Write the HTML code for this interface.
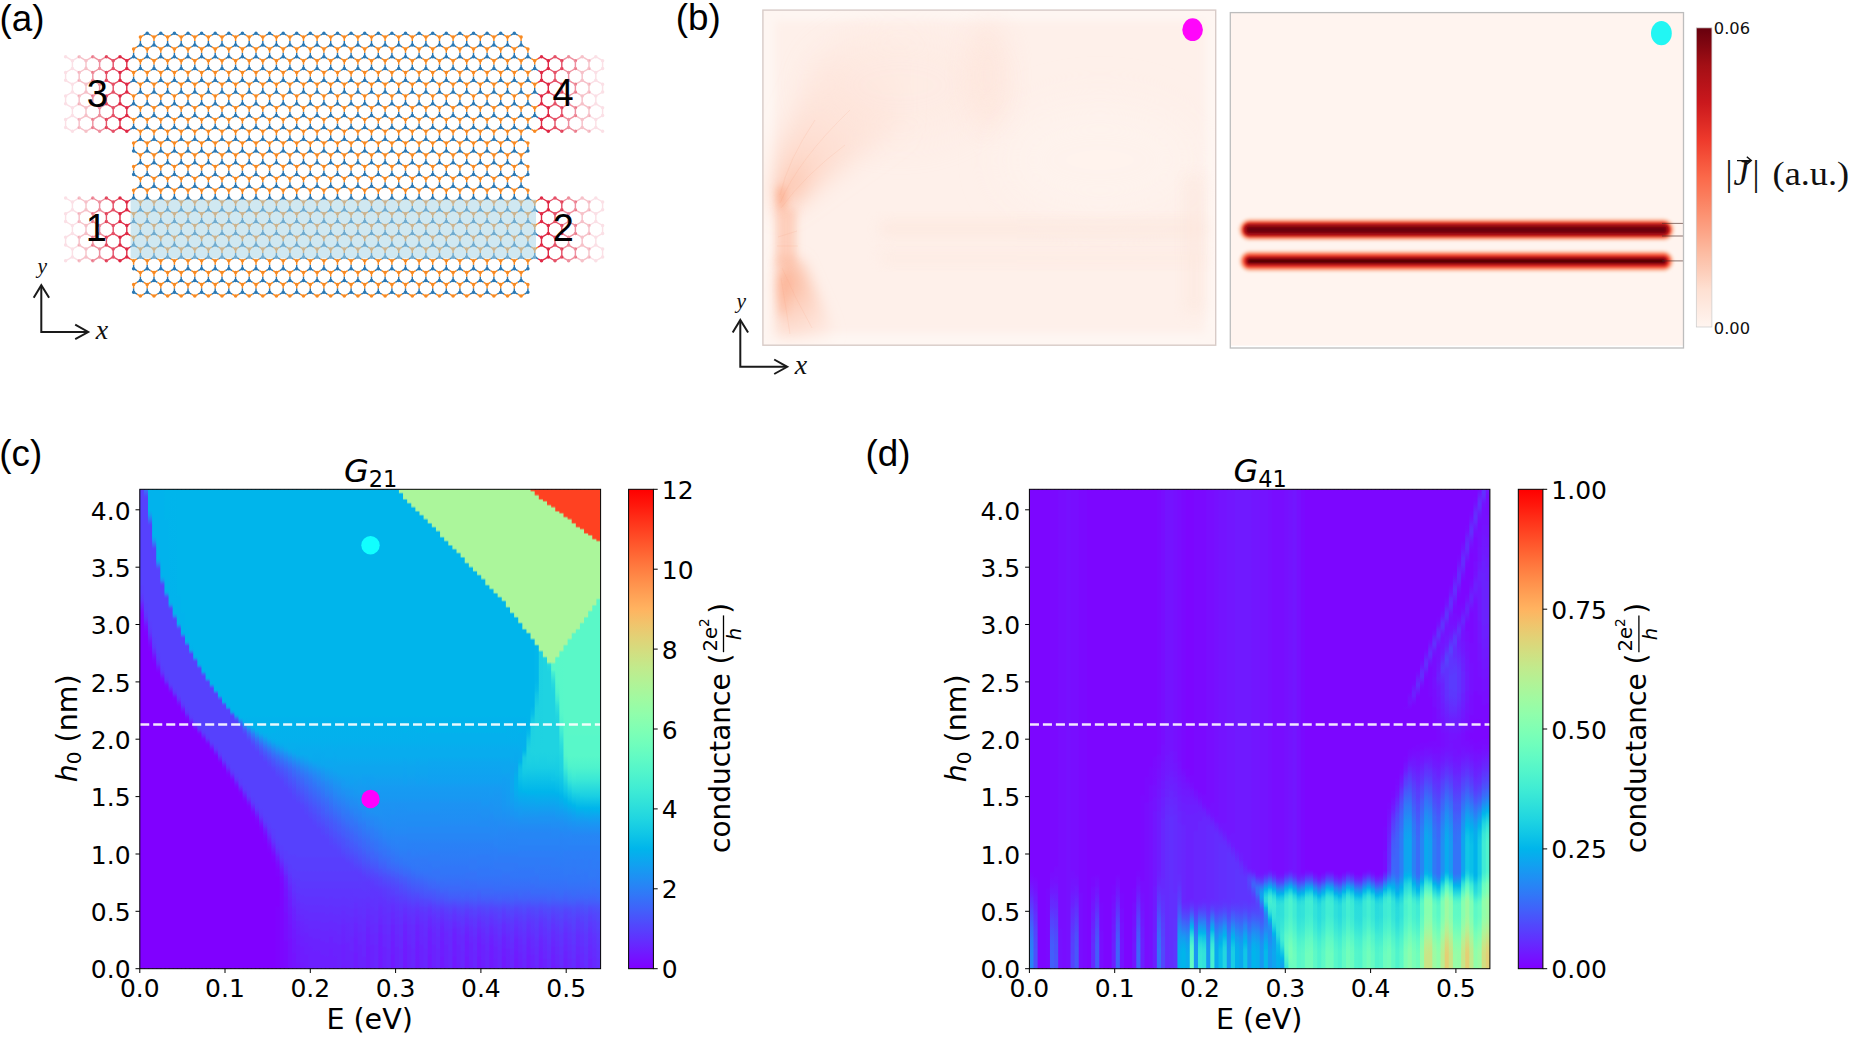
<!DOCTYPE html>
<html><head><meta charset="utf-8"><title>figure</title>
<style>html,body{margin:0;padding:0;background:#fff}svg{display:block}</style></head>
<body><svg width="1851" height="1037" viewBox="0 0 1851 1037">
<defs><filter id="lb" x="0" y="0" width="100%" height="100%" filterUnits="userSpaceOnUse"><feGaussianBlur stdDeviation="0.7"/></filter>
<filter id="bl12" x="-50%" y="-50%" width="200%" height="200%"><feGaussianBlur stdDeviation="12"/></filter>
<filter id="bl7" x="-50%" y="-50%" width="200%" height="200%"><feGaussianBlur stdDeviation="7"/></filter>
<filter id="bl20" x="-50%" y="-50%" width="200%" height="200%"><feGaussianBlur stdDeviation="20"/></filter>
<filter id="bl4" x="-100%" y="-50%" width="300%" height="200%"><feGaussianBlur stdDeviation="4"/></filter>
<radialGradient id="rgA" gradientUnits="userSpaceOnUse" cx="780" cy="200" r="170"><stop offset="0" stop-color="#fc9a74" stop-opacity="0.95"/><stop offset="0.08" stop-color="#fcae8e" stop-opacity="0.8"/><stop offset="0.25" stop-color="#fdc4ad" stop-opacity="0.55"/><stop offset="0.55" stop-color="#fdd3c3" stop-opacity="0.4"/><stop offset="1" stop-color="#fee0d4" stop-opacity="0.15"/></radialGradient>
<radialGradient id="rgB" gradientUnits="userSpaceOnUse" cx="781" cy="282" r="80"><stop offset="0" stop-color="#fca27e" stop-opacity="0.85"/><stop offset="0.3" stop-color="#fcb89c" stop-opacity="0.65"/><stop offset="0.7" stop-color="#fdd0be" stop-opacity="0.4"/><stop offset="1" stop-color="#fee0d4" stop-opacity="0"/></radialGradient>
<filter id="bl1" x="-5%" y="-50%" width="110%" height="200%"><feGaussianBlur stdDeviation="0.9"/></filter>
<clipPath id="clL"><rect x="763.5" y="10.7" width="451.6" height="333.9"/></clipPath>
<linearGradient id="cbReds" x1="0" y1="0" x2="0" y2="1"><stop offset="0" stop-color="#67000d"/><stop offset="0.0625" stop-color="#840711"/><stop offset="0.125" stop-color="#a30f15"/><stop offset="0.1875" stop-color="#b71319"/><stop offset="0.25" stop-color="#ca181d"/><stop offset="0.3125" stop-color="#dc2924"/><stop offset="0.375" stop-color="#ee3a2c"/><stop offset="0.4375" stop-color="#f5523a"/><stop offset="0.5" stop-color="#fb694a"/><stop offset="0.5625" stop-color="#fb7d5d"/><stop offset="0.625" stop-color="#fc9272"/><stop offset="0.6875" stop-color="#fca689"/><stop offset="0.75" stop-color="#fcbba1"/><stop offset="0.8125" stop-color="#fdcdb9"/><stop offset="0.875" stop-color="#fee0d2"/><stop offset="0.9375" stop-color="#feeae1"/><stop offset="1" stop-color="#fff5f0"/></linearGradient>
<linearGradient id="c0" x2="0" y2="1"><stop offset=".002" stop-color="#5641fd"/><stop offset=".198" stop-color="#5641fd"/><stop offset=".202" stop-color="#583efd"/><stop offset=".215" stop-color="#583efd"/><stop offset=".231" stop-color="#6032fe"/><stop offset=".235" stop-color="#642cfe"/><stop offset=".24" stop-color="#6a22fe"/><stop offset=".256" stop-color="#7a09ff"/><stop offset=".265" stop-color="#7e03ff"/><stop offset=".269" stop-color="#7e03ff"/><stop offset=".273" stop-color="#8000ff"/><stop offset=".998" stop-color="#8000ff"/></linearGradient><linearGradient id="c1" x2="0" y2="1"><stop offset=".002" stop-color="#3670f8"/><stop offset=".015" stop-color="#5247fc"/><stop offset=".019" stop-color="#5641fd"/><stop offset=".235" stop-color="#5641fd"/><stop offset=".24" stop-color="#583efd"/><stop offset=".252" stop-color="#583efd"/><stop offset=".265" stop-color="#5e35fe"/><stop offset=".273" stop-color="#6629fe"/><stop offset=".285" stop-color="#7610ff"/><stop offset=".298" stop-color="#7e03ff"/><stop offset=".302" stop-color="#7e03ff"/><stop offset=".306" stop-color="#8000ff"/><stop offset=".998" stop-color="#8000ff"/></linearGradient><linearGradient id="c2" x2="0" y2="1"><stop offset=".002" stop-color="#01b3ec"/><stop offset=".044" stop-color="#01b3ec"/><stop offset=".052" stop-color="#10a2f0"/><stop offset=".056" stop-color="#1c93f3"/><stop offset=".069" stop-color="#4659fb"/><stop offset=".073" stop-color="#5247fc"/><stop offset=".077" stop-color="#5641fd"/><stop offset=".273" stop-color="#5641fd"/><stop offset=".277" stop-color="#583efd"/><stop offset=".285" stop-color="#583efd"/><stop offset=".298" stop-color="#5e35fe"/><stop offset=".306" stop-color="#6629fe"/><stop offset=".319" stop-color="#7610ff"/><stop offset=".331" stop-color="#7e03ff"/><stop offset=".335" stop-color="#7e03ff"/><stop offset=".34" stop-color="#8000ff"/><stop offset=".998" stop-color="#8000ff"/></linearGradient><linearGradient id="c3" x2="0" y2="1"><stop offset=".002" stop-color="#01b3ec"/><stop offset=".094" stop-color="#01b3ec"/><stop offset=".098" stop-color="#04b0ed"/><stop offset=".102" stop-color="#09a9ee"/><stop offset=".106" stop-color="#169bf2"/><stop offset=".11" stop-color="#2489f5"/><stop offset=".123" stop-color="#5247fc"/><stop offset=".127" stop-color="#5641fd"/><stop offset=".306" stop-color="#5641fd"/><stop offset=".31" stop-color="#583efd"/><stop offset=".319" stop-color="#583efd"/><stop offset=".331" stop-color="#5e35fe"/><stop offset=".335" stop-color="#642cfe"/><stop offset=".34" stop-color="#6826fe"/><stop offset=".348" stop-color="#7413ff"/><stop offset=".356" stop-color="#7c06ff"/><stop offset=".365" stop-color="#8000ff"/><stop offset=".998" stop-color="#8000ff"/></linearGradient><linearGradient id="c4" x2="0" y2="1"><stop offset=".002" stop-color="#01b3ec"/><stop offset=".144" stop-color="#01b3ec"/><stop offset=".148" stop-color="#09a9ee"/><stop offset=".152" stop-color="#1898f2"/><stop offset=".156" stop-color="#2981f6"/><stop offset=".165" stop-color="#504afc"/><stop offset=".169" stop-color="#5641fd"/><stop offset=".34" stop-color="#5641fd"/><stop offset=".344" stop-color="#583efd"/><stop offset=".348" stop-color="#583efd"/><stop offset=".356" stop-color="#5c38fd"/><stop offset=".36" stop-color="#6032fe"/><stop offset=".365" stop-color="#6629fe"/><stop offset=".369" stop-color="#6e1cff"/><stop offset=".377" stop-color="#7a09ff"/><stop offset=".381" stop-color="#7e03ff"/><stop offset=".385" stop-color="#8000ff"/><stop offset=".998" stop-color="#8000ff"/></linearGradient><linearGradient id="c5" x2="0" y2="1"><stop offset=".002" stop-color="#01b3ec"/><stop offset=".181" stop-color="#01b3ec"/><stop offset=".185" stop-color="#0ca7ef"/><stop offset=".19" stop-color="#1e91f3"/><stop offset=".198" stop-color="#4e4dfc"/><stop offset=".202" stop-color="#5641fd"/><stop offset=".365" stop-color="#5641fd"/><stop offset=".377" stop-color="#5a3bfd"/><stop offset=".381" stop-color="#5e35fe"/><stop offset=".385" stop-color="#642cfe"/><stop offset=".394" stop-color="#780dff"/><stop offset=".402" stop-color="#8000ff"/><stop offset=".998" stop-color="#8000ff"/></linearGradient><linearGradient id="c6" x2="0" y2="1"><stop offset=".002" stop-color="#00b5eb"/><stop offset=".06" stop-color="#00b5eb"/><stop offset=".065" stop-color="#01b3ec"/><stop offset=".21" stop-color="#01b3ec"/><stop offset=".215" stop-color="#0ca7ef"/><stop offset=".219" stop-color="#2686f5"/><stop offset=".223" stop-color="#445cfb"/><stop offset=".227" stop-color="#5641fd"/><stop offset=".385" stop-color="#5641fd"/><stop offset=".394" stop-color="#5a3bfd"/><stop offset=".398" stop-color="#5e35fe"/><stop offset=".402" stop-color="#6629fe"/><stop offset=".406" stop-color="#7413ff"/><stop offset=".41" stop-color="#7c06ff"/><stop offset=".415" stop-color="#8000ff"/><stop offset=".998" stop-color="#8000ff"/></linearGradient><linearGradient id="c7" x2="0" y2="1"><stop offset=".002" stop-color="#00b5eb"/><stop offset=".235" stop-color="#01b3ec"/><stop offset=".24" stop-color="#10a2f0"/><stop offset=".244" stop-color="#2e7bf7"/><stop offset=".248" stop-color="#4e4dfc"/><stop offset=".252" stop-color="#5641fd"/><stop offset=".402" stop-color="#5641fd"/><stop offset=".406" stop-color="#583efd"/><stop offset=".41" stop-color="#5c38fd"/><stop offset=".423" stop-color="#7c06ff"/><stop offset=".427" stop-color="#8000ff"/><stop offset=".998" stop-color="#8000ff"/></linearGradient><linearGradient id="c8" x2="0" y2="1"><stop offset=".002" stop-color="#00b5eb"/><stop offset=".256" stop-color="#01b3ec"/><stop offset=".26" stop-color="#08acee"/><stop offset=".265" stop-color="#2489f5"/><stop offset=".269" stop-color="#4856fb"/><stop offset=".273" stop-color="#5641fd"/><stop offset=".415" stop-color="#5641fd"/><stop offset=".419" stop-color="#583efd"/><stop offset=".423" stop-color="#5c38fd"/><stop offset=".427" stop-color="#642cfe"/><stop offset=".431" stop-color="#7216ff"/><stop offset=".435" stop-color="#7c06ff"/><stop offset=".44" stop-color="#8000ff"/><stop offset=".998" stop-color="#8000ff"/></linearGradient><linearGradient id="c9" x2="0" y2="1"><stop offset=".002" stop-color="#00b5eb"/><stop offset=".219" stop-color="#00b5eb"/><stop offset=".223" stop-color="#01b3ec"/><stop offset=".277" stop-color="#01b3ec"/><stop offset=".281" stop-color="#08acee"/><stop offset=".285" stop-color="#2686f5"/><stop offset=".29" stop-color="#4c50fc"/><stop offset=".294" stop-color="#5641fd"/><stop offset=".427" stop-color="#5641fd"/><stop offset=".431" stop-color="#583efd"/><stop offset=".435" stop-color="#5c38fd"/><stop offset=".44" stop-color="#642cfe"/><stop offset=".444" stop-color="#7019ff"/><stop offset=".448" stop-color="#780dff"/><stop offset=".452" stop-color="#7e03ff"/><stop offset=".456" stop-color="#8000ff"/><stop offset=".998" stop-color="#8000ff"/></linearGradient><linearGradient id="c10" x2="0" y2="1"><stop offset=".002" stop-color="#00b5eb"/><stop offset=".256" stop-color="#00b5eb"/><stop offset=".26" stop-color="#01b3ec"/><stop offset=".298" stop-color="#01b3ec"/><stop offset=".302" stop-color="#10a2f0"/><stop offset=".306" stop-color="#386df9"/><stop offset=".31" stop-color="#5641fd"/><stop offset=".44" stop-color="#5641fd"/><stop offset=".448" stop-color="#5a3bfd"/><stop offset=".452" stop-color="#6032fe"/><stop offset=".46" stop-color="#7413ff"/><stop offset=".465" stop-color="#7c06ff"/><stop offset=".469" stop-color="#8000ff"/><stop offset=".998" stop-color="#8000ff"/></linearGradient><linearGradient id="c11" x2="0" y2="1"><stop offset=".002" stop-color="#00b5eb"/><stop offset=".29" stop-color="#00b5eb"/><stop offset=".294" stop-color="#01b3ec"/><stop offset=".315" stop-color="#01b3ec"/><stop offset=".319" stop-color="#09a9ee"/><stop offset=".323" stop-color="#2e7bf7"/><stop offset=".327" stop-color="#5641fd"/><stop offset=".452" stop-color="#5641fd"/><stop offset=".456" stop-color="#583efd"/><stop offset=".46" stop-color="#583efd"/><stop offset=".465" stop-color="#5c38fd"/><stop offset=".469" stop-color="#642cfe"/><stop offset=".473" stop-color="#7216ff"/><stop offset=".477" stop-color="#7a09ff"/><stop offset=".481" stop-color="#7e03ff"/><stop offset=".485" stop-color="#8000ff"/><stop offset=".998" stop-color="#8000ff"/></linearGradient><linearGradient id="c12" x2="0" y2="1"><stop offset=".002" stop-color="#00b5eb"/><stop offset=".323" stop-color="#00b5eb"/><stop offset=".331" stop-color="#01b3ec"/><stop offset=".335" stop-color="#08acee"/><stop offset=".34" stop-color="#3176f8"/><stop offset=".344" stop-color="#5641fd"/><stop offset=".469" stop-color="#5641fd"/><stop offset=".477" stop-color="#5a3bfd"/><stop offset=".481" stop-color="#642cfe"/><stop offset=".49" stop-color="#7c06ff"/><stop offset=".494" stop-color="#8000ff"/><stop offset=".998" stop-color="#8000ff"/></linearGradient><linearGradient id="c13" x2="0" y2="1"><stop offset=".002" stop-color="#00b5eb"/><stop offset=".348" stop-color="#00b5eb"/><stop offset=".352" stop-color="#10a2f0"/><stop offset=".356" stop-color="#3e65fa"/><stop offset=".36" stop-color="#5641fd"/><stop offset=".481" stop-color="#5641fd"/><stop offset=".485" stop-color="#583efd"/><stop offset=".49" stop-color="#5c38fd"/><stop offset=".494" stop-color="#6826fe"/><stop offset=".498" stop-color="#7610ff"/><stop offset=".502" stop-color="#7e03ff"/><stop offset=".506" stop-color="#8000ff"/><stop offset=".998" stop-color="#8000ff"/></linearGradient><linearGradient id="c14" x2="0" y2="1"><stop offset=".002" stop-color="#00b5eb"/><stop offset=".36" stop-color="#00b5eb"/><stop offset=".365" stop-color="#01b3ec"/><stop offset=".369" stop-color="#208ef4"/><stop offset=".373" stop-color="#504afc"/><stop offset=".377" stop-color="#5641fd"/><stop offset=".494" stop-color="#5641fd"/><stop offset=".498" stop-color="#5a3bfd"/><stop offset=".502" stop-color="#6032fe"/><stop offset=".506" stop-color="#7019ff"/><stop offset=".51" stop-color="#7c06ff"/><stop offset=".515" stop-color="#8000ff"/><stop offset=".998" stop-color="#8000ff"/></linearGradient><linearGradient id="c15" x2="0" y2="1"><stop offset=".002" stop-color="#00b5eb"/><stop offset=".377" stop-color="#00b5eb"/><stop offset=".381" stop-color="#09a9ee"/><stop offset=".385" stop-color="#396bf9"/><stop offset=".39" stop-color="#5641fd"/><stop offset=".502" stop-color="#5641fd"/><stop offset=".506" stop-color="#583efd"/><stop offset=".51" stop-color="#5e35fe"/><stop offset=".515" stop-color="#6a22fe"/><stop offset=".519" stop-color="#780dff"/><stop offset=".523" stop-color="#7e03ff"/><stop offset=".527" stop-color="#8000ff"/><stop offset=".998" stop-color="#8000ff"/></linearGradient><linearGradient id="c16" x2="0" y2="1"><stop offset=".002" stop-color="#00b5eb"/><stop offset=".39" stop-color="#00b5eb"/><stop offset=".394" stop-color="#01b3ec"/><stop offset=".398" stop-color="#2c7ef7"/><stop offset=".402" stop-color="#5641fd"/><stop offset=".51" stop-color="#5641fd"/><stop offset=".519" stop-color="#5a3bfd"/><stop offset=".523" stop-color="#642cfe"/><stop offset=".527" stop-color="#7216ff"/><stop offset=".531" stop-color="#7c06ff"/><stop offset=".535" stop-color="#8000ff"/><stop offset=".998" stop-color="#8000ff"/></linearGradient><linearGradient id="c17" x2="0" y2="1"><stop offset=".002" stop-color="#00b5eb"/><stop offset=".402" stop-color="#00b5eb"/><stop offset=".406" stop-color="#01b3ec"/><stop offset=".41" stop-color="#2981f6"/><stop offset=".415" stop-color="#5641fd"/><stop offset=".523" stop-color="#5641fd"/><stop offset=".527" stop-color="#583efd"/><stop offset=".531" stop-color="#5c38fd"/><stop offset=".54" stop-color="#7413ff"/><stop offset=".544" stop-color="#7c06ff"/><stop offset=".548" stop-color="#8000ff"/><stop offset=".998" stop-color="#8000ff"/></linearGradient><linearGradient id="c18" x2="0" y2="1"><stop offset=".002" stop-color="#00b5eb"/><stop offset=".415" stop-color="#00b5eb"/><stop offset=".419" stop-color="#01b3ec"/><stop offset=".423" stop-color="#2e7bf7"/><stop offset=".427" stop-color="#5641fd"/><stop offset=".531" stop-color="#5641fd"/><stop offset=".54" stop-color="#5a3bfd"/><stop offset=".544" stop-color="#6032fe"/><stop offset=".548" stop-color="#6a22fe"/><stop offset=".552" stop-color="#7610ff"/><stop offset=".556" stop-color="#7e03ff"/><stop offset=".56" stop-color="#8000ff"/><stop offset=".998" stop-color="#8000ff"/></linearGradient><linearGradient id="c19" x2="0" y2="1"><stop offset=".002" stop-color="#00b5eb"/><stop offset=".427" stop-color="#00b5eb"/><stop offset=".431" stop-color="#04b0ed"/><stop offset=".435" stop-color="#3670f8"/><stop offset=".44" stop-color="#5641fd"/><stop offset=".544" stop-color="#5641fd"/><stop offset=".552" stop-color="#5a3bfd"/><stop offset=".556" stop-color="#6032fe"/><stop offset=".565" stop-color="#7610ff"/><stop offset=".569" stop-color="#7e03ff"/><stop offset=".573" stop-color="#8000ff"/><stop offset=".998" stop-color="#8000ff"/></linearGradient><linearGradient id="c20" x2="0" y2="1"><stop offset=".002" stop-color="#00b5eb"/><stop offset=".44" stop-color="#00b5eb"/><stop offset=".444" stop-color="#08acee"/><stop offset=".448" stop-color="#4062fa"/><stop offset=".452" stop-color="#5641fd"/><stop offset=".556" stop-color="#5641fd"/><stop offset=".565" stop-color="#5a3bfd"/><stop offset=".569" stop-color="#622ffe"/><stop offset=".577" stop-color="#7610ff"/><stop offset=".581" stop-color="#7c06ff"/><stop offset=".585" stop-color="#8000ff"/><stop offset=".998" stop-color="#8000ff"/></linearGradient><linearGradient id="c21" x2="0" y2="1"><stop offset=".002" stop-color="#00b5eb"/><stop offset=".452" stop-color="#00b5eb"/><stop offset=".456" stop-color="#1996f3"/><stop offset=".46" stop-color="#5444fd"/><stop offset=".465" stop-color="#5641fd"/><stop offset=".569" stop-color="#5641fd"/><stop offset=".573" stop-color="#583efd"/><stop offset=".577" stop-color="#5c38fd"/><stop offset=".581" stop-color="#622ffe"/><stop offset=".59" stop-color="#7610ff"/><stop offset=".594" stop-color="#7c06ff"/><stop offset=".602" stop-color="#8000ff"/><stop offset=".998" stop-color="#8000ff"/></linearGradient><linearGradient id="c22" x2="0" y2="1"><stop offset=".002" stop-color="#00b5eb"/><stop offset=".46" stop-color="#00b5eb"/><stop offset=".465" stop-color="#11a0f1"/><stop offset=".469" stop-color="#3e65fa"/><stop offset=".473" stop-color="#5641fd"/><stop offset=".581" stop-color="#5641fd"/><stop offset=".585" stop-color="#583efd"/><stop offset=".59" stop-color="#5c38fd"/><stop offset=".594" stop-color="#622ffe"/><stop offset=".598" stop-color="#6c1fff"/><stop offset=".606" stop-color="#7c06ff"/><stop offset=".615" stop-color="#8000ff"/><stop offset=".998" stop-color="#8000ff"/></linearGradient><linearGradient id="c23" x2="0" y2="1"><stop offset=".002" stop-color="#00b5eb"/><stop offset=".469" stop-color="#00b5eb"/><stop offset=".473" stop-color="#149df1"/><stop offset=".477" stop-color="#3473f8"/><stop offset=".481" stop-color="#4c50fc"/><stop offset=".485" stop-color="#5641fd"/><stop offset=".59" stop-color="#5641fd"/><stop offset=".594" stop-color="#583efd"/><stop offset=".598" stop-color="#583efd"/><stop offset=".606" stop-color="#6032fe"/><stop offset=".615" stop-color="#7413ff"/><stop offset=".619" stop-color="#7a09ff"/><stop offset=".623" stop-color="#7e03ff"/><stop offset=".627" stop-color="#8000ff"/><stop offset=".998" stop-color="#8000ff"/></linearGradient><linearGradient id="c24" x2="0" y2="1"><stop offset=".002" stop-color="#00b5eb"/><stop offset=".473" stop-color="#00b5eb"/><stop offset=".477" stop-color="#01b3ec"/><stop offset=".481" stop-color="#149df1"/><stop offset=".485" stop-color="#2c7ef7"/><stop offset=".49" stop-color="#4062fa"/><stop offset=".494" stop-color="#4e4dfc"/><stop offset=".498" stop-color="#5641fd"/><stop offset=".602" stop-color="#5641fd"/><stop offset=".606" stop-color="#583efd"/><stop offset=".61" stop-color="#583efd"/><stop offset=".615" stop-color="#5a3bfd"/><stop offset=".619" stop-color="#6032fe"/><stop offset=".631" stop-color="#7a09ff"/><stop offset=".635" stop-color="#7e03ff"/><stop offset=".64" stop-color="#8000ff"/><stop offset=".998" stop-color="#8000ff"/></linearGradient><linearGradient id="c25" x2="0" y2="1"><stop offset=".002" stop-color="#00b5eb"/><stop offset=".473" stop-color="#00b5eb"/><stop offset=".485" stop-color="#04b0ed"/><stop offset=".49" stop-color="#169bf2"/><stop offset=".494" stop-color="#2981f6"/><stop offset=".498" stop-color="#396bf9"/><stop offset=".502" stop-color="#4659fb"/><stop offset=".51" stop-color="#5444fd"/><stop offset=".515" stop-color="#5641fd"/><stop offset=".615" stop-color="#5641fd"/><stop offset=".619" stop-color="#583efd"/><stop offset=".623" stop-color="#583efd"/><stop offset=".627" stop-color="#5a3bfd"/><stop offset=".631" stop-color="#6032fe"/><stop offset=".644" stop-color="#780dff"/><stop offset=".648" stop-color="#7c06ff"/><stop offset=".656" stop-color="#8000ff"/><stop offset=".998" stop-color="#8000ff"/></linearGradient><linearGradient id="c26" x2="0" y2="1"><stop offset=".002" stop-color="#00b5eb"/><stop offset=".473" stop-color="#00b5eb"/><stop offset=".477" stop-color="#01b3ec"/><stop offset=".49" stop-color="#01b3ec"/><stop offset=".494" stop-color="#09a9ee"/><stop offset=".502" stop-color="#2981f6"/><stop offset=".51" stop-color="#4062fa"/><stop offset=".515" stop-color="#4856fb"/><stop offset=".523" stop-color="#5444fd"/><stop offset=".527" stop-color="#5641fd"/><stop offset=".627" stop-color="#5641fd"/><stop offset=".631" stop-color="#583efd"/><stop offset=".635" stop-color="#583efd"/><stop offset=".64" stop-color="#5a3bfd"/><stop offset=".648" stop-color="#6629fe"/><stop offset=".652" stop-color="#7019ff"/><stop offset=".66" stop-color="#7c06ff"/><stop offset=".669" stop-color="#8000ff"/><stop offset=".998" stop-color="#8000ff"/></linearGradient><linearGradient id="c27" x2="0" y2="1"><stop offset=".002" stop-color="#00b5eb"/><stop offset=".473" stop-color="#00b5eb"/><stop offset=".477" stop-color="#01b3ec"/><stop offset=".494" stop-color="#01b3ec"/><stop offset=".498" stop-color="#06aeed"/><stop offset=".506" stop-color="#1e91f3"/><stop offset=".51" stop-color="#2c7ef7"/><stop offset=".515" stop-color="#3670f8"/><stop offset=".523" stop-color="#4659fb"/><stop offset=".527" stop-color="#4c50fc"/><stop offset=".535" stop-color="#5444fd"/><stop offset=".54" stop-color="#5641fd"/><stop offset=".64" stop-color="#5641fd"/><stop offset=".644" stop-color="#583efd"/><stop offset=".648" stop-color="#583efd"/><stop offset=".652" stop-color="#5a3bfd"/><stop offset=".656" stop-color="#5e35fe"/><stop offset=".665" stop-color="#6e1cff"/><stop offset=".673" stop-color="#7a09ff"/><stop offset=".685" stop-color="#8000ff"/><stop offset=".998" stop-color="#8000ff"/></linearGradient><linearGradient id="c28" x2="0" y2="1"><stop offset=".002" stop-color="#00b5eb"/><stop offset=".473" stop-color="#00b5eb"/><stop offset=".477" stop-color="#01b3ec"/><stop offset=".498" stop-color="#01b3ec"/><stop offset=".502" stop-color="#04b0ed"/><stop offset=".506" stop-color="#0ca7ef"/><stop offset=".515" stop-color="#218cf4"/><stop offset=".519" stop-color="#2e7bf7"/><stop offset=".527" stop-color="#3e65fa"/><stop offset=".535" stop-color="#4a53fb"/><stop offset=".548" stop-color="#5641fd"/><stop offset=".652" stop-color="#5641fd"/><stop offset=".656" stop-color="#583efd"/><stop offset=".66" stop-color="#583efd"/><stop offset=".665" stop-color="#5a3bfd"/><stop offset=".669" stop-color="#5e35fe"/><stop offset=".677" stop-color="#6a22fe"/><stop offset=".681" stop-color="#7216ff"/><stop offset=".685" stop-color="#780dff"/><stop offset=".69" stop-color="#7c06ff"/><stop offset=".702" stop-color="#8000ff"/><stop offset=".998" stop-color="#8000ff"/></linearGradient><linearGradient id="c29" x2="0" y2="1"><stop offset=".002" stop-color="#00b5eb"/><stop offset=".473" stop-color="#00b5eb"/><stop offset=".477" stop-color="#01b3ec"/><stop offset=".502" stop-color="#01b3ec"/><stop offset=".51" stop-color="#08acee"/><stop offset=".523" stop-color="#2686f5"/><stop offset=".535" stop-color="#3e65fa"/><stop offset=".548" stop-color="#4e4dfc"/><stop offset=".552" stop-color="#504afc"/><stop offset=".556" stop-color="#5444fd"/><stop offset=".56" stop-color="#5641fd"/><stop offset=".665" stop-color="#5641fd"/><stop offset=".669" stop-color="#583efd"/><stop offset=".673" stop-color="#583efd"/><stop offset=".681" stop-color="#5c38fd"/><stop offset=".685" stop-color="#6032fe"/><stop offset=".698" stop-color="#7413ff"/><stop offset=".706" stop-color="#7c06ff"/><stop offset=".719" stop-color="#8000ff"/><stop offset=".998" stop-color="#8000ff"/></linearGradient><linearGradient id="c30" x2="0" y2="1"><stop offset=".002" stop-color="#00b5eb"/><stop offset=".473" stop-color="#00b5eb"/><stop offset=".477" stop-color="#01b3ec"/><stop offset=".506" stop-color="#01b3ec"/><stop offset=".515" stop-color="#08acee"/><stop offset=".527" stop-color="#208ef4"/><stop offset=".54" stop-color="#386df9"/><stop offset=".548" stop-color="#445cfb"/><stop offset=".56" stop-color="#504afc"/><stop offset=".565" stop-color="#5247fc"/><stop offset=".569" stop-color="#5641fd"/><stop offset=".681" stop-color="#5641fd"/><stop offset=".685" stop-color="#583efd"/><stop offset=".69" stop-color="#583efd"/><stop offset=".694" stop-color="#5a3bfd"/><stop offset=".702" stop-color="#622ffe"/><stop offset=".71" stop-color="#6e1cff"/><stop offset=".723" stop-color="#7a09ff"/><stop offset=".731" stop-color="#7e03ff"/><stop offset=".735" stop-color="#7e03ff"/><stop offset=".74" stop-color="#8000ff"/><stop offset=".998" stop-color="#8000ff"/></linearGradient><linearGradient id="c31" x2="0" y2="1"><stop offset=".002" stop-color="#00b5eb"/><stop offset=".473" stop-color="#00b5eb"/><stop offset=".477" stop-color="#01b3ec"/><stop offset=".506" stop-color="#01b3ec"/><stop offset=".519" stop-color="#06aeed"/><stop offset=".523" stop-color="#0ca7ef"/><stop offset=".544" stop-color="#3473f8"/><stop offset=".552" stop-color="#4062fa"/><stop offset=".569" stop-color="#504afc"/><stop offset=".581" stop-color="#5641fd"/><stop offset=".694" stop-color="#5641fd"/><stop offset=".698" stop-color="#583efd"/><stop offset=".702" stop-color="#583efd"/><stop offset=".715" stop-color="#5e35fe"/><stop offset=".74" stop-color="#780dff"/><stop offset=".752" stop-color="#7e03ff"/><stop offset=".756" stop-color="#7e03ff"/><stop offset=".76" stop-color="#8000ff"/><stop offset=".998" stop-color="#8000ff"/></linearGradient><linearGradient id="c32" x2="0" y2="1"><stop offset=".002" stop-color="#00b5eb"/><stop offset=".473" stop-color="#00b5eb"/><stop offset=".477" stop-color="#01b3ec"/><stop offset=".506" stop-color="#01b3ec"/><stop offset=".51" stop-color="#04b0ed"/><stop offset=".519" stop-color="#04b0ed"/><stop offset=".527" stop-color="#09a9ee"/><stop offset=".548" stop-color="#3079f7"/><stop offset=".565" stop-color="#4659fb"/><stop offset=".577" stop-color="#4e4dfc"/><stop offset=".581" stop-color="#5247fc"/><stop offset=".59" stop-color="#5641fd"/><stop offset=".706" stop-color="#5641fd"/><stop offset=".71" stop-color="#583efd"/><stop offset=".719" stop-color="#583efd"/><stop offset=".723" stop-color="#5a3bfd"/><stop offset=".727" stop-color="#5a3bfd"/><stop offset=".731" stop-color="#5e35fe"/><stop offset=".735" stop-color="#6032fe"/><stop offset=".756" stop-color="#7610ff"/><stop offset=".76" stop-color="#780dff"/><stop offset=".765" stop-color="#7c06ff"/><stop offset=".777" stop-color="#7e03ff"/><stop offset=".781" stop-color="#8000ff"/><stop offset=".998" stop-color="#8000ff"/></linearGradient><linearGradient id="c33" x2="0" y2="1"><stop offset=".002" stop-color="#00b5eb"/><stop offset=".473" stop-color="#00b5eb"/><stop offset=".477" stop-color="#01b3ec"/><stop offset=".523" stop-color="#04b0ed"/><stop offset=".531" stop-color="#09a9ee"/><stop offset=".535" stop-color="#10a2f0"/><stop offset=".552" stop-color="#2c7ef7"/><stop offset=".556" stop-color="#3473f8"/><stop offset=".565" stop-color="#3e65fa"/><stop offset=".581" stop-color="#4c50fc"/><stop offset=".602" stop-color="#5641fd"/><stop offset=".727" stop-color="#5641fd"/><stop offset=".748" stop-color="#5c38fd"/><stop offset=".752" stop-color="#6032fe"/><stop offset=".756" stop-color="#622ffe"/><stop offset=".769" stop-color="#7019ff"/><stop offset=".773" stop-color="#7216ff"/><stop offset=".777" stop-color="#7610ff"/><stop offset=".794" stop-color="#7e03ff"/><stop offset=".806" stop-color="#7e03ff"/><stop offset=".81" stop-color="#8000ff"/><stop offset=".869" stop-color="#8000ff"/><stop offset=".873" stop-color="#7e03ff"/><stop offset=".998" stop-color="#7e03ff"/></linearGradient><linearGradient id="c34" x2="0" y2="1"><stop offset=".002" stop-color="#00b5eb"/><stop offset=".473" stop-color="#00b5eb"/><stop offset=".477" stop-color="#01b3ec"/><stop offset=".527" stop-color="#04b0ed"/><stop offset=".535" stop-color="#09a9ee"/><stop offset=".544" stop-color="#169bf2"/><stop offset=".548" stop-color="#1e91f3"/><stop offset=".565" stop-color="#3670f8"/><stop offset=".581" stop-color="#4659fb"/><stop offset=".59" stop-color="#4c50fc"/><stop offset=".61" stop-color="#5641fd"/><stop offset=".74" stop-color="#5641fd"/><stop offset=".744" stop-color="#583efd"/><stop offset=".752" stop-color="#583efd"/><stop offset=".756" stop-color="#5a3bfd"/><stop offset=".76" stop-color="#5a3bfd"/><stop offset=".769" stop-color="#5e35fe"/><stop offset=".794" stop-color="#7216ff"/><stop offset=".81" stop-color="#7a09ff"/><stop offset=".819" stop-color="#7a09ff"/><stop offset=".823" stop-color="#7c06ff"/><stop offset=".998" stop-color="#7c06ff"/></linearGradient><linearGradient id="c35" x2="0" y2="1"><stop offset=".002" stop-color="#00b5eb"/><stop offset=".473" stop-color="#00b5eb"/><stop offset=".477" stop-color="#01b3ec"/><stop offset=".527" stop-color="#04b0ed"/><stop offset=".535" stop-color="#06aeed"/><stop offset=".544" stop-color="#0ea5ef"/><stop offset=".548" stop-color="#169bf2"/><stop offset=".569" stop-color="#3473f8"/><stop offset=".585" stop-color="#445cfb"/><stop offset=".606" stop-color="#504afc"/><stop offset=".61" stop-color="#504afc"/><stop offset=".623" stop-color="#5641fd"/><stop offset=".752" stop-color="#5641fd"/><stop offset=".756" stop-color="#583efd"/><stop offset=".769" stop-color="#583efd"/><stop offset=".773" stop-color="#5a3bfd"/><stop offset=".777" stop-color="#5a3bfd"/><stop offset=".802" stop-color="#6629fe"/><stop offset=".806" stop-color="#6a22fe"/><stop offset=".819" stop-color="#7019ff"/><stop offset=".831" stop-color="#7216ff"/><stop offset=".835" stop-color="#7413ff"/><stop offset=".848" stop-color="#7413ff"/><stop offset=".852" stop-color="#7610ff"/><stop offset=".881" stop-color="#7610ff"/><stop offset=".885" stop-color="#780dff"/><stop offset=".94" stop-color="#780dff"/><stop offset=".944" stop-color="#7a09ff"/><stop offset=".998" stop-color="#7a09ff"/></linearGradient><linearGradient id="c36" x2="0" y2="1"><stop offset=".002" stop-color="#00b5eb"/><stop offset=".473" stop-color="#00b5eb"/><stop offset=".477" stop-color="#01b3ec"/><stop offset=".527" stop-color="#04b0ed"/><stop offset=".531" stop-color="#06aeed"/><stop offset=".54" stop-color="#06aeed"/><stop offset=".548" stop-color="#0ea5ef"/><stop offset=".556" stop-color="#1996f3"/><stop offset=".56" stop-color="#218cf4"/><stop offset=".565" stop-color="#2686f5"/><stop offset=".573" stop-color="#3176f8"/><stop offset=".585" stop-color="#3e65fa"/><stop offset=".594" stop-color="#445cfb"/><stop offset=".627" stop-color="#5444fd"/><stop offset=".631" stop-color="#5444fd"/><stop offset=".635" stop-color="#5641fd"/><stop offset=".76" stop-color="#5641fd"/><stop offset=".765" stop-color="#583efd"/><stop offset=".781" stop-color="#583efd"/><stop offset=".785" stop-color="#5a3bfd"/><stop offset=".794" stop-color="#5a3bfd"/><stop offset=".815" stop-color="#622ffe"/><stop offset=".819" stop-color="#622ffe"/><stop offset=".831" stop-color="#6826fe"/><stop offset=".835" stop-color="#6826fe"/><stop offset=".84" stop-color="#6a22fe"/><stop offset=".848" stop-color="#6a22fe"/><stop offset=".86" stop-color="#6e1cff"/><stop offset=".869" stop-color="#6e1cff"/><stop offset=".873" stop-color="#7019ff"/><stop offset=".885" stop-color="#7019ff"/><stop offset=".89" stop-color="#7216ff"/><stop offset=".906" stop-color="#7216ff"/><stop offset=".91" stop-color="#7413ff"/><stop offset=".935" stop-color="#7413ff"/><stop offset=".94" stop-color="#7610ff"/><stop offset=".998" stop-color="#7610ff"/></linearGradient><linearGradient id="c37" x2="0" y2="1"><stop offset=".002" stop-color="#00b5eb"/><stop offset=".473" stop-color="#00b5eb"/><stop offset=".477" stop-color="#01b3ec"/><stop offset=".527" stop-color="#04b0ed"/><stop offset=".531" stop-color="#06aeed"/><stop offset=".54" stop-color="#06aeed"/><stop offset=".548" stop-color="#09a9ee"/><stop offset=".552" stop-color="#0ea5ef"/><stop offset=".577" stop-color="#3079f7"/><stop offset=".585" stop-color="#386df9"/><stop offset=".598" stop-color="#4062fa"/><stop offset=".602" stop-color="#445cfb"/><stop offset=".627" stop-color="#504afc"/><stop offset=".631" stop-color="#504afc"/><stop offset=".64" stop-color="#5444fd"/><stop offset=".644" stop-color="#5444fd"/><stop offset=".648" stop-color="#5641fd"/><stop offset=".76" stop-color="#5641fd"/><stop offset=".765" stop-color="#583efd"/><stop offset=".79" stop-color="#583efd"/><stop offset=".794" stop-color="#5a3bfd"/><stop offset=".806" stop-color="#5a3bfd"/><stop offset=".827" stop-color="#6032fe"/><stop offset=".835" stop-color="#6032fe"/><stop offset=".856" stop-color="#6629fe"/><stop offset=".865" stop-color="#6629fe"/><stop offset=".877" stop-color="#6a22fe"/><stop offset=".898" stop-color="#6c1fff"/><stop offset=".902" stop-color="#6e1cff"/><stop offset=".915" stop-color="#6e1cff"/><stop offset=".919" stop-color="#7019ff"/><stop offset=".935" stop-color="#7019ff"/><stop offset=".94" stop-color="#7216ff"/><stop offset=".965" stop-color="#7216ff"/><stop offset=".969" stop-color="#7413ff"/><stop offset=".998" stop-color="#7413ff"/></linearGradient><linearGradient id="c38" x2="0" y2="1"><stop offset=".002" stop-color="#00b5eb"/><stop offset=".473" stop-color="#00b5eb"/><stop offset=".477" stop-color="#01b3ec"/><stop offset=".527" stop-color="#04b0ed"/><stop offset=".552" stop-color="#09a9ee"/><stop offset=".556" stop-color="#0ea5ef"/><stop offset=".581" stop-color="#2e7bf7"/><stop offset=".598" stop-color="#3c68f9"/><stop offset=".644" stop-color="#5247fc"/><stop offset=".648" stop-color="#5247fc"/><stop offset=".656" stop-color="#5641fd"/><stop offset=".765" stop-color="#5641fd"/><stop offset=".769" stop-color="#583efd"/><stop offset=".794" stop-color="#583efd"/><stop offset=".798" stop-color="#5a3bfd"/><stop offset=".81" stop-color="#5a3bfd"/><stop offset=".815" stop-color="#5c38fd"/><stop offset=".827" stop-color="#5c38fd"/><stop offset=".831" stop-color="#5e35fe"/><stop offset=".84" stop-color="#5e35fe"/><stop offset=".844" stop-color="#6032fe"/><stop offset=".852" stop-color="#6032fe"/><stop offset=".865" stop-color="#642cfe"/><stop offset=".885" stop-color="#6629fe"/><stop offset=".89" stop-color="#6826fe"/><stop offset=".898" stop-color="#6826fe"/><stop offset=".902" stop-color="#6a22fe"/><stop offset=".91" stop-color="#6a22fe"/><stop offset=".915" stop-color="#6c1fff"/><stop offset=".927" stop-color="#6c1fff"/><stop offset=".931" stop-color="#6e1cff"/><stop offset=".948" stop-color="#6e1cff"/><stop offset=".952" stop-color="#7019ff"/><stop offset=".985" stop-color="#7019ff"/><stop offset=".99" stop-color="#7216ff"/><stop offset=".998" stop-color="#7216ff"/></linearGradient><linearGradient id="c39" x2="0" y2="1"><stop offset=".002" stop-color="#00b5eb"/><stop offset=".473" stop-color="#00b5eb"/><stop offset=".477" stop-color="#01b3ec"/><stop offset=".527" stop-color="#04b0ed"/><stop offset=".544" stop-color="#08acee"/><stop offset=".552" stop-color="#08acee"/><stop offset=".565" stop-color="#149df1"/><stop offset=".59" stop-color="#3079f7"/><stop offset=".606" stop-color="#3c68f9"/><stop offset=".644" stop-color="#4e4dfc"/><stop offset=".648" stop-color="#4e4dfc"/><stop offset=".66" stop-color="#5444fd"/><stop offset=".665" stop-color="#5444fd"/><stop offset=".669" stop-color="#5641fd"/><stop offset=".765" stop-color="#5641fd"/><stop offset=".769" stop-color="#583efd"/><stop offset=".794" stop-color="#583efd"/><stop offset=".798" stop-color="#5a3bfd"/><stop offset=".815" stop-color="#5a3bfd"/><stop offset=".819" stop-color="#5c38fd"/><stop offset=".831" stop-color="#5c38fd"/><stop offset=".835" stop-color="#5e35fe"/><stop offset=".844" stop-color="#5e35fe"/><stop offset=".848" stop-color="#6032fe"/><stop offset=".86" stop-color="#6032fe"/><stop offset=".865" stop-color="#622ffe"/><stop offset=".873" stop-color="#622ffe"/><stop offset=".877" stop-color="#642cfe"/><stop offset=".885" stop-color="#642cfe"/><stop offset=".89" stop-color="#6629fe"/><stop offset=".898" stop-color="#6629fe"/><stop offset=".902" stop-color="#6826fe"/><stop offset=".931" stop-color="#6a22fe"/><stop offset=".935" stop-color="#6c1fff"/><stop offset=".952" stop-color="#6c1fff"/><stop offset=".956" stop-color="#6e1cff"/><stop offset=".985" stop-color="#6e1cff"/><stop offset=".99" stop-color="#7019ff"/><stop offset=".998" stop-color="#7019ff"/></linearGradient><linearGradient id="c40" x2="0" y2="1"><stop offset=".002" stop-color="#00b5eb"/><stop offset=".473" stop-color="#00b5eb"/><stop offset=".477" stop-color="#01b3ec"/><stop offset=".527" stop-color="#04b0ed"/><stop offset=".544" stop-color="#08acee"/><stop offset=".552" stop-color="#08acee"/><stop offset=".56" stop-color="#0ca7ef"/><stop offset=".573" stop-color="#1898f2"/><stop offset=".577" stop-color="#1e91f3"/><stop offset=".594" stop-color="#2e7bf7"/><stop offset=".602" stop-color="#3473f8"/><stop offset=".615" stop-color="#396bf9"/><stop offset=".619" stop-color="#3e65fa"/><stop offset=".665" stop-color="#5247fc"/><stop offset=".677" stop-color="#5444fd"/><stop offset=".681" stop-color="#5641fd"/><stop offset=".765" stop-color="#5641fd"/><stop offset=".769" stop-color="#583efd"/><stop offset=".794" stop-color="#583efd"/><stop offset=".798" stop-color="#5a3bfd"/><stop offset=".815" stop-color="#5a3bfd"/><stop offset=".819" stop-color="#5c38fd"/><stop offset=".831" stop-color="#5c38fd"/><stop offset=".835" stop-color="#5e35fe"/><stop offset=".848" stop-color="#5e35fe"/><stop offset=".852" stop-color="#6032fe"/><stop offset=".865" stop-color="#6032fe"/><stop offset=".869" stop-color="#622ffe"/><stop offset=".877" stop-color="#622ffe"/><stop offset=".881" stop-color="#642cfe"/><stop offset=".894" stop-color="#642cfe"/><stop offset=".898" stop-color="#6629fe"/><stop offset=".906" stop-color="#6629fe"/><stop offset=".91" stop-color="#6826fe"/><stop offset=".923" stop-color="#6826fe"/><stop offset=".927" stop-color="#6a22fe"/><stop offset=".944" stop-color="#6a22fe"/><stop offset=".948" stop-color="#6c1fff"/><stop offset=".969" stop-color="#6c1fff"/><stop offset=".973" stop-color="#6e1cff"/><stop offset=".998" stop-color="#6e1cff"/></linearGradient><linearGradient id="c41" x2="0" y2="1"><stop offset=".002" stop-color="#00b5eb"/><stop offset=".473" stop-color="#00b5eb"/><stop offset=".477" stop-color="#01b3ec"/><stop offset=".527" stop-color="#04b0ed"/><stop offset=".544" stop-color="#08acee"/><stop offset=".556" stop-color="#08acee"/><stop offset=".565" stop-color="#0ca7ef"/><stop offset=".598" stop-color="#2c7ef7"/><stop offset=".606" stop-color="#3176f8"/><stop offset=".665" stop-color="#4e4dfc"/><stop offset=".669" stop-color="#4e4dfc"/><stop offset=".677" stop-color="#5247fc"/><stop offset=".681" stop-color="#5247fc"/><stop offset=".69" stop-color="#5641fd"/><stop offset=".765" stop-color="#5641fd"/><stop offset=".769" stop-color="#583efd"/><stop offset=".794" stop-color="#583efd"/><stop offset=".798" stop-color="#5a3bfd"/><stop offset=".815" stop-color="#5a3bfd"/><stop offset=".819" stop-color="#5c38fd"/><stop offset=".831" stop-color="#5c38fd"/><stop offset=".835" stop-color="#5e35fe"/><stop offset=".848" stop-color="#5e35fe"/><stop offset=".852" stop-color="#6032fe"/><stop offset=".865" stop-color="#6032fe"/><stop offset=".869" stop-color="#622ffe"/><stop offset=".881" stop-color="#622ffe"/><stop offset=".885" stop-color="#642cfe"/><stop offset=".898" stop-color="#642cfe"/><stop offset=".902" stop-color="#6629fe"/><stop offset=".915" stop-color="#6629fe"/><stop offset=".919" stop-color="#6826fe"/><stop offset=".931" stop-color="#6826fe"/><stop offset=".935" stop-color="#6a22fe"/><stop offset=".952" stop-color="#6a22fe"/><stop offset=".956" stop-color="#6c1fff"/><stop offset=".998" stop-color="#6c1fff"/></linearGradient><linearGradient id="c42" x2="0" y2="1"><stop offset=".002" stop-color="#00b5eb"/><stop offset=".473" stop-color="#00b5eb"/><stop offset=".477" stop-color="#01b3ec"/><stop offset=".527" stop-color="#04b0ed"/><stop offset=".544" stop-color="#08acee"/><stop offset=".565" stop-color="#09a9ee"/><stop offset=".573" stop-color="#10a2f0"/><stop offset=".594" stop-color="#2489f5"/><stop offset=".61" stop-color="#2e7bf7"/><stop offset=".615" stop-color="#3176f8"/><stop offset=".669" stop-color="#4c50fc"/><stop offset=".673" stop-color="#4c50fc"/><stop offset=".681" stop-color="#504afc"/><stop offset=".685" stop-color="#504afc"/><stop offset=".694" stop-color="#5444fd"/><stop offset=".698" stop-color="#5444fd"/><stop offset=".702" stop-color="#5641fd"/><stop offset=".765" stop-color="#5641fd"/><stop offset=".769" stop-color="#583efd"/><stop offset=".794" stop-color="#583efd"/><stop offset=".798" stop-color="#5a3bfd"/><stop offset=".815" stop-color="#5a3bfd"/><stop offset=".819" stop-color="#5c38fd"/><stop offset=".831" stop-color="#5c38fd"/><stop offset=".835" stop-color="#5e35fe"/><stop offset=".848" stop-color="#5e35fe"/><stop offset=".852" stop-color="#6032fe"/><stop offset=".865" stop-color="#6032fe"/><stop offset=".869" stop-color="#622ffe"/><stop offset=".881" stop-color="#622ffe"/><stop offset=".885" stop-color="#642cfe"/><stop offset=".898" stop-color="#642cfe"/><stop offset=".902" stop-color="#6629fe"/><stop offset=".915" stop-color="#6629fe"/><stop offset=".919" stop-color="#6826fe"/><stop offset=".935" stop-color="#6826fe"/><stop offset=".94" stop-color="#6a22fe"/><stop offset=".96" stop-color="#6a22fe"/><stop offset=".965" stop-color="#6c1fff"/><stop offset=".998" stop-color="#6c1fff"/></linearGradient><linearGradient id="c43" x2="0" y2="1"><stop offset=".002" stop-color="#00b5eb"/><stop offset=".473" stop-color="#00b5eb"/><stop offset=".477" stop-color="#01b3ec"/><stop offset=".527" stop-color="#04b0ed"/><stop offset=".544" stop-color="#08acee"/><stop offset=".565" stop-color="#09a9ee"/><stop offset=".577" stop-color="#10a2f0"/><stop offset=".59" stop-color="#1c93f3"/><stop offset=".606" stop-color="#2884f6"/><stop offset=".619" stop-color="#2e7bf7"/><stop offset=".623" stop-color="#3176f8"/><stop offset=".669" stop-color="#4856fb"/><stop offset=".673" stop-color="#4856fb"/><stop offset=".685" stop-color="#4e4dfc"/><stop offset=".69" stop-color="#4e4dfc"/><stop offset=".698" stop-color="#5247fc"/><stop offset=".702" stop-color="#5247fc"/><stop offset=".71" stop-color="#5641fd"/><stop offset=".765" stop-color="#5641fd"/><stop offset=".769" stop-color="#583efd"/><stop offset=".794" stop-color="#583efd"/><stop offset=".798" stop-color="#5a3bfd"/><stop offset=".815" stop-color="#5a3bfd"/><stop offset=".819" stop-color="#5c38fd"/><stop offset=".831" stop-color="#5c38fd"/><stop offset=".835" stop-color="#5e35fe"/><stop offset=".848" stop-color="#5e35fe"/><stop offset=".852" stop-color="#6032fe"/><stop offset=".865" stop-color="#6032fe"/><stop offset=".869" stop-color="#622ffe"/><stop offset=".881" stop-color="#622ffe"/><stop offset=".885" stop-color="#642cfe"/><stop offset=".898" stop-color="#642cfe"/><stop offset=".902" stop-color="#6629fe"/><stop offset=".915" stop-color="#6629fe"/><stop offset=".919" stop-color="#6826fe"/><stop offset=".935" stop-color="#6826fe"/><stop offset=".94" stop-color="#6a22fe"/><stop offset=".96" stop-color="#6a22fe"/><stop offset=".965" stop-color="#6c1fff"/><stop offset=".998" stop-color="#6c1fff"/></linearGradient><linearGradient id="c44" x2="0" y2="1"><stop offset=".002" stop-color="#00b5eb"/><stop offset=".473" stop-color="#00b5eb"/><stop offset=".477" stop-color="#01b3ec"/><stop offset=".527" stop-color="#04b0ed"/><stop offset=".573" stop-color="#0ca7ef"/><stop offset=".598" stop-color="#1e91f3"/><stop offset=".606" stop-color="#218cf4"/><stop offset=".61" stop-color="#2686f5"/><stop offset=".669" stop-color="#445cfb"/><stop offset=".673" stop-color="#445cfb"/><stop offset=".706" stop-color="#5247fc"/><stop offset=".719" stop-color="#5444fd"/><stop offset=".723" stop-color="#5641fd"/><stop offset=".765" stop-color="#5641fd"/><stop offset=".769" stop-color="#583efd"/><stop offset=".794" stop-color="#583efd"/><stop offset=".798" stop-color="#5a3bfd"/><stop offset=".815" stop-color="#5a3bfd"/><stop offset=".819" stop-color="#5c38fd"/><stop offset=".831" stop-color="#5c38fd"/><stop offset=".835" stop-color="#5e35fe"/><stop offset=".848" stop-color="#5e35fe"/><stop offset=".852" stop-color="#6032fe"/><stop offset=".865" stop-color="#6032fe"/><stop offset=".869" stop-color="#622ffe"/><stop offset=".881" stop-color="#622ffe"/><stop offset=".885" stop-color="#642cfe"/><stop offset=".902" stop-color="#642cfe"/><stop offset=".906" stop-color="#6629fe"/><stop offset=".919" stop-color="#6629fe"/><stop offset=".923" stop-color="#6826fe"/><stop offset=".94" stop-color="#6826fe"/><stop offset=".944" stop-color="#6a22fe"/><stop offset=".969" stop-color="#6a22fe"/><stop offset=".973" stop-color="#6c1fff"/><stop offset=".998" stop-color="#6c1fff"/></linearGradient><linearGradient id="c45" x2="0" y2="1"><stop offset=".002" stop-color="#00b5eb"/><stop offset=".473" stop-color="#00b5eb"/><stop offset=".477" stop-color="#01b3ec"/><stop offset=".527" stop-color="#04b0ed"/><stop offset=".544" stop-color="#08acee"/><stop offset=".556" stop-color="#08acee"/><stop offset=".569" stop-color="#0ca7ef"/><stop offset=".577" stop-color="#0ca7ef"/><stop offset=".606" stop-color="#1e91f3"/><stop offset=".61" stop-color="#218cf4"/><stop offset=".64" stop-color="#3079f7"/><stop offset=".644" stop-color="#3473f8"/><stop offset=".665" stop-color="#3e65fa"/><stop offset=".669" stop-color="#3e65fa"/><stop offset=".694" stop-color="#4a53fb"/><stop offset=".698" stop-color="#4a53fb"/><stop offset=".71" stop-color="#504afc"/><stop offset=".715" stop-color="#504afc"/><stop offset=".723" stop-color="#5444fd"/><stop offset=".727" stop-color="#5444fd"/><stop offset=".731" stop-color="#5641fd"/><stop offset=".765" stop-color="#5641fd"/><stop offset=".769" stop-color="#583efd"/><stop offset=".794" stop-color="#583efd"/><stop offset=".798" stop-color="#5a3bfd"/><stop offset=".815" stop-color="#5a3bfd"/><stop offset=".819" stop-color="#5c38fd"/><stop offset=".831" stop-color="#5c38fd"/><stop offset=".835" stop-color="#5e35fe"/><stop offset=".852" stop-color="#5e35fe"/><stop offset=".856" stop-color="#6032fe"/><stop offset=".869" stop-color="#6032fe"/><stop offset=".873" stop-color="#622ffe"/><stop offset=".885" stop-color="#622ffe"/><stop offset=".89" stop-color="#642cfe"/><stop offset=".902" stop-color="#642cfe"/><stop offset=".906" stop-color="#6629fe"/><stop offset=".919" stop-color="#6629fe"/><stop offset=".923" stop-color="#6826fe"/><stop offset=".944" stop-color="#6826fe"/><stop offset=".948" stop-color="#6a22fe"/><stop offset=".973" stop-color="#6a22fe"/><stop offset=".977" stop-color="#6c1fff"/><stop offset=".998" stop-color="#6c1fff"/></linearGradient><linearGradient id="c46" x2="0" y2="1"><stop offset=".002" stop-color="#00b5eb"/><stop offset=".473" stop-color="#00b5eb"/><stop offset=".477" stop-color="#01b3ec"/><stop offset=".527" stop-color="#04b0ed"/><stop offset=".544" stop-color="#08acee"/><stop offset=".556" stop-color="#08acee"/><stop offset=".569" stop-color="#0ca7ef"/><stop offset=".577" stop-color="#0ca7ef"/><stop offset=".602" stop-color="#1898f2"/><stop offset=".606" stop-color="#1c93f3"/><stop offset=".698" stop-color="#4856fb"/><stop offset=".702" stop-color="#4856fb"/><stop offset=".715" stop-color="#4e4dfc"/><stop offset=".719" stop-color="#4e4dfc"/><stop offset=".727" stop-color="#5247fc"/><stop offset=".74" stop-color="#5444fd"/><stop offset=".744" stop-color="#5641fd"/><stop offset=".765" stop-color="#5641fd"/><stop offset=".769" stop-color="#583efd"/><stop offset=".794" stop-color="#583efd"/><stop offset=".798" stop-color="#5a3bfd"/><stop offset=".815" stop-color="#5a3bfd"/><stop offset=".819" stop-color="#5c38fd"/><stop offset=".831" stop-color="#5c38fd"/><stop offset=".835" stop-color="#5e35fe"/><stop offset=".848" stop-color="#5e35fe"/><stop offset=".852" stop-color="#6032fe"/><stop offset=".865" stop-color="#6032fe"/><stop offset=".869" stop-color="#622ffe"/><stop offset=".881" stop-color="#622ffe"/><stop offset=".885" stop-color="#642cfe"/><stop offset=".898" stop-color="#642cfe"/><stop offset=".902" stop-color="#6629fe"/><stop offset=".915" stop-color="#6629fe"/><stop offset=".919" stop-color="#6826fe"/><stop offset=".931" stop-color="#6826fe"/><stop offset=".935" stop-color="#6a22fe"/><stop offset=".956" stop-color="#6a22fe"/><stop offset=".96" stop-color="#6c1fff"/><stop offset=".998" stop-color="#6c1fff"/></linearGradient><linearGradient id="c47" x2="0" y2="1"><stop offset=".002" stop-color="#00b5eb"/><stop offset=".473" stop-color="#00b5eb"/><stop offset=".477" stop-color="#01b3ec"/><stop offset=".527" stop-color="#04b0ed"/><stop offset=".585" stop-color="#0ea5ef"/><stop offset=".64" stop-color="#2884f6"/><stop offset=".702" stop-color="#4659fb"/><stop offset=".706" stop-color="#4659fb"/><stop offset=".719" stop-color="#4c50fc"/><stop offset=".723" stop-color="#4c50fc"/><stop offset=".731" stop-color="#504afc"/><stop offset=".735" stop-color="#504afc"/><stop offset=".744" stop-color="#5444fd"/><stop offset=".748" stop-color="#5444fd"/><stop offset=".752" stop-color="#5641fd"/><stop offset=".765" stop-color="#5641fd"/><stop offset=".769" stop-color="#583efd"/><stop offset=".794" stop-color="#583efd"/><stop offset=".798" stop-color="#5a3bfd"/><stop offset=".815" stop-color="#5a3bfd"/><stop offset=".819" stop-color="#5c38fd"/><stop offset=".831" stop-color="#5c38fd"/><stop offset=".835" stop-color="#5e35fe"/><stop offset=".852" stop-color="#5e35fe"/><stop offset=".856" stop-color="#6032fe"/><stop offset=".869" stop-color="#6032fe"/><stop offset=".873" stop-color="#622ffe"/><stop offset=".885" stop-color="#622ffe"/><stop offset=".89" stop-color="#642cfe"/><stop offset=".902" stop-color="#642cfe"/><stop offset=".906" stop-color="#6629fe"/><stop offset=".919" stop-color="#6629fe"/><stop offset=".923" stop-color="#6826fe"/><stop offset=".944" stop-color="#6826fe"/><stop offset=".948" stop-color="#6a22fe"/><stop offset=".973" stop-color="#6a22fe"/><stop offset=".977" stop-color="#6c1fff"/><stop offset=".998" stop-color="#6c1fff"/></linearGradient><linearGradient id="c48" x2="0" y2="1"><stop offset=".002" stop-color="#00b5eb"/><stop offset=".473" stop-color="#00b5eb"/><stop offset=".477" stop-color="#01b3ec"/><stop offset=".527" stop-color="#04b0ed"/><stop offset=".544" stop-color="#08acee"/><stop offset=".556" stop-color="#08acee"/><stop offset=".581" stop-color="#0ea5ef"/><stop offset=".59" stop-color="#0ea5ef"/><stop offset=".627" stop-color="#208ef4"/><stop offset=".631" stop-color="#208ef4"/><stop offset=".706" stop-color="#445cfb"/><stop offset=".71" stop-color="#445cfb"/><stop offset=".727" stop-color="#4c50fc"/><stop offset=".731" stop-color="#4c50fc"/><stop offset=".752" stop-color="#5444fd"/><stop offset=".765" stop-color="#5641fd"/><stop offset=".769" stop-color="#583efd"/><stop offset=".794" stop-color="#583efd"/><stop offset=".798" stop-color="#5a3bfd"/><stop offset=".815" stop-color="#5a3bfd"/><stop offset=".819" stop-color="#5c38fd"/><stop offset=".831" stop-color="#5c38fd"/><stop offset=".835" stop-color="#5e35fe"/><stop offset=".852" stop-color="#5e35fe"/><stop offset=".856" stop-color="#6032fe"/><stop offset=".869" stop-color="#6032fe"/><stop offset=".873" stop-color="#622ffe"/><stop offset=".885" stop-color="#622ffe"/><stop offset=".89" stop-color="#642cfe"/><stop offset=".906" stop-color="#642cfe"/><stop offset=".91" stop-color="#6629fe"/><stop offset=".927" stop-color="#6629fe"/><stop offset=".931" stop-color="#6826fe"/><stop offset=".948" stop-color="#6826fe"/><stop offset=".952" stop-color="#6a22fe"/><stop offset=".998" stop-color="#6a22fe"/></linearGradient><linearGradient id="c49" x2="0" y2="1"><stop offset=".002" stop-color="#00b5eb"/><stop offset=".473" stop-color="#00b5eb"/><stop offset=".477" stop-color="#01b3ec"/><stop offset=".527" stop-color="#04b0ed"/><stop offset=".544" stop-color="#08acee"/><stop offset=".556" stop-color="#08acee"/><stop offset=".581" stop-color="#0ea5ef"/><stop offset=".59" stop-color="#0ea5ef"/><stop offset=".598" stop-color="#10a2f0"/><stop offset=".61" stop-color="#169bf2"/><stop offset=".615" stop-color="#169bf2"/><stop offset=".669" stop-color="#3079f7"/><stop offset=".673" stop-color="#3079f7"/><stop offset=".715" stop-color="#445cfb"/><stop offset=".719" stop-color="#445cfb"/><stop offset=".731" stop-color="#4a53fb"/><stop offset=".748" stop-color="#4e4dfc"/><stop offset=".773" stop-color="#583efd"/><stop offset=".794" stop-color="#583efd"/><stop offset=".798" stop-color="#5a3bfd"/><stop offset=".815" stop-color="#5a3bfd"/><stop offset=".819" stop-color="#5c38fd"/><stop offset=".831" stop-color="#5c38fd"/><stop offset=".835" stop-color="#5e35fe"/><stop offset=".848" stop-color="#5e35fe"/><stop offset=".852" stop-color="#6032fe"/><stop offset=".865" stop-color="#6032fe"/><stop offset=".869" stop-color="#622ffe"/><stop offset=".877" stop-color="#622ffe"/><stop offset=".881" stop-color="#642cfe"/><stop offset=".894" stop-color="#642cfe"/><stop offset=".898" stop-color="#6629fe"/><stop offset=".906" stop-color="#6629fe"/><stop offset=".91" stop-color="#6826fe"/><stop offset=".948" stop-color="#6a22fe"/><stop offset=".952" stop-color="#6c1fff"/><stop offset=".99" stop-color="#6c1fff"/><stop offset=".994" stop-color="#6e1cff"/><stop offset=".998" stop-color="#6e1cff"/></linearGradient><linearGradient id="c50" x2="0" y2="1"><stop offset=".002" stop-color="#00b5eb"/><stop offset=".473" stop-color="#00b5eb"/><stop offset=".477" stop-color="#01b3ec"/><stop offset=".527" stop-color="#04b0ed"/><stop offset=".544" stop-color="#08acee"/><stop offset=".556" stop-color="#08acee"/><stop offset=".581" stop-color="#0ea5ef"/><stop offset=".59" stop-color="#0ea5ef"/><stop offset=".619" stop-color="#169bf2"/><stop offset=".631" stop-color="#1c93f3"/><stop offset=".635" stop-color="#1c93f3"/><stop offset=".681" stop-color="#3176f8"/><stop offset=".685" stop-color="#3176f8"/><stop offset=".719" stop-color="#425ffa"/><stop offset=".723" stop-color="#425ffa"/><stop offset=".735" stop-color="#4856fb"/><stop offset=".74" stop-color="#4856fb"/><stop offset=".752" stop-color="#4e4dfc"/><stop offset=".756" stop-color="#4e4dfc"/><stop offset=".781" stop-color="#583efd"/><stop offset=".794" stop-color="#583efd"/><stop offset=".798" stop-color="#5a3bfd"/><stop offset=".815" stop-color="#5a3bfd"/><stop offset=".819" stop-color="#5c38fd"/><stop offset=".831" stop-color="#5c38fd"/><stop offset=".835" stop-color="#5e35fe"/><stop offset=".852" stop-color="#5e35fe"/><stop offset=".856" stop-color="#6032fe"/><stop offset=".869" stop-color="#6032fe"/><stop offset=".873" stop-color="#622ffe"/><stop offset=".885" stop-color="#622ffe"/><stop offset=".89" stop-color="#642cfe"/><stop offset=".902" stop-color="#642cfe"/><stop offset=".906" stop-color="#6629fe"/><stop offset=".944" stop-color="#6826fe"/><stop offset=".948" stop-color="#6a22fe"/><stop offset=".981" stop-color="#6a22fe"/><stop offset=".985" stop-color="#6c1fff"/><stop offset=".998" stop-color="#6c1fff"/></linearGradient><linearGradient id="c51" x2="0" y2="1"><stop offset=".002" stop-color="#00b5eb"/><stop offset=".473" stop-color="#00b5eb"/><stop offset=".477" stop-color="#01b3ec"/><stop offset=".527" stop-color="#04b0ed"/><stop offset=".544" stop-color="#08acee"/><stop offset=".556" stop-color="#08acee"/><stop offset=".581" stop-color="#0ea5ef"/><stop offset=".59" stop-color="#0ea5ef"/><stop offset=".602" stop-color="#11a0f1"/><stop offset=".61" stop-color="#11a0f1"/><stop offset=".631" stop-color="#1996f3"/><stop offset=".635" stop-color="#1996f3"/><stop offset=".652" stop-color="#218cf4"/><stop offset=".656" stop-color="#218cf4"/><stop offset=".694" stop-color="#3473f8"/><stop offset=".698" stop-color="#3473f8"/><stop offset=".723" stop-color="#4062fa"/><stop offset=".727" stop-color="#4062fa"/><stop offset=".74" stop-color="#4659fb"/><stop offset=".744" stop-color="#4659fb"/><stop offset=".781" stop-color="#5641fd"/><stop offset=".794" stop-color="#583efd"/><stop offset=".798" stop-color="#5a3bfd"/><stop offset=".815" stop-color="#5a3bfd"/><stop offset=".819" stop-color="#5c38fd"/><stop offset=".831" stop-color="#5c38fd"/><stop offset=".835" stop-color="#5e35fe"/><stop offset=".873" stop-color="#6032fe"/><stop offset=".877" stop-color="#622ffe"/><stop offset=".89" stop-color="#622ffe"/><stop offset=".894" stop-color="#642cfe"/><stop offset=".931" stop-color="#6629fe"/><stop offset=".935" stop-color="#6826fe"/><stop offset=".96" stop-color="#6826fe"/><stop offset=".965" stop-color="#6a22fe"/><stop offset=".998" stop-color="#6a22fe"/></linearGradient><linearGradient id="c52" x2="0" y2="1"><stop offset=".002" stop-color="#00b5eb"/><stop offset=".473" stop-color="#00b5eb"/><stop offset=".477" stop-color="#01b3ec"/><stop offset=".527" stop-color="#04b0ed"/><stop offset=".544" stop-color="#08acee"/><stop offset=".556" stop-color="#08acee"/><stop offset=".581" stop-color="#0ea5ef"/><stop offset=".59" stop-color="#0ea5ef"/><stop offset=".635" stop-color="#1898f2"/><stop offset=".669" stop-color="#2686f5"/><stop offset=".673" stop-color="#2686f5"/><stop offset=".706" stop-color="#3670f8"/><stop offset=".71" stop-color="#3670f8"/><stop offset=".727" stop-color="#3e65fa"/><stop offset=".731" stop-color="#3e65fa"/><stop offset=".748" stop-color="#4659fb"/><stop offset=".752" stop-color="#4659fb"/><stop offset=".773" stop-color="#504afc"/><stop offset=".777" stop-color="#504afc"/><stop offset=".798" stop-color="#5a3bfd"/><stop offset=".815" stop-color="#5a3bfd"/><stop offset=".819" stop-color="#5c38fd"/><stop offset=".831" stop-color="#5c38fd"/><stop offset=".835" stop-color="#5e35fe"/><stop offset=".848" stop-color="#5e35fe"/><stop offset=".852" stop-color="#6032fe"/><stop offset=".86" stop-color="#6032fe"/><stop offset=".865" stop-color="#622ffe"/><stop offset=".873" stop-color="#622ffe"/><stop offset=".877" stop-color="#642cfe"/><stop offset=".89" stop-color="#642cfe"/><stop offset=".894" stop-color="#6629fe"/><stop offset=".902" stop-color="#6629fe"/><stop offset=".906" stop-color="#6826fe"/><stop offset=".935" stop-color="#6a22fe"/><stop offset=".94" stop-color="#6c1fff"/><stop offset=".965" stop-color="#6c1fff"/><stop offset=".969" stop-color="#6e1cff"/><stop offset=".998" stop-color="#6e1cff"/></linearGradient><linearGradient id="c53" x2="0" y2="1"><stop offset=".002" stop-color="#00b5eb"/><stop offset=".473" stop-color="#00b5eb"/><stop offset=".477" stop-color="#01b3ec"/><stop offset=".527" stop-color="#04b0ed"/><stop offset=".544" stop-color="#08acee"/><stop offset=".556" stop-color="#08acee"/><stop offset=".581" stop-color="#0ea5ef"/><stop offset=".59" stop-color="#0ea5ef"/><stop offset=".623" stop-color="#169bf2"/><stop offset=".631" stop-color="#169bf2"/><stop offset=".648" stop-color="#1c93f3"/><stop offset=".652" stop-color="#1c93f3"/><stop offset=".685" stop-color="#2981f6"/><stop offset=".69" stop-color="#2981f6"/><stop offset=".715" stop-color="#3670f8"/><stop offset=".719" stop-color="#3670f8"/><stop offset=".735" stop-color="#3e65fa"/><stop offset=".74" stop-color="#3e65fa"/><stop offset=".756" stop-color="#4659fb"/><stop offset=".76" stop-color="#4659fb"/><stop offset=".802" stop-color="#5a3bfd"/><stop offset=".831" stop-color="#5c38fd"/><stop offset=".835" stop-color="#5e35fe"/><stop offset=".852" stop-color="#5e35fe"/><stop offset=".856" stop-color="#6032fe"/><stop offset=".869" stop-color="#6032fe"/><stop offset=".873" stop-color="#622ffe"/><stop offset=".885" stop-color="#622ffe"/><stop offset=".89" stop-color="#642cfe"/><stop offset=".906" stop-color="#642cfe"/><stop offset=".91" stop-color="#6629fe"/><stop offset=".923" stop-color="#6629fe"/><stop offset=".927" stop-color="#6826fe"/><stop offset=".948" stop-color="#6826fe"/><stop offset=".952" stop-color="#6a22fe"/><stop offset=".994" stop-color="#6a22fe"/><stop offset=".998" stop-color="#6c1fff"/></linearGradient><linearGradient id="c54" x2="0" y2="1"><stop offset=".002" stop-color="#00b5eb"/><stop offset=".473" stop-color="#00b5eb"/><stop offset=".477" stop-color="#01b3ec"/><stop offset=".527" stop-color="#04b0ed"/><stop offset=".544" stop-color="#08acee"/><stop offset=".556" stop-color="#08acee"/><stop offset=".581" stop-color="#0ea5ef"/><stop offset=".59" stop-color="#0ea5ef"/><stop offset=".602" stop-color="#11a0f1"/><stop offset=".61" stop-color="#11a0f1"/><stop offset=".623" stop-color="#169bf2"/><stop offset=".631" stop-color="#169bf2"/><stop offset=".656" stop-color="#1c93f3"/><stop offset=".677" stop-color="#2489f5"/><stop offset=".681" stop-color="#2489f5"/><stop offset=".702" stop-color="#2e7bf7"/><stop offset=".706" stop-color="#2e7bf7"/><stop offset=".74" stop-color="#3c68f9"/><stop offset=".744" stop-color="#3c68f9"/><stop offset=".769" stop-color="#4856fb"/><stop offset=".773" stop-color="#4856fb"/><stop offset=".81" stop-color="#5a3bfd"/><stop offset=".815" stop-color="#5a3bfd"/><stop offset=".819" stop-color="#5c38fd"/><stop offset=".835" stop-color="#5c38fd"/><stop offset=".84" stop-color="#5e35fe"/><stop offset=".852" stop-color="#5e35fe"/><stop offset=".856" stop-color="#6032fe"/><stop offset=".894" stop-color="#622ffe"/><stop offset=".898" stop-color="#642cfe"/><stop offset=".919" stop-color="#642cfe"/><stop offset=".923" stop-color="#6629fe"/><stop offset=".94" stop-color="#6629fe"/><stop offset=".944" stop-color="#6826fe"/><stop offset=".973" stop-color="#6826fe"/><stop offset=".977" stop-color="#6a22fe"/><stop offset=".998" stop-color="#6a22fe"/></linearGradient><linearGradient id="c55" x2="0" y2="1"><stop offset=".002" stop-color="#00b5eb"/><stop offset=".473" stop-color="#00b5eb"/><stop offset=".477" stop-color="#01b3ec"/><stop offset=".527" stop-color="#04b0ed"/><stop offset=".544" stop-color="#08acee"/><stop offset=".556" stop-color="#08acee"/><stop offset=".581" stop-color="#0ea5ef"/><stop offset=".59" stop-color="#0ea5ef"/><stop offset=".602" stop-color="#11a0f1"/><stop offset=".644" stop-color="#1898f2"/><stop offset=".669" stop-color="#1e91f3"/><stop offset=".694" stop-color="#2884f6"/><stop offset=".698" stop-color="#2884f6"/><stop offset=".731" stop-color="#3670f8"/><stop offset=".735" stop-color="#3670f8"/><stop offset=".748" stop-color="#3c68f9"/><stop offset=".752" stop-color="#3c68f9"/><stop offset=".819" stop-color="#5c38fd"/><stop offset=".848" stop-color="#5e35fe"/><stop offset=".852" stop-color="#6032fe"/><stop offset=".86" stop-color="#6032fe"/><stop offset=".865" stop-color="#622ffe"/><stop offset=".873" stop-color="#622ffe"/><stop offset=".877" stop-color="#642cfe"/><stop offset=".885" stop-color="#642cfe"/><stop offset=".89" stop-color="#6629fe"/><stop offset=".898" stop-color="#6629fe"/><stop offset=".902" stop-color="#6826fe"/><stop offset=".91" stop-color="#6826fe"/><stop offset=".915" stop-color="#6a22fe"/><stop offset=".927" stop-color="#6a22fe"/><stop offset=".931" stop-color="#6c1fff"/><stop offset=".952" stop-color="#6c1fff"/><stop offset=".956" stop-color="#6e1cff"/><stop offset=".998" stop-color="#6e1cff"/></linearGradient><linearGradient id="c56" x2="0" y2="1"><stop offset=".002" stop-color="#00b5eb"/><stop offset=".473" stop-color="#00b5eb"/><stop offset=".477" stop-color="#01b3ec"/><stop offset=".527" stop-color="#04b0ed"/><stop offset=".544" stop-color="#08acee"/><stop offset=".556" stop-color="#08acee"/><stop offset=".581" stop-color="#0ea5ef"/><stop offset=".59" stop-color="#0ea5ef"/><stop offset=".602" stop-color="#11a0f1"/><stop offset=".61" stop-color="#11a0f1"/><stop offset=".623" stop-color="#169bf2"/><stop offset=".644" stop-color="#1898f2"/><stop offset=".656" stop-color="#1c93f3"/><stop offset=".673" stop-color="#1e91f3"/><stop offset=".694" stop-color="#2686f5"/><stop offset=".698" stop-color="#2686f5"/><stop offset=".71" stop-color="#2c7ef7"/><stop offset=".727" stop-color="#3079f7"/><stop offset=".74" stop-color="#3670f8"/><stop offset=".744" stop-color="#3670f8"/><stop offset=".76" stop-color="#3e65fa"/><stop offset=".765" stop-color="#3e65fa"/><stop offset=".79" stop-color="#4a53fb"/><stop offset=".794" stop-color="#4e4dfc"/><stop offset=".819" stop-color="#5a3bfd"/><stop offset=".831" stop-color="#5c38fd"/><stop offset=".835" stop-color="#5e35fe"/><stop offset=".852" stop-color="#5e35fe"/><stop offset=".856" stop-color="#6032fe"/><stop offset=".869" stop-color="#6032fe"/><stop offset=".873" stop-color="#622ffe"/><stop offset=".885" stop-color="#622ffe"/><stop offset=".89" stop-color="#642cfe"/><stop offset=".906" stop-color="#642cfe"/><stop offset=".91" stop-color="#6629fe"/><stop offset=".927" stop-color="#6629fe"/><stop offset=".931" stop-color="#6826fe"/><stop offset=".948" stop-color="#6826fe"/><stop offset=".952" stop-color="#6a22fe"/><stop offset=".998" stop-color="#6a22fe"/></linearGradient><linearGradient id="c57" x2="0" y2="1"><stop offset=".002" stop-color="#00b5eb"/><stop offset=".473" stop-color="#00b5eb"/><stop offset=".477" stop-color="#01b3ec"/><stop offset=".527" stop-color="#04b0ed"/><stop offset=".544" stop-color="#08acee"/><stop offset=".556" stop-color="#08acee"/><stop offset=".581" stop-color="#0ea5ef"/><stop offset=".59" stop-color="#0ea5ef"/><stop offset=".623" stop-color="#169bf2"/><stop offset=".644" stop-color="#1898f2"/><stop offset=".656" stop-color="#1c93f3"/><stop offset=".677" stop-color="#1e91f3"/><stop offset=".685" stop-color="#218cf4"/><stop offset=".698" stop-color="#2489f5"/><stop offset=".719" stop-color="#2c7ef7"/><stop offset=".723" stop-color="#2c7ef7"/><stop offset=".735" stop-color="#3176f8"/><stop offset=".752" stop-color="#3670f8"/><stop offset=".798" stop-color="#4c50fc"/><stop offset=".802" stop-color="#504afc"/><stop offset=".819" stop-color="#583efd"/><stop offset=".823" stop-color="#583efd"/><stop offset=".831" stop-color="#5c38fd"/><stop offset=".835" stop-color="#5c38fd"/><stop offset=".84" stop-color="#5e35fe"/><stop offset=".877" stop-color="#6032fe"/><stop offset=".881" stop-color="#622ffe"/><stop offset=".902" stop-color="#622ffe"/><stop offset=".906" stop-color="#642cfe"/><stop offset=".923" stop-color="#642cfe"/><stop offset=".927" stop-color="#6629fe"/><stop offset=".948" stop-color="#6629fe"/><stop offset=".952" stop-color="#6826fe"/><stop offset=".998" stop-color="#6826fe"/></linearGradient><linearGradient id="c58" x2="0" y2="1"><stop offset=".002" stop-color="#00b5eb"/><stop offset=".473" stop-color="#00b5eb"/><stop offset=".477" stop-color="#01b3ec"/><stop offset=".527" stop-color="#04b0ed"/><stop offset=".544" stop-color="#08acee"/><stop offset=".556" stop-color="#08acee"/><stop offset=".581" stop-color="#0ea5ef"/><stop offset=".59" stop-color="#0ea5ef"/><stop offset=".623" stop-color="#169bf2"/><stop offset=".644" stop-color="#1898f2"/><stop offset=".656" stop-color="#1c93f3"/><stop offset=".677" stop-color="#1e91f3"/><stop offset=".71" stop-color="#2686f5"/><stop offset=".744" stop-color="#3176f8"/><stop offset=".748" stop-color="#3176f8"/><stop offset=".765" stop-color="#396bf9"/><stop offset=".769" stop-color="#396bf9"/><stop offset=".79" stop-color="#445cfb"/><stop offset=".794" stop-color="#4856fb"/><stop offset=".806" stop-color="#4e4dfc"/><stop offset=".81" stop-color="#5247fc"/><stop offset=".819" stop-color="#5641fd"/><stop offset=".823" stop-color="#5641fd"/><stop offset=".835" stop-color="#5c38fd"/><stop offset=".848" stop-color="#5e35fe"/><stop offset=".852" stop-color="#6032fe"/><stop offset=".86" stop-color="#6032fe"/><stop offset=".873" stop-color="#642cfe"/><stop offset=".894" stop-color="#6629fe"/><stop offset=".898" stop-color="#6826fe"/><stop offset=".906" stop-color="#6826fe"/><stop offset=".91" stop-color="#6a22fe"/><stop offset=".923" stop-color="#6a22fe"/><stop offset=".927" stop-color="#6c1fff"/><stop offset=".998" stop-color="#7019ff"/></linearGradient><linearGradient id="c59" x2="0" y2="1"><stop offset=".002" stop-color="#00b5eb"/><stop offset=".473" stop-color="#00b5eb"/><stop offset=".477" stop-color="#01b3ec"/><stop offset=".527" stop-color="#04b0ed"/><stop offset=".544" stop-color="#08acee"/><stop offset=".556" stop-color="#08acee"/><stop offset=".581" stop-color="#0ea5ef"/><stop offset=".59" stop-color="#0ea5ef"/><stop offset=".623" stop-color="#169bf2"/><stop offset=".644" stop-color="#1898f2"/><stop offset=".656" stop-color="#1c93f3"/><stop offset=".69" stop-color="#208ef4"/><stop offset=".723" stop-color="#2884f6"/><stop offset=".756" stop-color="#3473f8"/><stop offset=".76" stop-color="#3473f8"/><stop offset=".798" stop-color="#4659fb"/><stop offset=".802" stop-color="#4a53fb"/><stop offset=".835" stop-color="#5a3bfd"/><stop offset=".848" stop-color="#5c38fd"/><stop offset=".86" stop-color="#6032fe"/><stop offset=".869" stop-color="#6032fe"/><stop offset=".873" stop-color="#622ffe"/><stop offset=".885" stop-color="#622ffe"/><stop offset=".89" stop-color="#642cfe"/><stop offset=".906" stop-color="#642cfe"/><stop offset=".91" stop-color="#6629fe"/><stop offset=".927" stop-color="#6629fe"/><stop offset=".931" stop-color="#6826fe"/><stop offset=".952" stop-color="#6826fe"/><stop offset=".956" stop-color="#6a22fe"/><stop offset=".998" stop-color="#6a22fe"/></linearGradient><linearGradient id="c60" x2="0" y2="1"><stop offset=".002" stop-color="#00b5eb"/><stop offset=".473" stop-color="#00b5eb"/><stop offset=".477" stop-color="#01b3ec"/><stop offset=".527" stop-color="#04b0ed"/><stop offset=".544" stop-color="#08acee"/><stop offset=".556" stop-color="#08acee"/><stop offset=".581" stop-color="#0ea5ef"/><stop offset=".59" stop-color="#0ea5ef"/><stop offset=".623" stop-color="#169bf2"/><stop offset=".644" stop-color="#1898f2"/><stop offset=".656" stop-color="#1c93f3"/><stop offset=".702" stop-color="#218cf4"/><stop offset=".735" stop-color="#2981f6"/><stop offset=".756" stop-color="#3176f8"/><stop offset=".76" stop-color="#3176f8"/><stop offset=".773" stop-color="#386df9"/><stop offset=".777" stop-color="#386df9"/><stop offset=".79" stop-color="#3e65fa"/><stop offset=".794" stop-color="#425ffa"/><stop offset=".802" stop-color="#4659fb"/><stop offset=".806" stop-color="#4a53fb"/><stop offset=".835" stop-color="#583efd"/><stop offset=".856" stop-color="#5c38fd"/><stop offset=".869" stop-color="#6032fe"/><stop offset=".881" stop-color="#6032fe"/><stop offset=".885" stop-color="#622ffe"/><stop offset=".906" stop-color="#622ffe"/><stop offset=".91" stop-color="#642cfe"/><stop offset=".927" stop-color="#642cfe"/><stop offset=".931" stop-color="#6629fe"/><stop offset=".956" stop-color="#6629fe"/><stop offset=".96" stop-color="#6826fe"/><stop offset=".998" stop-color="#6826fe"/></linearGradient><linearGradient id="c61" x2="0" y2="1"><stop offset=".002" stop-color="#00b5eb"/><stop offset=".473" stop-color="#00b5eb"/><stop offset=".477" stop-color="#01b3ec"/><stop offset=".527" stop-color="#04b0ed"/><stop offset=".544" stop-color="#08acee"/><stop offset=".556" stop-color="#08acee"/><stop offset=".581" stop-color="#0ea5ef"/><stop offset=".59" stop-color="#0ea5ef"/><stop offset=".623" stop-color="#169bf2"/><stop offset=".644" stop-color="#1898f2"/><stop offset=".656" stop-color="#1c93f3"/><stop offset=".665" stop-color="#1c93f3"/><stop offset=".669" stop-color="#1e91f3"/><stop offset=".677" stop-color="#1e91f3"/><stop offset=".681" stop-color="#208ef4"/><stop offset=".69" stop-color="#208ef4"/><stop offset=".694" stop-color="#218cf4"/><stop offset=".702" stop-color="#218cf4"/><stop offset=".706" stop-color="#2489f5"/><stop offset=".723" stop-color="#2686f5"/><stop offset=".748" stop-color="#2c7ef7"/><stop offset=".769" stop-color="#3473f8"/><stop offset=".773" stop-color="#3473f8"/><stop offset=".794" stop-color="#3e65fa"/><stop offset=".798" stop-color="#425ffa"/><stop offset=".806" stop-color="#4659fb"/><stop offset=".81" stop-color="#4a53fb"/><stop offset=".84" stop-color="#583efd"/><stop offset=".844" stop-color="#583efd"/><stop offset=".856" stop-color="#5e35fe"/><stop offset=".86" stop-color="#5e35fe"/><stop offset=".869" stop-color="#622ffe"/><stop offset=".881" stop-color="#642cfe"/><stop offset=".885" stop-color="#6629fe"/><stop offset=".894" stop-color="#6629fe"/><stop offset=".898" stop-color="#6826fe"/><stop offset=".906" stop-color="#6826fe"/><stop offset=".91" stop-color="#6a22fe"/><stop offset=".919" stop-color="#6a22fe"/><stop offset=".923" stop-color="#6c1fff"/><stop offset=".94" stop-color="#6c1fff"/><stop offset=".944" stop-color="#6e1cff"/><stop offset=".969" stop-color="#6e1cff"/><stop offset=".973" stop-color="#7019ff"/><stop offset=".998" stop-color="#7019ff"/></linearGradient><linearGradient id="c62" x2="0" y2="1"><stop offset=".002" stop-color="#00b5eb"/><stop offset=".473" stop-color="#00b5eb"/><stop offset=".477" stop-color="#01b3ec"/><stop offset=".527" stop-color="#04b0ed"/><stop offset=".544" stop-color="#08acee"/><stop offset=".556" stop-color="#08acee"/><stop offset=".581" stop-color="#0ea5ef"/><stop offset=".59" stop-color="#0ea5ef"/><stop offset=".623" stop-color="#169bf2"/><stop offset=".644" stop-color="#1898f2"/><stop offset=".656" stop-color="#1c93f3"/><stop offset=".715" stop-color="#2489f5"/><stop offset=".727" stop-color="#2884f6"/><stop offset=".735" stop-color="#2884f6"/><stop offset=".76" stop-color="#2e7bf7"/><stop offset=".769" stop-color="#3176f8"/><stop offset=".773" stop-color="#3176f8"/><stop offset=".798" stop-color="#3e65fa"/><stop offset=".802" stop-color="#425ffa"/><stop offset=".81" stop-color="#4659fb"/><stop offset=".815" stop-color="#4a53fb"/><stop offset=".835" stop-color="#5444fd"/><stop offset=".84" stop-color="#5444fd"/><stop offset=".852" stop-color="#5a3bfd"/><stop offset=".856" stop-color="#5a3bfd"/><stop offset=".865" stop-color="#5e35fe"/><stop offset=".877" stop-color="#6032fe"/><stop offset=".881" stop-color="#622ffe"/><stop offset=".89" stop-color="#622ffe"/><stop offset=".894" stop-color="#642cfe"/><stop offset=".906" stop-color="#642cfe"/><stop offset=".91" stop-color="#6629fe"/><stop offset=".927" stop-color="#6629fe"/><stop offset=".931" stop-color="#6826fe"/><stop offset=".952" stop-color="#6826fe"/><stop offset=".956" stop-color="#6a22fe"/><stop offset=".998" stop-color="#6a22fe"/></linearGradient><linearGradient id="c63" x2="0" y2="1"><stop offset=".002" stop-color="#abf69b"/><stop offset=".006" stop-color="#abf69b"/><stop offset=".01" stop-color="#00b5eb"/><stop offset=".473" stop-color="#00b5eb"/><stop offset=".477" stop-color="#01b3ec"/><stop offset=".527" stop-color="#04b0ed"/><stop offset=".544" stop-color="#08acee"/><stop offset=".556" stop-color="#08acee"/><stop offset=".581" stop-color="#0ea5ef"/><stop offset=".59" stop-color="#0ea5ef"/><stop offset=".623" stop-color="#169bf2"/><stop offset=".644" stop-color="#1898f2"/><stop offset=".656" stop-color="#1c93f3"/><stop offset=".715" stop-color="#2489f5"/><stop offset=".727" stop-color="#2884f6"/><stop offset=".748" stop-color="#2981f6"/><stop offset=".765" stop-color="#2e7bf7"/><stop offset=".773" stop-color="#3176f8"/><stop offset=".777" stop-color="#3176f8"/><stop offset=".802" stop-color="#3e65fa"/><stop offset=".806" stop-color="#425ffa"/><stop offset=".819" stop-color="#4856fb"/><stop offset=".827" stop-color="#4e4dfc"/><stop offset=".831" stop-color="#4e4dfc"/><stop offset=".852" stop-color="#583efd"/><stop offset=".856" stop-color="#583efd"/><stop offset=".865" stop-color="#5c38fd"/><stop offset=".877" stop-color="#5e35fe"/><stop offset=".881" stop-color="#6032fe"/><stop offset=".89" stop-color="#6032fe"/><stop offset=".894" stop-color="#622ffe"/><stop offset=".906" stop-color="#622ffe"/><stop offset=".91" stop-color="#642cfe"/><stop offset=".931" stop-color="#642cfe"/><stop offset=".935" stop-color="#6629fe"/><stop offset=".956" stop-color="#6629fe"/><stop offset=".96" stop-color="#6826fe"/><stop offset=".998" stop-color="#6826fe"/></linearGradient><linearGradient id="c64" x2="0" y2="1"><stop offset=".002" stop-color="#abf69b"/><stop offset=".019" stop-color="#abf69b"/><stop offset=".023" stop-color="#00b5eb"/><stop offset=".473" stop-color="#00b5eb"/><stop offset=".477" stop-color="#01b3ec"/><stop offset=".506" stop-color="#01b3ec"/><stop offset=".51" stop-color="#04b0ed"/><stop offset=".527" stop-color="#04b0ed"/><stop offset=".544" stop-color="#08acee"/><stop offset=".556" stop-color="#08acee"/><stop offset=".569" stop-color="#0ca7ef"/><stop offset=".61" stop-color="#11a0f1"/><stop offset=".623" stop-color="#169bf2"/><stop offset=".644" stop-color="#1898f2"/><stop offset=".656" stop-color="#1c93f3"/><stop offset=".715" stop-color="#2489f5"/><stop offset=".727" stop-color="#2884f6"/><stop offset=".748" stop-color="#2981f6"/><stop offset=".773" stop-color="#3079f7"/><stop offset=".781" stop-color="#3176f8"/><stop offset=".798" stop-color="#396bf9"/><stop offset=".806" stop-color="#3e65fa"/><stop offset=".81" stop-color="#425ffa"/><stop offset=".877" stop-color="#622ffe"/><stop offset=".881" stop-color="#622ffe"/><stop offset=".89" stop-color="#6629fe"/><stop offset=".898" stop-color="#6629fe"/><stop offset=".91" stop-color="#6a22fe"/><stop offset=".919" stop-color="#6a22fe"/><stop offset=".923" stop-color="#6c1fff"/><stop offset=".94" stop-color="#6c1fff"/><stop offset=".944" stop-color="#6e1cff"/><stop offset=".998" stop-color="#7019ff"/></linearGradient><linearGradient id="c65" x2="0" y2="1"><stop offset=".002" stop-color="#abf69b"/><stop offset=".027" stop-color="#abf69b"/><stop offset=".031" stop-color="#00b5eb"/><stop offset=".473" stop-color="#00b5eb"/><stop offset=".477" stop-color="#01b3ec"/><stop offset=".527" stop-color="#04b0ed"/><stop offset=".544" stop-color="#08acee"/><stop offset=".556" stop-color="#08acee"/><stop offset=".581" stop-color="#0ea5ef"/><stop offset=".59" stop-color="#0ea5ef"/><stop offset=".623" stop-color="#169bf2"/><stop offset=".644" stop-color="#1898f2"/><stop offset=".656" stop-color="#1c93f3"/><stop offset=".665" stop-color="#1c93f3"/><stop offset=".681" stop-color="#208ef4"/><stop offset=".69" stop-color="#208ef4"/><stop offset=".694" stop-color="#218cf4"/><stop offset=".702" stop-color="#218cf4"/><stop offset=".706" stop-color="#2489f5"/><stop offset=".715" stop-color="#2489f5"/><stop offset=".719" stop-color="#2686f5"/><stop offset=".727" stop-color="#2686f5"/><stop offset=".74" stop-color="#2981f6"/><stop offset=".748" stop-color="#2981f6"/><stop offset=".76" stop-color="#2e7bf7"/><stop offset=".769" stop-color="#2e7bf7"/><stop offset=".785" stop-color="#3176f8"/><stop offset=".873" stop-color="#5e35fe"/><stop offset=".885" stop-color="#6032fe"/><stop offset=".898" stop-color="#642cfe"/><stop offset=".906" stop-color="#642cfe"/><stop offset=".91" stop-color="#6629fe"/><stop offset=".927" stop-color="#6629fe"/><stop offset=".931" stop-color="#6826fe"/><stop offset=".948" stop-color="#6826fe"/><stop offset=".952" stop-color="#6a22fe"/><stop offset=".998" stop-color="#6a22fe"/></linearGradient><linearGradient id="c66" x2="0" y2="1"><stop offset=".002" stop-color="#abf69b"/><stop offset=".035" stop-color="#abf69b"/><stop offset=".04" stop-color="#00b5eb"/><stop offset=".473" stop-color="#00b5eb"/><stop offset=".477" stop-color="#01b3ec"/><stop offset=".527" stop-color="#04b0ed"/><stop offset=".544" stop-color="#08acee"/><stop offset=".556" stop-color="#08acee"/><stop offset=".581" stop-color="#0ea5ef"/><stop offset=".59" stop-color="#0ea5ef"/><stop offset=".623" stop-color="#169bf2"/><stop offset=".644" stop-color="#1898f2"/><stop offset=".656" stop-color="#1c93f3"/><stop offset=".665" stop-color="#1c93f3"/><stop offset=".681" stop-color="#208ef4"/><stop offset=".69" stop-color="#208ef4"/><stop offset=".694" stop-color="#218cf4"/><stop offset=".702" stop-color="#218cf4"/><stop offset=".706" stop-color="#2489f5"/><stop offset=".715" stop-color="#2489f5"/><stop offset=".719" stop-color="#2686f5"/><stop offset=".727" stop-color="#2686f5"/><stop offset=".74" stop-color="#2981f6"/><stop offset=".76" stop-color="#2c7ef7"/><stop offset=".773" stop-color="#3079f7"/><stop offset=".79" stop-color="#3176f8"/><stop offset=".877" stop-color="#5e35fe"/><stop offset=".881" stop-color="#5e35fe"/><stop offset=".885" stop-color="#6032fe"/><stop offset=".906" stop-color="#622ffe"/><stop offset=".91" stop-color="#642cfe"/><stop offset=".956" stop-color="#6629fe"/><stop offset=".96" stop-color="#6826fe"/><stop offset=".998" stop-color="#6826fe"/></linearGradient><linearGradient id="c67" x2="0" y2="1"><stop offset=".002" stop-color="#abf69b"/><stop offset=".044" stop-color="#abf69b"/><stop offset=".048" stop-color="#00b5eb"/><stop offset=".473" stop-color="#00b5eb"/><stop offset=".477" stop-color="#01b3ec"/><stop offset=".506" stop-color="#01b3ec"/><stop offset=".51" stop-color="#04b0ed"/><stop offset=".527" stop-color="#04b0ed"/><stop offset=".544" stop-color="#08acee"/><stop offset=".556" stop-color="#08acee"/><stop offset=".569" stop-color="#0ca7ef"/><stop offset=".61" stop-color="#11a0f1"/><stop offset=".623" stop-color="#169bf2"/><stop offset=".644" stop-color="#1898f2"/><stop offset=".656" stop-color="#1c93f3"/><stop offset=".665" stop-color="#1c93f3"/><stop offset=".681" stop-color="#208ef4"/><stop offset=".69" stop-color="#208ef4"/><stop offset=".694" stop-color="#218cf4"/><stop offset=".702" stop-color="#218cf4"/><stop offset=".706" stop-color="#2489f5"/><stop offset=".715" stop-color="#2489f5"/><stop offset=".719" stop-color="#2686f5"/><stop offset=".727" stop-color="#2686f5"/><stop offset=".74" stop-color="#2981f6"/><stop offset=".748" stop-color="#2981f6"/><stop offset=".773" stop-color="#3079f7"/><stop offset=".781" stop-color="#3079f7"/><stop offset=".798" stop-color="#3473f8"/><stop offset=".81" stop-color="#396bf9"/><stop offset=".815" stop-color="#3e65fa"/><stop offset=".84" stop-color="#4a53fb"/><stop offset=".844" stop-color="#4e4dfc"/><stop offset=".86" stop-color="#5641fd"/><stop offset=".865" stop-color="#5a3bfd"/><stop offset=".881" stop-color="#622ffe"/><stop offset=".885" stop-color="#622ffe"/><stop offset=".894" stop-color="#6629fe"/><stop offset=".906" stop-color="#6826fe"/><stop offset=".91" stop-color="#6a22fe"/><stop offset=".919" stop-color="#6a22fe"/><stop offset=".923" stop-color="#6c1fff"/><stop offset=".94" stop-color="#6c1fff"/><stop offset=".944" stop-color="#6e1cff"/><stop offset=".998" stop-color="#7019ff"/></linearGradient><linearGradient id="c68" x2="0" y2="1"><stop offset=".002" stop-color="#abf69b"/><stop offset=".052" stop-color="#abf69b"/><stop offset=".056" stop-color="#00b5eb"/><stop offset=".473" stop-color="#00b5eb"/><stop offset=".477" stop-color="#01b3ec"/><stop offset=".527" stop-color="#04b0ed"/><stop offset=".544" stop-color="#08acee"/><stop offset=".556" stop-color="#08acee"/><stop offset=".581" stop-color="#0ea5ef"/><stop offset=".59" stop-color="#0ea5ef"/><stop offset=".623" stop-color="#169bf2"/><stop offset=".644" stop-color="#1898f2"/><stop offset=".656" stop-color="#1c93f3"/><stop offset=".665" stop-color="#1c93f3"/><stop offset=".681" stop-color="#208ef4"/><stop offset=".69" stop-color="#208ef4"/><stop offset=".694" stop-color="#218cf4"/><stop offset=".702" stop-color="#218cf4"/><stop offset=".706" stop-color="#2489f5"/><stop offset=".715" stop-color="#2489f5"/><stop offset=".719" stop-color="#2686f5"/><stop offset=".727" stop-color="#2686f5"/><stop offset=".74" stop-color="#2981f6"/><stop offset=".76" stop-color="#2c7ef7"/><stop offset=".773" stop-color="#3079f7"/><stop offset=".794" stop-color="#3176f8"/><stop offset=".852" stop-color="#4e4dfc"/><stop offset=".856" stop-color="#5247fc"/><stop offset=".869" stop-color="#583efd"/><stop offset=".873" stop-color="#5c38fd"/><stop offset=".877" stop-color="#5c38fd"/><stop offset=".885" stop-color="#6032fe"/><stop offset=".898" stop-color="#622ffe"/><stop offset=".91" stop-color="#6629fe"/><stop offset=".948" stop-color="#6826fe"/><stop offset=".952" stop-color="#6a22fe"/><stop offset=".998" stop-color="#6a22fe"/></linearGradient><linearGradient id="c69" x2="0" y2="1"><stop offset=".002" stop-color="#abf69b"/><stop offset=".06" stop-color="#abf69b"/><stop offset=".065" stop-color="#00b5eb"/><stop offset=".473" stop-color="#00b5eb"/><stop offset=".477" stop-color="#01b3ec"/><stop offset=".527" stop-color="#04b0ed"/><stop offset=".544" stop-color="#08acee"/><stop offset=".556" stop-color="#08acee"/><stop offset=".581" stop-color="#0ea5ef"/><stop offset=".59" stop-color="#0ea5ef"/><stop offset=".623" stop-color="#169bf2"/><stop offset=".644" stop-color="#1898f2"/><stop offset=".656" stop-color="#1c93f3"/><stop offset=".665" stop-color="#1c93f3"/><stop offset=".681" stop-color="#208ef4"/><stop offset=".69" stop-color="#208ef4"/><stop offset=".694" stop-color="#218cf4"/><stop offset=".702" stop-color="#218cf4"/><stop offset=".706" stop-color="#2489f5"/><stop offset=".715" stop-color="#2489f5"/><stop offset=".719" stop-color="#2686f5"/><stop offset=".727" stop-color="#2686f5"/><stop offset=".74" stop-color="#2981f6"/><stop offset=".76" stop-color="#2c7ef7"/><stop offset=".773" stop-color="#3079f7"/><stop offset=".794" stop-color="#3176f8"/><stop offset=".802" stop-color="#3473f8"/><stop offset=".84" stop-color="#4659fb"/><stop offset=".852" stop-color="#4c50fc"/><stop offset=".856" stop-color="#504afc"/><stop offset=".869" stop-color="#5641fd"/><stop offset=".873" stop-color="#5a3bfd"/><stop offset=".877" stop-color="#5a3bfd"/><stop offset=".885" stop-color="#5e35fe"/><stop offset=".898" stop-color="#6032fe"/><stop offset=".902" stop-color="#622ffe"/><stop offset=".91" stop-color="#622ffe"/><stop offset=".915" stop-color="#642cfe"/><stop offset=".931" stop-color="#642cfe"/><stop offset=".935" stop-color="#6629fe"/><stop offset=".956" stop-color="#6629fe"/><stop offset=".96" stop-color="#6826fe"/><stop offset=".998" stop-color="#6826fe"/></linearGradient><linearGradient id="c70" x2="0" y2="1"><stop offset=".002" stop-color="#abf69b"/><stop offset=".069" stop-color="#abf69b"/><stop offset=".073" stop-color="#00b5eb"/><stop offset=".473" stop-color="#00b5eb"/><stop offset=".477" stop-color="#01b3ec"/><stop offset=".506" stop-color="#01b3ec"/><stop offset=".51" stop-color="#04b0ed"/><stop offset=".527" stop-color="#04b0ed"/><stop offset=".544" stop-color="#08acee"/><stop offset=".556" stop-color="#08acee"/><stop offset=".569" stop-color="#0ca7ef"/><stop offset=".61" stop-color="#11a0f1"/><stop offset=".623" stop-color="#169bf2"/><stop offset=".644" stop-color="#1898f2"/><stop offset=".656" stop-color="#1c93f3"/><stop offset=".665" stop-color="#1c93f3"/><stop offset=".681" stop-color="#208ef4"/><stop offset=".69" stop-color="#208ef4"/><stop offset=".694" stop-color="#218cf4"/><stop offset=".702" stop-color="#218cf4"/><stop offset=".706" stop-color="#2489f5"/><stop offset=".715" stop-color="#2489f5"/><stop offset=".719" stop-color="#2686f5"/><stop offset=".727" stop-color="#2686f5"/><stop offset=".74" stop-color="#2981f6"/><stop offset=".748" stop-color="#2981f6"/><stop offset=".765" stop-color="#2e7bf7"/><stop offset=".773" stop-color="#2e7bf7"/><stop offset=".785" stop-color="#3176f8"/><stop offset=".794" stop-color="#3176f8"/><stop offset=".81" stop-color="#3670f8"/><stop offset=".835" stop-color="#425ffa"/><stop offset=".84" stop-color="#4659fb"/><stop offset=".852" stop-color="#4c50fc"/><stop offset=".873" stop-color="#5c38fd"/><stop offset=".881" stop-color="#6032fe"/><stop offset=".885" stop-color="#6032fe"/><stop offset=".898" stop-color="#6629fe"/><stop offset=".91" stop-color="#6826fe"/><stop offset=".923" stop-color="#6c1fff"/><stop offset=".94" stop-color="#6c1fff"/><stop offset=".944" stop-color="#6e1cff"/><stop offset=".969" stop-color="#6e1cff"/><stop offset=".973" stop-color="#7019ff"/><stop offset=".998" stop-color="#7019ff"/></linearGradient><linearGradient id="c71" x2="0" y2="1"><stop offset=".002" stop-color="#abf69b"/><stop offset=".077" stop-color="#abf69b"/><stop offset=".081" stop-color="#00b5eb"/><stop offset=".473" stop-color="#00b5eb"/><stop offset=".477" stop-color="#01b3ec"/><stop offset=".506" stop-color="#01b3ec"/><stop offset=".51" stop-color="#04b0ed"/><stop offset=".527" stop-color="#04b0ed"/><stop offset=".544" stop-color="#08acee"/><stop offset=".556" stop-color="#08acee"/><stop offset=".569" stop-color="#0ca7ef"/><stop offset=".61" stop-color="#11a0f1"/><stop offset=".623" stop-color="#169bf2"/><stop offset=".644" stop-color="#1898f2"/><stop offset=".656" stop-color="#1c93f3"/><stop offset=".665" stop-color="#1c93f3"/><stop offset=".681" stop-color="#208ef4"/><stop offset=".69" stop-color="#208ef4"/><stop offset=".694" stop-color="#218cf4"/><stop offset=".702" stop-color="#218cf4"/><stop offset=".706" stop-color="#2489f5"/><stop offset=".715" stop-color="#2489f5"/><stop offset=".719" stop-color="#2686f5"/><stop offset=".727" stop-color="#2686f5"/><stop offset=".74" stop-color="#2981f6"/><stop offset=".748" stop-color="#2981f6"/><stop offset=".765" stop-color="#2e7bf7"/><stop offset=".773" stop-color="#2e7bf7"/><stop offset=".777" stop-color="#3079f7"/><stop offset=".785" stop-color="#3079f7"/><stop offset=".798" stop-color="#3473f8"/><stop offset=".806" stop-color="#3473f8"/><stop offset=".823" stop-color="#3c68f9"/><stop offset=".831" stop-color="#3e65fa"/><stop offset=".835" stop-color="#425ffa"/><stop offset=".856" stop-color="#4c50fc"/><stop offset=".869" stop-color="#5641fd"/><stop offset=".89" stop-color="#6032fe"/><stop offset=".902" stop-color="#622ffe"/><stop offset=".915" stop-color="#6629fe"/><stop offset=".923" stop-color="#6629fe"/><stop offset=".927" stop-color="#6826fe"/><stop offset=".948" stop-color="#6826fe"/><stop offset=".952" stop-color="#6a22fe"/><stop offset=".994" stop-color="#6a22fe"/><stop offset=".998" stop-color="#6c1fff"/></linearGradient><linearGradient id="c72" x2="0" y2="1"><stop offset=".002" stop-color="#abf69b"/><stop offset=".085" stop-color="#abf69b"/><stop offset=".09" stop-color="#00b5eb"/><stop offset=".473" stop-color="#00b5eb"/><stop offset=".477" stop-color="#01b3ec"/><stop offset=".506" stop-color="#01b3ec"/><stop offset=".51" stop-color="#04b0ed"/><stop offset=".527" stop-color="#04b0ed"/><stop offset=".544" stop-color="#08acee"/><stop offset=".556" stop-color="#08acee"/><stop offset=".569" stop-color="#0ca7ef"/><stop offset=".61" stop-color="#11a0f1"/><stop offset=".623" stop-color="#169bf2"/><stop offset=".644" stop-color="#1898f2"/><stop offset=".656" stop-color="#1c93f3"/><stop offset=".665" stop-color="#1c93f3"/><stop offset=".681" stop-color="#208ef4"/><stop offset=".69" stop-color="#208ef4"/><stop offset=".694" stop-color="#218cf4"/><stop offset=".702" stop-color="#218cf4"/><stop offset=".706" stop-color="#2489f5"/><stop offset=".715" stop-color="#2489f5"/><stop offset=".719" stop-color="#2686f5"/><stop offset=".727" stop-color="#2686f5"/><stop offset=".74" stop-color="#2981f6"/><stop offset=".748" stop-color="#2981f6"/><stop offset=".765" stop-color="#2e7bf7"/><stop offset=".773" stop-color="#2e7bf7"/><stop offset=".777" stop-color="#3079f7"/><stop offset=".785" stop-color="#3079f7"/><stop offset=".798" stop-color="#3473f8"/><stop offset=".806" stop-color="#3473f8"/><stop offset=".815" stop-color="#3670f8"/><stop offset=".852" stop-color="#4856fb"/><stop offset=".865" stop-color="#504afc"/><stop offset=".869" stop-color="#5444fd"/><stop offset=".885" stop-color="#5c38fd"/><stop offset=".89" stop-color="#5c38fd"/><stop offset=".898" stop-color="#6032fe"/><stop offset=".902" stop-color="#6032fe"/><stop offset=".906" stop-color="#622ffe"/><stop offset=".915" stop-color="#622ffe"/><stop offset=".919" stop-color="#642cfe"/><stop offset=".931" stop-color="#642cfe"/><stop offset=".935" stop-color="#6629fe"/><stop offset=".956" stop-color="#6629fe"/><stop offset=".96" stop-color="#6826fe"/><stop offset=".998" stop-color="#6826fe"/></linearGradient><linearGradient id="c73" x2="0" y2="1"><stop offset=".002" stop-color="#abf69b"/><stop offset=".098" stop-color="#abf69b"/><stop offset=".102" stop-color="#00b5eb"/><stop offset=".473" stop-color="#00b5eb"/><stop offset=".477" stop-color="#01b3ec"/><stop offset=".506" stop-color="#01b3ec"/><stop offset=".51" stop-color="#04b0ed"/><stop offset=".527" stop-color="#04b0ed"/><stop offset=".544" stop-color="#08acee"/><stop offset=".556" stop-color="#08acee"/><stop offset=".569" stop-color="#0ca7ef"/><stop offset=".61" stop-color="#11a0f1"/><stop offset=".623" stop-color="#169bf2"/><stop offset=".644" stop-color="#1898f2"/><stop offset=".656" stop-color="#1c93f3"/><stop offset=".69" stop-color="#208ef4"/><stop offset=".706" stop-color="#2489f5"/><stop offset=".715" stop-color="#2489f5"/><stop offset=".719" stop-color="#2686f5"/><stop offset=".727" stop-color="#2686f5"/><stop offset=".74" stop-color="#2981f6"/><stop offset=".773" stop-color="#2e7bf7"/><stop offset=".79" stop-color="#3176f8"/><stop offset=".798" stop-color="#3176f8"/><stop offset=".815" stop-color="#3670f8"/><stop offset=".823" stop-color="#396bf9"/><stop offset=".827" stop-color="#396bf9"/><stop offset=".84" stop-color="#4062fa"/><stop offset=".844" stop-color="#445cfb"/><stop offset=".852" stop-color="#4856fb"/><stop offset=".86" stop-color="#4e4dfc"/><stop offset=".877" stop-color="#5c38fd"/><stop offset=".915" stop-color="#6a22fe"/><stop offset=".923" stop-color="#6a22fe"/><stop offset=".927" stop-color="#6c1fff"/><stop offset=".94" stop-color="#6c1fff"/><stop offset=".944" stop-color="#6e1cff"/><stop offset=".973" stop-color="#6e1cff"/><stop offset=".977" stop-color="#7019ff"/><stop offset=".998" stop-color="#7019ff"/></linearGradient><linearGradient id="c74" x2="0" y2="1"><stop offset=".002" stop-color="#abf69b"/><stop offset=".106" stop-color="#abf69b"/><stop offset=".11" stop-color="#00b5eb"/><stop offset=".473" stop-color="#00b5eb"/><stop offset=".477" stop-color="#01b3ec"/><stop offset=".506" stop-color="#01b3ec"/><stop offset=".51" stop-color="#04b0ed"/><stop offset=".527" stop-color="#04b0ed"/><stop offset=".544" stop-color="#08acee"/><stop offset=".556" stop-color="#08acee"/><stop offset=".569" stop-color="#0ca7ef"/><stop offset=".61" stop-color="#11a0f1"/><stop offset=".623" stop-color="#169bf2"/><stop offset=".644" stop-color="#1898f2"/><stop offset=".656" stop-color="#1c93f3"/><stop offset=".69" stop-color="#208ef4"/><stop offset=".706" stop-color="#2489f5"/><stop offset=".715" stop-color="#2489f5"/><stop offset=".719" stop-color="#2686f5"/><stop offset=".727" stop-color="#2686f5"/><stop offset=".74" stop-color="#2981f6"/><stop offset=".773" stop-color="#2e7bf7"/><stop offset=".79" stop-color="#3176f8"/><stop offset=".798" stop-color="#3176f8"/><stop offset=".823" stop-color="#386df9"/><stop offset=".856" stop-color="#4856fb"/><stop offset=".873" stop-color="#5641fd"/><stop offset=".89" stop-color="#5e35fe"/><stop offset=".894" stop-color="#5e35fe"/><stop offset=".902" stop-color="#622ffe"/><stop offset=".915" stop-color="#642cfe"/><stop offset=".927" stop-color="#6826fe"/><stop offset=".948" stop-color="#6826fe"/><stop offset=".952" stop-color="#6a22fe"/><stop offset=".99" stop-color="#6a22fe"/><stop offset=".994" stop-color="#6c1fff"/><stop offset=".998" stop-color="#6c1fff"/></linearGradient><linearGradient id="c75" x2="0" y2="1"><stop offset=".002" stop-color="#abf69b"/><stop offset=".115" stop-color="#abf69b"/><stop offset=".119" stop-color="#00b5eb"/><stop offset=".473" stop-color="#00b5eb"/><stop offset=".477" stop-color="#01b3ec"/><stop offset=".506" stop-color="#01b3ec"/><stop offset=".51" stop-color="#04b0ed"/><stop offset=".527" stop-color="#04b0ed"/><stop offset=".544" stop-color="#08acee"/><stop offset=".556" stop-color="#08acee"/><stop offset=".569" stop-color="#0ca7ef"/><stop offset=".61" stop-color="#11a0f1"/><stop offset=".623" stop-color="#169bf2"/><stop offset=".644" stop-color="#1898f2"/><stop offset=".656" stop-color="#1c93f3"/><stop offset=".69" stop-color="#208ef4"/><stop offset=".706" stop-color="#2489f5"/><stop offset=".715" stop-color="#2489f5"/><stop offset=".719" stop-color="#2686f5"/><stop offset=".727" stop-color="#2686f5"/><stop offset=".74" stop-color="#2981f6"/><stop offset=".773" stop-color="#2e7bf7"/><stop offset=".79" stop-color="#3176f8"/><stop offset=".798" stop-color="#3176f8"/><stop offset=".823" stop-color="#386df9"/><stop offset=".831" stop-color="#3c68f9"/><stop offset=".835" stop-color="#3c68f9"/><stop offset=".852" stop-color="#445cfb"/><stop offset=".86" stop-color="#4a53fb"/><stop offset=".869" stop-color="#5247fc"/><stop offset=".89" stop-color="#5c38fd"/><stop offset=".894" stop-color="#5c38fd"/><stop offset=".902" stop-color="#6032fe"/><stop offset=".915" stop-color="#622ffe"/><stop offset=".919" stop-color="#642cfe"/><stop offset=".931" stop-color="#642cfe"/><stop offset=".935" stop-color="#6629fe"/><stop offset=".96" stop-color="#6629fe"/><stop offset=".965" stop-color="#6826fe"/><stop offset=".998" stop-color="#6826fe"/></linearGradient><linearGradient id="c76" x2="0" y2="1"><stop offset=".002" stop-color="#abf69b"/><stop offset=".123" stop-color="#abf69b"/><stop offset=".127" stop-color="#00b5eb"/><stop offset=".473" stop-color="#00b5eb"/><stop offset=".477" stop-color="#01b3ec"/><stop offset=".506" stop-color="#01b3ec"/><stop offset=".51" stop-color="#04b0ed"/><stop offset=".527" stop-color="#04b0ed"/><stop offset=".544" stop-color="#08acee"/><stop offset=".556" stop-color="#08acee"/><stop offset=".569" stop-color="#0ca7ef"/><stop offset=".61" stop-color="#11a0f1"/><stop offset=".623" stop-color="#169bf2"/><stop offset=".644" stop-color="#1898f2"/><stop offset=".656" stop-color="#1c93f3"/><stop offset=".69" stop-color="#208ef4"/><stop offset=".706" stop-color="#2489f5"/><stop offset=".715" stop-color="#2489f5"/><stop offset=".719" stop-color="#2686f5"/><stop offset=".727" stop-color="#2686f5"/><stop offset=".74" stop-color="#2981f6"/><stop offset=".773" stop-color="#2e7bf7"/><stop offset=".79" stop-color="#3176f8"/><stop offset=".798" stop-color="#3176f8"/><stop offset=".823" stop-color="#386df9"/><stop offset=".831" stop-color="#3c68f9"/><stop offset=".835" stop-color="#3c68f9"/><stop offset=".852" stop-color="#445cfb"/><stop offset=".877" stop-color="#5a3bfd"/><stop offset=".89" stop-color="#6032fe"/><stop offset=".894" stop-color="#6032fe"/><stop offset=".906" stop-color="#6629fe"/><stop offset=".91" stop-color="#6629fe"/><stop offset=".919" stop-color="#6a22fe"/><stop offset=".923" stop-color="#6a22fe"/><stop offset=".927" stop-color="#6c1fff"/><stop offset=".94" stop-color="#6c1fff"/><stop offset=".944" stop-color="#6e1cff"/><stop offset=".973" stop-color="#6e1cff"/><stop offset=".977" stop-color="#7019ff"/><stop offset=".998" stop-color="#7019ff"/></linearGradient><linearGradient id="c77" x2="0" y2="1"><stop offset=".002" stop-color="#abf69b"/><stop offset=".131" stop-color="#abf69b"/><stop offset=".135" stop-color="#00b5eb"/><stop offset=".473" stop-color="#00b5eb"/><stop offset=".477" stop-color="#01b3ec"/><stop offset=".506" stop-color="#01b3ec"/><stop offset=".51" stop-color="#04b0ed"/><stop offset=".527" stop-color="#04b0ed"/><stop offset=".544" stop-color="#08acee"/><stop offset=".556" stop-color="#08acee"/><stop offset=".569" stop-color="#0ca7ef"/><stop offset=".61" stop-color="#11a0f1"/><stop offset=".623" stop-color="#169bf2"/><stop offset=".644" stop-color="#1898f2"/><stop offset=".656" stop-color="#1c93f3"/><stop offset=".69" stop-color="#208ef4"/><stop offset=".706" stop-color="#2489f5"/><stop offset=".715" stop-color="#2489f5"/><stop offset=".719" stop-color="#2686f5"/><stop offset=".727" stop-color="#2686f5"/><stop offset=".74" stop-color="#2981f6"/><stop offset=".773" stop-color="#2e7bf7"/><stop offset=".79" stop-color="#3176f8"/><stop offset=".798" stop-color="#3176f8"/><stop offset=".823" stop-color="#386df9"/><stop offset=".831" stop-color="#3c68f9"/><stop offset=".835" stop-color="#3c68f9"/><stop offset=".856" stop-color="#4659fb"/><stop offset=".873" stop-color="#5444fd"/><stop offset=".894" stop-color="#5e35fe"/><stop offset=".898" stop-color="#5e35fe"/><stop offset=".906" stop-color="#622ffe"/><stop offset=".91" stop-color="#622ffe"/><stop offset=".919" stop-color="#6629fe"/><stop offset=".927" stop-color="#6629fe"/><stop offset=".931" stop-color="#6826fe"/><stop offset=".948" stop-color="#6826fe"/><stop offset=".952" stop-color="#6a22fe"/><stop offset=".985" stop-color="#6a22fe"/><stop offset=".99" stop-color="#6c1fff"/><stop offset=".998" stop-color="#6c1fff"/></linearGradient><linearGradient id="c78" x2="0" y2="1"><stop offset=".002" stop-color="#abf69b"/><stop offset=".14" stop-color="#abf69b"/><stop offset=".144" stop-color="#00b5eb"/><stop offset=".473" stop-color="#00b5eb"/><stop offset=".477" stop-color="#01b3ec"/><stop offset=".506" stop-color="#01b3ec"/><stop offset=".51" stop-color="#04b0ed"/><stop offset=".527" stop-color="#04b0ed"/><stop offset=".544" stop-color="#08acee"/><stop offset=".556" stop-color="#08acee"/><stop offset=".569" stop-color="#0ca7ef"/><stop offset=".61" stop-color="#11a0f1"/><stop offset=".623" stop-color="#169bf2"/><stop offset=".644" stop-color="#1898f2"/><stop offset=".656" stop-color="#1c93f3"/><stop offset=".69" stop-color="#208ef4"/><stop offset=".706" stop-color="#2489f5"/><stop offset=".715" stop-color="#2489f5"/><stop offset=".719" stop-color="#2686f5"/><stop offset=".727" stop-color="#2686f5"/><stop offset=".74" stop-color="#2981f6"/><stop offset=".773" stop-color="#2e7bf7"/><stop offset=".79" stop-color="#3176f8"/><stop offset=".798" stop-color="#3176f8"/><stop offset=".831" stop-color="#396bf9"/><stop offset=".844" stop-color="#4062fa"/><stop offset=".848" stop-color="#4062fa"/><stop offset=".86" stop-color="#4856fb"/><stop offset=".873" stop-color="#5247fc"/><stop offset=".894" stop-color="#5c38fd"/><stop offset=".906" stop-color="#5e35fe"/><stop offset=".915" stop-color="#622ffe"/><stop offset=".923" stop-color="#622ffe"/><stop offset=".935" stop-color="#6629fe"/><stop offset=".96" stop-color="#6629fe"/><stop offset=".965" stop-color="#6826fe"/><stop offset=".998" stop-color="#6826fe"/></linearGradient><linearGradient id="c79" x2="0" y2="1"><stop offset=".002" stop-color="#abf69b"/><stop offset=".152" stop-color="#abf69b"/><stop offset=".156" stop-color="#00b5eb"/><stop offset=".473" stop-color="#00b5eb"/><stop offset=".477" stop-color="#01b3ec"/><stop offset=".506" stop-color="#01b3ec"/><stop offset=".51" stop-color="#04b0ed"/><stop offset=".527" stop-color="#04b0ed"/><stop offset=".544" stop-color="#08acee"/><stop offset=".556" stop-color="#08acee"/><stop offset=".569" stop-color="#0ca7ef"/><stop offset=".61" stop-color="#11a0f1"/><stop offset=".623" stop-color="#169bf2"/><stop offset=".644" stop-color="#1898f2"/><stop offset=".656" stop-color="#1c93f3"/><stop offset=".69" stop-color="#208ef4"/><stop offset=".706" stop-color="#2489f5"/><stop offset=".715" stop-color="#2489f5"/><stop offset=".719" stop-color="#2686f5"/><stop offset=".727" stop-color="#2686f5"/><stop offset=".74" stop-color="#2981f6"/><stop offset=".773" stop-color="#2e7bf7"/><stop offset=".79" stop-color="#3176f8"/><stop offset=".798" stop-color="#3176f8"/><stop offset=".802" stop-color="#3473f8"/><stop offset=".81" stop-color="#3473f8"/><stop offset=".819" stop-color="#386df9"/><stop offset=".831" stop-color="#396bf9"/><stop offset=".856" stop-color="#4659fb"/><stop offset=".869" stop-color="#5247fc"/><stop offset=".873" stop-color="#5444fd"/><stop offset=".877" stop-color="#583efd"/><stop offset=".898" stop-color="#622ffe"/><stop offset=".902" stop-color="#622ffe"/><stop offset=".915" stop-color="#6826fe"/><stop offset=".927" stop-color="#6a22fe"/><stop offset=".931" stop-color="#6c1fff"/><stop offset=".94" stop-color="#6c1fff"/><stop offset=".944" stop-color="#6e1cff"/><stop offset=".973" stop-color="#6e1cff"/><stop offset=".977" stop-color="#7019ff"/><stop offset=".998" stop-color="#7019ff"/></linearGradient><linearGradient id="c80" x2="0" y2="1"><stop offset=".002" stop-color="#abf69b"/><stop offset=".16" stop-color="#abf69b"/><stop offset=".165" stop-color="#00b5eb"/><stop offset=".473" stop-color="#00b5eb"/><stop offset=".477" stop-color="#01b3ec"/><stop offset=".506" stop-color="#01b3ec"/><stop offset=".51" stop-color="#04b0ed"/><stop offset=".527" stop-color="#04b0ed"/><stop offset=".544" stop-color="#08acee"/><stop offset=".556" stop-color="#08acee"/><stop offset=".569" stop-color="#0ca7ef"/><stop offset=".61" stop-color="#11a0f1"/><stop offset=".623" stop-color="#169bf2"/><stop offset=".644" stop-color="#1898f2"/><stop offset=".656" stop-color="#1c93f3"/><stop offset=".69" stop-color="#208ef4"/><stop offset=".706" stop-color="#2489f5"/><stop offset=".715" stop-color="#2489f5"/><stop offset=".719" stop-color="#2686f5"/><stop offset=".727" stop-color="#2686f5"/><stop offset=".74" stop-color="#2981f6"/><stop offset=".76" stop-color="#2c7ef7"/><stop offset=".777" stop-color="#3079f7"/><stop offset=".79" stop-color="#3079f7"/><stop offset=".802" stop-color="#3473f8"/><stop offset=".81" stop-color="#3473f8"/><stop offset=".827" stop-color="#396bf9"/><stop offset=".831" stop-color="#396bf9"/><stop offset=".844" stop-color="#4062fa"/><stop offset=".848" stop-color="#4062fa"/><stop offset=".86" stop-color="#4856fb"/><stop offset=".877" stop-color="#5641fd"/><stop offset=".881" stop-color="#583efd"/><stop offset=".885" stop-color="#583efd"/><stop offset=".902" stop-color="#6032fe"/><stop offset=".906" stop-color="#6032fe"/><stop offset=".915" stop-color="#642cfe"/><stop offset=".919" stop-color="#642cfe"/><stop offset=".923" stop-color="#6629fe"/><stop offset=".931" stop-color="#6629fe"/><stop offset=".935" stop-color="#6826fe"/><stop offset=".944" stop-color="#6826fe"/><stop offset=".948" stop-color="#6a22fe"/><stop offset=".981" stop-color="#6a22fe"/><stop offset=".985" stop-color="#6c1fff"/><stop offset=".998" stop-color="#6c1fff"/></linearGradient><linearGradient id="c81" x2="0" y2="1"><stop offset=".002" stop-color="#abf69b"/><stop offset=".169" stop-color="#abf69b"/><stop offset=".173" stop-color="#00b5eb"/><stop offset=".473" stop-color="#00b5eb"/><stop offset=".477" stop-color="#01b3ec"/><stop offset=".506" stop-color="#01b3ec"/><stop offset=".51" stop-color="#04b0ed"/><stop offset=".527" stop-color="#04b0ed"/><stop offset=".544" stop-color="#08acee"/><stop offset=".556" stop-color="#08acee"/><stop offset=".569" stop-color="#0ca7ef"/><stop offset=".61" stop-color="#11a0f1"/><stop offset=".623" stop-color="#169bf2"/><stop offset=".644" stop-color="#1898f2"/><stop offset=".656" stop-color="#1c93f3"/><stop offset=".69" stop-color="#208ef4"/><stop offset=".706" stop-color="#2489f5"/><stop offset=".715" stop-color="#2489f5"/><stop offset=".719" stop-color="#2686f5"/><stop offset=".727" stop-color="#2686f5"/><stop offset=".74" stop-color="#2981f6"/><stop offset=".76" stop-color="#2c7ef7"/><stop offset=".777" stop-color="#3079f7"/><stop offset=".79" stop-color="#3079f7"/><stop offset=".802" stop-color="#3473f8"/><stop offset=".81" stop-color="#3473f8"/><stop offset=".827" stop-color="#396bf9"/><stop offset=".831" stop-color="#396bf9"/><stop offset=".84" stop-color="#3e65fa"/><stop offset=".844" stop-color="#3e65fa"/><stop offset=".856" stop-color="#445cfb"/><stop offset=".881" stop-color="#5641fd"/><stop offset=".885" stop-color="#5641fd"/><stop offset=".898" stop-color="#5c38fd"/><stop offset=".91" stop-color="#5e35fe"/><stop offset=".919" stop-color="#622ffe"/><stop offset=".927" stop-color="#622ffe"/><stop offset=".94" stop-color="#6629fe"/><stop offset=".96" stop-color="#6629fe"/><stop offset=".965" stop-color="#6826fe"/><stop offset=".998" stop-color="#6826fe"/></linearGradient><linearGradient id="c82" x2="0" y2="1"><stop offset=".002" stop-color="#abf69b"/><stop offset=".177" stop-color="#abf69b"/><stop offset=".181" stop-color="#00b5eb"/><stop offset=".473" stop-color="#00b5eb"/><stop offset=".477" stop-color="#01b3ec"/><stop offset=".506" stop-color="#01b3ec"/><stop offset=".51" stop-color="#04b0ed"/><stop offset=".527" stop-color="#04b0ed"/><stop offset=".544" stop-color="#08acee"/><stop offset=".556" stop-color="#08acee"/><stop offset=".569" stop-color="#0ca7ef"/><stop offset=".61" stop-color="#11a0f1"/><stop offset=".623" stop-color="#169bf2"/><stop offset=".644" stop-color="#1898f2"/><stop offset=".656" stop-color="#1c93f3"/><stop offset=".665" stop-color="#1c93f3"/><stop offset=".681" stop-color="#208ef4"/><stop offset=".69" stop-color="#208ef4"/><stop offset=".694" stop-color="#218cf4"/><stop offset=".702" stop-color="#218cf4"/><stop offset=".706" stop-color="#2489f5"/><stop offset=".715" stop-color="#2489f5"/><stop offset=".719" stop-color="#2686f5"/><stop offset=".727" stop-color="#2686f5"/><stop offset=".74" stop-color="#2981f6"/><stop offset=".76" stop-color="#2c7ef7"/><stop offset=".765" stop-color="#2e7bf7"/><stop offset=".777" stop-color="#2e7bf7"/><stop offset=".794" stop-color="#3176f8"/><stop offset=".802" stop-color="#3176f8"/><stop offset=".827" stop-color="#386df9"/><stop offset=".835" stop-color="#3c68f9"/><stop offset=".856" stop-color="#4659fb"/><stop offset=".865" stop-color="#4c50fc"/><stop offset=".873" stop-color="#5444fd"/><stop offset=".906" stop-color="#642cfe"/><stop offset=".91" stop-color="#642cfe"/><stop offset=".919" stop-color="#6826fe"/><stop offset=".931" stop-color="#6a22fe"/><stop offset=".935" stop-color="#6c1fff"/><stop offset=".944" stop-color="#6c1fff"/><stop offset=".948" stop-color="#6e1cff"/><stop offset=".973" stop-color="#6e1cff"/><stop offset=".977" stop-color="#7019ff"/><stop offset=".998" stop-color="#7019ff"/></linearGradient><linearGradient id="c83" x2="0" y2="1"><stop offset=".002" stop-color="#abf69b"/><stop offset=".185" stop-color="#abf69b"/><stop offset=".19" stop-color="#00b5eb"/><stop offset=".473" stop-color="#00b5eb"/><stop offset=".477" stop-color="#01b3ec"/><stop offset=".506" stop-color="#01b3ec"/><stop offset=".51" stop-color="#04b0ed"/><stop offset=".527" stop-color="#04b0ed"/><stop offset=".544" stop-color="#08acee"/><stop offset=".556" stop-color="#08acee"/><stop offset=".569" stop-color="#0ca7ef"/><stop offset=".61" stop-color="#11a0f1"/><stop offset=".623" stop-color="#169bf2"/><stop offset=".656" stop-color="#1996f3"/><stop offset=".669" stop-color="#1e91f3"/><stop offset=".677" stop-color="#1e91f3"/><stop offset=".694" stop-color="#218cf4"/><stop offset=".702" stop-color="#218cf4"/><stop offset=".706" stop-color="#2489f5"/><stop offset=".715" stop-color="#2489f5"/><stop offset=".719" stop-color="#2686f5"/><stop offset=".727" stop-color="#2686f5"/><stop offset=".74" stop-color="#2981f6"/><stop offset=".76" stop-color="#2c7ef7"/><stop offset=".765" stop-color="#2e7bf7"/><stop offset=".777" stop-color="#2e7bf7"/><stop offset=".794" stop-color="#3176f8"/><stop offset=".802" stop-color="#3176f8"/><stop offset=".827" stop-color="#386df9"/><stop offset=".835" stop-color="#3c68f9"/><stop offset=".84" stop-color="#3c68f9"/><stop offset=".856" stop-color="#445cfb"/><stop offset=".873" stop-color="#5247fc"/><stop offset=".894" stop-color="#5c38fd"/><stop offset=".898" stop-color="#5c38fd"/><stop offset=".906" stop-color="#6032fe"/><stop offset=".91" stop-color="#6032fe"/><stop offset=".919" stop-color="#642cfe"/><stop offset=".923" stop-color="#642cfe"/><stop offset=".927" stop-color="#6629fe"/><stop offset=".935" stop-color="#6629fe"/><stop offset=".94" stop-color="#6826fe"/><stop offset=".948" stop-color="#6826fe"/><stop offset=".952" stop-color="#6a22fe"/><stop offset=".981" stop-color="#6a22fe"/><stop offset=".985" stop-color="#6c1fff"/><stop offset=".998" stop-color="#6c1fff"/></linearGradient><linearGradient id="c84" x2="0" y2="1"><stop offset=".002" stop-color="#abf69b"/><stop offset=".198" stop-color="#abf69b"/><stop offset=".202" stop-color="#00b5eb"/><stop offset=".473" stop-color="#00b5eb"/><stop offset=".477" stop-color="#01b3ec"/><stop offset=".506" stop-color="#01b3ec"/><stop offset=".51" stop-color="#04b0ed"/><stop offset=".527" stop-color="#04b0ed"/><stop offset=".544" stop-color="#08acee"/><stop offset=".556" stop-color="#08acee"/><stop offset=".569" stop-color="#0ca7ef"/><stop offset=".61" stop-color="#11a0f1"/><stop offset=".623" stop-color="#169bf2"/><stop offset=".656" stop-color="#1996f3"/><stop offset=".669" stop-color="#1e91f3"/><stop offset=".677" stop-color="#1e91f3"/><stop offset=".694" stop-color="#218cf4"/><stop offset=".702" stop-color="#218cf4"/><stop offset=".706" stop-color="#2489f5"/><stop offset=".715" stop-color="#2489f5"/><stop offset=".719" stop-color="#2686f5"/><stop offset=".727" stop-color="#2686f5"/><stop offset=".74" stop-color="#2981f6"/><stop offset=".76" stop-color="#2c7ef7"/><stop offset=".765" stop-color="#2e7bf7"/><stop offset=".777" stop-color="#2e7bf7"/><stop offset=".794" stop-color="#3176f8"/><stop offset=".802" stop-color="#3176f8"/><stop offset=".827" stop-color="#386df9"/><stop offset=".835" stop-color="#3c68f9"/><stop offset=".84" stop-color="#3c68f9"/><stop offset=".86" stop-color="#4659fb"/><stop offset=".869" stop-color="#4e4dfc"/><stop offset=".894" stop-color="#5a3bfd"/><stop offset=".906" stop-color="#5c38fd"/><stop offset=".915" stop-color="#6032fe"/><stop offset=".923" stop-color="#6032fe"/><stop offset=".935" stop-color="#642cfe"/><stop offset=".944" stop-color="#642cfe"/><stop offset=".948" stop-color="#6629fe"/><stop offset=".96" stop-color="#6629fe"/><stop offset=".965" stop-color="#6826fe"/><stop offset=".998" stop-color="#6826fe"/></linearGradient><linearGradient id="c85" x2="0" y2="1"><stop offset=".002" stop-color="#abf69b"/><stop offset=".206" stop-color="#abf69b"/><stop offset=".21" stop-color="#00b5eb"/><stop offset=".473" stop-color="#00b5eb"/><stop offset=".477" stop-color="#01b3ec"/><stop offset=".506" stop-color="#01b3ec"/><stop offset=".51" stop-color="#04b0ed"/><stop offset=".527" stop-color="#04b0ed"/><stop offset=".544" stop-color="#08acee"/><stop offset=".556" stop-color="#08acee"/><stop offset=".569" stop-color="#0ca7ef"/><stop offset=".61" stop-color="#11a0f1"/><stop offset=".623" stop-color="#169bf2"/><stop offset=".631" stop-color="#169bf2"/><stop offset=".66" stop-color="#1c93f3"/><stop offset=".669" stop-color="#1c93f3"/><stop offset=".681" stop-color="#208ef4"/><stop offset=".727" stop-color="#2686f5"/><stop offset=".74" stop-color="#2981f6"/><stop offset=".802" stop-color="#3176f8"/><stop offset=".827" stop-color="#386df9"/><stop offset=".835" stop-color="#3c68f9"/><stop offset=".84" stop-color="#3c68f9"/><stop offset=".852" stop-color="#425ffa"/><stop offset=".877" stop-color="#5641fd"/><stop offset=".898" stop-color="#6032fe"/><stop offset=".902" stop-color="#6032fe"/><stop offset=".915" stop-color="#6629fe"/><stop offset=".927" stop-color="#6826fe"/><stop offset=".94" stop-color="#6c1fff"/><stop offset=".948" stop-color="#6c1fff"/><stop offset=".952" stop-color="#6e1cff"/><stop offset=".998" stop-color="#7019ff"/></linearGradient><linearGradient id="c86" x2="0" y2="1"><stop offset=".002" stop-color="#abf69b"/><stop offset=".215" stop-color="#abf69b"/><stop offset=".219" stop-color="#00b5eb"/><stop offset=".473" stop-color="#00b5eb"/><stop offset=".477" stop-color="#01b3ec"/><stop offset=".506" stop-color="#01b3ec"/><stop offset=".51" stop-color="#04b0ed"/><stop offset=".527" stop-color="#04b0ed"/><stop offset=".544" stop-color="#08acee"/><stop offset=".556" stop-color="#08acee"/><stop offset=".569" stop-color="#0ca7ef"/><stop offset=".61" stop-color="#11a0f1"/><stop offset=".623" stop-color="#169bf2"/><stop offset=".681" stop-color="#1e91f3"/><stop offset=".694" stop-color="#218cf4"/><stop offset=".715" stop-color="#2489f5"/><stop offset=".731" stop-color="#2884f6"/><stop offset=".74" stop-color="#2884f6"/><stop offset=".752" stop-color="#2c7ef7"/><stop offset=".765" stop-color="#2c7ef7"/><stop offset=".781" stop-color="#3079f7"/><stop offset=".79" stop-color="#3079f7"/><stop offset=".794" stop-color="#3176f8"/><stop offset=".802" stop-color="#3176f8"/><stop offset=".835" stop-color="#396bf9"/><stop offset=".856" stop-color="#445cfb"/><stop offset=".865" stop-color="#4a53fb"/><stop offset=".873" stop-color="#5247fc"/><stop offset=".89" stop-color="#5a3bfd"/><stop offset=".894" stop-color="#5a3bfd"/><stop offset=".902" stop-color="#5e35fe"/><stop offset=".906" stop-color="#5e35fe"/><stop offset=".915" stop-color="#622ffe"/><stop offset=".927" stop-color="#642cfe"/><stop offset=".931" stop-color="#6629fe"/><stop offset=".94" stop-color="#6629fe"/><stop offset=".944" stop-color="#6826fe"/><stop offset=".952" stop-color="#6826fe"/><stop offset=".956" stop-color="#6a22fe"/><stop offset=".977" stop-color="#6a22fe"/><stop offset=".981" stop-color="#6c1fff"/><stop offset=".998" stop-color="#6c1fff"/></linearGradient><linearGradient id="c87" x2="0" y2="1"><stop offset=".002" stop-color="#abf69b"/><stop offset=".223" stop-color="#abf69b"/><stop offset=".227" stop-color="#00b5eb"/><stop offset=".473" stop-color="#00b5eb"/><stop offset=".477" stop-color="#01b3ec"/><stop offset=".506" stop-color="#01b3ec"/><stop offset=".51" stop-color="#04b0ed"/><stop offset=".527" stop-color="#04b0ed"/><stop offset=".544" stop-color="#08acee"/><stop offset=".556" stop-color="#08acee"/><stop offset=".569" stop-color="#0ca7ef"/><stop offset=".61" stop-color="#11a0f1"/><stop offset=".623" stop-color="#169bf2"/><stop offset=".681" stop-color="#1e91f3"/><stop offset=".706" stop-color="#2489f5"/><stop offset=".752" stop-color="#2981f6"/><stop offset=".769" stop-color="#2e7bf7"/><stop offset=".777" stop-color="#2e7bf7"/><stop offset=".781" stop-color="#3079f7"/><stop offset=".79" stop-color="#3079f7"/><stop offset=".794" stop-color="#3176f8"/><stop offset=".802" stop-color="#3176f8"/><stop offset=".835" stop-color="#396bf9"/><stop offset=".848" stop-color="#4062fa"/><stop offset=".852" stop-color="#4062fa"/><stop offset=".873" stop-color="#504afc"/><stop offset=".885" stop-color="#5641fd"/><stop offset=".89" stop-color="#5641fd"/><stop offset=".898" stop-color="#5a3bfd"/><stop offset=".902" stop-color="#5a3bfd"/><stop offset=".91" stop-color="#5e35fe"/><stop offset=".915" stop-color="#5e35fe"/><stop offset=".919" stop-color="#6032fe"/><stop offset=".927" stop-color="#6032fe"/><stop offset=".94" stop-color="#642cfe"/><stop offset=".948" stop-color="#642cfe"/><stop offset=".952" stop-color="#6629fe"/><stop offset=".96" stop-color="#6629fe"/><stop offset=".965" stop-color="#6826fe"/><stop offset=".998" stop-color="#6826fe"/></linearGradient><linearGradient id="c88" x2="0" y2="1"><stop offset=".002" stop-color="#abf69b"/><stop offset=".231" stop-color="#abf69b"/><stop offset=".235" stop-color="#00b5eb"/><stop offset=".473" stop-color="#00b5eb"/><stop offset=".477" stop-color="#01b3ec"/><stop offset=".506" stop-color="#01b3ec"/><stop offset=".51" stop-color="#04b0ed"/><stop offset=".527" stop-color="#04b0ed"/><stop offset=".544" stop-color="#08acee"/><stop offset=".556" stop-color="#08acee"/><stop offset=".569" stop-color="#0ca7ef"/><stop offset=".59" stop-color="#0ea5ef"/><stop offset=".602" stop-color="#11a0f1"/><stop offset=".665" stop-color="#1996f3"/><stop offset=".706" stop-color="#2489f5"/><stop offset=".752" stop-color="#2981f6"/><stop offset=".769" stop-color="#2e7bf7"/><stop offset=".777" stop-color="#2e7bf7"/><stop offset=".781" stop-color="#3079f7"/><stop offset=".794" stop-color="#3079f7"/><stop offset=".806" stop-color="#3473f8"/><stop offset=".823" stop-color="#3670f8"/><stop offset=".831" stop-color="#396bf9"/><stop offset=".835" stop-color="#396bf9"/><stop offset=".856" stop-color="#445cfb"/><stop offset=".877" stop-color="#5641fd"/><stop offset=".89" stop-color="#5c38fd"/><stop offset=".894" stop-color="#5c38fd"/><stop offset=".91" stop-color="#642cfe"/><stop offset=".923" stop-color="#6629fe"/><stop offset=".935" stop-color="#6a22fe"/><stop offset=".956" stop-color="#6c1fff"/><stop offset=".96" stop-color="#6e1cff"/><stop offset=".973" stop-color="#6e1cff"/><stop offset=".977" stop-color="#7019ff"/><stop offset=".998" stop-color="#7019ff"/></linearGradient><linearGradient id="c89" x2="0" y2="1"><stop offset=".002" stop-color="#abf69b"/><stop offset=".244" stop-color="#abf69b"/><stop offset=".248" stop-color="#00b5eb"/><stop offset=".473" stop-color="#00b5eb"/><stop offset=".477" stop-color="#01b3ec"/><stop offset=".527" stop-color="#04b0ed"/><stop offset=".544" stop-color="#08acee"/><stop offset=".556" stop-color="#08acee"/><stop offset=".569" stop-color="#0ca7ef"/><stop offset=".59" stop-color="#0ea5ef"/><stop offset=".594" stop-color="#10a2f0"/><stop offset=".602" stop-color="#10a2f0"/><stop offset=".606" stop-color="#11a0f1"/><stop offset=".652" stop-color="#169bf2"/><stop offset=".719" stop-color="#2686f5"/><stop offset=".752" stop-color="#2981f6"/><stop offset=".769" stop-color="#2e7bf7"/><stop offset=".777" stop-color="#2e7bf7"/><stop offset=".781" stop-color="#3079f7"/><stop offset=".794" stop-color="#3079f7"/><stop offset=".806" stop-color="#3473f8"/><stop offset=".823" stop-color="#3670f8"/><stop offset=".831" stop-color="#396bf9"/><stop offset=".835" stop-color="#396bf9"/><stop offset=".86" stop-color="#4659fb"/><stop offset=".869" stop-color="#4e4dfc"/><stop offset=".898" stop-color="#5c38fd"/><stop offset=".902" stop-color="#5c38fd"/><stop offset=".91" stop-color="#6032fe"/><stop offset=".923" stop-color="#622ffe"/><stop offset=".935" stop-color="#6629fe"/><stop offset=".956" stop-color="#6826fe"/><stop offset=".96" stop-color="#6a22fe"/><stop offset=".998" stop-color="#6c1fff"/></linearGradient><linearGradient id="c90" x2="0" y2="1"><stop offset=".002" stop-color="#abf69b"/><stop offset=".256" stop-color="#abf69b"/><stop offset=".26" stop-color="#00b5eb"/><stop offset=".473" stop-color="#00b5eb"/><stop offset=".477" stop-color="#01b3ec"/><stop offset=".527" stop-color="#04b0ed"/><stop offset=".544" stop-color="#08acee"/><stop offset=".556" stop-color="#08acee"/><stop offset=".581" stop-color="#0ea5ef"/><stop offset=".631" stop-color="#0ea5ef"/><stop offset=".635" stop-color="#10a2f0"/><stop offset=".644" stop-color="#10a2f0"/><stop offset=".673" stop-color="#1996f3"/><stop offset=".677" stop-color="#1996f3"/><stop offset=".685" stop-color="#1e91f3"/><stop offset=".719" stop-color="#2686f5"/><stop offset=".752" stop-color="#2981f6"/><stop offset=".769" stop-color="#2e7bf7"/><stop offset=".777" stop-color="#2e7bf7"/><stop offset=".781" stop-color="#3079f7"/><stop offset=".794" stop-color="#3079f7"/><stop offset=".798" stop-color="#3176f8"/><stop offset=".806" stop-color="#3176f8"/><stop offset=".831" stop-color="#386df9"/><stop offset=".856" stop-color="#425ffa"/><stop offset=".881" stop-color="#5444fd"/><stop offset=".885" stop-color="#5444fd"/><stop offset=".906" stop-color="#5c38fd"/><stop offset=".919" stop-color="#5e35fe"/><stop offset=".923" stop-color="#6032fe"/><stop offset=".944" stop-color="#622ffe"/><stop offset=".948" stop-color="#642cfe"/><stop offset=".956" stop-color="#642cfe"/><stop offset=".96" stop-color="#6629fe"/><stop offset=".969" stop-color="#6629fe"/><stop offset=".973" stop-color="#6826fe"/><stop offset=".998" stop-color="#6826fe"/></linearGradient><linearGradient id="c91" x2="0" y2="1"><stop offset=".002" stop-color="#abf69b"/><stop offset=".265" stop-color="#abf69b"/><stop offset=".269" stop-color="#00b5eb"/><stop offset=".473" stop-color="#00b5eb"/><stop offset=".477" stop-color="#01b3ec"/><stop offset=".527" stop-color="#04b0ed"/><stop offset=".544" stop-color="#08acee"/><stop offset=".569" stop-color="#09a9ee"/><stop offset=".573" stop-color="#0ca7ef"/><stop offset=".585" stop-color="#09a9ee"/><stop offset=".602" stop-color="#04b0ed"/><stop offset=".623" stop-color="#04b0ed"/><stop offset=".631" stop-color="#08acee"/><stop offset=".635" stop-color="#08acee"/><stop offset=".656" stop-color="#11a0f1"/><stop offset=".66" stop-color="#11a0f1"/><stop offset=".677" stop-color="#1996f3"/><stop offset=".681" stop-color="#1996f3"/><stop offset=".694" stop-color="#208ef4"/><stop offset=".719" stop-color="#2686f5"/><stop offset=".752" stop-color="#2981f6"/><stop offset=".769" stop-color="#2e7bf7"/><stop offset=".777" stop-color="#2e7bf7"/><stop offset=".781" stop-color="#3079f7"/><stop offset=".806" stop-color="#3176f8"/><stop offset=".831" stop-color="#386df9"/><stop offset=".856" stop-color="#445cfb"/><stop offset=".865" stop-color="#4a53fb"/><stop offset=".873" stop-color="#5247fc"/><stop offset=".902" stop-color="#6032fe"/><stop offset=".906" stop-color="#6032fe"/><stop offset=".915" stop-color="#642cfe"/><stop offset=".927" stop-color="#6629fe"/><stop offset=".94" stop-color="#6a22fe"/><stop offset=".96" stop-color="#6c1fff"/><stop offset=".965" stop-color="#6e1cff"/><stop offset=".977" stop-color="#6e1cff"/><stop offset=".981" stop-color="#7019ff"/><stop offset=".998" stop-color="#7019ff"/></linearGradient><linearGradient id="c92" x2="0" y2="1"><stop offset=".002" stop-color="#abf69b"/><stop offset=".277" stop-color="#abf69b"/><stop offset=".281" stop-color="#00b5eb"/><stop offset=".473" stop-color="#00b5eb"/><stop offset=".477" stop-color="#01b3ec"/><stop offset=".506" stop-color="#01b3ec"/><stop offset=".51" stop-color="#04b0ed"/><stop offset=".527" stop-color="#04b0ed"/><stop offset=".548" stop-color="#08acee"/><stop offset=".56" stop-color="#08acee"/><stop offset=".569" stop-color="#01b3ec"/><stop offset=".577" stop-color="#08bee9"/><stop offset=".585" stop-color="#0dc2e8"/><stop offset=".598" stop-color="#0dc2e8"/><stop offset=".627" stop-color="#00b5eb"/><stop offset=".669" stop-color="#169bf2"/><stop offset=".673" stop-color="#169bf2"/><stop offset=".702" stop-color="#218cf4"/><stop offset=".719" stop-color="#2686f5"/><stop offset=".727" stop-color="#2686f5"/><stop offset=".731" stop-color="#2884f6"/><stop offset=".74" stop-color="#2884f6"/><stop offset=".744" stop-color="#2981f6"/><stop offset=".752" stop-color="#2981f6"/><stop offset=".756" stop-color="#2c7ef7"/><stop offset=".765" stop-color="#2c7ef7"/><stop offset=".769" stop-color="#2e7bf7"/><stop offset=".781" stop-color="#2e7bf7"/><stop offset=".798" stop-color="#3176f8"/><stop offset=".806" stop-color="#3176f8"/><stop offset=".831" stop-color="#386df9"/><stop offset=".84" stop-color="#3c68f9"/><stop offset=".844" stop-color="#3c68f9"/><stop offset=".852" stop-color="#4062fa"/><stop offset=".873" stop-color="#504afc"/><stop offset=".894" stop-color="#5a3bfd"/><stop offset=".898" stop-color="#5a3bfd"/><stop offset=".906" stop-color="#5e35fe"/><stop offset=".927" stop-color="#622ffe"/><stop offset=".94" stop-color="#6629fe"/><stop offset=".948" stop-color="#6629fe"/><stop offset=".952" stop-color="#6826fe"/><stop offset=".965" stop-color="#6826fe"/><stop offset=".969" stop-color="#6a22fe"/><stop offset=".981" stop-color="#6a22fe"/><stop offset=".985" stop-color="#6c1fff"/><stop offset=".998" stop-color="#6c1fff"/></linearGradient><linearGradient id="c93" x2="0" y2="1"><stop offset=".002" stop-color="#abf69b"/><stop offset=".29" stop-color="#abf69b"/><stop offset=".294" stop-color="#00b5eb"/><stop offset=".473" stop-color="#00b5eb"/><stop offset=".477" stop-color="#01b3ec"/><stop offset=".535" stop-color="#04b0ed"/><stop offset=".544" stop-color="#00b5eb"/><stop offset=".548" stop-color="#04b9ea"/><stop offset=".56" stop-color="#17cbe4"/><stop offset=".577" stop-color="#18cde4"/><stop offset=".59" stop-color="#14cae5"/><stop offset=".631" stop-color="#00b5eb"/><stop offset=".635" stop-color="#04b0ed"/><stop offset=".69" stop-color="#1e91f3"/><stop offset=".694" stop-color="#1e91f3"/><stop offset=".702" stop-color="#218cf4"/><stop offset=".719" stop-color="#2686f5"/><stop offset=".727" stop-color="#2686f5"/><stop offset=".731" stop-color="#2884f6"/><stop offset=".74" stop-color="#2884f6"/><stop offset=".744" stop-color="#2981f6"/><stop offset=".752" stop-color="#2981f6"/><stop offset=".756" stop-color="#2c7ef7"/><stop offset=".765" stop-color="#2c7ef7"/><stop offset=".769" stop-color="#2e7bf7"/><stop offset=".781" stop-color="#2e7bf7"/><stop offset=".798" stop-color="#3176f8"/><stop offset=".806" stop-color="#3176f8"/><stop offset=".831" stop-color="#386df9"/><stop offset=".856" stop-color="#425ffa"/><stop offset=".869" stop-color="#4c50fc"/><stop offset=".89" stop-color="#5641fd"/><stop offset=".894" stop-color="#5641fd"/><stop offset=".902" stop-color="#5a3bfd"/><stop offset=".915" stop-color="#5c38fd"/><stop offset=".927" stop-color="#6032fe"/><stop offset=".948" stop-color="#622ffe"/><stop offset=".952" stop-color="#642cfe"/><stop offset=".96" stop-color="#642cfe"/><stop offset=".965" stop-color="#6629fe"/><stop offset=".977" stop-color="#6629fe"/><stop offset=".981" stop-color="#6826fe"/><stop offset=".998" stop-color="#6826fe"/></linearGradient><linearGradient id="c94" x2="0" y2="1"><stop offset=".002" stop-color="#abf69b"/><stop offset=".298" stop-color="#abf69b"/><stop offset=".302" stop-color="#00b5eb"/><stop offset=".498" stop-color="#00b5eb"/><stop offset=".51" stop-color="#07bbea"/><stop offset=".523" stop-color="#12c8e6"/><stop offset=".54" stop-color="#1dd1e2"/><stop offset=".565" stop-color="#1dd1e2"/><stop offset=".581" stop-color="#18cde4"/><stop offset=".631" stop-color="#00b5eb"/><stop offset=".635" stop-color="#01b3ec"/><stop offset=".64" stop-color="#06aeed"/><stop offset=".69" stop-color="#1e91f3"/><stop offset=".694" stop-color="#1e91f3"/><stop offset=".702" stop-color="#218cf4"/><stop offset=".719" stop-color="#2686f5"/><stop offset=".727" stop-color="#2686f5"/><stop offset=".731" stop-color="#2884f6"/><stop offset=".74" stop-color="#2884f6"/><stop offset=".744" stop-color="#2981f6"/><stop offset=".752" stop-color="#2981f6"/><stop offset=".756" stop-color="#2c7ef7"/><stop offset=".765" stop-color="#2c7ef7"/><stop offset=".769" stop-color="#2e7bf7"/><stop offset=".781" stop-color="#2e7bf7"/><stop offset=".798" stop-color="#3176f8"/><stop offset=".806" stop-color="#3176f8"/><stop offset=".831" stop-color="#386df9"/><stop offset=".844" stop-color="#3e65fa"/><stop offset=".852" stop-color="#4062fa"/><stop offset=".877" stop-color="#5444fd"/><stop offset=".91" stop-color="#622ffe"/><stop offset=".931" stop-color="#6629fe"/><stop offset=".944" stop-color="#6a22fe"/><stop offset=".952" stop-color="#6a22fe"/><stop offset=".956" stop-color="#6c1fff"/><stop offset=".969" stop-color="#6c1fff"/><stop offset=".973" stop-color="#6e1cff"/><stop offset=".99" stop-color="#6e1cff"/><stop offset=".994" stop-color="#7019ff"/><stop offset=".998" stop-color="#7019ff"/></linearGradient><linearGradient id="c95" x2="0" y2="1"><stop offset=".002" stop-color="#ff4121"/><stop offset=".006" stop-color="#abf69b"/><stop offset=".31" stop-color="#abf69b"/><stop offset=".315" stop-color="#00b5eb"/><stop offset=".452" stop-color="#00b5eb"/><stop offset=".469" stop-color="#08bee9"/><stop offset=".481" stop-color="#14cae5"/><stop offset=".498" stop-color="#1dd1e2"/><stop offset=".548" stop-color="#1fd3e1"/><stop offset=".573" stop-color="#1acfe3"/><stop offset=".585" stop-color="#17cbe4"/><stop offset=".631" stop-color="#00b5eb"/><stop offset=".635" stop-color="#01b3ec"/><stop offset=".64" stop-color="#06aeed"/><stop offset=".69" stop-color="#1e91f3"/><stop offset=".694" stop-color="#1e91f3"/><stop offset=".702" stop-color="#218cf4"/><stop offset=".719" stop-color="#2686f5"/><stop offset=".727" stop-color="#2686f5"/><stop offset=".731" stop-color="#2884f6"/><stop offset=".74" stop-color="#2884f6"/><stop offset=".744" stop-color="#2981f6"/><stop offset=".752" stop-color="#2981f6"/><stop offset=".756" stop-color="#2c7ef7"/><stop offset=".765" stop-color="#2c7ef7"/><stop offset=".769" stop-color="#2e7bf7"/><stop offset=".781" stop-color="#2e7bf7"/><stop offset=".798" stop-color="#3176f8"/><stop offset=".806" stop-color="#3176f8"/><stop offset=".81" stop-color="#3473f8"/><stop offset=".819" stop-color="#3473f8"/><stop offset=".827" stop-color="#386df9"/><stop offset=".84" stop-color="#396bf9"/><stop offset=".856" stop-color="#425ffa"/><stop offset=".865" stop-color="#4856fb"/><stop offset=".873" stop-color="#504afc"/><stop offset=".902" stop-color="#5c38fd"/><stop offset=".923" stop-color="#6032fe"/><stop offset=".935" stop-color="#642cfe"/><stop offset=".956" stop-color="#6629fe"/><stop offset=".96" stop-color="#6826fe"/><stop offset=".969" stop-color="#6826fe"/><stop offset=".973" stop-color="#6a22fe"/><stop offset=".994" stop-color="#6a22fe"/><stop offset=".998" stop-color="#6c1fff"/></linearGradient><linearGradient id="c96" x2="0" y2="1"><stop offset=".002" stop-color="#ff4121"/><stop offset=".01" stop-color="#ff4121"/><stop offset=".015" stop-color="#abf69b"/><stop offset=".323" stop-color="#abf69b"/><stop offset=".327" stop-color="#02b7eb"/><stop offset=".398" stop-color="#02b7eb"/><stop offset=".419" stop-color="#08bee9"/><stop offset=".427" stop-color="#0fc4e7"/><stop offset=".456" stop-color="#1dd1e2"/><stop offset=".473" stop-color="#1fd3e1"/><stop offset=".548" stop-color="#1fd3e1"/><stop offset=".565" stop-color="#1dd1e2"/><stop offset=".581" stop-color="#18cde4"/><stop offset=".631" stop-color="#00b5eb"/><stop offset=".69" stop-color="#1e91f3"/><stop offset=".694" stop-color="#1e91f3"/><stop offset=".702" stop-color="#218cf4"/><stop offset=".719" stop-color="#2686f5"/><stop offset=".727" stop-color="#2686f5"/><stop offset=".731" stop-color="#2884f6"/><stop offset=".74" stop-color="#2884f6"/><stop offset=".744" stop-color="#2981f6"/><stop offset=".752" stop-color="#2981f6"/><stop offset=".756" stop-color="#2c7ef7"/><stop offset=".765" stop-color="#2c7ef7"/><stop offset=".769" stop-color="#2e7bf7"/><stop offset=".798" stop-color="#3079f7"/><stop offset=".81" stop-color="#3473f8"/><stop offset=".827" stop-color="#3670f8"/><stop offset=".835" stop-color="#396bf9"/><stop offset=".84" stop-color="#396bf9"/><stop offset=".86" stop-color="#445cfb"/><stop offset=".873" stop-color="#4e4dfc"/><stop offset=".898" stop-color="#583efd"/><stop offset=".91" stop-color="#5a3bfd"/><stop offset=".923" stop-color="#5e35fe"/><stop offset=".931" stop-color="#5e35fe"/><stop offset=".944" stop-color="#622ffe"/><stop offset=".952" stop-color="#622ffe"/><stop offset=".956" stop-color="#642cfe"/><stop offset=".969" stop-color="#642cfe"/><stop offset=".973" stop-color="#6629fe"/><stop offset=".99" stop-color="#6629fe"/><stop offset=".994" stop-color="#6826fe"/><stop offset=".998" stop-color="#6826fe"/></linearGradient><linearGradient id="c97" x2="0" y2="1"><stop offset=".002" stop-color="#ff4121"/><stop offset=".019" stop-color="#ff4121"/><stop offset=".023" stop-color="#abf69b"/><stop offset=".335" stop-color="#abf69b"/><stop offset=".34" stop-color="#1dd1e2"/><stop offset=".548" stop-color="#1fd3e1"/><stop offset=".581" stop-color="#18cde4"/><stop offset=".631" stop-color="#00b5eb"/><stop offset=".685" stop-color="#1c93f3"/><stop offset=".69" stop-color="#1c93f3"/><stop offset=".702" stop-color="#218cf4"/><stop offset=".719" stop-color="#2686f5"/><stop offset=".727" stop-color="#2686f5"/><stop offset=".731" stop-color="#2884f6"/><stop offset=".74" stop-color="#2884f6"/><stop offset=".744" stop-color="#2981f6"/><stop offset=".752" stop-color="#2981f6"/><stop offset=".756" stop-color="#2c7ef7"/><stop offset=".765" stop-color="#2c7ef7"/><stop offset=".769" stop-color="#2e7bf7"/><stop offset=".781" stop-color="#2e7bf7"/><stop offset=".785" stop-color="#3079f7"/><stop offset=".81" stop-color="#3176f8"/><stop offset=".827" stop-color="#3670f8"/><stop offset=".835" stop-color="#396bf9"/><stop offset=".84" stop-color="#396bf9"/><stop offset=".856" stop-color="#425ffa"/><stop offset=".865" stop-color="#4a53fb"/><stop offset=".877" stop-color="#5247fc"/><stop offset=".881" stop-color="#5641fd"/><stop offset=".885" stop-color="#5641fd"/><stop offset=".906" stop-color="#6032fe"/><stop offset=".927" stop-color="#642cfe"/><stop offset=".94" stop-color="#6826fe"/><stop offset=".96" stop-color="#6a22fe"/><stop offset=".965" stop-color="#6c1fff"/><stop offset=".977" stop-color="#6c1fff"/><stop offset=".981" stop-color="#6e1cff"/><stop offset=".998" stop-color="#6e1cff"/></linearGradient><linearGradient id="c98" x2="0" y2="1"><stop offset=".002" stop-color="#ff4121"/><stop offset=".023" stop-color="#ff4121"/><stop offset=".027" stop-color="#abf69b"/><stop offset=".348" stop-color="#abf69b"/><stop offset=".352" stop-color="#22d6e0"/><stop offset=".356" stop-color="#1fd3e1"/><stop offset=".548" stop-color="#1fd3e1"/><stop offset=".581" stop-color="#18cde4"/><stop offset=".631" stop-color="#00b5eb"/><stop offset=".685" stop-color="#1c93f3"/><stop offset=".69" stop-color="#1c93f3"/><stop offset=".702" stop-color="#218cf4"/><stop offset=".719" stop-color="#2686f5"/><stop offset=".727" stop-color="#2686f5"/><stop offset=".731" stop-color="#2884f6"/><stop offset=".74" stop-color="#2884f6"/><stop offset=".744" stop-color="#2981f6"/><stop offset=".752" stop-color="#2981f6"/><stop offset=".756" stop-color="#2c7ef7"/><stop offset=".765" stop-color="#2c7ef7"/><stop offset=".769" stop-color="#2e7bf7"/><stop offset=".781" stop-color="#2e7bf7"/><stop offset=".785" stop-color="#3079f7"/><stop offset=".81" stop-color="#3176f8"/><stop offset=".827" stop-color="#3670f8"/><stop offset=".835" stop-color="#396bf9"/><stop offset=".84" stop-color="#396bf9"/><stop offset=".86" stop-color="#445cfb"/><stop offset=".869" stop-color="#4c50fc"/><stop offset=".898" stop-color="#5a3bfd"/><stop offset=".91" stop-color="#5c38fd"/><stop offset=".919" stop-color="#6032fe"/><stop offset=".927" stop-color="#6032fe"/><stop offset=".94" stop-color="#642cfe"/><stop offset=".96" stop-color="#6629fe"/><stop offset=".965" stop-color="#6826fe"/><stop offset=".977" stop-color="#6826fe"/><stop offset=".981" stop-color="#6a22fe"/><stop offset=".998" stop-color="#6a22fe"/></linearGradient><linearGradient id="c99" x2="0" y2="1"><stop offset=".002" stop-color="#ff4121"/><stop offset=".031" stop-color="#ff4121"/><stop offset=".035" stop-color="#abf69b"/><stop offset=".36" stop-color="#abf69b"/><stop offset=".365" stop-color="#2ddedc"/><stop offset=".369" stop-color="#24d8df"/><stop offset=".381" stop-color="#1fd3e1"/><stop offset=".548" stop-color="#1fd3e1"/><stop offset=".565" stop-color="#1dd1e2"/><stop offset=".581" stop-color="#18cde4"/><stop offset=".631" stop-color="#00b5eb"/><stop offset=".685" stop-color="#1c93f3"/><stop offset=".69" stop-color="#1c93f3"/><stop offset=".702" stop-color="#218cf4"/><stop offset=".719" stop-color="#2686f5"/><stop offset=".727" stop-color="#2686f5"/><stop offset=".731" stop-color="#2884f6"/><stop offset=".74" stop-color="#2884f6"/><stop offset=".744" stop-color="#2981f6"/><stop offset=".752" stop-color="#2981f6"/><stop offset=".756" stop-color="#2c7ef7"/><stop offset=".765" stop-color="#2c7ef7"/><stop offset=".769" stop-color="#2e7bf7"/><stop offset=".781" stop-color="#2e7bf7"/><stop offset=".785" stop-color="#3079f7"/><stop offset=".81" stop-color="#3176f8"/><stop offset=".835" stop-color="#386df9"/><stop offset=".856" stop-color="#4062fa"/><stop offset=".877" stop-color="#504afc"/><stop offset=".881" stop-color="#504afc"/><stop offset=".89" stop-color="#5444fd"/><stop offset=".894" stop-color="#5444fd"/><stop offset=".902" stop-color="#583efd"/><stop offset=".915" stop-color="#5a3bfd"/><stop offset=".927" stop-color="#5e35fe"/><stop offset=".948" stop-color="#6032fe"/><stop offset=".952" stop-color="#622ffe"/><stop offset=".96" stop-color="#622ffe"/><stop offset=".965" stop-color="#642cfe"/><stop offset=".977" stop-color="#642cfe"/><stop offset=".981" stop-color="#6629fe"/><stop offset=".998" stop-color="#6629fe"/></linearGradient><linearGradient id="c100" x2="0" y2="1"><stop offset=".002" stop-color="#ff4121"/><stop offset=".035" stop-color="#ff4121"/><stop offset=".04" stop-color="#abf69b"/><stop offset=".36" stop-color="#abf69b"/><stop offset=".365" stop-color="#5af8c8"/><stop offset=".377" stop-color="#5af8c8"/><stop offset=".381" stop-color="#48f1d0"/><stop offset=".398" stop-color="#2fe0db"/><stop offset=".406" stop-color="#27dade"/><stop offset=".419" stop-color="#20d5e1"/><stop offset=".431" stop-color="#1fd3e1"/><stop offset=".548" stop-color="#1fd3e1"/><stop offset=".565" stop-color="#1dd1e2"/><stop offset=".581" stop-color="#18cde4"/><stop offset=".602" stop-color="#0fc4e7"/><stop offset=".606" stop-color="#0fc4e7"/><stop offset=".61" stop-color="#0ac0e8"/><stop offset=".631" stop-color="#00b5eb"/><stop offset=".685" stop-color="#1c93f3"/><stop offset=".702" stop-color="#208ef4"/><stop offset=".71" stop-color="#2489f5"/><stop offset=".727" stop-color="#2686f5"/><stop offset=".731" stop-color="#2884f6"/><stop offset=".74" stop-color="#2884f6"/><stop offset=".744" stop-color="#2981f6"/><stop offset=".752" stop-color="#2981f6"/><stop offset=".756" stop-color="#2c7ef7"/><stop offset=".765" stop-color="#2c7ef7"/><stop offset=".769" stop-color="#2e7bf7"/><stop offset=".785" stop-color="#2e7bf7"/><stop offset=".79" stop-color="#3079f7"/><stop offset=".81" stop-color="#3176f8"/><stop offset=".835" stop-color="#386df9"/><stop offset=".856" stop-color="#425ffa"/><stop offset=".865" stop-color="#4856fb"/><stop offset=".873" stop-color="#504afc"/><stop offset=".898" stop-color="#5c38fd"/><stop offset=".902" stop-color="#5c38fd"/><stop offset=".91" stop-color="#6032fe"/><stop offset=".915" stop-color="#6032fe"/><stop offset=".923" stop-color="#642cfe"/><stop offset=".931" stop-color="#642cfe"/><stop offset=".944" stop-color="#6826fe"/><stop offset=".952" stop-color="#6826fe"/><stop offset=".956" stop-color="#6a22fe"/><stop offset=".969" stop-color="#6a22fe"/><stop offset=".973" stop-color="#6c1fff"/><stop offset=".99" stop-color="#6c1fff"/><stop offset=".994" stop-color="#6e1cff"/><stop offset=".998" stop-color="#6e1cff"/></linearGradient><linearGradient id="c101" x2="0" y2="1"><stop offset=".002" stop-color="#ff4121"/><stop offset=".044" stop-color="#ff4121"/><stop offset=".048" stop-color="#abf69b"/><stop offset=".348" stop-color="#abf69b"/><stop offset=".352" stop-color="#5af8c8"/><stop offset=".402" stop-color="#58f8c9"/><stop offset=".423" stop-color="#50f4cc"/><stop offset=".44" stop-color="#3febd5"/><stop offset=".452" stop-color="#2fe0db"/><stop offset=".473" stop-color="#22d6e0"/><stop offset=".494" stop-color="#1fd3e1"/><stop offset=".548" stop-color="#1fd3e1"/><stop offset=".573" stop-color="#1acfe3"/><stop offset=".594" stop-color="#14cae5"/><stop offset=".631" stop-color="#02b7eb"/><stop offset=".635" stop-color="#01b3ec"/><stop offset=".698" stop-color="#208ef4"/><stop offset=".702" stop-color="#208ef4"/><stop offset=".71" stop-color="#2489f5"/><stop offset=".727" stop-color="#2686f5"/><stop offset=".731" stop-color="#2884f6"/><stop offset=".74" stop-color="#2884f6"/><stop offset=".744" stop-color="#2981f6"/><stop offset=".752" stop-color="#2981f6"/><stop offset=".756" stop-color="#2c7ef7"/><stop offset=".785" stop-color="#2e7bf7"/><stop offset=".79" stop-color="#3079f7"/><stop offset=".81" stop-color="#3176f8"/><stop offset=".835" stop-color="#386df9"/><stop offset=".852" stop-color="#3e65fa"/><stop offset=".873" stop-color="#4e4dfc"/><stop offset=".89" stop-color="#5641fd"/><stop offset=".894" stop-color="#5641fd"/><stop offset=".902" stop-color="#5a3bfd"/><stop offset=".906" stop-color="#5a3bfd"/><stop offset=".915" stop-color="#5e35fe"/><stop offset=".927" stop-color="#6032fe"/><stop offset=".931" stop-color="#622ffe"/><stop offset=".94" stop-color="#622ffe"/><stop offset=".944" stop-color="#642cfe"/><stop offset=".952" stop-color="#642cfe"/><stop offset=".956" stop-color="#6629fe"/><stop offset=".969" stop-color="#6629fe"/><stop offset=".973" stop-color="#6826fe"/><stop offset=".99" stop-color="#6826fe"/><stop offset=".994" stop-color="#6a22fe"/><stop offset=".998" stop-color="#6a22fe"/></linearGradient><linearGradient id="c102" x2="0" y2="1"><stop offset=".002" stop-color="#ff4121"/><stop offset=".048" stop-color="#ff4121"/><stop offset=".052" stop-color="#abf69b"/><stop offset=".335" stop-color="#abf69b"/><stop offset=".34" stop-color="#5af8c8"/><stop offset=".46" stop-color="#58f8c9"/><stop offset=".469" stop-color="#56f7ca"/><stop offset=".494" stop-color="#4af2cf"/><stop offset=".523" stop-color="#32e3da"/><stop offset=".535" stop-color="#2adddd"/><stop offset=".556" stop-color="#22d6e0"/><stop offset=".585" stop-color="#1dd1e2"/><stop offset=".627" stop-color="#08bee9"/><stop offset=".64" stop-color="#00b5eb"/><stop offset=".665" stop-color="#0ea5ef"/><stop offset=".669" stop-color="#11a0f1"/><stop offset=".694" stop-color="#1e91f3"/><stop offset=".71" stop-color="#218cf4"/><stop offset=".719" stop-color="#2686f5"/><stop offset=".81" stop-color="#3176f8"/><stop offset=".844" stop-color="#396bf9"/><stop offset=".856" stop-color="#4062fa"/><stop offset=".869" stop-color="#4a53fb"/><stop offset=".885" stop-color="#5247fc"/><stop offset=".89" stop-color="#5247fc"/><stop offset=".898" stop-color="#5641fd"/><stop offset=".919" stop-color="#5a3bfd"/><stop offset=".931" stop-color="#5e35fe"/><stop offset=".952" stop-color="#6032fe"/><stop offset=".956" stop-color="#622ffe"/><stop offset=".969" stop-color="#622ffe"/><stop offset=".973" stop-color="#642cfe"/><stop offset=".99" stop-color="#642cfe"/><stop offset=".994" stop-color="#6629fe"/><stop offset=".998" stop-color="#6629fe"/></linearGradient><linearGradient id="c103" x2="0" y2="1"><stop offset=".002" stop-color="#ff4121"/><stop offset=".056" stop-color="#ff4121"/><stop offset=".06" stop-color="#abf69b"/><stop offset=".323" stop-color="#abf69b"/><stop offset=".327" stop-color="#5af8c8"/><stop offset=".485" stop-color="#5af8c8"/><stop offset=".49" stop-color="#58f8c9"/><stop offset=".535" stop-color="#58f8c9"/><stop offset=".556" stop-color="#54f6cb"/><stop offset=".581" stop-color="#3febd5"/><stop offset=".59" stop-color="#34e4d9"/><stop offset=".623" stop-color="#14cae5"/><stop offset=".627" stop-color="#12c8e6"/><stop offset=".648" stop-color="#00b5eb"/><stop offset=".652" stop-color="#01b3ec"/><stop offset=".677" stop-color="#149df1"/><stop offset=".706" stop-color="#218cf4"/><stop offset=".731" stop-color="#2884f6"/><stop offset=".752" stop-color="#2981f6"/><stop offset=".756" stop-color="#2c7ef7"/><stop offset=".802" stop-color="#3079f7"/><stop offset=".835" stop-color="#386df9"/><stop offset=".86" stop-color="#445cfb"/><stop offset=".877" stop-color="#5247fc"/><stop offset=".89" stop-color="#583efd"/><stop offset=".894" stop-color="#583efd"/><stop offset=".906" stop-color="#5e35fe"/><stop offset=".91" stop-color="#5e35fe"/><stop offset=".919" stop-color="#622ffe"/><stop offset=".923" stop-color="#622ffe"/><stop offset=".927" stop-color="#642cfe"/><stop offset=".935" stop-color="#642cfe"/><stop offset=".94" stop-color="#6629fe"/><stop offset=".948" stop-color="#6629fe"/><stop offset=".952" stop-color="#6826fe"/><stop offset=".96" stop-color="#6826fe"/><stop offset=".965" stop-color="#6a22fe"/><stop offset=".977" stop-color="#6a22fe"/><stop offset=".981" stop-color="#6c1fff"/><stop offset=".998" stop-color="#6c1fff"/></linearGradient><linearGradient id="c104" x2="0" y2="1"><stop offset=".002" stop-color="#ff4121"/><stop offset=".06" stop-color="#ff4121"/><stop offset=".065" stop-color="#abf69b"/><stop offset=".31" stop-color="#abf69b"/><stop offset=".315" stop-color="#5af8c8"/><stop offset=".51" stop-color="#5af8c8"/><stop offset=".515" stop-color="#58f8c9"/><stop offset=".556" stop-color="#58f8c9"/><stop offset=".577" stop-color="#50f4cc"/><stop offset=".606" stop-color="#37e6d8"/><stop offset=".631" stop-color="#18cde4"/><stop offset=".656" stop-color="#00b5eb"/><stop offset=".681" stop-color="#149df1"/><stop offset=".715" stop-color="#2489f5"/><stop offset=".731" stop-color="#2884f6"/><stop offset=".74" stop-color="#2884f6"/><stop offset=".744" stop-color="#2981f6"/><stop offset=".752" stop-color="#2981f6"/><stop offset=".756" stop-color="#2c7ef7"/><stop offset=".802" stop-color="#3079f7"/><stop offset=".806" stop-color="#3176f8"/><stop offset=".815" stop-color="#3176f8"/><stop offset=".831" stop-color="#3670f8"/><stop offset=".856" stop-color="#4062fa"/><stop offset=".865" stop-color="#4659fb"/><stop offset=".873" stop-color="#4e4dfc"/><stop offset=".885" stop-color="#5444fd"/><stop offset=".89" stop-color="#5444fd"/><stop offset=".898" stop-color="#583efd"/><stop offset=".902" stop-color="#583efd"/><stop offset=".91" stop-color="#5c38fd"/><stop offset=".923" stop-color="#5e35fe"/><stop offset=".927" stop-color="#6032fe"/><stop offset=".935" stop-color="#6032fe"/><stop offset=".94" stop-color="#622ffe"/><stop offset=".948" stop-color="#622ffe"/><stop offset=".952" stop-color="#642cfe"/><stop offset=".96" stop-color="#642cfe"/><stop offset=".965" stop-color="#6629fe"/><stop offset=".977" stop-color="#6629fe"/><stop offset=".981" stop-color="#6826fe"/><stop offset=".998" stop-color="#6826fe"/></linearGradient><linearGradient id="c105" x2="0" y2="1"><stop offset=".002" stop-color="#ff4121"/><stop offset=".069" stop-color="#ff4121"/><stop offset=".073" stop-color="#abf69b"/><stop offset=".298" stop-color="#abf69b"/><stop offset=".302" stop-color="#5af8c8"/><stop offset=".51" stop-color="#5af8c8"/><stop offset=".515" stop-color="#58f8c9"/><stop offset=".556" stop-color="#58f8c9"/><stop offset=".581" stop-color="#4ef3cd"/><stop offset=".598" stop-color="#42edd3"/><stop offset=".61" stop-color="#37e6d8"/><stop offset=".631" stop-color="#20d5e1"/><stop offset=".66" stop-color="#00b5eb"/><stop offset=".681" stop-color="#11a0f1"/><stop offset=".69" stop-color="#169bf2"/><stop offset=".694" stop-color="#1996f3"/><stop offset=".723" stop-color="#2686f5"/><stop offset=".74" stop-color="#2884f6"/><stop offset=".744" stop-color="#2981f6"/><stop offset=".752" stop-color="#2981f6"/><stop offset=".756" stop-color="#2c7ef7"/><stop offset=".769" stop-color="#2c7ef7"/><stop offset=".773" stop-color="#2e7bf7"/><stop offset=".785" stop-color="#2e7bf7"/><stop offset=".79" stop-color="#3079f7"/><stop offset=".815" stop-color="#3176f8"/><stop offset=".831" stop-color="#3670f8"/><stop offset=".84" stop-color="#396bf9"/><stop offset=".844" stop-color="#396bf9"/><stop offset=".86" stop-color="#425ffa"/><stop offset=".873" stop-color="#4c50fc"/><stop offset=".894" stop-color="#5444fd"/><stop offset=".915" stop-color="#583efd"/><stop offset=".927" stop-color="#5c38fd"/><stop offset=".948" stop-color="#5e35fe"/><stop offset=".952" stop-color="#6032fe"/><stop offset=".96" stop-color="#6032fe"/><stop offset=".965" stop-color="#622ffe"/><stop offset=".977" stop-color="#622ffe"/><stop offset=".981" stop-color="#642cfe"/><stop offset=".998" stop-color="#642cfe"/></linearGradient><linearGradient id="c106" x2="0" y2="1"><stop offset=".002" stop-color="#ff4121"/><stop offset=".077" stop-color="#ff4121"/><stop offset=".081" stop-color="#abf69b"/><stop offset=".29" stop-color="#abf69b"/><stop offset=".294" stop-color="#5af8c8"/><stop offset=".51" stop-color="#5af8c8"/><stop offset=".515" stop-color="#58f8c9"/><stop offset=".556" stop-color="#58f8c9"/><stop offset=".581" stop-color="#4ef3cd"/><stop offset=".606" stop-color="#3ae8d6"/><stop offset=".631" stop-color="#22d6e0"/><stop offset=".635" stop-color="#1dd1e2"/><stop offset=".665" stop-color="#00b5eb"/><stop offset=".69" stop-color="#169bf2"/><stop offset=".702" stop-color="#1c93f3"/><stop offset=".706" stop-color="#208ef4"/><stop offset=".71" stop-color="#208ef4"/><stop offset=".723" stop-color="#2686f5"/><stop offset=".74" stop-color="#2884f6"/><stop offset=".744" stop-color="#2981f6"/><stop offset=".752" stop-color="#2981f6"/><stop offset=".756" stop-color="#2c7ef7"/><stop offset=".802" stop-color="#3079f7"/><stop offset=".806" stop-color="#3176f8"/><stop offset=".815" stop-color="#3176f8"/><stop offset=".831" stop-color="#3670f8"/><stop offset=".852" stop-color="#3e65fa"/><stop offset=".873" stop-color="#4e4dfc"/><stop offset=".902" stop-color="#5c38fd"/><stop offset=".915" stop-color="#5e35fe"/><stop offset=".923" stop-color="#622ffe"/><stop offset=".927" stop-color="#622ffe"/><stop offset=".931" stop-color="#642cfe"/><stop offset=".952" stop-color="#6629fe"/><stop offset=".956" stop-color="#6826fe"/><stop offset=".969" stop-color="#6826fe"/><stop offset=".973" stop-color="#6a22fe"/><stop offset=".985" stop-color="#6a22fe"/><stop offset=".99" stop-color="#6c1fff"/><stop offset=".998" stop-color="#6c1fff"/></linearGradient><linearGradient id="c107" x2="0" y2="1"><stop offset=".002" stop-color="#ff4121"/><stop offset=".081" stop-color="#ff4121"/><stop offset=".085" stop-color="#abf69b"/><stop offset=".277" stop-color="#abf69b"/><stop offset=".281" stop-color="#5af8c8"/><stop offset=".51" stop-color="#5af8c8"/><stop offset=".515" stop-color="#58f8c9"/><stop offset=".556" stop-color="#58f8c9"/><stop offset=".581" stop-color="#4ef3cd"/><stop offset=".606" stop-color="#3ae8d6"/><stop offset=".64" stop-color="#1acfe3"/><stop offset=".644" stop-color="#14cae5"/><stop offset=".665" stop-color="#00b5eb"/><stop offset=".677" stop-color="#0ca7ef"/><stop offset=".694" stop-color="#1898f2"/><stop offset=".723" stop-color="#2686f5"/><stop offset=".74" stop-color="#2884f6"/><stop offset=".744" stop-color="#2981f6"/><stop offset=".752" stop-color="#2981f6"/><stop offset=".756" stop-color="#2c7ef7"/><stop offset=".769" stop-color="#2c7ef7"/><stop offset=".773" stop-color="#2e7bf7"/><stop offset=".79" stop-color="#2e7bf7"/><stop offset=".794" stop-color="#3079f7"/><stop offset=".815" stop-color="#3176f8"/><stop offset=".84" stop-color="#386df9"/><stop offset=".856" stop-color="#4062fa"/><stop offset=".869" stop-color="#4a53fb"/><stop offset=".894" stop-color="#5641fd"/><stop offset=".898" stop-color="#5641fd"/><stop offset=".906" stop-color="#5a3bfd"/><stop offset=".919" stop-color="#5c38fd"/><stop offset=".931" stop-color="#6032fe"/><stop offset=".952" stop-color="#622ffe"/><stop offset=".956" stop-color="#642cfe"/><stop offset=".965" stop-color="#642cfe"/><stop offset=".969" stop-color="#6629fe"/><stop offset=".985" stop-color="#6629fe"/><stop offset=".99" stop-color="#6826fe"/><stop offset=".998" stop-color="#6826fe"/></linearGradient><linearGradient id="c108" x2="0" y2="1"><stop offset=".002" stop-color="#ff4121"/><stop offset=".09" stop-color="#ff4121"/><stop offset=".094" stop-color="#abf69b"/><stop offset=".265" stop-color="#abf69b"/><stop offset=".269" stop-color="#5af8c8"/><stop offset=".51" stop-color="#5af8c8"/><stop offset=".515" stop-color="#58f8c9"/><stop offset=".556" stop-color="#58f8c9"/><stop offset=".581" stop-color="#4ef3cd"/><stop offset=".606" stop-color="#3ae8d6"/><stop offset=".64" stop-color="#1acfe3"/><stop offset=".665" stop-color="#00b5eb"/><stop offset=".673" stop-color="#06aeed"/><stop offset=".694" stop-color="#1898f2"/><stop offset=".723" stop-color="#2686f5"/><stop offset=".74" stop-color="#2884f6"/><stop offset=".744" stop-color="#2981f6"/><stop offset=".752" stop-color="#2981f6"/><stop offset=".756" stop-color="#2c7ef7"/><stop offset=".79" stop-color="#2e7bf7"/><stop offset=".806" stop-color="#3176f8"/><stop offset=".815" stop-color="#3176f8"/><stop offset=".84" stop-color="#386df9"/><stop offset=".848" stop-color="#3c68f9"/><stop offset=".852" stop-color="#3c68f9"/><stop offset=".856" stop-color="#4062fa"/><stop offset=".865" stop-color="#445cfb"/><stop offset=".869" stop-color="#4856fb"/><stop offset=".89" stop-color="#5247fc"/><stop offset=".91" stop-color="#5641fd"/><stop offset=".931" stop-color="#5c38fd"/><stop offset=".952" stop-color="#5e35fe"/><stop offset=".956" stop-color="#6032fe"/><stop offset=".969" stop-color="#6032fe"/><stop offset=".973" stop-color="#622ffe"/><stop offset=".99" stop-color="#622ffe"/><stop offset=".994" stop-color="#642cfe"/><stop offset=".998" stop-color="#642cfe"/></linearGradient><linearGradient id="c109" x2="0" y2="1"><stop offset=".002" stop-color="#ff4121"/><stop offset=".094" stop-color="#ff4121"/><stop offset=".098" stop-color="#abf69b"/><stop offset=".252" stop-color="#abf69b"/><stop offset=".256" stop-color="#5af8c8"/><stop offset=".51" stop-color="#5af8c8"/><stop offset=".515" stop-color="#58f8c9"/><stop offset=".556" stop-color="#58f8c9"/><stop offset=".581" stop-color="#4ef3cd"/><stop offset=".606" stop-color="#3ae8d6"/><stop offset=".64" stop-color="#1acfe3"/><stop offset=".665" stop-color="#00b5eb"/><stop offset=".698" stop-color="#1996f3"/><stop offset=".723" stop-color="#2686f5"/><stop offset=".74" stop-color="#2884f6"/><stop offset=".744" stop-color="#2981f6"/><stop offset=".752" stop-color="#2981f6"/><stop offset=".756" stop-color="#2c7ef7"/><stop offset=".769" stop-color="#2c7ef7"/><stop offset=".773" stop-color="#2e7bf7"/><stop offset=".806" stop-color="#3079f7"/><stop offset=".84" stop-color="#386df9"/><stop offset=".856" stop-color="#4062fa"/><stop offset=".865" stop-color="#4659fb"/><stop offset=".873" stop-color="#4e4dfc"/><stop offset=".894" stop-color="#583efd"/><stop offset=".898" stop-color="#583efd"/><stop offset=".906" stop-color="#5c38fd"/><stop offset=".91" stop-color="#5c38fd"/><stop offset=".919" stop-color="#6032fe"/><stop offset=".923" stop-color="#6032fe"/><stop offset=".927" stop-color="#622ffe"/><stop offset=".935" stop-color="#622ffe"/><stop offset=".94" stop-color="#642cfe"/><stop offset=".948" stop-color="#642cfe"/><stop offset=".952" stop-color="#6629fe"/><stop offset=".96" stop-color="#6629fe"/><stop offset=".965" stop-color="#6826fe"/><stop offset=".977" stop-color="#6826fe"/><stop offset=".981" stop-color="#6a22fe"/><stop offset=".998" stop-color="#6a22fe"/></linearGradient><linearGradient id="c110" x2="0" y2="1"><stop offset=".002" stop-color="#ff4121"/><stop offset=".102" stop-color="#ff4121"/><stop offset=".106" stop-color="#abf69b"/><stop offset=".24" stop-color="#abf69b"/><stop offset=".244" stop-color="#5af8c8"/><stop offset=".51" stop-color="#5af8c8"/><stop offset=".515" stop-color="#58f8c9"/><stop offset=".556" stop-color="#58f8c9"/><stop offset=".581" stop-color="#4ef3cd"/><stop offset=".606" stop-color="#3ae8d6"/><stop offset=".64" stop-color="#1acfe3"/><stop offset=".665" stop-color="#00b5eb"/><stop offset=".669" stop-color="#01b3ec"/><stop offset=".681" stop-color="#0ea5ef"/><stop offset=".698" stop-color="#1996f3"/><stop offset=".723" stop-color="#2686f5"/><stop offset=".74" stop-color="#2884f6"/><stop offset=".744" stop-color="#2981f6"/><stop offset=".752" stop-color="#2981f6"/><stop offset=".756" stop-color="#2c7ef7"/><stop offset=".79" stop-color="#2e7bf7"/><stop offset=".794" stop-color="#3079f7"/><stop offset=".806" stop-color="#3079f7"/><stop offset=".819" stop-color="#3473f8"/><stop offset=".827" stop-color="#3473f8"/><stop offset=".835" stop-color="#386df9"/><stop offset=".84" stop-color="#386df9"/><stop offset=".86" stop-color="#425ffa"/><stop offset=".873" stop-color="#4c50fc"/><stop offset=".89" stop-color="#5444fd"/><stop offset=".894" stop-color="#5444fd"/><stop offset=".902" stop-color="#583efd"/><stop offset=".923" stop-color="#5c38fd"/><stop offset=".935" stop-color="#6032fe"/><stop offset=".956" stop-color="#622ffe"/><stop offset=".96" stop-color="#642cfe"/><stop offset=".973" stop-color="#642cfe"/><stop offset=".977" stop-color="#6629fe"/><stop offset=".998" stop-color="#6629fe"/></linearGradient><linearGradient id="c111" x2="0" y2="1"><stop offset=".002" stop-color="#ff4121"/><stop offset=".106" stop-color="#ff4121"/><stop offset=".11" stop-color="#abf69b"/><stop offset=".227" stop-color="#abf69b"/><stop offset=".231" stop-color="#5af8c8"/><stop offset=".51" stop-color="#5af8c8"/><stop offset=".515" stop-color="#58f8c9"/><stop offset=".556" stop-color="#58f8c9"/><stop offset=".581" stop-color="#4ef3cd"/><stop offset=".606" stop-color="#3ae8d6"/><stop offset=".64" stop-color="#1acfe3"/><stop offset=".665" stop-color="#00b5eb"/><stop offset=".669" stop-color="#01b3ec"/><stop offset=".681" stop-color="#0ea5ef"/><stop offset=".698" stop-color="#1996f3"/><stop offset=".723" stop-color="#2686f5"/><stop offset=".74" stop-color="#2884f6"/><stop offset=".744" stop-color="#2981f6"/><stop offset=".752" stop-color="#2981f6"/><stop offset=".756" stop-color="#2c7ef7"/><stop offset=".773" stop-color="#2c7ef7"/><stop offset=".777" stop-color="#2e7bf7"/><stop offset=".79" stop-color="#2e7bf7"/><stop offset=".794" stop-color="#3079f7"/><stop offset=".819" stop-color="#3176f8"/><stop offset=".835" stop-color="#3670f8"/><stop offset=".844" stop-color="#396bf9"/><stop offset=".848" stop-color="#396bf9"/><stop offset=".856" stop-color="#3e65fa"/><stop offset=".869" stop-color="#4856fb"/><stop offset=".885" stop-color="#504afc"/><stop offset=".898" stop-color="#5247fc"/><stop offset=".906" stop-color="#5641fd"/><stop offset=".915" stop-color="#5641fd"/><stop offset=".927" stop-color="#5a3bfd"/><stop offset=".948" stop-color="#5c38fd"/><stop offset=".952" stop-color="#5e35fe"/><stop offset=".96" stop-color="#5e35fe"/><stop offset=".965" stop-color="#6032fe"/><stop offset=".977" stop-color="#6032fe"/><stop offset=".981" stop-color="#622ffe"/><stop offset=".998" stop-color="#622ffe"/></linearGradient>
<linearGradient id="d0" x2="0" y2="1"><stop offset=".002" stop-color="#7c06ff"/><stop offset=".798" stop-color="#7c06ff"/><stop offset=".802" stop-color="#7a09ff"/><stop offset=".815" stop-color="#780dff"/><stop offset=".848" stop-color="#6826fe"/><stop offset=".852" stop-color="#642cfe"/><stop offset=".86" stop-color="#6032fe"/><stop offset=".865" stop-color="#5c38fd"/><stop offset=".873" stop-color="#583efd"/><stop offset=".877" stop-color="#5444fd"/><stop offset=".885" stop-color="#504afc"/><stop offset=".89" stop-color="#4c50fc"/><stop offset=".898" stop-color="#4856fb"/><stop offset=".902" stop-color="#445cfb"/><stop offset=".91" stop-color="#4062fa"/><stop offset=".915" stop-color="#3c68f9"/><stop offset=".944" stop-color="#2e7bf7"/><stop offset=".969" stop-color="#2884f6"/><stop offset=".998" stop-color="#2884f6"/></linearGradient><linearGradient id="d1" x2="0" y2="1"><stop offset=".002" stop-color="#7c06ff"/><stop offset=".806" stop-color="#7c06ff"/><stop offset=".819" stop-color="#780dff"/><stop offset=".831" stop-color="#7610ff"/><stop offset=".852" stop-color="#6e1cff"/><stop offset=".856" stop-color="#6e1cff"/><stop offset=".869" stop-color="#6826fe"/><stop offset=".873" stop-color="#6826fe"/><stop offset=".89" stop-color="#6032fe"/><stop offset=".894" stop-color="#6032fe"/><stop offset=".923" stop-color="#5444fd"/><stop offset=".927" stop-color="#5444fd"/><stop offset=".948" stop-color="#4e4dfc"/><stop offset=".956" stop-color="#4e4dfc"/><stop offset=".96" stop-color="#4c50fc"/><stop offset=".998" stop-color="#4c50fc"/></linearGradient><linearGradient id="d2" x2="0" y2="1"><stop offset=".002" stop-color="#7c06ff"/><stop offset=".998" stop-color="#7c06ff"/></linearGradient><linearGradient id="d3" x2="0" y2="1"><stop offset=".002" stop-color="#7c06ff"/><stop offset=".998" stop-color="#7c06ff"/></linearGradient><linearGradient id="d4" x2="0" y2="1"><stop offset=".002" stop-color="#7c06ff"/><stop offset=".831" stop-color="#7c06ff"/><stop offset=".835" stop-color="#7a09ff"/><stop offset=".998" stop-color="#7a09ff"/></linearGradient><linearGradient id="d5" x2="0" y2="1"><stop offset=".002" stop-color="#7a09ff"/><stop offset=".798" stop-color="#7a09ff"/><stop offset=".802" stop-color="#780dff"/><stop offset=".81" stop-color="#780dff"/><stop offset=".815" stop-color="#7610ff"/><stop offset=".827" stop-color="#7413ff"/><stop offset=".835" stop-color="#7019ff"/><stop offset=".84" stop-color="#7019ff"/><stop offset=".86" stop-color="#6629fe"/><stop offset=".865" stop-color="#6629fe"/><stop offset=".902" stop-color="#5444fd"/><stop offset=".906" stop-color="#5444fd"/><stop offset=".923" stop-color="#4c50fc"/><stop offset=".927" stop-color="#4c50fc"/><stop offset=".935" stop-color="#4856fb"/><stop offset=".952" stop-color="#445cfb"/><stop offset=".96" stop-color="#445cfb"/><stop offset=".965" stop-color="#425ffa"/><stop offset=".998" stop-color="#425ffa"/></linearGradient><linearGradient id="d6" x2="0" y2="1"><stop offset=".002" stop-color="#7a09ff"/><stop offset=".785" stop-color="#7a09ff"/><stop offset=".79" stop-color="#780dff"/><stop offset=".806" stop-color="#780dff"/><stop offset=".81" stop-color="#7610ff"/><stop offset=".819" stop-color="#7610ff"/><stop offset=".827" stop-color="#7216ff"/><stop offset=".84" stop-color="#7019ff"/><stop offset=".848" stop-color="#6c1fff"/><stop offset=".852" stop-color="#6c1fff"/><stop offset=".865" stop-color="#6629fe"/><stop offset=".869" stop-color="#6629fe"/><stop offset=".881" stop-color="#6032fe"/><stop offset=".885" stop-color="#6032fe"/><stop offset=".902" stop-color="#583efd"/><stop offset=".906" stop-color="#583efd"/><stop offset=".927" stop-color="#504afc"/><stop offset=".952" stop-color="#4a53fb"/><stop offset=".969" stop-color="#4a53fb"/><stop offset=".973" stop-color="#4856fb"/><stop offset=".998" stop-color="#4856fb"/></linearGradient><linearGradient id="d7" x2="0" y2="1"><stop offset=".002" stop-color="#780dff"/><stop offset=".915" stop-color="#780dff"/><stop offset=".919" stop-color="#7610ff"/><stop offset=".998" stop-color="#7610ff"/></linearGradient><linearGradient id="d8" x2="0" y2="1"><stop offset=".002" stop-color="#780dff"/><stop offset=".998" stop-color="#780dff"/></linearGradient><linearGradient id="d9" x2="0" y2="1"><stop offset=".002" stop-color="#7610ff"/><stop offset=".998" stop-color="#7610ff"/></linearGradient><linearGradient id="d10" x2="0" y2="1"><stop offset=".002" stop-color="#780dff"/><stop offset=".794" stop-color="#780dff"/><stop offset=".798" stop-color="#7610ff"/><stop offset=".81" stop-color="#7610ff"/><stop offset=".815" stop-color="#7413ff"/><stop offset=".835" stop-color="#7216ff"/><stop offset=".848" stop-color="#6e1cff"/><stop offset=".869" stop-color="#6a22fe"/><stop offset=".877" stop-color="#6629fe"/><stop offset=".881" stop-color="#6629fe"/><stop offset=".935" stop-color="#583efd"/><stop offset=".944" stop-color="#583efd"/><stop offset=".948" stop-color="#5641fd"/><stop offset=".969" stop-color="#5641fd"/><stop offset=".973" stop-color="#5444fd"/><stop offset=".998" stop-color="#5444fd"/></linearGradient><linearGradient id="d11" x2="0" y2="1"><stop offset=".002" stop-color="#780dff"/><stop offset=".802" stop-color="#780dff"/><stop offset=".815" stop-color="#7413ff"/><stop offset=".823" stop-color="#7413ff"/><stop offset=".831" stop-color="#7019ff"/><stop offset=".844" stop-color="#6e1cff"/><stop offset=".856" stop-color="#6826fe"/><stop offset=".86" stop-color="#6826fe"/><stop offset=".877" stop-color="#6032fe"/><stop offset=".881" stop-color="#6032fe"/><stop offset=".898" stop-color="#583efd"/><stop offset=".902" stop-color="#583efd"/><stop offset=".915" stop-color="#5247fc"/><stop offset=".919" stop-color="#5247fc"/><stop offset=".927" stop-color="#4e4dfc"/><stop offset=".944" stop-color="#4a53fb"/><stop offset=".952" stop-color="#4a53fb"/><stop offset=".956" stop-color="#4856fb"/><stop offset=".998" stop-color="#4659fb"/></linearGradient><linearGradient id="d12" x2="0" y2="1"><stop offset=".002" stop-color="#7a09ff"/><stop offset=".84" stop-color="#7a09ff"/><stop offset=".844" stop-color="#780dff"/><stop offset=".998" stop-color="#780dff"/></linearGradient><linearGradient id="d13" x2="0" y2="1"><stop offset=".002" stop-color="#7a09ff"/><stop offset=".998" stop-color="#7a09ff"/></linearGradient><linearGradient id="d14" x2="0" y2="1"><stop offset=".002" stop-color="#7c06ff"/><stop offset=".998" stop-color="#7c06ff"/></linearGradient><linearGradient id="d15" x2="0" y2="1"><stop offset=".002" stop-color="#7c06ff"/><stop offset=".806" stop-color="#7c06ff"/><stop offset=".81" stop-color="#7a09ff"/><stop offset=".827" stop-color="#7a09ff"/><stop offset=".831" stop-color="#780dff"/><stop offset=".852" stop-color="#7610ff"/><stop offset=".865" stop-color="#7216ff"/><stop offset=".873" stop-color="#7216ff"/><stop offset=".885" stop-color="#6e1cff"/><stop offset=".894" stop-color="#6e1cff"/><stop offset=".906" stop-color="#6a22fe"/><stop offset=".915" stop-color="#6a22fe"/><stop offset=".919" stop-color="#6826fe"/><stop offset=".927" stop-color="#6826fe"/><stop offset=".931" stop-color="#6629fe"/><stop offset=".944" stop-color="#6629fe"/><stop offset=".948" stop-color="#642cfe"/><stop offset=".998" stop-color="#642cfe"/></linearGradient><linearGradient id="d16" x2="0" y2="1"><stop offset=".002" stop-color="#7c06ff"/><stop offset=".802" stop-color="#7c06ff"/><stop offset=".815" stop-color="#780dff"/><stop offset=".827" stop-color="#7610ff"/><stop offset=".835" stop-color="#7216ff"/><stop offset=".84" stop-color="#7216ff"/><stop offset=".856" stop-color="#6a22fe"/><stop offset=".86" stop-color="#6a22fe"/><stop offset=".902" stop-color="#5641fd"/><stop offset=".906" stop-color="#5641fd"/><stop offset=".923" stop-color="#4e4dfc"/><stop offset=".927" stop-color="#4e4dfc"/><stop offset=".935" stop-color="#4a53fb"/><stop offset=".952" stop-color="#4659fb"/><stop offset=".96" stop-color="#4659fb"/><stop offset=".965" stop-color="#445cfb"/><stop offset=".998" stop-color="#445cfb"/></linearGradient><linearGradient id="d17" x2="0" y2="1"><stop offset=".002" stop-color="#7c06ff"/><stop offset=".86" stop-color="#7c06ff"/><stop offset=".865" stop-color="#7a09ff"/><stop offset=".919" stop-color="#7a09ff"/><stop offset=".923" stop-color="#780dff"/><stop offset=".998" stop-color="#780dff"/></linearGradient><linearGradient id="d18" x2="0" y2="1"><stop offset=".002" stop-color="#7c06ff"/><stop offset=".998" stop-color="#7c06ff"/></linearGradient><linearGradient id="d19" x2="0" y2="1"><stop offset=".002" stop-color="#7c06ff"/><stop offset=".998" stop-color="#7c06ff"/></linearGradient><linearGradient id="d20" x2="0" y2="1"><stop offset=".002" stop-color="#7c06ff"/><stop offset=".823" stop-color="#7c06ff"/><stop offset=".827" stop-color="#7a09ff"/><stop offset=".844" stop-color="#7a09ff"/><stop offset=".848" stop-color="#780dff"/><stop offset=".86" stop-color="#780dff"/><stop offset=".865" stop-color="#7610ff"/><stop offset=".873" stop-color="#7610ff"/><stop offset=".877" stop-color="#7413ff"/><stop offset=".89" stop-color="#7413ff"/><stop offset=".894" stop-color="#7216ff"/><stop offset=".906" stop-color="#7216ff"/><stop offset=".91" stop-color="#7019ff"/><stop offset=".923" stop-color="#7019ff"/><stop offset=".927" stop-color="#6e1cff"/><stop offset=".944" stop-color="#6e1cff"/><stop offset=".948" stop-color="#6c1fff"/><stop offset=".998" stop-color="#6c1fff"/></linearGradient><linearGradient id="d21" x2="0" y2="1"><stop offset=".002" stop-color="#7c06ff"/><stop offset=".802" stop-color="#7c06ff"/><stop offset=".815" stop-color="#780dff"/><stop offset=".827" stop-color="#7610ff"/><stop offset=".84" stop-color="#7019ff"/><stop offset=".844" stop-color="#7019ff"/><stop offset=".91" stop-color="#504afc"/><stop offset=".915" stop-color="#504afc"/><stop offset=".931" stop-color="#4856fb"/><stop offset=".935" stop-color="#4856fb"/><stop offset=".944" stop-color="#445cfb"/><stop offset=".96" stop-color="#425ffa"/><stop offset=".965" stop-color="#4062fa"/><stop offset=".998" stop-color="#4062fa"/></linearGradient><linearGradient id="d22" x2="0" y2="1"><stop offset=".002" stop-color="#7c06ff"/><stop offset=".84" stop-color="#7c06ff"/><stop offset=".844" stop-color="#7a09ff"/><stop offset=".873" stop-color="#7a09ff"/><stop offset=".877" stop-color="#780dff"/><stop offset=".902" stop-color="#780dff"/><stop offset=".906" stop-color="#7610ff"/><stop offset=".935" stop-color="#7610ff"/><stop offset=".94" stop-color="#7413ff"/><stop offset=".998" stop-color="#7413ff"/></linearGradient><linearGradient id="d23" x2="0" y2="1"><stop offset=".002" stop-color="#7c06ff"/><stop offset=".998" stop-color="#7c06ff"/></linearGradient><linearGradient id="d24" x2="0" y2="1"><stop offset=".002" stop-color="#7c06ff"/><stop offset=".998" stop-color="#7c06ff"/></linearGradient><linearGradient id="d25" x2="0" y2="1"><stop offset=".002" stop-color="#7c06ff"/><stop offset=".831" stop-color="#7c06ff"/><stop offset=".835" stop-color="#7a09ff"/><stop offset=".86" stop-color="#7a09ff"/><stop offset=".865" stop-color="#780dff"/><stop offset=".885" stop-color="#780dff"/><stop offset=".89" stop-color="#7610ff"/><stop offset=".91" stop-color="#7610ff"/><stop offset=".915" stop-color="#7413ff"/><stop offset=".944" stop-color="#7413ff"/><stop offset=".948" stop-color="#7216ff"/><stop offset=".998" stop-color="#7216ff"/></linearGradient><linearGradient id="d26" x2="0" y2="1"><stop offset=".002" stop-color="#7c06ff"/><stop offset=".794" stop-color="#7c06ff"/><stop offset=".798" stop-color="#7a09ff"/><stop offset=".806" stop-color="#7a09ff"/><stop offset=".81" stop-color="#780dff"/><stop offset=".823" stop-color="#7610ff"/><stop offset=".831" stop-color="#7216ff"/><stop offset=".835" stop-color="#7216ff"/><stop offset=".902" stop-color="#5247fc"/><stop offset=".906" stop-color="#5247fc"/><stop offset=".927" stop-color="#4856fb"/><stop offset=".931" stop-color="#4856fb"/><stop offset=".94" stop-color="#445cfb"/><stop offset=".956" stop-color="#4062fa"/><stop offset=".965" stop-color="#4062fa"/><stop offset=".969" stop-color="#3e65fa"/><stop offset=".998" stop-color="#3e65fa"/></linearGradient><linearGradient id="d27" x2="0" y2="1"><stop offset=".002" stop-color="#7c06ff"/><stop offset=".635" stop-color="#7c06ff"/><stop offset=".64" stop-color="#7a09ff"/><stop offset=".815" stop-color="#7a09ff"/><stop offset=".819" stop-color="#780dff"/><stop offset=".84" stop-color="#780dff"/><stop offset=".844" stop-color="#7610ff"/><stop offset=".86" stop-color="#7610ff"/><stop offset=".865" stop-color="#7413ff"/><stop offset=".877" stop-color="#7413ff"/><stop offset=".881" stop-color="#7216ff"/><stop offset=".894" stop-color="#7216ff"/><stop offset=".898" stop-color="#7019ff"/><stop offset=".91" stop-color="#7019ff"/><stop offset=".915" stop-color="#6e1cff"/><stop offset=".935" stop-color="#6e1cff"/><stop offset=".94" stop-color="#6c1fff"/><stop offset=".998" stop-color="#6c1fff"/></linearGradient><linearGradient id="d28" x2="0" y2="1"><stop offset=".002" stop-color="#7c06ff"/><stop offset=".598" stop-color="#7c06ff"/><stop offset=".602" stop-color="#7a09ff"/><stop offset=".652" stop-color="#7a09ff"/><stop offset=".656" stop-color="#780dff"/><stop offset=".998" stop-color="#780dff"/></linearGradient><linearGradient id="d29" x2="0" y2="1"><stop offset=".002" stop-color="#7c06ff"/><stop offset=".577" stop-color="#7c06ff"/><stop offset=".581" stop-color="#7a09ff"/><stop offset=".615" stop-color="#7a09ff"/><stop offset=".619" stop-color="#780dff"/><stop offset=".648" stop-color="#780dff"/><stop offset=".652" stop-color="#7610ff"/><stop offset=".998" stop-color="#7610ff"/></linearGradient><linearGradient id="d30" x2="0" y2="1"><stop offset=".002" stop-color="#7c06ff"/><stop offset=".556" stop-color="#7c06ff"/><stop offset=".56" stop-color="#7a09ff"/><stop offset=".615" stop-color="#780dff"/><stop offset=".619" stop-color="#7610ff"/><stop offset=".64" stop-color="#7610ff"/><stop offset=".644" stop-color="#7413ff"/><stop offset=".669" stop-color="#7413ff"/><stop offset=".673" stop-color="#7216ff"/><stop offset=".827" stop-color="#7216ff"/><stop offset=".831" stop-color="#7019ff"/><stop offset=".877" stop-color="#7019ff"/><stop offset=".881" stop-color="#6e1cff"/><stop offset=".923" stop-color="#6e1cff"/><stop offset=".927" stop-color="#6c1fff"/><stop offset=".998" stop-color="#6c1fff"/></linearGradient><linearGradient id="d31" x2="0" y2="1"><stop offset=".002" stop-color="#7a09ff"/><stop offset=".552" stop-color="#7a09ff"/><stop offset=".556" stop-color="#780dff"/><stop offset=".581" stop-color="#780dff"/><stop offset=".585" stop-color="#7610ff"/><stop offset=".602" stop-color="#7610ff"/><stop offset=".606" stop-color="#7413ff"/><stop offset=".623" stop-color="#7413ff"/><stop offset=".627" stop-color="#7216ff"/><stop offset=".644" stop-color="#7216ff"/><stop offset=".648" stop-color="#7019ff"/><stop offset=".669" stop-color="#7019ff"/><stop offset=".673" stop-color="#6e1cff"/><stop offset=".794" stop-color="#6e1cff"/><stop offset=".798" stop-color="#6c1fff"/><stop offset=".806" stop-color="#6c1fff"/><stop offset=".81" stop-color="#6a22fe"/><stop offset=".823" stop-color="#6826fe"/><stop offset=".831" stop-color="#642cfe"/><stop offset=".835" stop-color="#642cfe"/><stop offset=".852" stop-color="#5c38fd"/><stop offset=".856" stop-color="#5c38fd"/><stop offset=".906" stop-color="#445cfb"/><stop offset=".91" stop-color="#445cfb"/><stop offset=".927" stop-color="#3c68f9"/><stop offset=".931" stop-color="#3c68f9"/><stop offset=".94" stop-color="#386df9"/><stop offset=".956" stop-color="#3670f8"/><stop offset=".96" stop-color="#3473f8"/><stop offset=".998" stop-color="#3473f8"/></linearGradient><linearGradient id="d32" x2="0" y2="1"><stop offset=".002" stop-color="#780dff"/><stop offset=".531" stop-color="#780dff"/><stop offset=".535" stop-color="#7610ff"/><stop offset=".565" stop-color="#7610ff"/><stop offset=".569" stop-color="#7413ff"/><stop offset=".606" stop-color="#7216ff"/><stop offset=".61" stop-color="#7019ff"/><stop offset=".623" stop-color="#7019ff"/><stop offset=".627" stop-color="#6e1cff"/><stop offset=".64" stop-color="#6e1cff"/><stop offset=".644" stop-color="#6c1fff"/><stop offset=".66" stop-color="#6c1fff"/><stop offset=".665" stop-color="#6a22fe"/><stop offset=".685" stop-color="#6a22fe"/><stop offset=".69" stop-color="#6826fe"/><stop offset=".81" stop-color="#6826fe"/><stop offset=".815" stop-color="#6629fe"/><stop offset=".831" stop-color="#6629fe"/><stop offset=".835" stop-color="#642cfe"/><stop offset=".844" stop-color="#642cfe"/><stop offset=".848" stop-color="#622ffe"/><stop offset=".856" stop-color="#622ffe"/><stop offset=".86" stop-color="#6032fe"/><stop offset=".881" stop-color="#5e35fe"/><stop offset=".894" stop-color="#5a3bfd"/><stop offset=".902" stop-color="#5a3bfd"/><stop offset=".906" stop-color="#583efd"/><stop offset=".915" stop-color="#583efd"/><stop offset=".919" stop-color="#5641fd"/><stop offset=".931" stop-color="#5641fd"/><stop offset=".935" stop-color="#5444fd"/><stop offset=".952" stop-color="#5444fd"/><stop offset=".956" stop-color="#5247fc"/><stop offset=".998" stop-color="#5247fc"/></linearGradient><linearGradient id="d33" x2="0" y2="1"><stop offset=".002" stop-color="#7413ff"/><stop offset=".552" stop-color="#7413ff"/><stop offset=".556" stop-color="#7216ff"/><stop offset=".594" stop-color="#7019ff"/><stop offset=".598" stop-color="#6e1cff"/><stop offset=".606" stop-color="#6e1cff"/><stop offset=".61" stop-color="#6c1fff"/><stop offset=".623" stop-color="#6c1fff"/><stop offset=".627" stop-color="#6a22fe"/><stop offset=".64" stop-color="#6a22fe"/><stop offset=".644" stop-color="#6826fe"/><stop offset=".656" stop-color="#6826fe"/><stop offset=".66" stop-color="#6629fe"/><stop offset=".677" stop-color="#6629fe"/><stop offset=".681" stop-color="#642cfe"/><stop offset=".998" stop-color="#642cfe"/></linearGradient><linearGradient id="d34" x2="0" y2="1"><stop offset=".002" stop-color="#7413ff"/><stop offset=".544" stop-color="#7413ff"/><stop offset=".548" stop-color="#7216ff"/><stop offset=".585" stop-color="#7019ff"/><stop offset=".59" stop-color="#6e1cff"/><stop offset=".598" stop-color="#6e1cff"/><stop offset=".602" stop-color="#6c1fff"/><stop offset=".615" stop-color="#6c1fff"/><stop offset=".619" stop-color="#6a22fe"/><stop offset=".627" stop-color="#6a22fe"/><stop offset=".631" stop-color="#6826fe"/><stop offset=".644" stop-color="#6826fe"/><stop offset=".648" stop-color="#6629fe"/><stop offset=".66" stop-color="#6629fe"/><stop offset=".665" stop-color="#642cfe"/><stop offset=".681" stop-color="#642cfe"/><stop offset=".685" stop-color="#622ffe"/><stop offset=".998" stop-color="#622ffe"/></linearGradient><linearGradient id="d35" x2="0" y2="1"><stop offset=".002" stop-color="#7610ff"/><stop offset=".544" stop-color="#7610ff"/><stop offset=".548" stop-color="#7413ff"/><stop offset=".569" stop-color="#7413ff"/><stop offset=".573" stop-color="#7216ff"/><stop offset=".585" stop-color="#7216ff"/><stop offset=".59" stop-color="#7019ff"/><stop offset=".598" stop-color="#7019ff"/><stop offset=".602" stop-color="#6e1cff"/><stop offset=".61" stop-color="#6e1cff"/><stop offset=".615" stop-color="#6c1fff"/><stop offset=".627" stop-color="#6c1fff"/><stop offset=".631" stop-color="#6a22fe"/><stop offset=".64" stop-color="#6a22fe"/><stop offset=".644" stop-color="#6826fe"/><stop offset=".656" stop-color="#6826fe"/><stop offset=".66" stop-color="#6629fe"/><stop offset=".677" stop-color="#6629fe"/><stop offset=".681" stop-color="#642cfe"/><stop offset=".84" stop-color="#642cfe"/><stop offset=".844" stop-color="#622ffe"/><stop offset=".894" stop-color="#622ffe"/><stop offset=".898" stop-color="#6032fe"/><stop offset=".94" stop-color="#6032fe"/><stop offset=".944" stop-color="#5e35fe"/><stop offset=".998" stop-color="#5e35fe"/></linearGradient><linearGradient id="d36" x2="0" y2="1"><stop offset=".002" stop-color="#780dff"/><stop offset=".565" stop-color="#780dff"/><stop offset=".569" stop-color="#7610ff"/><stop offset=".581" stop-color="#7610ff"/><stop offset=".585" stop-color="#7413ff"/><stop offset=".594" stop-color="#7413ff"/><stop offset=".598" stop-color="#7216ff"/><stop offset=".606" stop-color="#7216ff"/><stop offset=".61" stop-color="#7019ff"/><stop offset=".619" stop-color="#7019ff"/><stop offset=".623" stop-color="#6e1cff"/><stop offset=".635" stop-color="#6e1cff"/><stop offset=".64" stop-color="#6c1fff"/><stop offset=".648" stop-color="#6c1fff"/><stop offset=".652" stop-color="#6a22fe"/><stop offset=".669" stop-color="#6a22fe"/><stop offset=".673" stop-color="#6826fe"/><stop offset=".694" stop-color="#6826fe"/><stop offset=".698" stop-color="#6629fe"/><stop offset=".802" stop-color="#6629fe"/><stop offset=".806" stop-color="#642cfe"/><stop offset=".815" stop-color="#642cfe"/><stop offset=".819" stop-color="#622ffe"/><stop offset=".823" stop-color="#622ffe"/><stop offset=".831" stop-color="#5e35fe"/><stop offset=".835" stop-color="#5e35fe"/><stop offset=".844" stop-color="#5a3bfd"/><stop offset=".848" stop-color="#5a3bfd"/><stop offset=".865" stop-color="#5247fc"/><stop offset=".869" stop-color="#4e4dfc"/><stop offset=".881" stop-color="#4659fb"/><stop offset=".927" stop-color="#1996f3"/><stop offset=".931" stop-color="#1898f2"/><stop offset=".94" stop-color="#10a2f0"/><stop offset=".965" stop-color="#04b0ed"/><stop offset=".998" stop-color="#04b0ed"/></linearGradient><linearGradient id="d37" x2="0" y2="1"><stop offset=".002" stop-color="#7a09ff"/><stop offset=".581" stop-color="#7a09ff"/><stop offset=".602" stop-color="#7413ff"/><stop offset=".61" stop-color="#7413ff"/><stop offset=".615" stop-color="#7216ff"/><stop offset=".623" stop-color="#7216ff"/><stop offset=".627" stop-color="#7019ff"/><stop offset=".635" stop-color="#7019ff"/><stop offset=".64" stop-color="#6e1cff"/><stop offset=".652" stop-color="#6e1cff"/><stop offset=".656" stop-color="#6c1fff"/><stop offset=".669" stop-color="#6c1fff"/><stop offset=".673" stop-color="#6a22fe"/><stop offset=".698" stop-color="#6a22fe"/><stop offset=".702" stop-color="#6826fe"/><stop offset=".86" stop-color="#6826fe"/><stop offset=".873" stop-color="#6032fe"/><stop offset=".894" stop-color="#4c50fc"/><stop offset=".902" stop-color="#4062fa"/><stop offset=".906" stop-color="#3c68f9"/><stop offset=".915" stop-color="#3079f7"/><stop offset=".919" stop-color="#2c7ef7"/><stop offset=".927" stop-color="#208ef4"/><stop offset=".935" stop-color="#169bf2"/><stop offset=".948" stop-color="#09a9ee"/><stop offset=".96" stop-color="#01b3ec"/><stop offset=".969" stop-color="#00b5eb"/><stop offset=".998" stop-color="#00b5eb"/></linearGradient><linearGradient id="d38" x2="0" y2="1"><stop offset=".002" stop-color="#7c06ff"/><stop offset=".581" stop-color="#7c06ff"/><stop offset=".585" stop-color="#7a09ff"/><stop offset=".598" stop-color="#7a09ff"/><stop offset=".602" stop-color="#780dff"/><stop offset=".606" stop-color="#780dff"/><stop offset=".615" stop-color="#7413ff"/><stop offset=".619" stop-color="#7413ff"/><stop offset=".631" stop-color="#7019ff"/><stop offset=".64" stop-color="#7019ff"/><stop offset=".644" stop-color="#6e1cff"/><stop offset=".656" stop-color="#6e1cff"/><stop offset=".66" stop-color="#6c1fff"/><stop offset=".677" stop-color="#6c1fff"/><stop offset=".681" stop-color="#6a22fe"/><stop offset=".856" stop-color="#6a22fe"/><stop offset=".873" stop-color="#622ffe"/><stop offset=".898" stop-color="#4a53fb"/><stop offset=".902" stop-color="#445cfb"/><stop offset=".927" stop-color="#2686f5"/><stop offset=".948" stop-color="#11a0f1"/><stop offset=".969" stop-color="#08acee"/><stop offset=".998" stop-color="#08acee"/></linearGradient><linearGradient id="d39" x2="0" y2="1"><stop offset=".002" stop-color="#7c06ff"/><stop offset=".594" stop-color="#7c06ff"/><stop offset=".598" stop-color="#7a09ff"/><stop offset=".61" stop-color="#7a09ff"/><stop offset=".615" stop-color="#780dff"/><stop offset=".619" stop-color="#780dff"/><stop offset=".631" stop-color="#7216ff"/><stop offset=".635" stop-color="#7216ff"/><stop offset=".648" stop-color="#6e1cff"/><stop offset=".656" stop-color="#6e1cff"/><stop offset=".66" stop-color="#6c1fff"/><stop offset=".677" stop-color="#6c1fff"/><stop offset=".681" stop-color="#6a22fe"/><stop offset=".852" stop-color="#6a22fe"/><stop offset=".86" stop-color="#6629fe"/><stop offset=".869" stop-color="#5e35fe"/><stop offset=".877" stop-color="#5247fc"/><stop offset=".89" stop-color="#396bf9"/><stop offset=".906" stop-color="#11a0f1"/><stop offset=".91" stop-color="#06aeed"/><stop offset=".915" stop-color="#04b9ea"/><stop offset=".927" stop-color="#22d6e0"/><stop offset=".935" stop-color="#37e6d8"/><stop offset=".944" stop-color="#46efd1"/><stop offset=".952" stop-color="#54f6cb"/><stop offset=".965" stop-color="#60fac5"/><stop offset=".998" stop-color="#62fbc4"/></linearGradient><linearGradient id="d40" x2="0" y2="1"><stop offset=".002" stop-color="#7a09ff"/><stop offset=".623" stop-color="#7a09ff"/><stop offset=".631" stop-color="#7610ff"/><stop offset=".635" stop-color="#7610ff"/><stop offset=".652" stop-color="#6e1cff"/><stop offset=".656" stop-color="#6e1cff"/><stop offset=".66" stop-color="#6c1fff"/><stop offset=".673" stop-color="#6c1fff"/><stop offset=".677" stop-color="#6a22fe"/><stop offset=".71" stop-color="#6a22fe"/><stop offset=".715" stop-color="#6826fe"/><stop offset=".86" stop-color="#6826fe"/><stop offset=".877" stop-color="#6032fe"/><stop offset=".881" stop-color="#5c38fd"/><stop offset=".885" stop-color="#5a3bfd"/><stop offset=".935" stop-color="#2981f6"/><stop offset=".952" stop-color="#1e91f3"/><stop offset=".965" stop-color="#1996f3"/><stop offset=".998" stop-color="#1996f3"/></linearGradient><linearGradient id="d41" x2="0" y2="1"><stop offset=".002" stop-color="#7a09ff"/><stop offset=".631" stop-color="#7a09ff"/><stop offset=".635" stop-color="#780dff"/><stop offset=".64" stop-color="#780dff"/><stop offset=".665" stop-color="#6c1fff"/><stop offset=".669" stop-color="#6c1fff"/><stop offset=".673" stop-color="#6a22fe"/><stop offset=".69" stop-color="#6a22fe"/><stop offset=".694" stop-color="#6826fe"/><stop offset=".856" stop-color="#6826fe"/><stop offset=".865" stop-color="#642cfe"/><stop offset=".873" stop-color="#5c38fd"/><stop offset=".894" stop-color="#3c68f9"/><stop offset=".91" stop-color="#1c93f3"/><stop offset=".923" stop-color="#04b0ed"/><stop offset=".927" stop-color="#04b9ea"/><stop offset=".935" stop-color="#14cae5"/><stop offset=".948" stop-color="#27dade"/><stop offset=".956" stop-color="#2fe0db"/><stop offset=".96" stop-color="#32e3da"/><stop offset=".973" stop-color="#37e6d8"/><stop offset=".998" stop-color="#37e6d8"/></linearGradient><linearGradient id="d42" x2="0" y2="1"><stop offset=".002" stop-color="#7a09ff"/><stop offset=".635" stop-color="#7a09ff"/><stop offset=".64" stop-color="#780dff"/><stop offset=".652" stop-color="#780dff"/><stop offset=".665" stop-color="#7216ff"/><stop offset=".669" stop-color="#6e1cff"/><stop offset=".677" stop-color="#6a22fe"/><stop offset=".681" stop-color="#6a22fe"/><stop offset=".685" stop-color="#6826fe"/><stop offset=".852" stop-color="#6826fe"/><stop offset=".856" stop-color="#6629fe"/><stop offset=".86" stop-color="#6629fe"/><stop offset=".877" stop-color="#5641fd"/><stop offset=".89" stop-color="#445cfb"/><stop offset=".902" stop-color="#2c7ef7"/><stop offset=".906" stop-color="#2686f5"/><stop offset=".923" stop-color="#06aeed"/><stop offset=".927" stop-color="#02b7eb"/><stop offset=".931" stop-color="#0ac0e8"/><stop offset=".948" stop-color="#22d6e0"/><stop offset=".96" stop-color="#2fe0db"/><stop offset=".969" stop-color="#32e3da"/><stop offset=".998" stop-color="#32e3da"/></linearGradient><linearGradient id="d43" x2="0" y2="1"><stop offset=".002" stop-color="#780dff"/><stop offset=".66" stop-color="#780dff"/><stop offset=".677" stop-color="#7019ff"/><stop offset=".681" stop-color="#6c1fff"/><stop offset=".69" stop-color="#6826fe"/><stop offset=".698" stop-color="#6826fe"/><stop offset=".702" stop-color="#6629fe"/><stop offset=".86" stop-color="#6629fe"/><stop offset=".877" stop-color="#5e35fe"/><stop offset=".881" stop-color="#5a3bfd"/><stop offset=".885" stop-color="#583efd"/><stop offset=".927" stop-color="#3079f7"/><stop offset=".944" stop-color="#218cf4"/><stop offset=".965" stop-color="#1898f2"/><stop offset=".998" stop-color="#1898f2"/></linearGradient><linearGradient id="d44" x2="0" y2="1"><stop offset=".002" stop-color="#780dff"/><stop offset=".652" stop-color="#780dff"/><stop offset=".656" stop-color="#7610ff"/><stop offset=".673" stop-color="#7610ff"/><stop offset=".677" stop-color="#7413ff"/><stop offset=".681" stop-color="#7413ff"/><stop offset=".694" stop-color="#6a22fe"/><stop offset=".706" stop-color="#6629fe"/><stop offset=".852" stop-color="#6629fe"/><stop offset=".865" stop-color="#6032fe"/><stop offset=".877" stop-color="#5247fc"/><stop offset=".902" stop-color="#2489f5"/><stop offset=".906" stop-color="#1996f3"/><stop offset=".919" stop-color="#00b5eb"/><stop offset=".927" stop-color="#12c8e6"/><stop offset=".935" stop-color="#22d6e0"/><stop offset=".948" stop-color="#37e6d8"/><stop offset=".96" stop-color="#42edd3"/><stop offset=".969" stop-color="#46efd1"/><stop offset=".998" stop-color="#46efd1"/></linearGradient><linearGradient id="d45" x2="0" y2="1"><stop offset=".002" stop-color="#7610ff"/><stop offset=".681" stop-color="#7610ff"/><stop offset=".685" stop-color="#7413ff"/><stop offset=".69" stop-color="#7413ff"/><stop offset=".694" stop-color="#7216ff"/><stop offset=".698" stop-color="#6e1cff"/><stop offset=".719" stop-color="#642cfe"/><stop offset=".856" stop-color="#642cfe"/><stop offset=".877" stop-color="#5a3bfd"/><stop offset=".902" stop-color="#425ffa"/><stop offset=".906" stop-color="#3c68f9"/><stop offset=".915" stop-color="#3473f8"/><stop offset=".919" stop-color="#2e7bf7"/><stop offset=".948" stop-color="#11a0f1"/><stop offset=".965" stop-color="#09a9ee"/><stop offset=".998" stop-color="#09a9ee"/></linearGradient><linearGradient id="d46" x2="0" y2="1"><stop offset=".002" stop-color="#7413ff"/><stop offset=".694" stop-color="#7413ff"/><stop offset=".698" stop-color="#7216ff"/><stop offset=".702" stop-color="#7216ff"/><stop offset=".71" stop-color="#6e1cff"/><stop offset=".715" stop-color="#6a22fe"/><stop offset=".727" stop-color="#642cfe"/><stop offset=".735" stop-color="#642cfe"/><stop offset=".74" stop-color="#622ffe"/><stop offset=".856" stop-color="#622ffe"/><stop offset=".86" stop-color="#6032fe"/><stop offset=".865" stop-color="#6032fe"/><stop offset=".869" stop-color="#5c38fd"/><stop offset=".873" stop-color="#5a3bfd"/><stop offset=".885" stop-color="#4e4dfc"/><stop offset=".89" stop-color="#4856fb"/><stop offset=".902" stop-color="#396bf9"/><stop offset=".919" stop-color="#218cf4"/><stop offset=".923" stop-color="#1e91f3"/><stop offset=".931" stop-color="#11a0f1"/><stop offset=".944" stop-color="#04b0ed"/><stop offset=".948" stop-color="#01b3ec"/><stop offset=".952" stop-color="#02b7eb"/><stop offset=".96" stop-color="#08bee9"/><stop offset=".969" stop-color="#0ac0e8"/><stop offset=".998" stop-color="#0ac0e8"/></linearGradient><linearGradient id="d47" x2="0" y2="1"><stop offset=".002" stop-color="#7413ff"/><stop offset=".694" stop-color="#7413ff"/><stop offset=".698" stop-color="#7216ff"/><stop offset=".71" stop-color="#7216ff"/><stop offset=".731" stop-color="#6826fe"/><stop offset=".735" stop-color="#642cfe"/><stop offset=".74" stop-color="#642cfe"/><stop offset=".744" stop-color="#622ffe"/><stop offset=".852" stop-color="#622ffe"/><stop offset=".856" stop-color="#6032fe"/><stop offset=".86" stop-color="#6032fe"/><stop offset=".865" stop-color="#5c38fd"/><stop offset=".869" stop-color="#5a3bfd"/><stop offset=".881" stop-color="#4e4dfc"/><stop offset=".898" stop-color="#3670f8"/><stop offset=".91" stop-color="#208ef4"/><stop offset=".923" stop-color="#0ca7ef"/><stop offset=".931" stop-color="#00b5eb"/><stop offset=".944" stop-color="#12c8e6"/><stop offset=".956" stop-color="#1fd3e1"/><stop offset=".965" stop-color="#22d6e0"/><stop offset=".998" stop-color="#22d6e0"/></linearGradient><linearGradient id="d48" x2="0" y2="1"><stop offset=".002" stop-color="#7216ff"/><stop offset=".719" stop-color="#7216ff"/><stop offset=".723" stop-color="#7019ff"/><stop offset=".727" stop-color="#7019ff"/><stop offset=".735" stop-color="#6c1fff"/><stop offset=".74" stop-color="#6826fe"/><stop offset=".752" stop-color="#622ffe"/><stop offset=".756" stop-color="#622ffe"/><stop offset=".76" stop-color="#6032fe"/><stop offset=".86" stop-color="#6032fe"/><stop offset=".881" stop-color="#5641fd"/><stop offset=".885" stop-color="#5247fc"/><stop offset=".89" stop-color="#504afc"/><stop offset=".906" stop-color="#4062fa"/><stop offset=".91" stop-color="#3e65fa"/><stop offset=".927" stop-color="#2e7bf7"/><stop offset=".931" stop-color="#2c7ef7"/><stop offset=".94" stop-color="#2489f5"/><stop offset=".96" stop-color="#1996f3"/><stop offset=".969" stop-color="#1898f2"/><stop offset=".998" stop-color="#1898f2"/></linearGradient><linearGradient id="d49" x2="0" y2="1"><stop offset=".002" stop-color="#7216ff"/><stop offset=".715" stop-color="#7216ff"/><stop offset=".719" stop-color="#7019ff"/><stop offset=".735" stop-color="#7019ff"/><stop offset=".74" stop-color="#6e1cff"/><stop offset=".744" stop-color="#6e1cff"/><stop offset=".748" stop-color="#6a22fe"/><stop offset=".769" stop-color="#6032fe"/><stop offset=".852" stop-color="#6032fe"/><stop offset=".856" stop-color="#5e35fe"/><stop offset=".86" stop-color="#5e35fe"/><stop offset=".865" stop-color="#5c38fd"/><stop offset=".877" stop-color="#5247fc"/><stop offset=".881" stop-color="#4c50fc"/><stop offset=".894" stop-color="#3e65fa"/><stop offset=".915" stop-color="#1e91f3"/><stop offset=".931" stop-color="#06aeed"/><stop offset=".935" stop-color="#01b3ec"/><stop offset=".94" stop-color="#04b9ea"/><stop offset=".956" stop-color="#14cae5"/><stop offset=".965" stop-color="#18cde4"/><stop offset=".998" stop-color="#18cde4"/></linearGradient><linearGradient id="d50" x2="0" y2="1"><stop offset=".002" stop-color="#7019ff"/><stop offset=".748" stop-color="#7019ff"/><stop offset=".781" stop-color="#6032fe"/><stop offset=".79" stop-color="#6032fe"/><stop offset=".794" stop-color="#5e35fe"/><stop offset=".86" stop-color="#5e35fe"/><stop offset=".877" stop-color="#5444fd"/><stop offset=".902" stop-color="#3c68f9"/><stop offset=".906" stop-color="#3670f8"/><stop offset=".915" stop-color="#2e7bf7"/><stop offset=".919" stop-color="#2884f6"/><stop offset=".931" stop-color="#1c93f3"/><stop offset=".935" stop-color="#169bf2"/><stop offset=".94" stop-color="#149df1"/><stop offset=".948" stop-color="#0ca7ef"/><stop offset=".965" stop-color="#04b0ed"/><stop offset=".998" stop-color="#04b0ed"/></linearGradient><linearGradient id="d51" x2="0" y2="1"><stop offset=".002" stop-color="#7019ff"/><stop offset=".756" stop-color="#7019ff"/><stop offset=".76" stop-color="#6e1cff"/><stop offset=".773" stop-color="#6c1fff"/><stop offset=".777" stop-color="#6826fe"/><stop offset=".794" stop-color="#6032fe"/><stop offset=".802" stop-color="#6032fe"/><stop offset=".806" stop-color="#5e35fe"/><stop offset=".856" stop-color="#5e35fe"/><stop offset=".86" stop-color="#5c38fd"/><stop offset=".865" stop-color="#5c38fd"/><stop offset=".881" stop-color="#5247fc"/><stop offset=".927" stop-color="#2686f5"/><stop offset=".94" stop-color="#1996f3"/><stop offset=".948" stop-color="#149df1"/><stop offset=".965" stop-color="#0ca7ef"/><stop offset=".998" stop-color="#0ca7ef"/></linearGradient><linearGradient id="d52" x2="0" y2="1"><stop offset=".002" stop-color="#7019ff"/><stop offset=".773" stop-color="#7019ff"/><stop offset=".777" stop-color="#6e1cff"/><stop offset=".781" stop-color="#6e1cff"/><stop offset=".81" stop-color="#5e35fe"/><stop offset=".856" stop-color="#5e35fe"/><stop offset=".873" stop-color="#5641fd"/><stop offset=".894" stop-color="#4062fa"/><stop offset=".91" stop-color="#2884f6"/><stop offset=".915" stop-color="#2489f5"/><stop offset=".927" stop-color="#11a0f1"/><stop offset=".944" stop-color="#00b5eb"/><stop offset=".96" stop-color="#0fc4e7"/><stop offset=".969" stop-color="#10c6e6"/><stop offset=".998" stop-color="#10c6e6"/></linearGradient><linearGradient id="d53" x2="0" y2="1"><stop offset=".002" stop-color="#7019ff"/><stop offset=".79" stop-color="#7019ff"/><stop offset=".798" stop-color="#6826fe"/><stop offset=".802" stop-color="#6032fe"/><stop offset=".806" stop-color="#5a3bfd"/><stop offset=".815" stop-color="#5247fc"/><stop offset=".819" stop-color="#5444fd"/><stop offset=".823" stop-color="#5444fd"/><stop offset=".84" stop-color="#5c38fd"/><stop offset=".844" stop-color="#5c38fd"/><stop offset=".848" stop-color="#5e35fe"/><stop offset=".86" stop-color="#5e35fe"/><stop offset=".881" stop-color="#5444fd"/><stop offset=".885" stop-color="#504afc"/><stop offset=".89" stop-color="#4e4dfc"/><stop offset=".906" stop-color="#3e65fa"/><stop offset=".91" stop-color="#3c68f9"/><stop offset=".931" stop-color="#2884f6"/><stop offset=".948" stop-color="#1c93f3"/><stop offset=".965" stop-color="#169bf2"/><stop offset=".998" stop-color="#169bf2"/></linearGradient><linearGradient id="d54" x2="0" y2="1"><stop offset=".002" stop-color="#7216ff"/><stop offset=".79" stop-color="#7216ff"/><stop offset=".798" stop-color="#6e1cff"/><stop offset=".806" stop-color="#5e35fe"/><stop offset=".81" stop-color="#5444fd"/><stop offset=".819" stop-color="#445cfb"/><stop offset=".823" stop-color="#4062fa"/><stop offset=".827" stop-color="#4062fa"/><stop offset=".831" stop-color="#445cfb"/><stop offset=".844" stop-color="#5444fd"/><stop offset=".848" stop-color="#5641fd"/><stop offset=".852" stop-color="#5a3bfd"/><stop offset=".856" stop-color="#5a3bfd"/><stop offset=".86" stop-color="#5c38fd"/><stop offset=".877" stop-color="#5444fd"/><stop offset=".898" stop-color="#4062fa"/><stop offset=".902" stop-color="#396bf9"/><stop offset=".927" stop-color="#1c93f3"/><stop offset=".948" stop-color="#08acee"/><stop offset=".965" stop-color="#00b5eb"/><stop offset=".998" stop-color="#00b5eb"/></linearGradient><linearGradient id="d55" x2="0" y2="1"><stop offset=".002" stop-color="#7216ff"/><stop offset=".798" stop-color="#7216ff"/><stop offset=".802" stop-color="#7019ff"/><stop offset=".806" stop-color="#6c1fff"/><stop offset=".81" stop-color="#642cfe"/><stop offset=".827" stop-color="#3c68f9"/><stop offset=".831" stop-color="#3473f8"/><stop offset=".84" stop-color="#3176f8"/><stop offset=".844" stop-color="#3670f8"/><stop offset=".852" stop-color="#4659fb"/><stop offset=".856" stop-color="#4c50fc"/><stop offset=".865" stop-color="#5444fd"/><stop offset=".873" stop-color="#5444fd"/><stop offset=".885" stop-color="#4e4dfc"/><stop offset=".898" stop-color="#425ffa"/><stop offset=".902" stop-color="#3c68f9"/><stop offset=".91" stop-color="#3473f8"/><stop offset=".923" stop-color="#2489f5"/><stop offset=".944" stop-color="#10a2f0"/><stop offset=".952" stop-color="#09a9ee"/><stop offset=".965" stop-color="#04b0ed"/><stop offset=".998" stop-color="#04b0ed"/></linearGradient><linearGradient id="d56" x2="0" y2="1"><stop offset=".002" stop-color="#7413ff"/><stop offset=".798" stop-color="#7413ff"/><stop offset=".802" stop-color="#7216ff"/><stop offset=".806" stop-color="#6e1cff"/><stop offset=".81" stop-color="#6826fe"/><stop offset=".819" stop-color="#5444fd"/><stop offset=".827" stop-color="#396bf9"/><stop offset=".835" stop-color="#218cf4"/><stop offset=".84" stop-color="#1898f2"/><stop offset=".844" stop-color="#11a0f1"/><stop offset=".848" stop-color="#10a2f0"/><stop offset=".852" stop-color="#11a0f1"/><stop offset=".856" stop-color="#1996f3"/><stop offset=".869" stop-color="#396bf9"/><stop offset=".873" stop-color="#425ffa"/><stop offset=".877" stop-color="#4856fb"/><stop offset=".885" stop-color="#4c50fc"/><stop offset=".902" stop-color="#445cfb"/><stop offset=".931" stop-color="#2981f6"/><stop offset=".948" stop-color="#1e91f3"/><stop offset=".965" stop-color="#1898f2"/><stop offset=".998" stop-color="#1898f2"/></linearGradient><linearGradient id="d57" x2="0" y2="1"><stop offset=".002" stop-color="#7413ff"/><stop offset=".794" stop-color="#7413ff"/><stop offset=".798" stop-color="#7216ff"/><stop offset=".802" stop-color="#6e1cff"/><stop offset=".81" stop-color="#5a3bfd"/><stop offset=".819" stop-color="#4062fa"/><stop offset=".823" stop-color="#3079f7"/><stop offset=".835" stop-color="#01b3ec"/><stop offset=".84" stop-color="#0dc2e8"/><stop offset=".844" stop-color="#18cde4"/><stop offset=".852" stop-color="#28dbde"/><stop offset=".86" stop-color="#27dade"/><stop offset=".869" stop-color="#10c6e6"/><stop offset=".873" stop-color="#02b7eb"/><stop offset=".881" stop-color="#1898f2"/><stop offset=".89" stop-color="#2981f6"/><stop offset=".898" stop-color="#3079f7"/><stop offset=".902" stop-color="#3079f7"/><stop offset=".91" stop-color="#2c7ef7"/><stop offset=".923" stop-color="#208ef4"/><stop offset=".927" stop-color="#1996f3"/><stop offset=".952" stop-color="#01b3ec"/><stop offset=".956" stop-color="#00b5eb"/><stop offset=".965" stop-color="#04b9ea"/><stop offset=".998" stop-color="#04b9ea"/></linearGradient><linearGradient id="d58" x2="0" y2="1"><stop offset=".002" stop-color="#7610ff"/><stop offset=".79" stop-color="#7610ff"/><stop offset=".794" stop-color="#7413ff"/><stop offset=".798" stop-color="#6e1cff"/><stop offset=".806" stop-color="#5c38fd"/><stop offset=".819" stop-color="#3079f7"/><stop offset=".827" stop-color="#10a2f0"/><stop offset=".831" stop-color="#02b7eb"/><stop offset=".835" stop-color="#12c8e6"/><stop offset=".84" stop-color="#20d5e1"/><stop offset=".848" stop-color="#38e7d7"/><stop offset=".852" stop-color="#40ecd4"/><stop offset=".86" stop-color="#46efd1"/><stop offset=".873" stop-color="#3dead5"/><stop offset=".881" stop-color="#2fe0db"/><stop offset=".885" stop-color="#24d8df"/><stop offset=".898" stop-color="#00b5eb"/><stop offset=".91" stop-color="#1c93f3"/><stop offset=".919" stop-color="#2489f5"/><stop offset=".923" stop-color="#2686f5"/><stop offset=".935" stop-color="#2489f5"/><stop offset=".96" stop-color="#1898f2"/><stop offset=".998" stop-color="#1898f2"/></linearGradient><linearGradient id="d59" x2="0" y2="1"><stop offset=".002" stop-color="#780dff"/><stop offset=".794" stop-color="#780dff"/><stop offset=".802" stop-color="#7019ff"/><stop offset=".806" stop-color="#6826fe"/><stop offset=".815" stop-color="#504afc"/><stop offset=".819" stop-color="#425ffa"/><stop offset=".823" stop-color="#3176f8"/><stop offset=".835" stop-color="#04b0ed"/><stop offset=".84" stop-color="#0dc2e8"/><stop offset=".848" stop-color="#27dade"/><stop offset=".856" stop-color="#38e7d7"/><stop offset=".865" stop-color="#3febd5"/><stop offset=".869" stop-color="#3febd5"/><stop offset=".894" stop-color="#34e4d9"/><stop offset=".902" stop-color="#2ddedc"/><stop offset=".91" stop-color="#20d5e1"/><stop offset=".919" stop-color="#0fc4e7"/><stop offset=".927" stop-color="#00b5eb"/><stop offset=".935" stop-color="#0ca7ef"/><stop offset=".944" stop-color="#10a2f0"/><stop offset=".952" stop-color="#10a2f0"/><stop offset=".969" stop-color="#0ca7ef"/><stop offset=".973" stop-color="#0ea5ef"/><stop offset=".998" stop-color="#0ea5ef"/></linearGradient><linearGradient id="d60" x2="0" y2="1"><stop offset=".002" stop-color="#780dff"/><stop offset=".798" stop-color="#780dff"/><stop offset=".802" stop-color="#7610ff"/><stop offset=".806" stop-color="#7216ff"/><stop offset=".81" stop-color="#6c1fff"/><stop offset=".819" stop-color="#583efd"/><stop offset=".823" stop-color="#4c50fc"/><stop offset=".835" stop-color="#218cf4"/><stop offset=".844" stop-color="#06aeed"/><stop offset=".848" stop-color="#08bee9"/><stop offset=".852" stop-color="#14cae5"/><stop offset=".86" stop-color="#27dade"/><stop offset=".869" stop-color="#2fe0db"/><stop offset=".881" stop-color="#2ddedc"/><stop offset=".902" stop-color="#30e1da"/><stop offset=".919" stop-color="#30e1da"/><stop offset=".931" stop-color="#27dade"/><stop offset=".948" stop-color="#0fc4e7"/><stop offset=".952" stop-color="#0ac0e8"/><stop offset=".973" stop-color="#00b5eb"/><stop offset=".998" stop-color="#04b0ed"/></linearGradient><linearGradient id="d61" x2="0" y2="1"><stop offset=".002" stop-color="#780dff"/><stop offset=".798" stop-color="#780dff"/><stop offset=".802" stop-color="#7610ff"/><stop offset=".806" stop-color="#7216ff"/><stop offset=".81" stop-color="#6a22fe"/><stop offset=".819" stop-color="#5641fd"/><stop offset=".831" stop-color="#2c7ef7"/><stop offset=".844" stop-color="#01b3ec"/><stop offset=".848" stop-color="#0dc2e8"/><stop offset=".852" stop-color="#18cde4"/><stop offset=".86" stop-color="#28dbde"/><stop offset=".865" stop-color="#2fe0db"/><stop offset=".869" stop-color="#30e1da"/><stop offset=".89" stop-color="#30e1da"/><stop offset=".931" stop-color="#40ecd4"/><stop offset=".94" stop-color="#3febd5"/><stop offset=".952" stop-color="#2fe0db"/><stop offset=".969" stop-color="#0fc4e7"/><stop offset=".977" stop-color="#02b7eb"/><stop offset=".981" stop-color="#04b0ed"/><stop offset=".994" stop-color="#10a2f0"/><stop offset=".998" stop-color="#11a0f1"/></linearGradient><linearGradient id="d62" x2="0" y2="1"><stop offset=".002" stop-color="#7610ff"/><stop offset=".794" stop-color="#7610ff"/><stop offset=".798" stop-color="#7216ff"/><stop offset=".802" stop-color="#6c1fff"/><stop offset=".81" stop-color="#583efd"/><stop offset=".819" stop-color="#3c68f9"/><stop offset=".831" stop-color="#0ca7ef"/><stop offset=".835" stop-color="#04b9ea"/><stop offset=".844" stop-color="#20d5e1"/><stop offset=".848" stop-color="#2ddedc"/><stop offset=".856" stop-color="#3febd5"/><stop offset=".865" stop-color="#44eed2"/><stop offset=".89" stop-color="#44eed2"/><stop offset=".915" stop-color="#50f4cc"/><stop offset=".931" stop-color="#5df9c7"/><stop offset=".952" stop-color="#64fbc3"/><stop offset=".965" stop-color="#5efac6"/><stop offset=".973" stop-color="#56f7ca"/><stop offset=".994" stop-color="#38e7d7"/><stop offset=".998" stop-color="#34e4d9"/></linearGradient><linearGradient id="d63" x2="0" y2="1"><stop offset=".002" stop-color="#7413ff"/><stop offset=".79" stop-color="#7413ff"/><stop offset=".794" stop-color="#7216ff"/><stop offset=".798" stop-color="#6c1fff"/><stop offset=".806" stop-color="#5a3bfd"/><stop offset=".815" stop-color="#3e65fa"/><stop offset=".827" stop-color="#0ca7ef"/><stop offset=".831" stop-color="#04b9ea"/><stop offset=".835" stop-color="#14cae5"/><stop offset=".844" stop-color="#30e1da"/><stop offset=".848" stop-color="#3dead5"/><stop offset=".852" stop-color="#44eed2"/><stop offset=".856" stop-color="#4af2cf"/><stop offset=".86" stop-color="#4df3ce"/><stop offset=".881" stop-color="#4df3ce"/><stop offset=".894" stop-color="#50f4cc"/><stop offset=".915" stop-color="#5af8c8"/><stop offset=".944" stop-color="#70febc"/><stop offset=".956" stop-color="#76ffb9"/><stop offset=".965" stop-color="#78ffb8"/><stop offset=".977" stop-color="#76ffb9"/><stop offset=".998" stop-color="#68fcc1"/></linearGradient><linearGradient id="d64" x2="0" y2="1"><stop offset=".002" stop-color="#7216ff"/><stop offset=".798" stop-color="#7216ff"/><stop offset=".806" stop-color="#6629fe"/><stop offset=".81" stop-color="#5c38fd"/><stop offset=".823" stop-color="#3473f8"/><stop offset=".827" stop-color="#2489f5"/><stop offset=".835" stop-color="#06aeed"/><stop offset=".84" stop-color="#08bee9"/><stop offset=".848" stop-color="#24d8df"/><stop offset=".856" stop-color="#37e6d8"/><stop offset=".865" stop-color="#40ecd4"/><stop offset=".89" stop-color="#40ecd4"/><stop offset=".894" stop-color="#42edd3"/><stop offset=".915" stop-color="#4df3ce"/><stop offset=".94" stop-color="#5efac6"/><stop offset=".965" stop-color="#6afdc0"/><stop offset=".973" stop-color="#6dfdbf"/><stop offset=".998" stop-color="#6afdc0"/></linearGradient><linearGradient id="d65" x2="0" y2="1"><stop offset=".002" stop-color="#7610ff"/><stop offset=".798" stop-color="#7610ff"/><stop offset=".802" stop-color="#7413ff"/><stop offset=".806" stop-color="#7019ff"/><stop offset=".81" stop-color="#6a22fe"/><stop offset=".815" stop-color="#622ffe"/><stop offset=".827" stop-color="#3e65fa"/><stop offset=".84" stop-color="#11a0f1"/><stop offset=".844" stop-color="#06aeed"/><stop offset=".848" stop-color="#08bee9"/><stop offset=".852" stop-color="#14cae5"/><stop offset=".86" stop-color="#27dade"/><stop offset=".865" stop-color="#2ddedc"/><stop offset=".869" stop-color="#2fe0db"/><stop offset=".881" stop-color="#2fe0db"/><stop offset=".898" stop-color="#32e3da"/><stop offset=".915" stop-color="#3ae8d6"/><stop offset=".944" stop-color="#4ef3cd"/><stop offset=".956" stop-color="#54f6cb"/><stop offset=".969" stop-color="#58f8c9"/><stop offset=".998" stop-color="#58f8c9"/></linearGradient><linearGradient id="d66" x2="0" y2="1"><stop offset=".002" stop-color="#7a09ff"/><stop offset=".798" stop-color="#7a09ff"/><stop offset=".802" stop-color="#7610ff"/><stop offset=".806" stop-color="#7019ff"/><stop offset=".815" stop-color="#5e35fe"/><stop offset=".823" stop-color="#4659fb"/><stop offset=".831" stop-color="#2884f6"/><stop offset=".84" stop-color="#09a9ee"/><stop offset=".844" stop-color="#04b9ea"/><stop offset=".852" stop-color="#1dd1e2"/><stop offset=".86" stop-color="#2ddedc"/><stop offset=".869" stop-color="#32e3da"/><stop offset=".89" stop-color="#32e3da"/><stop offset=".919" stop-color="#40ecd4"/><stop offset=".944" stop-color="#52f5cb"/><stop offset=".96" stop-color="#5af8c8"/><stop offset=".969" stop-color="#5df9c7"/><stop offset=".998" stop-color="#5df9c7"/></linearGradient><linearGradient id="d67" x2="0" y2="1"><stop offset=".002" stop-color="#7c06ff"/><stop offset=".79" stop-color="#7c06ff"/><stop offset=".794" stop-color="#7a09ff"/><stop offset=".798" stop-color="#7610ff"/><stop offset=".802" stop-color="#7019ff"/><stop offset=".806" stop-color="#6629fe"/><stop offset=".815" stop-color="#4c50fc"/><stop offset=".823" stop-color="#2c7ef7"/><stop offset=".831" stop-color="#0ca7ef"/><stop offset=".835" stop-color="#04b9ea"/><stop offset=".844" stop-color="#20d5e1"/><stop offset=".852" stop-color="#37e6d8"/><stop offset=".86" stop-color="#40ecd4"/><stop offset=".881" stop-color="#40ecd4"/><stop offset=".902" stop-color="#46efd1"/><stop offset=".944" stop-color="#64fbc3"/><stop offset=".969" stop-color="#70febc"/><stop offset=".998" stop-color="#70febc"/></linearGradient><linearGradient id="d68" x2="0" y2="1"><stop offset=".002" stop-color="#7c06ff"/><stop offset=".794" stop-color="#7c06ff"/><stop offset=".798" stop-color="#7610ff"/><stop offset=".802" stop-color="#6e1cff"/><stop offset=".806" stop-color="#642cfe"/><stop offset=".815" stop-color="#4a53fb"/><stop offset=".831" stop-color="#08acee"/><stop offset=".835" stop-color="#08bee9"/><stop offset=".844" stop-color="#24d8df"/><stop offset=".848" stop-color="#30e1da"/><stop offset=".852" stop-color="#38e7d7"/><stop offset=".86" stop-color="#42edd3"/><stop offset=".885" stop-color="#42edd3"/><stop offset=".906" stop-color="#4af2cf"/><stop offset=".927" stop-color="#58f8c9"/><stop offset=".935" stop-color="#60fac5"/><stop offset=".965" stop-color="#70febc"/><stop offset=".998" stop-color="#72febb"/></linearGradient><linearGradient id="d69" x2="0" y2="1"><stop offset=".002" stop-color="#7c06ff"/><stop offset=".798" stop-color="#7c06ff"/><stop offset=".802" stop-color="#780dff"/><stop offset=".806" stop-color="#7216ff"/><stop offset=".81" stop-color="#6a22fe"/><stop offset=".819" stop-color="#5247fc"/><stop offset=".831" stop-color="#2686f5"/><stop offset=".84" stop-color="#08acee"/><stop offset=".844" stop-color="#07bbea"/><stop offset=".852" stop-color="#1fd3e1"/><stop offset=".856" stop-color="#27dade"/><stop offset=".865" stop-color="#30e1da"/><stop offset=".869" stop-color="#32e3da"/><stop offset=".89" stop-color="#32e3da"/><stop offset=".919" stop-color="#40ecd4"/><stop offset=".944" stop-color="#52f5cb"/><stop offset=".965" stop-color="#5df9c7"/><stop offset=".998" stop-color="#5efac6"/></linearGradient><linearGradient id="d70" x2="0" y2="1"><stop offset=".002" stop-color="#7c06ff"/><stop offset=".802" stop-color="#7c06ff"/><stop offset=".806" stop-color="#780dff"/><stop offset=".81" stop-color="#7216ff"/><stop offset=".815" stop-color="#6a22fe"/><stop offset=".827" stop-color="#4659fb"/><stop offset=".831" stop-color="#386df9"/><stop offset=".84" stop-color="#1c93f3"/><stop offset=".848" stop-color="#00b5eb"/><stop offset=".856" stop-color="#17cbe4"/><stop offset=".865" stop-color="#24d8df"/><stop offset=".873" stop-color="#28dbde"/><stop offset=".898" stop-color="#2adddd"/><stop offset=".915" stop-color="#32e3da"/><stop offset=".944" stop-color="#46efd1"/><stop offset=".96" stop-color="#4ef3cd"/><stop offset=".969" stop-color="#50f4cc"/><stop offset=".998" stop-color="#50f4cc"/></linearGradient><linearGradient id="d71" x2="0" y2="1"><stop offset=".002" stop-color="#7c06ff"/><stop offset=".798" stop-color="#7c06ff"/><stop offset=".802" stop-color="#780dff"/><stop offset=".806" stop-color="#7216ff"/><stop offset=".81" stop-color="#6a22fe"/><stop offset=".819" stop-color="#5247fc"/><stop offset=".827" stop-color="#3473f8"/><stop offset=".835" stop-color="#169bf2"/><stop offset=".84" stop-color="#08acee"/><stop offset=".844" stop-color="#07bbea"/><stop offset=".852" stop-color="#1fd3e1"/><stop offset=".86" stop-color="#2fe0db"/><stop offset=".865" stop-color="#32e3da"/><stop offset=".894" stop-color="#34e4d9"/><stop offset=".915" stop-color="#3febd5"/><stop offset=".94" stop-color="#50f4cc"/><stop offset=".965" stop-color="#5df9c7"/><stop offset=".998" stop-color="#5efac6"/></linearGradient><linearGradient id="d72" x2="0" y2="1"><stop offset=".002" stop-color="#7c06ff"/><stop offset=".794" stop-color="#7c06ff"/><stop offset=".798" stop-color="#7610ff"/><stop offset=".802" stop-color="#6e1cff"/><stop offset=".806" stop-color="#642cfe"/><stop offset=".815" stop-color="#4a53fb"/><stop offset=".827" stop-color="#1898f2"/><stop offset=".831" stop-color="#08acee"/><stop offset=".835" stop-color="#08bee9"/><stop offset=".844" stop-color="#24d8df"/><stop offset=".848" stop-color="#30e1da"/><stop offset=".852" stop-color="#38e7d7"/><stop offset=".86" stop-color="#42edd3"/><stop offset=".885" stop-color="#42edd3"/><stop offset=".906" stop-color="#4af2cf"/><stop offset=".927" stop-color="#58f8c9"/><stop offset=".935" stop-color="#60fac5"/><stop offset=".965" stop-color="#70febc"/><stop offset=".998" stop-color="#72febb"/></linearGradient><linearGradient id="d73" x2="0" y2="1"><stop offset=".002" stop-color="#7c06ff"/><stop offset=".794" stop-color="#7c06ff"/><stop offset=".798" stop-color="#780dff"/><stop offset=".802" stop-color="#7019ff"/><stop offset=".806" stop-color="#6629fe"/><stop offset=".815" stop-color="#4e4dfc"/><stop offset=".823" stop-color="#2e7bf7"/><stop offset=".831" stop-color="#0ea5ef"/><stop offset=".835" stop-color="#02b7eb"/><stop offset=".84" stop-color="#12c8e6"/><stop offset=".848" stop-color="#2adddd"/><stop offset=".852" stop-color="#34e4d9"/><stop offset=".856" stop-color="#3ae8d6"/><stop offset=".865" stop-color="#40ecd4"/><stop offset=".89" stop-color="#40ecd4"/><stop offset=".915" stop-color="#4df3ce"/><stop offset=".944" stop-color="#62fbc4"/><stop offset=".969" stop-color="#6efebe"/><stop offset=".998" stop-color="#6efebe"/></linearGradient><linearGradient id="d74" x2="0" y2="1"><stop offset=".002" stop-color="#7c06ff"/><stop offset=".798" stop-color="#7c06ff"/><stop offset=".802" stop-color="#7a09ff"/><stop offset=".806" stop-color="#7413ff"/><stop offset=".81" stop-color="#6c1fff"/><stop offset=".815" stop-color="#622ffe"/><stop offset=".823" stop-color="#4a53fb"/><stop offset=".831" stop-color="#2c7ef7"/><stop offset=".844" stop-color="#01b3ec"/><stop offset=".848" stop-color="#0dc2e8"/><stop offset=".852" stop-color="#18cde4"/><stop offset=".86" stop-color="#28dbde"/><stop offset=".869" stop-color="#2fe0db"/><stop offset=".89" stop-color="#2fe0db"/><stop offset=".919" stop-color="#3dead5"/><stop offset=".944" stop-color="#4ef3cd"/><stop offset=".96" stop-color="#56f7ca"/><stop offset=".969" stop-color="#58f8c9"/><stop offset=".998" stop-color="#58f8c9"/></linearGradient><linearGradient id="d75" x2="0" y2="1"><stop offset=".002" stop-color="#7c06ff"/><stop offset=".802" stop-color="#7c06ff"/><stop offset=".806" stop-color="#780dff"/><stop offset=".81" stop-color="#7216ff"/><stop offset=".819" stop-color="#5e35fe"/><stop offset=".823" stop-color="#5247fc"/><stop offset=".831" stop-color="#3670f8"/><stop offset=".84" stop-color="#1996f3"/><stop offset=".844" stop-color="#0ca7ef"/><stop offset=".848" stop-color="#00b5eb"/><stop offset=".856" stop-color="#17cbe4"/><stop offset=".865" stop-color="#24d8df"/><stop offset=".869" stop-color="#28dbde"/><stop offset=".89" stop-color="#28dbde"/><stop offset=".902" stop-color="#2ddedc"/><stop offset=".94" stop-color="#44eed2"/><stop offset=".965" stop-color="#50f4cc"/><stop offset=".998" stop-color="#50f4cc"/></linearGradient><linearGradient id="d76" x2="0" y2="1"><stop offset=".002" stop-color="#7c06ff"/><stop offset=".798" stop-color="#7c06ff"/><stop offset=".806" stop-color="#7019ff"/><stop offset=".81" stop-color="#6629fe"/><stop offset=".815" stop-color="#5a3bfd"/><stop offset=".823" stop-color="#3e65fa"/><stop offset=".831" stop-color="#1e91f3"/><stop offset=".84" stop-color="#00b5eb"/><stop offset=".844" stop-color="#0fc4e7"/><stop offset=".848" stop-color="#1acfe3"/><stop offset=".856" stop-color="#2ddedc"/><stop offset=".865" stop-color="#37e6d8"/><stop offset=".89" stop-color="#37e6d8"/><stop offset=".915" stop-color="#42edd3"/><stop offset=".935" stop-color="#52f5cb"/><stop offset=".96" stop-color="#60fac5"/><stop offset=".969" stop-color="#62fbc4"/><stop offset=".998" stop-color="#62fbc4"/></linearGradient><linearGradient id="d77" x2="0" y2="1"><stop offset=".002" stop-color="#7c06ff"/><stop offset=".794" stop-color="#7c06ff"/><stop offset=".798" stop-color="#7610ff"/><stop offset=".802" stop-color="#6e1cff"/><stop offset=".81" stop-color="#5641fd"/><stop offset=".815" stop-color="#4856fb"/><stop offset=".827" stop-color="#169bf2"/><stop offset=".831" stop-color="#06aeed"/><stop offset=".835" stop-color="#0ac0e8"/><stop offset=".844" stop-color="#27dade"/><stop offset=".848" stop-color="#32e3da"/><stop offset=".852" stop-color="#3ae8d6"/><stop offset=".86" stop-color="#44eed2"/><stop offset=".89" stop-color="#44eed2"/><stop offset=".91" stop-color="#4ef3cd"/><stop offset=".948" stop-color="#6afdc0"/><stop offset=".965" stop-color="#72febb"/><stop offset=".998" stop-color="#74feba"/></linearGradient><linearGradient id="d78" x2="0" y2="1"><stop offset=".002" stop-color="#7c06ff"/><stop offset=".794" stop-color="#7c06ff"/><stop offset=".798" stop-color="#7a09ff"/><stop offset=".802" stop-color="#7413ff"/><stop offset=".806" stop-color="#6a22fe"/><stop offset=".815" stop-color="#5247fc"/><stop offset=".819" stop-color="#445cfb"/><stop offset=".827" stop-color="#2489f5"/><stop offset=".835" stop-color="#04b0ed"/><stop offset=".84" stop-color="#0dc2e8"/><stop offset=".844" stop-color="#18cde4"/><stop offset=".848" stop-color="#24d8df"/><stop offset=".856" stop-color="#37e6d8"/><stop offset=".865" stop-color="#3dead5"/><stop offset=".894" stop-color="#3febd5"/><stop offset=".91" stop-color="#46efd1"/><stop offset=".931" stop-color="#56f7ca"/><stop offset=".956" stop-color="#66fcc2"/><stop offset=".969" stop-color="#6afdc0"/><stop offset=".998" stop-color="#6afdc0"/></linearGradient><linearGradient id="d79" x2="0" y2="1"><stop offset=".002" stop-color="#7c06ff"/><stop offset=".802" stop-color="#7c06ff"/><stop offset=".81" stop-color="#7019ff"/><stop offset=".815" stop-color="#6629fe"/><stop offset=".823" stop-color="#4e4dfc"/><stop offset=".835" stop-color="#218cf4"/><stop offset=".844" stop-color="#06aeed"/><stop offset=".848" stop-color="#07bbea"/><stop offset=".852" stop-color="#12c8e6"/><stop offset=".86" stop-color="#24d8df"/><stop offset=".869" stop-color="#2adddd"/><stop offset=".894" stop-color="#2ddedc"/><stop offset=".915" stop-color="#37e6d8"/><stop offset=".94" stop-color="#48f1d0"/><stop offset=".96" stop-color="#52f5cb"/><stop offset=".969" stop-color="#54f6cb"/><stop offset=".998" stop-color="#54f6cb"/></linearGradient><linearGradient id="d80" x2="0" y2="1"><stop offset=".002" stop-color="#7c06ff"/><stop offset=".802" stop-color="#7c06ff"/><stop offset=".806" stop-color="#780dff"/><stop offset=".815" stop-color="#6826fe"/><stop offset=".823" stop-color="#504afc"/><stop offset=".827" stop-color="#425ffa"/><stop offset=".835" stop-color="#2686f5"/><stop offset=".844" stop-color="#09a9ee"/><stop offset=".848" stop-color="#04b9ea"/><stop offset=".856" stop-color="#1acfe3"/><stop offset=".86" stop-color="#20d5e1"/><stop offset=".865" stop-color="#27dade"/><stop offset=".873" stop-color="#2adddd"/><stop offset=".898" stop-color="#2ddedc"/><stop offset=".91" stop-color="#32e3da"/><stop offset=".94" stop-color="#46efd1"/><stop offset=".965" stop-color="#52f5cb"/><stop offset=".998" stop-color="#52f5cb"/></linearGradient><linearGradient id="d81" x2="0" y2="1"><stop offset=".002" stop-color="#7c06ff"/><stop offset=".794" stop-color="#7c06ff"/><stop offset=".798" stop-color="#7a09ff"/><stop offset=".802" stop-color="#7413ff"/><stop offset=".806" stop-color="#6c1fff"/><stop offset=".81" stop-color="#622ffe"/><stop offset=".823" stop-color="#386df9"/><stop offset=".835" stop-color="#08acee"/><stop offset=".84" stop-color="#07bbea"/><stop offset=".844" stop-color="#14cae5"/><stop offset=".848" stop-color="#20d5e1"/><stop offset=".856" stop-color="#32e3da"/><stop offset=".86" stop-color="#38e7d7"/><stop offset=".865" stop-color="#3ae8d6"/><stop offset=".89" stop-color="#3ae8d6"/><stop offset=".894" stop-color="#3dead5"/><stop offset=".915" stop-color="#46efd1"/><stop offset=".944" stop-color="#5df9c7"/><stop offset=".965" stop-color="#66fcc2"/><stop offset=".998" stop-color="#68fcc1"/></linearGradient><linearGradient id="d82" x2="0" y2="1"><stop offset=".002" stop-color="#7c06ff"/><stop offset=".79" stop-color="#7c06ff"/><stop offset=".794" stop-color="#7a09ff"/><stop offset=".798" stop-color="#7610ff"/><stop offset=".802" stop-color="#6e1cff"/><stop offset=".81" stop-color="#5641fd"/><stop offset=".823" stop-color="#2686f5"/><stop offset=".831" stop-color="#06aeed"/><stop offset=".835" stop-color="#0ac0e8"/><stop offset=".84" stop-color="#1acfe3"/><stop offset=".848" stop-color="#32e3da"/><stop offset=".852" stop-color="#3ae8d6"/><stop offset=".86" stop-color="#44eed2"/><stop offset=".89" stop-color="#44eed2"/><stop offset=".91" stop-color="#4ef3cd"/><stop offset=".935" stop-color="#62fbc4"/><stop offset=".965" stop-color="#72febb"/><stop offset=".998" stop-color="#74feba"/></linearGradient><linearGradient id="d83" x2="0" y2="1"><stop offset=".002" stop-color="#7c06ff"/><stop offset=".794" stop-color="#7c06ff"/><stop offset=".798" stop-color="#7a09ff"/><stop offset=".802" stop-color="#7610ff"/><stop offset=".806" stop-color="#6e1cff"/><stop offset=".815" stop-color="#5641fd"/><stop offset=".823" stop-color="#396bf9"/><stop offset=".835" stop-color="#09a9ee"/><stop offset=".84" stop-color="#04b9ea"/><stop offset=".844" stop-color="#12c8e6"/><stop offset=".848" stop-color="#1fd3e1"/><stop offset=".856" stop-color="#30e1da"/><stop offset=".86" stop-color="#37e6d8"/><stop offset=".865" stop-color="#38e7d7"/><stop offset=".894" stop-color="#3ae8d6"/><stop offset=".91" stop-color="#42edd3"/><stop offset=".931" stop-color="#52f5cb"/><stop offset=".965" stop-color="#64fbc3"/><stop offset=".973" stop-color="#66fcc2"/><stop offset=".998" stop-color="#66fcc2"/></linearGradient><linearGradient id="d84" x2="0" y2="1"><stop offset=".002" stop-color="#7c06ff"/><stop offset=".802" stop-color="#7c06ff"/><stop offset=".806" stop-color="#780dff"/><stop offset=".815" stop-color="#6826fe"/><stop offset=".827" stop-color="#445cfb"/><stop offset=".835" stop-color="#2686f5"/><stop offset=".844" stop-color="#09a9ee"/><stop offset=".848" stop-color="#02b7eb"/><stop offset=".852" stop-color="#0fc4e7"/><stop offset=".86" stop-color="#20d5e1"/><stop offset=".865" stop-color="#27dade"/><stop offset=".869" stop-color="#28dbde"/><stop offset=".894" stop-color="#2adddd"/><stop offset=".915" stop-color="#34e4d9"/><stop offset=".931" stop-color="#40ecd4"/><stop offset=".956" stop-color="#4ef3cd"/><stop offset=".969" stop-color="#52f5cb"/><stop offset=".998" stop-color="#52f5cb"/></linearGradient><linearGradient id="d85" x2="0" y2="1"><stop offset=".002" stop-color="#7c06ff"/><stop offset=".798" stop-color="#7c06ff"/><stop offset=".802" stop-color="#7a09ff"/><stop offset=".806" stop-color="#7610ff"/><stop offset=".81" stop-color="#6e1cff"/><stop offset=".815" stop-color="#642cfe"/><stop offset=".823" stop-color="#4c50fc"/><stop offset=".835" stop-color="#218cf4"/><stop offset=".84" stop-color="#11a0f1"/><stop offset=".844" stop-color="#04b0ed"/><stop offset=".848" stop-color="#08bee9"/><stop offset=".852" stop-color="#14cae5"/><stop offset=".856" stop-color="#1fd3e1"/><stop offset=".86" stop-color="#24d8df"/><stop offset=".865" stop-color="#2adddd"/><stop offset=".869" stop-color="#2ddedc"/><stop offset=".89" stop-color="#2ddedc"/><stop offset=".898" stop-color="#30e1da"/><stop offset=".919" stop-color="#3ae8d6"/><stop offset=".956" stop-color="#52f5cb"/><stop offset=".969" stop-color="#56f7ca"/><stop offset=".998" stop-color="#56f7ca"/></linearGradient><linearGradient id="d86" x2="0" y2="1"><stop offset=".002" stop-color="#7c06ff"/><stop offset=".702" stop-color="#7c06ff"/><stop offset=".706" stop-color="#7a09ff"/><stop offset=".752" stop-color="#7a09ff"/><stop offset=".756" stop-color="#780dff"/><stop offset=".794" stop-color="#780dff"/><stop offset=".798" stop-color="#7413ff"/><stop offset=".806" stop-color="#642cfe"/><stop offset=".815" stop-color="#4c50fc"/><stop offset=".819" stop-color="#3c68f9"/><stop offset=".827" stop-color="#1e91f3"/><stop offset=".831" stop-color="#0ea5ef"/><stop offset=".835" stop-color="#00b5eb"/><stop offset=".844" stop-color="#1dd1e2"/><stop offset=".852" stop-color="#32e3da"/><stop offset=".856" stop-color="#38e7d7"/><stop offset=".865" stop-color="#3febd5"/><stop offset=".89" stop-color="#3febd5"/><stop offset=".915" stop-color="#4af2cf"/><stop offset=".944" stop-color="#60fac5"/><stop offset=".965" stop-color="#6afdc0"/><stop offset=".973" stop-color="#6dfdbf"/><stop offset=".998" stop-color="#6dfdbf"/></linearGradient><linearGradient id="d87" x2="0" y2="1"><stop offset=".002" stop-color="#7c06ff"/><stop offset=".652" stop-color="#7c06ff"/><stop offset=".656" stop-color="#7a09ff"/><stop offset=".665" stop-color="#7a09ff"/><stop offset=".669" stop-color="#780dff"/><stop offset=".673" stop-color="#780dff"/><stop offset=".752" stop-color="#642cfe"/><stop offset=".773" stop-color="#622ffe"/><stop offset=".794" stop-color="#5c38fd"/><stop offset=".802" stop-color="#504afc"/><stop offset=".806" stop-color="#4659fb"/><stop offset=".815" stop-color="#2e7bf7"/><stop offset=".827" stop-color="#04b0ed"/><stop offset=".831" stop-color="#08bee9"/><stop offset=".84" stop-color="#20d5e1"/><stop offset=".844" stop-color="#2adddd"/><stop offset=".852" stop-color="#3dead5"/><stop offset=".86" stop-color="#44eed2"/><stop offset=".865" stop-color="#42edd3"/><stop offset=".89" stop-color="#44eed2"/><stop offset=".915" stop-color="#50f4cc"/><stop offset=".94" stop-color="#64fbc3"/><stop offset=".96" stop-color="#70febc"/><stop offset=".969" stop-color="#72febb"/><stop offset=".998" stop-color="#72febb"/></linearGradient><linearGradient id="d88" x2="0" y2="1"><stop offset=".002" stop-color="#7c06ff"/><stop offset=".627" stop-color="#7c06ff"/><stop offset=".631" stop-color="#7a09ff"/><stop offset=".64" stop-color="#7a09ff"/><stop offset=".652" stop-color="#7413ff"/><stop offset=".656" stop-color="#7413ff"/><stop offset=".66" stop-color="#7019ff"/><stop offset=".669" stop-color="#6c1fff"/><stop offset=".69" stop-color="#5c38fd"/><stop offset=".735" stop-color="#4659fb"/><stop offset=".752" stop-color="#425ffa"/><stop offset=".76" stop-color="#425ffa"/><stop offset=".773" stop-color="#3e65fa"/><stop offset=".785" stop-color="#3e65fa"/><stop offset=".802" stop-color="#386df9"/><stop offset=".81" stop-color="#2c7ef7"/><stop offset=".823" stop-color="#10a2f0"/><stop offset=".831" stop-color="#00b5eb"/><stop offset=".835" stop-color="#07bbea"/><stop offset=".852" stop-color="#27dade"/><stop offset=".86" stop-color="#32e3da"/><stop offset=".894" stop-color="#37e6d8"/><stop offset=".91" stop-color="#3febd5"/><stop offset=".935" stop-color="#50f4cc"/><stop offset=".96" stop-color="#5efac6"/><stop offset=".969" stop-color="#60fac5"/><stop offset=".998" stop-color="#60fac5"/></linearGradient><linearGradient id="d89" x2="0" y2="1"><stop offset=".002" stop-color="#7c06ff"/><stop offset=".602" stop-color="#7c06ff"/><stop offset=".606" stop-color="#7a09ff"/><stop offset=".615" stop-color="#7a09ff"/><stop offset=".619" stop-color="#780dff"/><stop offset=".623" stop-color="#780dff"/><stop offset=".64" stop-color="#7019ff"/><stop offset=".644" stop-color="#6c1fff"/><stop offset=".656" stop-color="#642cfe"/><stop offset=".665" stop-color="#5c38fd"/><stop offset=".673" stop-color="#583efd"/><stop offset=".677" stop-color="#5444fd"/><stop offset=".702" stop-color="#4856fb"/><stop offset=".706" stop-color="#4856fb"/><stop offset=".715" stop-color="#445cfb"/><stop offset=".731" stop-color="#4062fa"/><stop offset=".748" stop-color="#4062fa"/><stop offset=".752" stop-color="#3e65fa"/><stop offset=".798" stop-color="#3e65fa"/><stop offset=".806" stop-color="#396bf9"/><stop offset=".81" stop-color="#3670f8"/><stop offset=".819" stop-color="#2981f6"/><stop offset=".827" stop-color="#1996f3"/><stop offset=".844" stop-color="#00b5eb"/><stop offset=".856" stop-color="#18cde4"/><stop offset=".865" stop-color="#24d8df"/><stop offset=".873" stop-color="#28dbde"/><stop offset=".898" stop-color="#2adddd"/><stop offset=".91" stop-color="#30e1da"/><stop offset=".94" stop-color="#44eed2"/><stop offset=".96" stop-color="#4ef3cd"/><stop offset=".969" stop-color="#50f4cc"/><stop offset=".998" stop-color="#50f4cc"/></linearGradient><linearGradient id="d90" x2="0" y2="1"><stop offset=".002" stop-color="#7c06ff"/><stop offset=".581" stop-color="#7c06ff"/><stop offset=".585" stop-color="#7a09ff"/><stop offset=".59" stop-color="#7a09ff"/><stop offset=".61" stop-color="#7019ff"/><stop offset=".615" stop-color="#6c1fff"/><stop offset=".619" stop-color="#6a22fe"/><stop offset=".627" stop-color="#622ffe"/><stop offset=".631" stop-color="#6032fe"/><stop offset=".64" stop-color="#583efd"/><stop offset=".656" stop-color="#4c50fc"/><stop offset=".665" stop-color="#4856fb"/><stop offset=".669" stop-color="#445cfb"/><stop offset=".694" stop-color="#386df9"/><stop offset=".698" stop-color="#386df9"/><stop offset=".719" stop-color="#3079f7"/><stop offset=".727" stop-color="#3079f7"/><stop offset=".731" stop-color="#2e7bf7"/><stop offset=".752" stop-color="#2e7bf7"/><stop offset=".756" stop-color="#2c7ef7"/><stop offset=".798" stop-color="#2c7ef7"/><stop offset=".806" stop-color="#2884f6"/><stop offset=".819" stop-color="#169bf2"/><stop offset=".823" stop-color="#0ea5ef"/><stop offset=".831" stop-color="#01b3ec"/><stop offset=".835" stop-color="#04b9ea"/><stop offset=".84" stop-color="#0ac0e8"/><stop offset=".852" stop-color="#20d5e1"/><stop offset=".865" stop-color="#30e1da"/><stop offset=".869" stop-color="#32e3da"/><stop offset=".89" stop-color="#32e3da"/><stop offset=".915" stop-color="#3febd5"/><stop offset=".94" stop-color="#50f4cc"/><stop offset=".965" stop-color="#5df9c7"/><stop offset=".998" stop-color="#5efac6"/></linearGradient><linearGradient id="d91" x2="0" y2="1"><stop offset=".002" stop-color="#7c06ff"/><stop offset=".452" stop-color="#7c06ff"/><stop offset=".456" stop-color="#7a09ff"/><stop offset=".46" stop-color="#7c06ff"/><stop offset=".556" stop-color="#7c06ff"/><stop offset=".56" stop-color="#7a09ff"/><stop offset=".565" stop-color="#7a09ff"/><stop offset=".585" stop-color="#7019ff"/><stop offset=".61" stop-color="#583efd"/><stop offset=".615" stop-color="#5641fd"/><stop offset=".631" stop-color="#4659fb"/><stop offset=".635" stop-color="#445cfb"/><stop offset=".644" stop-color="#3c68f9"/><stop offset=".66" stop-color="#3079f7"/><stop offset=".685" stop-color="#218cf4"/><stop offset=".69" stop-color="#1e91f3"/><stop offset=".719" stop-color="#11a0f1"/><stop offset=".735" stop-color="#0ea5ef"/><stop offset=".794" stop-color="#0ea5ef"/><stop offset=".806" stop-color="#01b3ec"/><stop offset=".81" stop-color="#04b9ea"/><stop offset=".823" stop-color="#1dd1e2"/><stop offset=".831" stop-color="#28dbde"/><stop offset=".835" stop-color="#2ddedc"/><stop offset=".852" stop-color="#44eed2"/><stop offset=".86" stop-color="#4df3ce"/><stop offset=".869" stop-color="#4af2cf"/><stop offset=".89" stop-color="#4df3ce"/><stop offset=".91" stop-color="#56f7ca"/><stop offset=".944" stop-color="#70febc"/><stop offset=".96" stop-color="#7affb7"/><stop offset=".969" stop-color="#7dffb6"/><stop offset=".998" stop-color="#7dffb6"/></linearGradient><linearGradient id="d92" x2="0" y2="1"><stop offset=".002" stop-color="#7c06ff"/><stop offset=".423" stop-color="#7c06ff"/><stop offset=".435" stop-color="#7610ff"/><stop offset=".44" stop-color="#7610ff"/><stop offset=".444" stop-color="#7413ff"/><stop offset=".46" stop-color="#7c06ff"/><stop offset=".54" stop-color="#7c06ff"/><stop offset=".544" stop-color="#7a09ff"/><stop offset=".556" stop-color="#780dff"/><stop offset=".565" stop-color="#7413ff"/><stop offset=".569" stop-color="#7019ff"/><stop offset=".577" stop-color="#6c1fff"/><stop offset=".581" stop-color="#6826fe"/><stop offset=".585" stop-color="#6629fe"/><stop offset=".594" stop-color="#5e35fe"/><stop offset=".644" stop-color="#396bf9"/><stop offset=".66" stop-color="#2e7bf7"/><stop offset=".685" stop-color="#208ef4"/><stop offset=".69" stop-color="#1c93f3"/><stop offset=".719" stop-color="#10a2f0"/><stop offset=".735" stop-color="#0ca7ef"/><stop offset=".79" stop-color="#0ca7ef"/><stop offset=".798" stop-color="#08acee"/><stop offset=".806" stop-color="#02b7eb"/><stop offset=".823" stop-color="#24d8df"/><stop offset=".844" stop-color="#42edd3"/><stop offset=".848" stop-color="#4af2cf"/><stop offset=".856" stop-color="#54f6cb"/><stop offset=".86" stop-color="#56f7ca"/><stop offset=".885" stop-color="#56f7ca"/><stop offset=".902" stop-color="#5df9c7"/><stop offset=".927" stop-color="#70febc"/><stop offset=".96" stop-color="#88ffaf"/><stop offset=".969" stop-color="#8bfeae"/><stop offset=".998" stop-color="#8bfeae"/></linearGradient><linearGradient id="d93" x2="0" y2="1"><stop offset=".002" stop-color="#7c06ff"/><stop offset=".398" stop-color="#7c06ff"/><stop offset=".402" stop-color="#7a09ff"/><stop offset=".406" stop-color="#7a09ff"/><stop offset=".415" stop-color="#7216ff"/><stop offset=".419" stop-color="#7019ff"/><stop offset=".423" stop-color="#6c1fff"/><stop offset=".431" stop-color="#6c1fff"/><stop offset=".444" stop-color="#780dff"/><stop offset=".452" stop-color="#7c06ff"/><stop offset=".535" stop-color="#7c06ff"/><stop offset=".54" stop-color="#7a09ff"/><stop offset=".552" stop-color="#780dff"/><stop offset=".569" stop-color="#7019ff"/><stop offset=".573" stop-color="#7019ff"/><stop offset=".606" stop-color="#6032fe"/><stop offset=".61" stop-color="#5c38fd"/><stop offset=".66" stop-color="#445cfb"/><stop offset=".665" stop-color="#4062fa"/><stop offset=".669" stop-color="#4062fa"/><stop offset=".698" stop-color="#3176f8"/><stop offset=".731" stop-color="#2981f6"/><stop offset=".794" stop-color="#2981f6"/><stop offset=".802" stop-color="#2686f5"/><stop offset=".806" stop-color="#218cf4"/><stop offset=".81" stop-color="#1c93f3"/><stop offset=".823" stop-color="#01b3ec"/><stop offset=".831" stop-color="#0dc2e8"/><stop offset=".848" stop-color="#2ddedc"/><stop offset=".852" stop-color="#37e6d8"/><stop offset=".856" stop-color="#3febd5"/><stop offset=".865" stop-color="#48f1d0"/><stop offset=".894" stop-color="#4af2cf"/><stop offset=".915" stop-color="#56f7ca"/><stop offset=".931" stop-color="#64fbc3"/><stop offset=".948" stop-color="#70febc"/><stop offset=".965" stop-color="#78ffb8"/><stop offset=".998" stop-color="#7affb7"/></linearGradient><linearGradient id="d94" x2="0" y2="1"><stop offset=".002" stop-color="#7c06ff"/><stop offset=".377" stop-color="#7c06ff"/><stop offset=".385" stop-color="#780dff"/><stop offset=".406" stop-color="#642cfe"/><stop offset=".41" stop-color="#642cfe"/><stop offset=".431" stop-color="#7a09ff"/><stop offset=".435" stop-color="#7c06ff"/><stop offset=".531" stop-color="#7c06ff"/><stop offset=".535" stop-color="#7a09ff"/><stop offset=".544" stop-color="#7a09ff"/><stop offset=".548" stop-color="#780dff"/><stop offset=".56" stop-color="#7610ff"/><stop offset=".569" stop-color="#7216ff"/><stop offset=".573" stop-color="#7216ff"/><stop offset=".581" stop-color="#6e1cff"/><stop offset=".585" stop-color="#6e1cff"/><stop offset=".602" stop-color="#6629fe"/><stop offset=".606" stop-color="#6629fe"/><stop offset=".635" stop-color="#583efd"/><stop offset=".64" stop-color="#583efd"/><stop offset=".66" stop-color="#4e4dfc"/><stop offset=".665" stop-color="#4e4dfc"/><stop offset=".677" stop-color="#4856fb"/><stop offset=".681" stop-color="#4856fb"/><stop offset=".702" stop-color="#4062fa"/><stop offset=".719" stop-color="#3e65fa"/><stop offset=".723" stop-color="#3c68f9"/><stop offset=".731" stop-color="#3c68f9"/><stop offset=".735" stop-color="#396bf9"/><stop offset=".802" stop-color="#396bf9"/><stop offset=".81" stop-color="#3176f8"/><stop offset=".827" stop-color="#10a2f0"/><stop offset=".835" stop-color="#00b5eb"/><stop offset=".84" stop-color="#08bee9"/><stop offset=".852" stop-color="#27dade"/><stop offset=".86" stop-color="#37e6d8"/><stop offset=".869" stop-color="#40ecd4"/><stop offset=".885" stop-color="#40ecd4"/><stop offset=".898" stop-color="#44eed2"/><stop offset=".915" stop-color="#4ef3cd"/><stop offset=".944" stop-color="#64fbc3"/><stop offset=".969" stop-color="#70febc"/><stop offset=".998" stop-color="#70febc"/></linearGradient><linearGradient id="d95" x2="0" y2="1"><stop offset=".002" stop-color="#7c06ff"/><stop offset=".352" stop-color="#7c06ff"/><stop offset=".365" stop-color="#7610ff"/><stop offset=".373" stop-color="#6e1cff"/><stop offset=".377" stop-color="#6826fe"/><stop offset=".385" stop-color="#642cfe"/><stop offset=".39" stop-color="#642cfe"/><stop offset=".394" stop-color="#6629fe"/><stop offset=".398" stop-color="#6a22fe"/><stop offset=".402" stop-color="#7019ff"/><stop offset=".41" stop-color="#780dff"/><stop offset=".419" stop-color="#7c06ff"/><stop offset=".527" stop-color="#7c06ff"/><stop offset=".531" stop-color="#7a09ff"/><stop offset=".54" stop-color="#7a09ff"/><stop offset=".548" stop-color="#7610ff"/><stop offset=".552" stop-color="#7610ff"/><stop offset=".56" stop-color="#7216ff"/><stop offset=".565" stop-color="#7216ff"/><stop offset=".615" stop-color="#5a3bfd"/><stop offset=".619" stop-color="#5641fd"/><stop offset=".644" stop-color="#4a53fb"/><stop offset=".648" stop-color="#4659fb"/><stop offset=".69" stop-color="#3176f8"/><stop offset=".694" stop-color="#3176f8"/><stop offset=".706" stop-color="#2c7ef7"/><stop offset=".731" stop-color="#2686f5"/><stop offset=".794" stop-color="#2686f5"/><stop offset=".802" stop-color="#218cf4"/><stop offset=".81" stop-color="#169bf2"/><stop offset=".819" stop-color="#01b3ec"/><stop offset=".823" stop-color="#08bee9"/><stop offset=".831" stop-color="#1dd1e2"/><stop offset=".844" stop-color="#38e7d7"/><stop offset=".856" stop-color="#54f6cb"/><stop offset=".865" stop-color="#5efac6"/><stop offset=".885" stop-color="#5efac6"/><stop offset=".91" stop-color="#6afdc0"/><stop offset=".94" stop-color="#84ffb2"/><stop offset=".96" stop-color="#92fda9"/><stop offset=".969" stop-color="#94fda8"/><stop offset=".998" stop-color="#94fda8"/></linearGradient><linearGradient id="d96" x2="0" y2="1"><stop offset=".002" stop-color="#7c06ff"/><stop offset=".331" stop-color="#7c06ff"/><stop offset=".34" stop-color="#780dff"/><stop offset=".352" stop-color="#6c1fff"/><stop offset=".356" stop-color="#6629fe"/><stop offset=".365" stop-color="#622ffe"/><stop offset=".369" stop-color="#642cfe"/><stop offset=".377" stop-color="#6c1fff"/><stop offset=".381" stop-color="#7216ff"/><stop offset=".385" stop-color="#7610ff"/><stop offset=".398" stop-color="#7c06ff"/><stop offset=".527" stop-color="#7c06ff"/><stop offset=".531" stop-color="#7a09ff"/><stop offset=".535" stop-color="#7a09ff"/><stop offset=".548" stop-color="#7413ff"/><stop offset=".552" stop-color="#7413ff"/><stop offset=".569" stop-color="#6c1fff"/><stop offset=".573" stop-color="#6826fe"/><stop offset=".598" stop-color="#5a3bfd"/><stop offset=".61" stop-color="#504afc"/><stop offset=".652" stop-color="#3176f8"/><stop offset=".66" stop-color="#2e7bf7"/><stop offset=".677" stop-color="#218cf4"/><stop offset=".719" stop-color="#0ea5ef"/><stop offset=".735" stop-color="#09a9ee"/><stop offset=".79" stop-color="#09a9ee"/><stop offset=".794" stop-color="#08acee"/><stop offset=".802" stop-color="#02b7eb"/><stop offset=".81" stop-color="#17cbe4"/><stop offset=".819" stop-color="#2fe0db"/><stop offset=".827" stop-color="#46efd1"/><stop offset=".84" stop-color="#64fbc3"/><stop offset=".848" stop-color="#78ffb8"/><stop offset=".856" stop-color="#86ffb0"/><stop offset=".86" stop-color="#88ffaf"/><stop offset=".885" stop-color="#88ffaf"/><stop offset=".902" stop-color="#90feab"/><stop offset=".915" stop-color="#9bfba5"/><stop offset=".944" stop-color="#b9ef92"/><stop offset=".956" stop-color="#c2ea8c"/><stop offset=".977" stop-color="#cbe486"/><stop offset=".998" stop-color="#cbe486"/></linearGradient><linearGradient id="d97" x2="0" y2="1"><stop offset=".002" stop-color="#7c06ff"/><stop offset=".31" stop-color="#7c06ff"/><stop offset=".319" stop-color="#780dff"/><stop offset=".34" stop-color="#622ffe"/><stop offset=".344" stop-color="#622ffe"/><stop offset=".348" stop-color="#642cfe"/><stop offset=".352" stop-color="#6826fe"/><stop offset=".356" stop-color="#6e1cff"/><stop offset=".365" stop-color="#7610ff"/><stop offset=".373" stop-color="#7a09ff"/><stop offset=".431" stop-color="#7a09ff"/><stop offset=".435" stop-color="#7c06ff"/><stop offset=".523" stop-color="#7c06ff"/><stop offset=".527" stop-color="#7a09ff"/><stop offset=".535" stop-color="#7a09ff"/><stop offset=".544" stop-color="#7610ff"/><stop offset=".548" stop-color="#7610ff"/><stop offset=".581" stop-color="#6629fe"/><stop offset=".585" stop-color="#622ffe"/><stop offset=".598" stop-color="#5c38fd"/><stop offset=".602" stop-color="#583efd"/><stop offset=".61" stop-color="#5444fd"/><stop offset=".623" stop-color="#4a53fb"/><stop offset=".631" stop-color="#4659fb"/><stop offset=".644" stop-color="#3c68f9"/><stop offset=".652" stop-color="#386df9"/><stop offset=".669" stop-color="#2c7ef7"/><stop offset=".685" stop-color="#2489f5"/><stop offset=".69" stop-color="#208ef4"/><stop offset=".719" stop-color="#149df1"/><stop offset=".74" stop-color="#10a2f0"/><stop offset=".794" stop-color="#10a2f0"/><stop offset=".798" stop-color="#0ca7ef"/><stop offset=".806" stop-color="#02b7eb"/><stop offset=".815" stop-color="#18cde4"/><stop offset=".823" stop-color="#34e4d9"/><stop offset=".831" stop-color="#4af2cf"/><stop offset=".844" stop-color="#6afdc0"/><stop offset=".852" stop-color="#7effb5"/><stop offset=".856" stop-color="#84ffb2"/><stop offset=".865" stop-color="#8bfeae"/><stop offset=".869" stop-color="#88ffaf"/><stop offset=".881" stop-color="#88ffaf"/><stop offset=".898" stop-color="#8efeac"/><stop offset=".927" stop-color="#a8f79c"/><stop offset=".944" stop-color="#bbee91"/><stop offset=".956" stop-color="#c4e88a"/><stop offset=".969" stop-color="#cbe486"/><stop offset=".998" stop-color="#cbe486"/></linearGradient><linearGradient id="d98" x2="0" y2="1"><stop offset=".002" stop-color="#7c06ff"/><stop offset=".29" stop-color="#7c06ff"/><stop offset=".302" stop-color="#7610ff"/><stop offset=".31" stop-color="#6a22fe"/><stop offset=".319" stop-color="#622ffe"/><stop offset=".323" stop-color="#6032fe"/><stop offset=".331" stop-color="#6826fe"/><stop offset=".335" stop-color="#6e1cff"/><stop offset=".34" stop-color="#7216ff"/><stop offset=".352" stop-color="#780dff"/><stop offset=".39" stop-color="#780dff"/><stop offset=".394" stop-color="#7610ff"/><stop offset=".415" stop-color="#7610ff"/><stop offset=".419" stop-color="#780dff"/><stop offset=".452" stop-color="#780dff"/><stop offset=".456" stop-color="#7a09ff"/><stop offset=".498" stop-color="#7a09ff"/><stop offset=".502" stop-color="#7c06ff"/><stop offset=".523" stop-color="#7c06ff"/><stop offset=".527" stop-color="#7a09ff"/><stop offset=".548" stop-color="#780dff"/><stop offset=".556" stop-color="#7413ff"/><stop offset=".56" stop-color="#7413ff"/><stop offset=".569" stop-color="#7019ff"/><stop offset=".573" stop-color="#7019ff"/><stop offset=".598" stop-color="#642cfe"/><stop offset=".602" stop-color="#642cfe"/><stop offset=".685" stop-color="#3c68f9"/><stop offset=".69" stop-color="#3c68f9"/><stop offset=".71" stop-color="#3473f8"/><stop offset=".727" stop-color="#3176f8"/><stop offset=".731" stop-color="#3079f7"/><stop offset=".798" stop-color="#3079f7"/><stop offset=".802" stop-color="#2e7bf7"/><stop offset=".806" stop-color="#2884f6"/><stop offset=".815" stop-color="#1898f2"/><stop offset=".819" stop-color="#0ca7ef"/><stop offset=".823" stop-color="#01b3ec"/><stop offset=".827" stop-color="#0ac0e8"/><stop offset=".84" stop-color="#2adddd"/><stop offset=".848" stop-color="#40ecd4"/><stop offset=".856" stop-color="#56f7ca"/><stop offset=".865" stop-color="#64fbc3"/><stop offset=".869" stop-color="#66fcc2"/><stop offset=".89" stop-color="#66fcc2"/><stop offset=".902" stop-color="#6dfdbf"/><stop offset=".927" stop-color="#80ffb4"/><stop offset=".952" stop-color="#96fca7"/><stop offset=".965" stop-color="#9cfba4"/><stop offset=".998" stop-color="#9efaa2"/></linearGradient><linearGradient id="d99" x2="0" y2="1"><stop offset=".002" stop-color="#7c06ff"/><stop offset=".265" stop-color="#7c06ff"/><stop offset=".269" stop-color="#7a09ff"/><stop offset=".273" stop-color="#7a09ff"/><stop offset=".281" stop-color="#7610ff"/><stop offset=".285" stop-color="#7216ff"/><stop offset=".294" stop-color="#6629fe"/><stop offset=".298" stop-color="#622ffe"/><stop offset=".302" stop-color="#6032fe"/><stop offset=".306" stop-color="#6032fe"/><stop offset=".31" stop-color="#642cfe"/><stop offset=".315" stop-color="#6a22fe"/><stop offset=".323" stop-color="#7216ff"/><stop offset=".331" stop-color="#7610ff"/><stop offset=".36" stop-color="#7413ff"/><stop offset=".365" stop-color="#7216ff"/><stop offset=".377" stop-color="#7019ff"/><stop offset=".385" stop-color="#6c1fff"/><stop offset=".39" stop-color="#6c1fff"/><stop offset=".394" stop-color="#6a22fe"/><stop offset=".415" stop-color="#7216ff"/><stop offset=".431" stop-color="#7216ff"/><stop offset=".435" stop-color="#7413ff"/><stop offset=".456" stop-color="#7413ff"/><stop offset=".46" stop-color="#7610ff"/><stop offset=".477" stop-color="#7610ff"/><stop offset=".481" stop-color="#780dff"/><stop offset=".498" stop-color="#780dff"/><stop offset=".502" stop-color="#7a09ff"/><stop offset=".535" stop-color="#7a09ff"/><stop offset=".54" stop-color="#780dff"/><stop offset=".548" stop-color="#780dff"/><stop offset=".552" stop-color="#7610ff"/><stop offset=".565" stop-color="#7413ff"/><stop offset=".573" stop-color="#7019ff"/><stop offset=".577" stop-color="#7019ff"/><stop offset=".59" stop-color="#6a22fe"/><stop offset=".594" stop-color="#6a22fe"/><stop offset=".615" stop-color="#6032fe"/><stop offset=".619" stop-color="#6032fe"/><stop offset=".648" stop-color="#5247fc"/><stop offset=".652" stop-color="#5247fc"/><stop offset=".669" stop-color="#4a53fb"/><stop offset=".673" stop-color="#4a53fb"/><stop offset=".685" stop-color="#445cfb"/><stop offset=".69" stop-color="#445cfb"/><stop offset=".698" stop-color="#4062fa"/><stop offset=".715" stop-color="#3c68f9"/><stop offset=".723" stop-color="#3c68f9"/><stop offset=".727" stop-color="#396bf9"/><stop offset=".74" stop-color="#396bf9"/><stop offset=".744" stop-color="#386df9"/><stop offset=".802" stop-color="#386df9"/><stop offset=".81" stop-color="#2e7bf7"/><stop offset=".815" stop-color="#2686f5"/><stop offset=".827" stop-color="#06aeed"/><stop offset=".831" stop-color="#04b9ea"/><stop offset=".84" stop-color="#1acfe3"/><stop offset=".852" stop-color="#3dead5"/><stop offset=".86" stop-color="#50f4cc"/><stop offset=".869" stop-color="#5af8c8"/><stop offset=".885" stop-color="#5af8c8"/><stop offset=".898" stop-color="#5efac6"/><stop offset=".927" stop-color="#74feba"/><stop offset=".952" stop-color="#88ffaf"/><stop offset=".969" stop-color="#90feab"/><stop offset=".998" stop-color="#90feab"/></linearGradient><linearGradient id="d100" x2="0" y2="1"><stop offset=".002" stop-color="#7c06ff"/><stop offset=".244" stop-color="#7c06ff"/><stop offset=".248" stop-color="#7a09ff"/><stop offset=".252" stop-color="#7a09ff"/><stop offset=".26" stop-color="#7610ff"/><stop offset=".265" stop-color="#7216ff"/><stop offset=".277" stop-color="#622ffe"/><stop offset=".281" stop-color="#6032fe"/><stop offset=".285" stop-color="#6032fe"/><stop offset=".29" stop-color="#622ffe"/><stop offset=".294" stop-color="#6826fe"/><stop offset=".302" stop-color="#7019ff"/><stop offset=".31" stop-color="#7413ff"/><stop offset=".319" stop-color="#7413ff"/><stop offset=".323" stop-color="#7216ff"/><stop offset=".331" stop-color="#7216ff"/><stop offset=".335" stop-color="#7019ff"/><stop offset=".34" stop-color="#7019ff"/><stop offset=".356" stop-color="#6826fe"/><stop offset=".365" stop-color="#6032fe"/><stop offset=".373" stop-color="#5c38fd"/><stop offset=".377" stop-color="#5e35fe"/><stop offset=".381" stop-color="#5e35fe"/><stop offset=".385" stop-color="#622ffe"/><stop offset=".398" stop-color="#6826fe"/><stop offset=".402" stop-color="#6826fe"/><stop offset=".406" stop-color="#6a22fe"/><stop offset=".427" stop-color="#6a22fe"/><stop offset=".431" stop-color="#6c1fff"/><stop offset=".444" stop-color="#6c1fff"/><stop offset=".448" stop-color="#6e1cff"/><stop offset=".456" stop-color="#6e1cff"/><stop offset=".46" stop-color="#7019ff"/><stop offset=".469" stop-color="#7019ff"/><stop offset=".481" stop-color="#7413ff"/><stop offset=".49" stop-color="#7413ff"/><stop offset=".494" stop-color="#7610ff"/><stop offset=".506" stop-color="#7610ff"/><stop offset=".51" stop-color="#780dff"/><stop offset=".535" stop-color="#780dff"/><stop offset=".54" stop-color="#7610ff"/><stop offset=".552" stop-color="#7413ff"/><stop offset=".56" stop-color="#7019ff"/><stop offset=".565" stop-color="#7019ff"/><stop offset=".602" stop-color="#5e35fe"/><stop offset=".606" stop-color="#5a3bfd"/><stop offset=".644" stop-color="#4659fb"/><stop offset=".648" stop-color="#425ffa"/><stop offset=".669" stop-color="#386df9"/><stop offset=".673" stop-color="#3473f8"/><stop offset=".71" stop-color="#2489f5"/><stop offset=".74" stop-color="#1e91f3"/><stop offset=".794" stop-color="#1e91f3"/><stop offset=".798" stop-color="#1c93f3"/><stop offset=".806" stop-color="#11a0f1"/><stop offset=".81" stop-color="#08acee"/><stop offset=".815" stop-color="#04b9ea"/><stop offset=".827" stop-color="#28dbde"/><stop offset=".831" stop-color="#34e4d9"/><stop offset=".84" stop-color="#4af2cf"/><stop offset=".852" stop-color="#6dfdbf"/><stop offset=".86" stop-color="#7dffb6"/><stop offset=".865" stop-color="#7effb5"/><stop offset=".885" stop-color="#7effb5"/><stop offset=".902" stop-color="#86ffb0"/><stop offset=".923" stop-color="#99fca6"/><stop offset=".948" stop-color="#b0f397"/><stop offset=".969" stop-color="#bced8f"/><stop offset=".998" stop-color="#bced8f"/></linearGradient><linearGradient id="d101" x2="0" y2="1"><stop offset=".002" stop-color="#7c06ff"/><stop offset=".223" stop-color="#7c06ff"/><stop offset=".24" stop-color="#7413ff"/><stop offset=".244" stop-color="#7019ff"/><stop offset=".248" stop-color="#6a22fe"/><stop offset=".256" stop-color="#622ffe"/><stop offset=".26" stop-color="#6032fe"/><stop offset=".265" stop-color="#6032fe"/><stop offset=".269" stop-color="#622ffe"/><stop offset=".273" stop-color="#6826fe"/><stop offset=".281" stop-color="#7019ff"/><stop offset=".29" stop-color="#7413ff"/><stop offset=".302" stop-color="#7413ff"/><stop offset=".306" stop-color="#7216ff"/><stop offset=".319" stop-color="#7019ff"/><stop offset=".327" stop-color="#6c1fff"/><stop offset=".331" stop-color="#6826fe"/><stop offset=".335" stop-color="#6629fe"/><stop offset=".34" stop-color="#6032fe"/><stop offset=".348" stop-color="#583efd"/><stop offset=".356" stop-color="#5444fd"/><stop offset=".369" stop-color="#5a3bfd"/><stop offset=".373" stop-color="#5e35fe"/><stop offset=".377" stop-color="#6032fe"/><stop offset=".415" stop-color="#6032fe"/><stop offset=".419" stop-color="#622ffe"/><stop offset=".431" stop-color="#622ffe"/><stop offset=".51" stop-color="#7610ff"/><stop offset=".535" stop-color="#7610ff"/><stop offset=".54" stop-color="#7413ff"/><stop offset=".544" stop-color="#7413ff"/><stop offset=".552" stop-color="#7019ff"/><stop offset=".556" stop-color="#7019ff"/><stop offset=".577" stop-color="#6629fe"/><stop offset=".581" stop-color="#622ffe"/><stop offset=".594" stop-color="#5c38fd"/><stop offset=".606" stop-color="#5247fc"/><stop offset=".648" stop-color="#3473f8"/><stop offset=".677" stop-color="#208ef4"/><stop offset=".719" stop-color="#0ca7ef"/><stop offset=".735" stop-color="#08acee"/><stop offset=".79" stop-color="#08acee"/><stop offset=".794" stop-color="#06aeed"/><stop offset=".798" stop-color="#00b5eb"/><stop offset=".802" stop-color="#07bbea"/><stop offset=".806" stop-color="#10c6e6"/><stop offset=".819" stop-color="#38e7d7"/><stop offset=".827" stop-color="#54f6cb"/><stop offset=".84" stop-color="#76ffb9"/><stop offset=".848" stop-color="#8cfead"/><stop offset=".856" stop-color="#9cfba4"/><stop offset=".86" stop-color="#9efaa2"/><stop offset=".894" stop-color="#a0faa1"/><stop offset=".923" stop-color="#bbee91"/><stop offset=".944" stop-color="#d2de81"/><stop offset=".956" stop-color="#dcd67a"/><stop offset=".973" stop-color="#e4cf74"/><stop offset=".998" stop-color="#e4cf74"/></linearGradient><linearGradient id="d102" x2="0" y2="1"><stop offset=".002" stop-color="#7c06ff"/><stop offset=".198" stop-color="#7c06ff"/><stop offset=".215" stop-color="#7413ff"/><stop offset=".223" stop-color="#6c1fff"/><stop offset=".227" stop-color="#6629fe"/><stop offset=".235" stop-color="#622ffe"/><stop offset=".24" stop-color="#622ffe"/><stop offset=".248" stop-color="#6629fe"/><stop offset=".26" stop-color="#7216ff"/><stop offset=".269" stop-color="#7610ff"/><stop offset=".281" stop-color="#7610ff"/><stop offset=".285" stop-color="#7413ff"/><stop offset=".294" stop-color="#7413ff"/><stop offset=".31" stop-color="#6c1fff"/><stop offset=".331" stop-color="#5641fd"/><stop offset=".34" stop-color="#5641fd"/><stop offset=".344" stop-color="#5a3bfd"/><stop offset=".352" stop-color="#5e35fe"/><stop offset=".373" stop-color="#5e35fe"/><stop offset=".377" stop-color="#5c38fd"/><stop offset=".385" stop-color="#5c38fd"/><stop offset=".39" stop-color="#5a3bfd"/><stop offset=".415" stop-color="#5a3bfd"/><stop offset=".419" stop-color="#5c38fd"/><stop offset=".427" stop-color="#5c38fd"/><stop offset=".456" stop-color="#642cfe"/><stop offset=".46" stop-color="#642cfe"/><stop offset=".481" stop-color="#6c1fff"/><stop offset=".485" stop-color="#6c1fff"/><stop offset=".494" stop-color="#7019ff"/><stop offset=".506" stop-color="#7216ff"/><stop offset=".51" stop-color="#7413ff"/><stop offset=".523" stop-color="#7413ff"/><stop offset=".527" stop-color="#7610ff"/><stop offset=".531" stop-color="#7413ff"/><stop offset=".544" stop-color="#7413ff"/><stop offset=".548" stop-color="#7216ff"/><stop offset=".552" stop-color="#7216ff"/><stop offset=".56" stop-color="#6e1cff"/><stop offset=".565" stop-color="#6e1cff"/><stop offset=".594" stop-color="#6032fe"/><stop offset=".598" stop-color="#5c38fd"/><stop offset=".61" stop-color="#5641fd"/><stop offset=".615" stop-color="#5247fc"/><stop offset=".623" stop-color="#4e4dfc"/><stop offset=".627" stop-color="#4a53fb"/><stop offset=".635" stop-color="#4659fb"/><stop offset=".64" stop-color="#425ffa"/><stop offset=".648" stop-color="#3e65fa"/><stop offset=".652" stop-color="#396bf9"/><stop offset=".665" stop-color="#3473f8"/><stop offset=".669" stop-color="#3079f7"/><stop offset=".702" stop-color="#208ef4"/><stop offset=".719" stop-color="#1996f3"/><stop offset=".74" stop-color="#169bf2"/><stop offset=".794" stop-color="#169bf2"/><stop offset=".798" stop-color="#149df1"/><stop offset=".802" stop-color="#0ea5ef"/><stop offset=".806" stop-color="#06aeed"/><stop offset=".81" stop-color="#04b9ea"/><stop offset=".823" stop-color="#2ddedc"/><stop offset=".831" stop-color="#44eed2"/><stop offset=".844" stop-color="#66fcc2"/><stop offset=".852" stop-color="#7affb7"/><stop offset=".86" stop-color="#88ffaf"/><stop offset=".865" stop-color="#8bfeae"/><stop offset=".894" stop-color="#8cfead"/><stop offset=".91" stop-color="#99fca6"/><stop offset=".923" stop-color="#a4f89f"/><stop offset=".927" stop-color="#abf69b"/><stop offset=".948" stop-color="#beec8e"/><stop offset=".969" stop-color="#cbe486"/><stop offset=".998" stop-color="#cbe486"/></linearGradient><linearGradient id="d103" x2="0" y2="1"><stop offset=".002" stop-color="#7c06ff"/><stop offset=".169" stop-color="#7c06ff"/><stop offset=".181" stop-color="#780dff"/><stop offset=".202" stop-color="#6629fe"/><stop offset=".21" stop-color="#622ffe"/><stop offset=".219" stop-color="#6629fe"/><stop offset=".223" stop-color="#6a22fe"/><stop offset=".227" stop-color="#6c1fff"/><stop offset=".235" stop-color="#7413ff"/><stop offset=".244" stop-color="#780dff"/><stop offset=".256" stop-color="#7a09ff"/><stop offset=".26" stop-color="#780dff"/><stop offset=".273" stop-color="#780dff"/><stop offset=".277" stop-color="#7610ff"/><stop offset=".281" stop-color="#7610ff"/><stop offset=".29" stop-color="#7216ff"/><stop offset=".302" stop-color="#6629fe"/><stop offset=".306" stop-color="#6032fe"/><stop offset=".315" stop-color="#5c38fd"/><stop offset=".319" stop-color="#5c38fd"/><stop offset=".323" stop-color="#5e35fe"/><stop offset=".327" stop-color="#622ffe"/><stop offset=".331" stop-color="#642cfe"/><stop offset=".348" stop-color="#642cfe"/><stop offset=".356" stop-color="#6032fe"/><stop offset=".36" stop-color="#6032fe"/><stop offset=".373" stop-color="#5c38fd"/><stop offset=".381" stop-color="#5c38fd"/><stop offset=".385" stop-color="#5a3bfd"/><stop offset=".419" stop-color="#5a3bfd"/><stop offset=".423" stop-color="#5c38fd"/><stop offset=".431" stop-color="#5c38fd"/><stop offset=".444" stop-color="#6032fe"/><stop offset=".448" stop-color="#6032fe"/><stop offset=".456" stop-color="#642cfe"/><stop offset=".46" stop-color="#642cfe"/><stop offset=".481" stop-color="#6c1fff"/><stop offset=".494" stop-color="#6e1cff"/><stop offset=".502" stop-color="#7216ff"/><stop offset=".506" stop-color="#7216ff"/><stop offset=".51" stop-color="#7413ff"/><stop offset=".519" stop-color="#7413ff"/><stop offset=".523" stop-color="#7610ff"/><stop offset=".54" stop-color="#7610ff"/><stop offset=".544" stop-color="#7413ff"/><stop offset=".556" stop-color="#7413ff"/><stop offset=".56" stop-color="#7216ff"/><stop offset=".565" stop-color="#7216ff"/><stop offset=".573" stop-color="#6e1cff"/><stop offset=".577" stop-color="#6e1cff"/><stop offset=".585" stop-color="#6a22fe"/><stop offset=".59" stop-color="#6a22fe"/><stop offset=".61" stop-color="#6032fe"/><stop offset=".615" stop-color="#6032fe"/><stop offset=".66" stop-color="#4a53fb"/><stop offset=".665" stop-color="#4a53fb"/><stop offset=".681" stop-color="#425ffa"/><stop offset=".685" stop-color="#425ffa"/><stop offset=".698" stop-color="#3c68f9"/><stop offset=".723" stop-color="#3670f8"/><stop offset=".735" stop-color="#3670f8"/><stop offset=".74" stop-color="#3473f8"/><stop offset=".802" stop-color="#3473f8"/><stop offset=".81" stop-color="#2884f6"/><stop offset=".815" stop-color="#208ef4"/><stop offset=".819" stop-color="#149df1"/><stop offset=".823" stop-color="#09a9ee"/><stop offset=".827" stop-color="#02b7eb"/><stop offset=".84" stop-color="#20d5e1"/><stop offset=".852" stop-color="#44eed2"/><stop offset=".86" stop-color="#56f7ca"/><stop offset=".869" stop-color="#60fac5"/><stop offset=".885" stop-color="#60fac5"/><stop offset=".898" stop-color="#64fbc3"/><stop offset=".91" stop-color="#6dfdbf"/><stop offset=".931" stop-color="#7effb5"/><stop offset=".948" stop-color="#8cfead"/><stop offset=".965" stop-color="#96fca7"/><stop offset=".973" stop-color="#99fca6"/><stop offset=".998" stop-color="#99fca6"/></linearGradient><linearGradient id="d104" x2="0" y2="1"><stop offset=".002" stop-color="#7c06ff"/><stop offset=".135" stop-color="#7c06ff"/><stop offset=".14" stop-color="#7a09ff"/><stop offset=".144" stop-color="#7a09ff"/><stop offset=".156" stop-color="#7413ff"/><stop offset=".165" stop-color="#6c1fff"/><stop offset=".177" stop-color="#642cfe"/><stop offset=".185" stop-color="#642cfe"/><stop offset=".194" stop-color="#6826fe"/><stop offset=".206" stop-color="#7413ff"/><stop offset=".219" stop-color="#7a09ff"/><stop offset=".223" stop-color="#7a09ff"/><stop offset=".227" stop-color="#7c06ff"/><stop offset=".24" stop-color="#7c06ff"/><stop offset=".244" stop-color="#7a09ff"/><stop offset=".26" stop-color="#7a09ff"/><stop offset=".273" stop-color="#7413ff"/><stop offset=".29" stop-color="#642cfe"/><stop offset=".294" stop-color="#622ffe"/><stop offset=".298" stop-color="#622ffe"/><stop offset=".302" stop-color="#6629fe"/><stop offset=".319" stop-color="#6e1cff"/><stop offset=".323" stop-color="#6e1cff"/><stop offset=".377" stop-color="#6032fe"/><stop offset=".423" stop-color="#6032fe"/><stop offset=".427" stop-color="#622ffe"/><stop offset=".435" stop-color="#622ffe"/><stop offset=".465" stop-color="#6a22fe"/><stop offset=".469" stop-color="#6a22fe"/><stop offset=".481" stop-color="#6e1cff"/><stop offset=".485" stop-color="#6e1cff"/><stop offset=".494" stop-color="#7216ff"/><stop offset=".502" stop-color="#7216ff"/><stop offset=".515" stop-color="#7610ff"/><stop offset=".548" stop-color="#7610ff"/><stop offset=".56" stop-color="#7216ff"/><stop offset=".573" stop-color="#7019ff"/><stop offset=".581" stop-color="#6c1fff"/><stop offset=".585" stop-color="#6c1fff"/><stop offset=".602" stop-color="#642cfe"/><stop offset=".606" stop-color="#642cfe"/><stop offset=".66" stop-color="#4a53fb"/><stop offset=".665" stop-color="#4a53fb"/><stop offset=".69" stop-color="#3e65fa"/><stop offset=".694" stop-color="#3e65fa"/><stop offset=".702" stop-color="#396bf9"/><stop offset=".727" stop-color="#3473f8"/><stop offset=".798" stop-color="#3473f8"/><stop offset=".802" stop-color="#3176f8"/><stop offset=".81" stop-color="#2884f6"/><stop offset=".827" stop-color="#00b5eb"/><stop offset=".84" stop-color="#20d5e1"/><stop offset=".848" stop-color="#37e6d8"/><stop offset=".856" stop-color="#4df3ce"/><stop offset=".865" stop-color="#5df9c7"/><stop offset=".89" stop-color="#60fac5"/><stop offset=".906" stop-color="#68fcc1"/><stop offset=".94" stop-color="#84ffb2"/><stop offset=".965" stop-color="#94fda8"/><stop offset=".998" stop-color="#96fca7"/></linearGradient><linearGradient id="d105" x2="0" y2="1"><stop offset=".002" stop-color="#7c06ff"/><stop offset=".106" stop-color="#7c06ff"/><stop offset=".123" stop-color="#7413ff"/><stop offset=".144" stop-color="#642cfe"/><stop offset=".156" stop-color="#642cfe"/><stop offset=".16" stop-color="#6629fe"/><stop offset=".165" stop-color="#6a22fe"/><stop offset=".169" stop-color="#6c1fff"/><stop offset=".177" stop-color="#7413ff"/><stop offset=".194" stop-color="#7c06ff"/><stop offset=".235" stop-color="#7c06ff"/><stop offset=".24" stop-color="#7a09ff"/><stop offset=".244" stop-color="#7a09ff"/><stop offset=".256" stop-color="#7413ff"/><stop offset=".265" stop-color="#6c1fff"/><stop offset=".273" stop-color="#6826fe"/><stop offset=".277" stop-color="#6826fe"/><stop offset=".281" stop-color="#6a22fe"/><stop offset=".285" stop-color="#6e1cff"/><stop offset=".298" stop-color="#7413ff"/><stop offset=".315" stop-color="#7413ff"/><stop offset=".319" stop-color="#7216ff"/><stop offset=".34" stop-color="#7019ff"/><stop offset=".352" stop-color="#6c1fff"/><stop offset=".36" stop-color="#6c1fff"/><stop offset=".365" stop-color="#6a22fe"/><stop offset=".377" stop-color="#6a22fe"/><stop offset=".381" stop-color="#6826fe"/><stop offset=".423" stop-color="#6826fe"/><stop offset=".427" stop-color="#6a22fe"/><stop offset=".44" stop-color="#6a22fe"/><stop offset=".444" stop-color="#6c1fff"/><stop offset=".452" stop-color="#6c1fff"/><stop offset=".465" stop-color="#7019ff"/><stop offset=".473" stop-color="#7019ff"/><stop offset=".485" stop-color="#7413ff"/><stop offset=".506" stop-color="#7610ff"/><stop offset=".51" stop-color="#780dff"/><stop offset=".531" stop-color="#780dff"/><stop offset=".544" stop-color="#7413ff"/><stop offset=".556" stop-color="#7216ff"/><stop offset=".598" stop-color="#5e35fe"/><stop offset=".602" stop-color="#5a3bfd"/><stop offset=".627" stop-color="#4c50fc"/><stop offset=".631" stop-color="#4856fb"/><stop offset=".673" stop-color="#2981f6"/><stop offset=".694" stop-color="#1e91f3"/><stop offset=".723" stop-color="#10a2f0"/><stop offset=".731" stop-color="#0ea5ef"/><stop offset=".794" stop-color="#0ea5ef"/><stop offset=".802" stop-color="#06aeed"/><stop offset=".806" stop-color="#02b7eb"/><stop offset=".815" stop-color="#17cbe4"/><stop offset=".819" stop-color="#24d8df"/><stop offset=".823" stop-color="#30e1da"/><stop offset=".831" stop-color="#44eed2"/><stop offset=".844" stop-color="#64fbc3"/><stop offset=".852" stop-color="#78ffb8"/><stop offset=".86" stop-color="#86ffb0"/><stop offset=".865" stop-color="#88ffaf"/><stop offset=".89" stop-color="#88ffaf"/><stop offset=".894" stop-color="#8bfeae"/><stop offset=".906" stop-color="#92fda9"/><stop offset=".923" stop-color="#a2f9a0"/><stop offset=".944" stop-color="#b9ef92"/><stop offset=".956" stop-color="#c2ea8c"/><stop offset=".969" stop-color="#c8e688"/><stop offset=".998" stop-color="#c8e688"/></linearGradient><linearGradient id="d106" x2="0" y2="1"><stop offset=".002" stop-color="#7c06ff"/><stop offset=".073" stop-color="#7c06ff"/><stop offset=".077" stop-color="#7a09ff"/><stop offset=".081" stop-color="#7a09ff"/><stop offset=".09" stop-color="#7610ff"/><stop offset=".102" stop-color="#6a22fe"/><stop offset=".115" stop-color="#642cfe"/><stop offset=".123" stop-color="#642cfe"/><stop offset=".131" stop-color="#6826fe"/><stop offset=".14" stop-color="#7019ff"/><stop offset=".144" stop-color="#7216ff"/><stop offset=".148" stop-color="#7610ff"/><stop offset=".156" stop-color="#7a09ff"/><stop offset=".16" stop-color="#7a09ff"/><stop offset=".165" stop-color="#7c06ff"/><stop offset=".215" stop-color="#7c06ff"/><stop offset=".227" stop-color="#780dff"/><stop offset=".24" stop-color="#6e1cff"/><stop offset=".248" stop-color="#6a22fe"/><stop offset=".256" stop-color="#6a22fe"/><stop offset=".269" stop-color="#7413ff"/><stop offset=".281" stop-color="#7a09ff"/><stop offset=".294" stop-color="#7a09ff"/><stop offset=".298" stop-color="#780dff"/><stop offset=".315" stop-color="#780dff"/><stop offset=".319" stop-color="#7610ff"/><stop offset=".335" stop-color="#7610ff"/><stop offset=".34" stop-color="#7413ff"/><stop offset=".352" stop-color="#7413ff"/><stop offset=".356" stop-color="#7216ff"/><stop offset=".377" stop-color="#7216ff"/><stop offset=".381" stop-color="#7019ff"/><stop offset=".39" stop-color="#7019ff"/><stop offset=".419" stop-color="#7019ff"/><stop offset=".423" stop-color="#7216ff"/><stop offset=".444" stop-color="#7216ff"/><stop offset=".448" stop-color="#7413ff"/><stop offset=".465" stop-color="#7413ff"/><stop offset=".469" stop-color="#7610ff"/><stop offset=".481" stop-color="#7610ff"/><stop offset=".485" stop-color="#780dff"/><stop offset=".502" stop-color="#780dff"/><stop offset=".506" stop-color="#7a09ff"/><stop offset=".523" stop-color="#7a09ff"/><stop offset=".527" stop-color="#780dff"/><stop offset=".535" stop-color="#780dff"/><stop offset=".54" stop-color="#7610ff"/><stop offset=".544" stop-color="#7610ff"/><stop offset=".581" stop-color="#642cfe"/><stop offset=".585" stop-color="#6032fe"/><stop offset=".594" stop-color="#5c38fd"/><stop offset=".606" stop-color="#5247fc"/><stop offset=".619" stop-color="#4a53fb"/><stop offset=".627" stop-color="#425ffa"/><stop offset=".631" stop-color="#4062fa"/><stop offset=".677" stop-color="#149df1"/><stop offset=".702" stop-color="#00b5eb"/><stop offset=".723" stop-color="#0dc2e8"/><stop offset=".74" stop-color="#10c6e6"/><stop offset=".79" stop-color="#10c6e6"/><stop offset=".794" stop-color="#12c8e6"/><stop offset=".802" stop-color="#1dd1e2"/><stop offset=".81" stop-color="#30e1da"/><stop offset=".823" stop-color="#56f7ca"/><stop offset=".831" stop-color="#68fcc1"/><stop offset=".84" stop-color="#7affb7"/><stop offset=".848" stop-color="#8efeac"/><stop offset=".856" stop-color="#9cfba4"/><stop offset=".86" stop-color="#9efaa2"/><stop offset=".885" stop-color="#9efaa2"/><stop offset=".902" stop-color="#a6f89d"/><stop offset=".923" stop-color="#bbee91"/><stop offset=".94" stop-color="#cee184"/><stop offset=".96" stop-color="#e0d377"/><stop offset=".973" stop-color="#e4cf74"/><stop offset=".998" stop-color="#e4cf74"/></linearGradient><linearGradient id="d107" x2="0" y2="1"><stop offset=".002" stop-color="#7c06ff"/><stop offset=".044" stop-color="#7c06ff"/><stop offset=".048" stop-color="#7a09ff"/><stop offset=".052" stop-color="#7a09ff"/><stop offset=".065" stop-color="#7216ff"/><stop offset=".077" stop-color="#6629fe"/><stop offset=".085" stop-color="#622ffe"/><stop offset=".09" stop-color="#622ffe"/><stop offset=".094" stop-color="#642cfe"/><stop offset=".098" stop-color="#6826fe"/><stop offset=".102" stop-color="#6a22fe"/><stop offset=".11" stop-color="#7216ff"/><stop offset=".127" stop-color="#7a09ff"/><stop offset=".131" stop-color="#7a09ff"/><stop offset=".135" stop-color="#7c06ff"/><stop offset=".185" stop-color="#7c06ff"/><stop offset=".19" stop-color="#7a09ff"/><stop offset=".202" stop-color="#780dff"/><stop offset=".206" stop-color="#7413ff"/><stop offset=".215" stop-color="#7019ff"/><stop offset=".219" stop-color="#6c1fff"/><stop offset=".223" stop-color="#6a22fe"/><stop offset=".231" stop-color="#6a22fe"/><stop offset=".244" stop-color="#7216ff"/><stop offset=".248" stop-color="#7610ff"/><stop offset=".26" stop-color="#7a09ff"/><stop offset=".319" stop-color="#7a09ff"/><stop offset=".323" stop-color="#780dff"/><stop offset=".36" stop-color="#780dff"/><stop offset=".365" stop-color="#7610ff"/><stop offset=".427" stop-color="#7610ff"/><stop offset=".431" stop-color="#780dff"/><stop offset=".469" stop-color="#780dff"/><stop offset=".473" stop-color="#7a09ff"/><stop offset=".506" stop-color="#7a09ff"/><stop offset=".51" stop-color="#7c06ff"/><stop offset=".519" stop-color="#7c06ff"/><stop offset=".523" stop-color="#7a09ff"/><stop offset=".531" stop-color="#7a09ff"/><stop offset=".535" stop-color="#780dff"/><stop offset=".548" stop-color="#7610ff"/><stop offset=".556" stop-color="#7216ff"/><stop offset=".56" stop-color="#7216ff"/><stop offset=".598" stop-color="#6032fe"/><stop offset=".602" stop-color="#5c38fd"/><stop offset=".615" stop-color="#5641fd"/><stop offset=".619" stop-color="#5247fc"/><stop offset=".631" stop-color="#4a53fb"/><stop offset=".66" stop-color="#2e7bf7"/><stop offset=".685" stop-color="#169bf2"/><stop offset=".698" stop-color="#09a9ee"/><stop offset=".71" stop-color="#01b3ec"/><stop offset=".719" stop-color="#04b9ea"/><stop offset=".744" stop-color="#0ac0e8"/><stop offset=".798" stop-color="#0ac0e8"/><stop offset=".806" stop-color="#14cae5"/><stop offset=".815" stop-color="#24d8df"/><stop offset=".823" stop-color="#3ae8d6"/><stop offset=".827" stop-color="#42edd3"/><stop offset=".835" stop-color="#4ef3cd"/><stop offset=".848" stop-color="#68fcc1"/><stop offset=".86" stop-color="#7effb5"/><stop offset=".865" stop-color="#80ffb4"/><stop offset=".885" stop-color="#80ffb4"/><stop offset=".902" stop-color="#88ffaf"/><stop offset=".927" stop-color="#9efaa2"/><stop offset=".935" stop-color="#a8f79c"/><stop offset=".96" stop-color="#bced8f"/><stop offset=".973" stop-color="#c0eb8d"/><stop offset=".998" stop-color="#c0eb8d"/></linearGradient><linearGradient id="d108" x2="0" y2="1"><stop offset=".002" stop-color="#7c06ff"/><stop offset=".015" stop-color="#7c06ff"/><stop offset=".019" stop-color="#7a09ff"/><stop offset=".023" stop-color="#7a09ff"/><stop offset=".031" stop-color="#7610ff"/><stop offset=".048" stop-color="#6629fe"/><stop offset=".056" stop-color="#622ffe"/><stop offset=".06" stop-color="#622ffe"/><stop offset=".069" stop-color="#6629fe"/><stop offset=".077" stop-color="#6e1cff"/><stop offset=".081" stop-color="#7019ff"/><stop offset=".085" stop-color="#7413ff"/><stop offset=".094" stop-color="#780dff"/><stop offset=".098" stop-color="#780dff"/><stop offset=".102" stop-color="#7a09ff"/><stop offset=".148" stop-color="#7a09ff"/><stop offset=".152" stop-color="#780dff"/><stop offset=".169" stop-color="#780dff"/><stop offset=".173" stop-color="#7610ff"/><stop offset=".177" stop-color="#7610ff"/><stop offset=".198" stop-color="#6c1fff"/><stop offset=".21" stop-color="#6c1fff"/><stop offset=".231" stop-color="#7610ff"/><stop offset=".235" stop-color="#7610ff"/><stop offset=".24" stop-color="#780dff"/><stop offset=".419" stop-color="#780dff"/><stop offset=".423" stop-color="#7a09ff"/><stop offset=".477" stop-color="#7a09ff"/><stop offset=".481" stop-color="#7c06ff"/><stop offset=".527" stop-color="#7c06ff"/><stop offset=".531" stop-color="#7a09ff"/><stop offset=".54" stop-color="#7a09ff"/><stop offset=".552" stop-color="#7610ff"/><stop offset=".565" stop-color="#7413ff"/><stop offset=".573" stop-color="#7019ff"/><stop offset=".577" stop-color="#7019ff"/><stop offset=".59" stop-color="#6a22fe"/><stop offset=".594" stop-color="#6a22fe"/><stop offset=".627" stop-color="#5a3bfd"/><stop offset=".631" stop-color="#5641fd"/><stop offset=".635" stop-color="#5444fd"/><stop offset=".648" stop-color="#4856fb"/><stop offset=".652" stop-color="#4659fb"/><stop offset=".66" stop-color="#3c68f9"/><stop offset=".685" stop-color="#2489f5"/><stop offset=".69" stop-color="#1e91f3"/><stop offset=".71" stop-color="#0ca7ef"/><stop offset=".723" stop-color="#06aeed"/><stop offset=".744" stop-color="#01b3ec"/><stop offset=".802" stop-color="#01b3ec"/><stop offset=".806" stop-color="#00b5eb"/><stop offset=".815" stop-color="#0ac0e8"/><stop offset=".819" stop-color="#12c8e6"/><stop offset=".827" stop-color="#1fd3e1"/><stop offset=".84" stop-color="#2adddd"/><stop offset=".844" stop-color="#30e1da"/><stop offset=".856" stop-color="#48f1d0"/><stop offset=".865" stop-color="#58f8c9"/><stop offset=".873" stop-color="#5df9c7"/><stop offset=".89" stop-color="#5df9c7"/><stop offset=".906" stop-color="#64fbc3"/><stop offset=".927" stop-color="#76ffb9"/><stop offset=".96" stop-color="#8efeac"/><stop offset=".977" stop-color="#92fda9"/><stop offset=".998" stop-color="#92fda9"/></linearGradient><linearGradient id="d109" x2="0" y2="1"><stop offset=".002" stop-color="#780dff"/><stop offset=".023" stop-color="#642cfe"/><stop offset=".031" stop-color="#6032fe"/><stop offset=".04" stop-color="#642cfe"/><stop offset=".052" stop-color="#7019ff"/><stop offset=".065" stop-color="#7610ff"/><stop offset=".069" stop-color="#7610ff"/><stop offset=".073" stop-color="#780dff"/><stop offset=".085" stop-color="#780dff"/><stop offset=".09" stop-color="#7610ff"/><stop offset=".119" stop-color="#7610ff"/><stop offset=".123" stop-color="#7413ff"/><stop offset=".148" stop-color="#7413ff"/><stop offset=".152" stop-color="#7216ff"/><stop offset=".165" stop-color="#7019ff"/><stop offset=".173" stop-color="#6c1fff"/><stop offset=".19" stop-color="#6c1fff"/><stop offset=".194" stop-color="#6e1cff"/><stop offset=".202" stop-color="#6e1cff"/><stop offset=".206" stop-color="#7019ff"/><stop offset=".273" stop-color="#7019ff"/><stop offset=".277" stop-color="#7216ff"/><stop offset=".319" stop-color="#7216ff"/><stop offset=".323" stop-color="#7413ff"/><stop offset=".356" stop-color="#7413ff"/><stop offset=".36" stop-color="#7610ff"/><stop offset=".39" stop-color="#7610ff"/><stop offset=".394" stop-color="#780dff"/><stop offset=".427" stop-color="#780dff"/><stop offset=".431" stop-color="#7a09ff"/><stop offset=".477" stop-color="#7a09ff"/><stop offset=".481" stop-color="#7c06ff"/><stop offset=".523" stop-color="#7c06ff"/><stop offset=".527" stop-color="#7a09ff"/><stop offset=".54" stop-color="#7a09ff"/><stop offset=".544" stop-color="#780dff"/><stop offset=".548" stop-color="#780dff"/><stop offset=".556" stop-color="#7413ff"/><stop offset=".56" stop-color="#7413ff"/><stop offset=".569" stop-color="#7019ff"/><stop offset=".573" stop-color="#7019ff"/><stop offset=".615" stop-color="#5e35fe"/><stop offset=".619" stop-color="#5a3bfd"/><stop offset=".631" stop-color="#5247fc"/><stop offset=".652" stop-color="#3e65fa"/><stop offset=".677" stop-color="#1e91f3"/><stop offset=".681" stop-color="#1996f3"/><stop offset=".69" stop-color="#0ea5ef"/><stop offset=".702" stop-color="#00b5eb"/><stop offset=".715" stop-color="#0ac0e8"/><stop offset=".731" stop-color="#12c8e6"/><stop offset=".744" stop-color="#14cae5"/><stop offset=".802" stop-color="#14cae5"/><stop offset=".81" stop-color="#1dd1e2"/><stop offset=".823" stop-color="#2fe0db"/><stop offset=".84" stop-color="#3ae8d6"/><stop offset=".848" stop-color="#46efd1"/><stop offset=".86" stop-color="#5efac6"/><stop offset=".869" stop-color="#66fcc2"/><stop offset=".89" stop-color="#66fcc2"/><stop offset=".902" stop-color="#6dfdbf"/><stop offset=".923" stop-color="#7dffb6"/><stop offset=".94" stop-color="#8cfead"/><stop offset=".965" stop-color="#9cfba4"/><stop offset=".998" stop-color="#9efaa2"/></linearGradient><linearGradient id="d110" x2="0" y2="1"><stop offset=".002" stop-color="#622ffe"/><stop offset=".006" stop-color="#6032fe"/><stop offset=".015" stop-color="#642cfe"/><stop offset=".031" stop-color="#7413ff"/><stop offset=".035" stop-color="#7413ff"/><stop offset=".04" stop-color="#7610ff"/><stop offset=".073" stop-color="#7610ff"/><stop offset=".077" stop-color="#7413ff"/><stop offset=".094" stop-color="#7413ff"/><stop offset=".098" stop-color="#7216ff"/><stop offset=".135" stop-color="#7019ff"/><stop offset=".14" stop-color="#6e1cff"/><stop offset=".148" stop-color="#6e1cff"/><stop offset=".152" stop-color="#6c1fff"/><stop offset=".173" stop-color="#6c1fff"/><stop offset=".177" stop-color="#6a22fe"/><stop offset=".281" stop-color="#6a22fe"/><stop offset=".285" stop-color="#6c1fff"/><stop offset=".31" stop-color="#6c1fff"/><stop offset=".315" stop-color="#6e1cff"/><stop offset=".331" stop-color="#6e1cff"/><stop offset=".335" stop-color="#7019ff"/><stop offset=".352" stop-color="#7019ff"/><stop offset=".356" stop-color="#7216ff"/><stop offset=".373" stop-color="#7216ff"/><stop offset=".377" stop-color="#7413ff"/><stop offset=".394" stop-color="#7413ff"/><stop offset=".398" stop-color="#7610ff"/><stop offset=".419" stop-color="#7610ff"/><stop offset=".423" stop-color="#780dff"/><stop offset=".448" stop-color="#780dff"/><stop offset=".452" stop-color="#7a09ff"/><stop offset=".49" stop-color="#7a09ff"/><stop offset=".494" stop-color="#7c06ff"/><stop offset=".519" stop-color="#7c06ff"/><stop offset=".523" stop-color="#7a09ff"/><stop offset=".531" stop-color="#7a09ff"/><stop offset=".535" stop-color="#780dff"/><stop offset=".54" stop-color="#780dff"/><stop offset=".548" stop-color="#7413ff"/><stop offset=".552" stop-color="#7413ff"/><stop offset=".585" stop-color="#642cfe"/><stop offset=".59" stop-color="#6032fe"/><stop offset=".598" stop-color="#5c38fd"/><stop offset=".602" stop-color="#583efd"/><stop offset=".61" stop-color="#5444fd"/><stop offset=".619" stop-color="#4c50fc"/><stop offset=".623" stop-color="#4a53fb"/><stop offset=".631" stop-color="#4062fa"/><stop offset=".64" stop-color="#386df9"/><stop offset=".677" stop-color="#00b5eb"/><stop offset=".69" stop-color="#14cae5"/><stop offset=".698" stop-color="#20d5e1"/><stop offset=".719" stop-color="#37e6d8"/><stop offset=".74" stop-color="#3febd5"/><stop offset=".794" stop-color="#3febd5"/><stop offset=".798" stop-color="#40ecd4"/><stop offset=".802" stop-color="#44eed2"/><stop offset=".815" stop-color="#56f7ca"/><stop offset=".823" stop-color="#66fcc2"/><stop offset=".831" stop-color="#6efebe"/><stop offset=".844" stop-color="#78ffb8"/><stop offset=".856" stop-color="#8cfead"/><stop offset=".86" stop-color="#90feab"/><stop offset=".885" stop-color="#90feab"/><stop offset=".902" stop-color="#99fca6"/><stop offset=".927" stop-color="#b0f397"/><stop offset=".956" stop-color="#cce385"/><stop offset=".969" stop-color="#d2de81"/><stop offset=".998" stop-color="#d2de81"/></linearGradient><linearGradient id="d111" x2="0" y2="1"><stop offset=".002" stop-color="#7216ff"/><stop offset=".015" stop-color="#780dff"/><stop offset=".052" stop-color="#780dff"/><stop offset=".056" stop-color="#7610ff"/><stop offset=".073" stop-color="#7610ff"/><stop offset=".077" stop-color="#7413ff"/><stop offset=".098" stop-color="#7413ff"/><stop offset=".102" stop-color="#7216ff"/><stop offset=".119" stop-color="#7216ff"/><stop offset=".123" stop-color="#7019ff"/><stop offset=".14" stop-color="#7019ff"/><stop offset=".144" stop-color="#6e1cff"/><stop offset=".16" stop-color="#6e1cff"/><stop offset=".165" stop-color="#6c1fff"/><stop offset=".19" stop-color="#6c1fff"/><stop offset=".194" stop-color="#6a22fe"/><stop offset=".277" stop-color="#6a22fe"/><stop offset=".281" stop-color="#6c1fff"/><stop offset=".306" stop-color="#6c1fff"/><stop offset=".31" stop-color="#6e1cff"/><stop offset=".327" stop-color="#6e1cff"/><stop offset=".331" stop-color="#7019ff"/><stop offset=".348" stop-color="#7019ff"/><stop offset=".352" stop-color="#7216ff"/><stop offset=".369" stop-color="#7216ff"/><stop offset=".373" stop-color="#7413ff"/><stop offset=".39" stop-color="#7413ff"/><stop offset=".394" stop-color="#7610ff"/><stop offset=".415" stop-color="#7610ff"/><stop offset=".419" stop-color="#780dff"/><stop offset=".444" stop-color="#780dff"/><stop offset=".448" stop-color="#7a09ff"/><stop offset=".49" stop-color="#7a09ff"/><stop offset=".494" stop-color="#7c06ff"/><stop offset=".519" stop-color="#7c06ff"/><stop offset=".523" stop-color="#7a09ff"/><stop offset=".531" stop-color="#7a09ff"/><stop offset=".535" stop-color="#780dff"/><stop offset=".54" stop-color="#780dff"/><stop offset=".585" stop-color="#622ffe"/><stop offset=".598" stop-color="#583efd"/><stop offset=".606" stop-color="#5444fd"/><stop offset=".615" stop-color="#4c50fc"/><stop offset=".623" stop-color="#4659fb"/><stop offset=".627" stop-color="#4062fa"/><stop offset=".64" stop-color="#3176f8"/><stop offset=".656" stop-color="#1996f3"/><stop offset=".669" stop-color="#04b0ed"/><stop offset=".673" stop-color="#02b7eb"/><stop offset=".677" stop-color="#0ac0e8"/><stop offset=".694" stop-color="#27dade"/><stop offset=".706" stop-color="#38e7d7"/><stop offset=".719" stop-color="#44eed2"/><stop offset=".735" stop-color="#4df3ce"/><stop offset=".748" stop-color="#4ef3cd"/><stop offset=".794" stop-color="#4ef3cd"/><stop offset=".798" stop-color="#50f4cc"/><stop offset=".81" stop-color="#60fac5"/><stop offset=".823" stop-color="#78ffb8"/><stop offset=".84" stop-color="#84ffb2"/><stop offset=".856" stop-color="#9bfba5"/><stop offset=".86" stop-color="#9cfba4"/><stop offset=".885" stop-color="#9cfba4"/><stop offset=".894" stop-color="#9efaa2"/><stop offset=".902" stop-color="#a4f89f"/><stop offset=".923" stop-color="#b9ef92"/><stop offset=".927" stop-color="#beec8e"/><stop offset=".956" stop-color="#dbd87b"/><stop offset=".973" stop-color="#e2d176"/><stop offset=".998" stop-color="#e2d176"/></linearGradient>
<linearGradient id="cbR" x1="0" y1="0" x2="0" y2="1"><stop offset="0" stop-color="#ff0000"/><stop offset="0.0312" stop-color="#ff160b"/><stop offset="0.0625" stop-color="#ff2f18"/><stop offset="0.0938" stop-color="#ff4724"/><stop offset="0.125" stop-color="#ff5f30"/><stop offset="0.1562" stop-color="#ff763d"/><stop offset="0.1875" stop-color="#ff8c49"/><stop offset="0.2188" stop-color="#ffa055"/><stop offset="0.25" stop-color="#ffb360"/><stop offset="0.2812" stop-color="#f0c46c"/><stop offset="0.3125" stop-color="#e0d377"/><stop offset="0.3438" stop-color="#d0e082"/><stop offset="0.375" stop-color="#c0eb8d"/><stop offset="0.4062" stop-color="#b0f397"/><stop offset="0.4375" stop-color="#a0faa1"/><stop offset="0.4688" stop-color="#90feab"/><stop offset="0.5" stop-color="#80ffb4"/><stop offset="0.5312" stop-color="#70febc"/><stop offset="0.5625" stop-color="#60fac5"/><stop offset="0.5938" stop-color="#50f4cc"/><stop offset="0.625" stop-color="#40ecd4"/><stop offset="0.6562" stop-color="#30e1da"/><stop offset="0.6875" stop-color="#20d5e1"/><stop offset="0.7188" stop-color="#10c6e6"/><stop offset="0.75" stop-color="#00b5eb"/><stop offset="0.7812" stop-color="#10a2f0"/><stop offset="0.8125" stop-color="#208ef4"/><stop offset="0.8438" stop-color="#3079f7"/><stop offset="0.875" stop-color="#4062fa"/><stop offset="0.9062" stop-color="#504afc"/><stop offset="0.9375" stop-color="#6032fe"/><stop offset="0.9688" stop-color="#7019ff"/><stop offset="1" stop-color="#8000ff"/></linearGradient></defs>
<rect width="1851" height="1037" fill="#fff"/>
<text x="-0.4" y="31" font-family="'Liberation Sans','DejaVu Sans',sans-serif" font-size="36.8" fill="#000">(a)</text>
<text x="675.8" y="29.9" font-family="'Liberation Sans','DejaVu Sans',sans-serif" font-size="36.8" fill="#000">(b)</text>
<text x="-0.7" y="465.9" font-family="'Liberation Sans','DejaVu Sans',sans-serif" font-size="36.8" fill="#000">(c)</text>
<text x="865.6" y="465.5" font-family="'Liberation Sans','DejaVu Sans',sans-serif" font-size="36.8" fill="#000">(d)</text>
<g id="pa" filter="url(#lb)"><g stroke="#2a78b4" fill="none"><path d="M143.8 35.2l3.4-2l3.4 2m6.8 0l3.4-2l3.4 2m6.8 0l3.4-2l3.4 2m6.8 0l3.4-2l3.4 2m6.8 0l3.4-2l3.4 2m6.8 0l3.4-2l3.4 2m6.8 0l3.4-2l3.4 2m6.8 0l3.4-2l3.4 2m6.8 0l3.4-2l3.4 2m6.8 0l3.4-2l3.4 2m6.8 0l3.3-2l3.4 2m6.8 0l3.4-2l3.4 2m6.8 0l3.4-2l3.4 2m6.8 0l3.4-2l3.4 2m6.8 0l3.4-2l3.4 2m6.8 0l3.4-2l3.4 2m6.8 0l3.4-2l3.4 2m6.8 0l3.4-2l3.4 2m6.8 0l3.4-2l3.4 2m6.8 0l3.4-2l3.4 2m6.8 0l3.4-2l3.4 2m6.8 0l3.4-2l3.4 2m6.8 0l3.4-2l3.4 2m6.8 0l3.4-2l3.4 2m6.8 0l3.4-2l3.4 2m6.8 0l3.4-2l3.4 2m6.8 0l3.4-2l3.4 2m6.8 0l3.4-2l3.4 2M137 46.9l3.4-1.9l3.4 1.9m-3.4-1.9v-4m10.2 5.9l3.4-1.9l3.4 1.9m-3.4-1.9v-4m10.2 5.9l3.4-1.9l3.4 1.9m-3.4-1.9v-4m10.2 5.9l3.4-1.9l3.4 1.9m-3.4-1.9v-4m10.2 5.9l3.4-1.9l3.4 1.9m-3.4-1.9v-4m10.2 5.9l3.4-1.9l3.4 1.9m-3.4-1.9v-4m10.2 5.9l3.4-1.9l3.4 1.9m-3.4-1.9v-4m10.2 5.9l3.4-1.9l3.4 1.9m-3.4-1.9v-4m10.2 5.9l3.4-1.9l3.4 1.9m-3.4-1.9v-4m10.2 5.9l3.4-1.9l3.4 1.9m-3.4-1.9v-4m10.2 5.9l3.4-1.9l3.4 1.9m-3.4-1.9v-4m10.1 5.9l3.4-1.9l3.4 1.9m-3.4-1.9v-4m10.2 5.9l3.4-1.9l3.4 1.9m-3.4-1.9v-4m10.2 5.9l3.4-1.9l3.4 1.9m-3.4-1.9v-4m10.2 5.9l3.4-1.9l3.4 1.9m-3.4-1.9v-4m10.2 5.9l3.4-1.9l3.4 1.9m-3.4-1.9v-4m10.2 5.9l3.4-1.9l3.4 1.9m-3.4-1.9v-4m10.2 5.9l3.4-1.9l3.4 1.9m-3.4-1.9v-4m10.2 5.9l3.4-1.9l3.4 1.9m-3.4-1.9v-4m10.2 5.9l3.4-1.9l3.4 1.9m-3.4-1.9v-4m10.2 5.9l3.4-1.9l3.4 1.9m-3.4-1.9v-4m10.2 5.9l3.4-1.9l3.4 1.9m-3.4-1.9v-4m10.2 5.9l3.4-1.9l3.4 1.9m-3.4-1.9v-4m10.2 5.9l3.4-1.9l3.4 1.9m-3.4-1.9v-4m10.2 5.9l3.4-1.9l3.4 1.9m-3.4-1.9v-4m10.2 5.9l3.4-1.9l3.4 1.9m-3.4-1.9v-4m10.2 5.9l3.4-1.9l3.4 1.9m-3.4-1.9v-4m10.2 5.9l3.4-1.9l3.4 1.9m-3.4-1.9v-4m10.2 5.9l3.4-1.9l3.4 1.9m-3.4-1.9v-4M130.2 58.7l3.4-2l3.4 2m-3.4-2v-3.9m10.2 5.9l3.4-2l3.4 2m-3.4-2v-3.9m10.2 5.9l3.4-2l3.4 2m-3.4-2v-3.9m10.2 5.9l3.4-2l3.4 2m-3.4-2v-3.9m10.2 5.9l3.4-2l3.4 2m-3.4-2v-3.9m10.2 5.9l3.4-2l3.4 2m-3.4-2v-3.9m10.2 5.9l3.4-2l3.4 2m-3.4-2v-3.9m10.2 5.9l3.4-2l3.4 2m-3.4-2v-3.9m10.2 5.9l3.4-2l3.4 2m-3.4-2v-3.9m10.2 5.9l3.4-2l3.4 2m-3.4-2v-3.9m10.2 5.9l3.4-2l3.4 2m-3.4-2v-3.9m10.2 5.9l3.4-2l3.3 2m-3.3-2v-3.9m10.1 5.9l3.4-2l3.4 2m-3.4-2v-3.9m10.2 5.9l3.4-2l3.4 2m-3.4-2v-3.9m10.2 5.9l3.4-2l3.4 2m-3.4-2v-3.9m10.2 5.9l3.4-2l3.4 2m-3.4-2v-3.9m10.2 5.9l3.4-2l3.4 2m-3.4-2v-3.9m10.2 5.9l3.4-2l3.4 2m-3.4-2v-3.9m10.2 5.9l3.4-2l3.4 2m-3.4-2v-3.9m10.2 5.9l3.4-2l3.4 2m-3.4-2v-3.9m10.2 5.9l3.4-2l3.4 2m-3.4-2v-3.9m10.2 5.9l3.4-2l3.4 2m-3.4-2v-3.9m10.2 5.9l3.4-2l3.4 2m-3.4-2v-3.9m10.2 5.9l3.4-2l3.4 2m-3.4-2v-3.9m10.2 5.9l3.4-2l3.4 2m-3.4-2v-3.9m10.2 5.9l3.4-2l3.4 2m-3.4-2v-3.9m10.2 5.9l3.4-2l3.4 2m-3.4-2v-3.9m10.2 5.9l3.4-2l3.4 2m-3.4-2v-3.9m10.2 5.9l3.4-2l3.4 2m-3.4-2v-3.9m10.2 5.9l3.4-2l3.4 2m-3.4-2v-3.9M137 70.5l3.4-2l3.4 2m-3.4-2v-3.9m10.2 5.9l3.4-2l3.4 2m-3.4-2v-3.9m10.2 5.9l3.4-2l3.4 2m-3.4-2v-3.9m10.2 5.9l3.4-2l3.4 2m-3.4-2v-3.9m10.2 5.9l3.4-2l3.4 2m-3.4-2v-3.9m10.2 5.9l3.4-2l3.4 2m-3.4-2v-3.9m10.2 5.9l3.4-2l3.4 2m-3.4-2v-3.9m10.2 5.9l3.4-2l3.4 2m-3.4-2v-3.9m10.2 5.9l3.4-2l3.4 2m-3.4-2v-3.9m10.2 5.9l3.4-2l3.4 2m-3.4-2v-3.9m10.2 5.9l3.4-2l3.4 2m-3.4-2v-3.9m10.1 5.9l3.4-2l3.4 2m-3.4-2v-3.9m10.2 5.9l3.4-2l3.4 2m-3.4-2v-3.9m10.2 5.9l3.4-2l3.4 2m-3.4-2v-3.9m10.2 5.9l3.4-2l3.4 2m-3.4-2v-3.9m10.2 5.9l3.4-2l3.4 2m-3.4-2v-3.9m10.2 5.9l3.4-2l3.4 2m-3.4-2v-3.9m10.2 5.9l3.4-2l3.4 2m-3.4-2v-3.9m10.2 5.9l3.4-2l3.4 2m-3.4-2v-3.9m10.2 5.9l3.4-2l3.4 2m-3.4-2v-3.9m10.2 5.9l3.4-2l3.4 2m-3.4-2v-3.9m10.2 5.9l3.4-2l3.4 2m-3.4-2v-3.9m10.2 5.9l3.4-2l3.4 2m-3.4-2v-3.9m10.2 5.9l3.4-2l3.4 2m-3.4-2v-3.9m10.2 5.9l3.4-2l3.4 2m-3.4-2v-3.9m10.2 5.9l3.4-2l3.4 2m-3.4-2v-3.9m10.2 5.9l3.4-2l3.4 2m-3.4-2v-3.9m10.2 5.9l3.4-2l3.4 2m-3.4-2v-3.9m10.2 5.9l3.4-2l3.4 2m-3.4-2v-3.9m10.2 5.9l3.4-2l3.4 2m-3.4-2v-3.9M130.2 82.3l3.4-2l3.4 2m-3.4-2v-3.9m10.2 5.9l3.4-2l3.4 2m-3.4-2v-3.9m10.2 5.9l3.4-2l3.4 2m-3.4-2v-3.9m10.2 5.9l3.4-2l3.4 2m-3.4-2v-3.9m10.2 5.9l3.4-2l3.4 2m-3.4-2v-3.9m10.2 5.9l3.4-2l3.4 2m-3.4-2v-3.9m10.2 5.9l3.4-2l3.4 2m-3.4-2v-3.9m10.2 5.9l3.4-2l3.4 2m-3.4-2v-3.9m10.2 5.9l3.4-2l3.4 2m-3.4-2v-3.9m10.2 5.9l3.4-2l3.4 2m-3.4-2v-3.9m10.2 5.9l3.4-2l3.4 2m-3.4-2v-3.9m10.2 5.9l3.4-2l3.3 2m-3.3-2v-3.9m10.1 5.9l3.4-2l3.4 2m-3.4-2v-3.9m10.2 5.9l3.4-2l3.4 2m-3.4-2v-3.9m10.2 5.9l3.4-2l3.4 2m-3.4-2v-3.9m10.2 5.9l3.4-2l3.4 2m-3.4-2v-3.9m10.2 5.9l3.4-2l3.4 2m-3.4-2v-3.9m10.2 5.9l3.4-2l3.4 2m-3.4-2v-3.9m10.2 5.9l3.4-2l3.4 2m-3.4-2v-3.9m10.2 5.9l3.4-2l3.4 2m-3.4-2v-3.9m10.2 5.9l3.4-2l3.4 2m-3.4-2v-3.9m10.2 5.9l3.4-2l3.4 2m-3.4-2v-3.9m10.2 5.9l3.4-2l3.4 2m-3.4-2v-3.9m10.2 5.9l3.4-2l3.4 2m-3.4-2v-3.9m10.2 5.9l3.4-2l3.4 2m-3.4-2v-3.9m10.2 5.9l3.4-2l3.4 2m-3.4-2v-3.9m10.2 5.9l3.4-2l3.4 2m-3.4-2v-3.9m10.2 5.9l3.4-2l3.4 2m-3.4-2v-3.9m10.2 5.9l3.4-2l3.4 2m-3.4-2v-3.9m10.2 5.9l3.4-2l3.4 2m-3.4-2v-3.9M137 94l3.4-1.9l3.4 1.9m-3.4-1.9v-4m10.2 5.9l3.4-1.9l3.4 1.9m-3.4-1.9v-4m10.2 5.9l3.4-1.9l3.4 1.9m-3.4-1.9v-4m10.2 5.9l3.4-1.9l3.4 1.9m-3.4-1.9v-4m10.2 5.9l3.4-1.9l3.4 1.9m-3.4-1.9v-4m10.2 5.9l3.4-1.9l3.4 1.9m-3.4-1.9v-4m10.2 5.9l3.4-1.9l3.4 1.9m-3.4-1.9v-4m10.2 5.9l3.4-1.9l3.4 1.9m-3.4-1.9v-4m10.2 5.9l3.4-1.9l3.4 1.9m-3.4-1.9v-4m10.2 5.9l3.4-1.9l3.4 1.9m-3.4-1.9v-4m10.2 5.9l3.4-1.9l3.4 1.9m-3.4-1.9v-4m10.1 5.9l3.4-1.9l3.4 1.9m-3.4-1.9v-4m10.2 5.9l3.4-1.9l3.4 1.9m-3.4-1.9v-4m10.2 5.9l3.4-1.9l3.4 1.9m-3.4-1.9v-4m10.2 5.9l3.4-1.9l3.4 1.9m-3.4-1.9v-4m10.2 5.9l3.4-1.9l3.4 1.9m-3.4-1.9v-4m10.2 5.9l3.4-1.9l3.4 1.9m-3.4-1.9v-4m10.2 5.9l3.4-1.9l3.4 1.9m-3.4-1.9v-4m10.2 5.9l3.4-1.9l3.4 1.9m-3.4-1.9v-4m10.2 5.9l3.4-1.9l3.4 1.9m-3.4-1.9v-4m10.2 5.9l3.4-1.9l3.4 1.9m-3.4-1.9v-4m10.2 5.9l3.4-1.9l3.4 1.9m-3.4-1.9v-4m10.2 5.9l3.4-1.9l3.4 1.9m-3.4-1.9v-4m10.2 5.9l3.4-1.9l3.4 1.9m-3.4-1.9v-4m10.2 5.9l3.4-1.9l3.4 1.9m-3.4-1.9v-4m10.2 5.9l3.4-1.9l3.4 1.9m-3.4-1.9v-4m10.2 5.9l3.4-1.9l3.4 1.9m-3.4-1.9v-4m10.2 5.9l3.4-1.9l3.4 1.9m-3.4-1.9v-4m10.2 5.9l3.4-1.9l3.4 1.9m-3.4-1.9v-4m10.2 5.9l3.4-1.9l3.4 1.9m-3.4-1.9v-4M130.2 105.8l3.4-2l3.4 2m-3.4-2v-3.9m10.2 5.9l3.4-2l3.4 2m-3.4-2v-3.9m10.2 5.9l3.4-2l3.4 2m-3.4-2v-3.9m10.2 5.9l3.4-2l3.4 2m-3.4-2v-3.9m10.2 5.9l3.4-2l3.4 2m-3.4-2v-3.9m10.2 5.9l3.4-2l3.4 2m-3.4-2v-3.9m10.2 5.9l3.4-2l3.4 2m-3.4-2v-3.9m10.2 5.9l3.4-2l3.4 2m-3.4-2v-3.9m10.2 5.9l3.4-2l3.4 2m-3.4-2v-3.9m10.2 5.9l3.4-2l3.4 2m-3.4-2v-3.9m10.2 5.9l3.4-2l3.4 2m-3.4-2v-3.9m10.2 5.9l3.4-2l3.3 2m-3.3-2v-3.9m10.1 5.9l3.4-2l3.4 2m-3.4-2v-3.9m10.2 5.9l3.4-2l3.4 2m-3.4-2v-3.9m10.2 5.9l3.4-2l3.4 2m-3.4-2v-3.9m10.2 5.9l3.4-2l3.4 2m-3.4-2v-3.9m10.2 5.9l3.4-2l3.4 2m-3.4-2v-3.9m10.2 5.9l3.4-2l3.4 2m-3.4-2v-3.9m10.2 5.9l3.4-2l3.4 2m-3.4-2v-3.9m10.2 5.9l3.4-2l3.4 2m-3.4-2v-3.9m10.2 5.9l3.4-2l3.4 2m-3.4-2v-3.9m10.2 5.9l3.4-2l3.4 2m-3.4-2v-3.9m10.2 5.9l3.4-2l3.4 2m-3.4-2v-3.9m10.2 5.9l3.4-2l3.4 2m-3.4-2v-3.9m10.2 5.9l3.4-2l3.4 2m-3.4-2v-3.9m10.2 5.9l3.4-2l3.4 2m-3.4-2v-3.9m10.2 5.9l3.4-2l3.4 2m-3.4-2v-3.9m10.2 5.9l3.4-2l3.4 2m-3.4-2v-3.9m10.2 5.9l3.4-2l3.4 2m-3.4-2v-3.9m10.2 5.9l3.4-2l3.4 2m-3.4-2v-3.9M137 117.6l3.4-2l3.4 2m-3.4-2v-3.9m10.2 5.9l3.4-2l3.4 2m-3.4-2v-3.9m10.2 5.9l3.4-2l3.4 2m-3.4-2v-3.9m10.2 5.9l3.4-2l3.4 2m-3.4-2v-3.9m10.2 5.9l3.4-2l3.4 2m-3.4-2v-3.9m10.2 5.9l3.4-2l3.4 2m-3.4-2v-3.9m10.2 5.9l3.4-2l3.4 2m-3.4-2v-3.9m10.2 5.9l3.4-2l3.4 2m-3.4-2v-3.9m10.2 5.9l3.4-2l3.4 2m-3.4-2v-3.9m10.2 5.9l3.4-2l3.4 2m-3.4-2v-3.9m10.2 5.9l3.4-2l3.4 2m-3.4-2v-3.9m10.1 5.9l3.4-2l3.4 2m-3.4-2v-3.9m10.2 5.9l3.4-2l3.4 2m-3.4-2v-3.9m10.2 5.9l3.4-2l3.4 2m-3.4-2v-3.9m10.2 5.9l3.4-2l3.4 2m-3.4-2v-3.9m10.2 5.9l3.4-2l3.4 2m-3.4-2v-3.9m10.2 5.9l3.4-2l3.4 2m-3.4-2v-3.9m10.2 5.9l3.4-2l3.4 2m-3.4-2v-3.9m10.2 5.9l3.4-2l3.4 2m-3.4-2v-3.9m10.2 5.9l3.4-2l3.4 2m-3.4-2v-3.9m10.2 5.9l3.4-2l3.4 2m-3.4-2v-3.9m10.2 5.9l3.4-2l3.4 2m-3.4-2v-3.9m10.2 5.9l3.4-2l3.4 2m-3.4-2v-3.9m10.2 5.9l3.4-2l3.4 2m-3.4-2v-3.9m10.2 5.9l3.4-2l3.4 2m-3.4-2v-3.9m10.2 5.9l3.4-2l3.4 2m-3.4-2v-3.9m10.2 5.9l3.4-2l3.4 2m-3.4-2v-3.9m10.2 5.9l3.4-2l3.4 2m-3.4-2v-3.9m10.2 5.9l3.4-2l3.4 2m-3.4-2v-3.9m10.2 5.9l3.4-2l3.4 2m-3.4-2v-3.9M130.2 129.4l3.4-2l3.4 2m-3.4-2v-3.9m10.2 5.9l3.4-2l3.4 2m-3.4-2v-3.9m10.2 5.9l3.4-2l3.4 2m-3.4-2v-3.9m10.2 5.9l3.4-2l3.4 2m-3.4-2v-3.9m10.2 5.9l3.4-2l3.4 2m-3.4-2v-3.9m10.2 5.9l3.4-2l3.4 2m-3.4-2v-3.9m10.2 5.9l3.4-2l3.4 2m-3.4-2v-3.9m10.2 5.9l3.4-2l3.4 2m-3.4-2v-3.9m10.2 5.9l3.4-2l3.4 2m-3.4-2v-3.9m10.2 5.9l3.4-2l3.4 2m-3.4-2v-3.9m10.2 5.9l3.4-2l3.4 2m-3.4-2v-3.9m10.2 5.9l3.4-2l3.3 2m-3.3-2v-3.9m10.1 5.9l3.4-2l3.4 2m-3.4-2v-3.9m10.2 5.9l3.4-2l3.4 2m-3.4-2v-3.9m10.2 5.9l3.4-2l3.4 2m-3.4-2v-3.9m10.2 5.9l3.4-2l3.4 2m-3.4-2v-3.9m10.2 5.9l3.4-2l3.4 2m-3.4-2v-3.9m10.2 5.9l3.4-2l3.4 2m-3.4-2v-3.9m10.2 5.9l3.4-2l3.4 2m-3.4-2v-3.9m10.2 5.9l3.4-2l3.4 2m-3.4-2v-3.9m10.2 5.9l3.4-2l3.4 2m-3.4-2v-3.9m10.2 5.9l3.4-2l3.4 2m-3.4-2v-3.9m10.2 5.9l3.4-2l3.4 2m-3.4-2v-3.9m10.2 5.9l3.4-2l3.4 2m-3.4-2v-3.9m10.2 5.9l3.4-2l3.4 2m-3.4-2v-3.9m10.2 5.9l3.4-2l3.4 2m-3.4-2v-3.9m10.2 5.9l3.4-2l3.4 2m-3.4-2v-3.9m10.2 5.9l3.4-2l3.4 2m-3.4-2v-3.9m10.2 5.9l3.4-2l3.4 2m-3.4-2v-3.9m10.2 5.9l3.4-2l3.4 2m-3.4-2v-3.9M137 141.1l3.4-1.9l3.4 1.9m-3.4-1.9v-4m10.2 5.9l3.4-1.9l3.4 1.9m-3.4-1.9v-4m10.2 5.9l3.4-1.9l3.4 1.9m-3.4-1.9v-4m10.2 5.9l3.4-1.9l3.4 1.9m-3.4-1.9v-4m10.2 5.9l3.4-1.9l3.4 1.9m-3.4-1.9v-4m10.2 5.9l3.4-1.9l3.4 1.9m-3.4-1.9v-4m10.2 5.9l3.4-1.9l3.4 1.9m-3.4-1.9v-4m10.2 5.9l3.4-1.9l3.4 1.9m-3.4-1.9v-4m10.2 5.9l3.4-1.9l3.4 1.9m-3.4-1.9v-4m10.2 5.9l3.4-1.9l3.4 1.9m-3.4-1.9v-4m10.2 5.9l3.4-1.9l3.4 1.9m-3.4-1.9v-4m10.1 5.9l3.4-1.9l3.4 1.9m-3.4-1.9v-4m10.2 5.9l3.4-1.9l3.4 1.9m-3.4-1.9v-4m10.2 5.9l3.4-1.9l3.4 1.9m-3.4-1.9v-4m10.2 5.9l3.4-1.9l3.4 1.9m-3.4-1.9v-4m10.2 5.9l3.4-1.9l3.4 1.9m-3.4-1.9v-4m10.2 5.9l3.4-1.9l3.4 1.9m-3.4-1.9v-4m10.2 5.9l3.4-1.9l3.4 1.9m-3.4-1.9v-4m10.2 5.9l3.4-1.9l3.4 1.9m-3.4-1.9v-4m10.2 5.9l3.4-1.9l3.4 1.9m-3.4-1.9v-4m10.2 5.9l3.4-1.9l3.4 1.9m-3.4-1.9v-4m10.2 5.9l3.4-1.9l3.4 1.9m-3.4-1.9v-4m10.2 5.9l3.4-1.9l3.4 1.9m-3.4-1.9v-4m10.2 5.9l3.4-1.9l3.4 1.9m-3.4-1.9v-4m10.2 5.9l3.4-1.9l3.4 1.9m-3.4-1.9v-4m10.2 5.9l3.4-1.9l3.4 1.9m-3.4-1.9v-4m10.2 5.9l3.4-1.9l3.4 1.9m-3.4-1.9v-4m10.2 5.9l3.4-1.9l3.4 1.9m-3.4-1.9v-4m10.2 5.9l3.4-1.9l3.4 1.9m-3.4-1.9v-4M133.6 147v3.9l3.4 2m6.8 0l3.4-2l3.4 2m-3.4-2v-3.9m10.2 5.9l3.4-2l3.4 2m-3.4-2v-3.9m10.2 5.9l3.4-2l3.4 2m-3.4-2v-3.9m10.2 5.9l3.4-2l3.4 2m-3.4-2v-3.9m10.2 5.9l3.4-2l3.4 2m-3.4-2v-3.9m10.2 5.9l3.4-2l3.4 2m-3.4-2v-3.9m10.2 5.9l3.4-2l3.4 2m-3.4-2v-3.9m10.2 5.9l3.4-2l3.4 2m-3.4-2v-3.9m10.2 5.9l3.4-2l3.4 2m-3.4-2v-3.9m10.2 5.9l3.4-2l3.4 2m-3.4-2v-3.9m10.2 5.9l3.4-2l3.3 2m-3.3-2v-3.9m10.1 5.9l3.4-2l3.4 2m-3.4-2v-3.9m10.2 5.9l3.4-2l3.4 2m-3.4-2v-3.9m10.2 5.9l3.4-2l3.4 2m-3.4-2v-3.9m10.2 5.9l3.4-2l3.4 2m-3.4-2v-3.9m10.2 5.9l3.4-2l3.4 2m-3.4-2v-3.9m10.2 5.9l3.4-2l3.4 2m-3.4-2v-3.9m10.2 5.9l3.4-2l3.4 2m-3.4-2v-3.9m10.2 5.9l3.4-2l3.4 2m-3.4-2v-3.9m10.2 5.9l3.4-2l3.4 2m-3.4-2v-3.9m10.2 5.9l3.4-2l3.4 2m-3.4-2v-3.9m10.2 5.9l3.4-2l3.4 2m-3.4-2v-3.9m10.2 5.9l3.4-2l3.4 2m-3.4-2v-3.9m10.2 5.9l3.4-2l3.4 2m-3.4-2v-3.9m10.2 5.9l3.4-2l3.4 2m-3.4-2v-3.9m10.2 5.9l3.4-2l3.4 2m-3.4-2v-3.9m10.2 5.9l3.4-2l3.4 2m-3.4-2v-3.9m10.2 5.9l3.4-2l3.4 2m-3.4-2v-3.9m10.2 5.9l3.4-2v-3.9M137 164.7l3.4-2l3.4 2m-3.4-2v-3.9m10.2 5.9l3.4-2l3.4 2m-3.4-2v-3.9m10.2 5.9l3.4-2l3.4 2m-3.4-2v-3.9m10.2 5.9l3.4-2l3.4 2m-3.4-2v-3.9m10.2 5.9l3.4-2l3.4 2m-3.4-2v-3.9m10.2 5.9l3.4-2l3.4 2m-3.4-2v-3.9m10.2 5.9l3.4-2l3.4 2m-3.4-2v-3.9m10.2 5.9l3.4-2l3.4 2m-3.4-2v-3.9m10.2 5.9l3.4-2l3.4 2m-3.4-2v-3.9m10.2 5.9l3.4-2l3.4 2m-3.4-2v-3.9m10.2 5.9l3.4-2l3.4 2m-3.4-2v-3.9m10.1 5.9l3.4-2l3.4 2m-3.4-2v-3.9m10.2 5.9l3.4-2l3.4 2m-3.4-2v-3.9m10.2 5.9l3.4-2l3.4 2m-3.4-2v-3.9m10.2 5.9l3.4-2l3.4 2m-3.4-2v-3.9m10.2 5.9l3.4-2l3.4 2m-3.4-2v-3.9m10.2 5.9l3.4-2l3.4 2m-3.4-2v-3.9m10.2 5.9l3.4-2l3.4 2m-3.4-2v-3.9m10.2 5.9l3.4-2l3.4 2m-3.4-2v-3.9m10.2 5.9l3.4-2l3.4 2m-3.4-2v-3.9m10.2 5.9l3.4-2l3.4 2m-3.4-2v-3.9m10.2 5.9l3.4-2l3.4 2m-3.4-2v-3.9m10.2 5.9l3.4-2l3.4 2m-3.4-2v-3.9m10.2 5.9l3.4-2l3.4 2m-3.4-2v-3.9m10.2 5.9l3.4-2l3.4 2m-3.4-2v-3.9m10.2 5.9l3.4-2l3.4 2m-3.4-2v-3.9m10.2 5.9l3.4-2l3.4 2m-3.4-2v-3.9m10.2 5.9l3.4-2l3.4 2m-3.4-2v-3.9m10.2 5.9l3.4-2l3.4 2m-3.4-2v-3.9M133.6 170.6v3.9l3.4 1.9m6.8 0l3.4-1.9l3.4 1.9m-3.4-1.9v-3.9m10.2 5.8l3.4-1.9l3.4 1.9m-3.4-1.9v-3.9m10.2 5.8l3.4-1.9l3.4 1.9m-3.4-1.9v-3.9m10.2 5.8l3.4-1.9l3.4 1.9m-3.4-1.9v-3.9m10.2 5.8l3.4-1.9l3.4 1.9m-3.4-1.9v-3.9m10.2 5.8l3.4-1.9l3.4 1.9m-3.4-1.9v-3.9m10.2 5.8l3.4-1.9l3.4 1.9m-3.4-1.9v-3.9m10.2 5.8l3.4-1.9l3.4 1.9m-3.4-1.9v-3.9m10.2 5.8l3.4-1.9l3.4 1.9m-3.4-1.9v-3.9m10.2 5.8l3.4-1.9l3.4 1.9m-3.4-1.9v-3.9m10.2 5.8l3.4-1.9l3.3 1.9m-3.3-1.9v-3.9m10.1 5.8l3.4-1.9l3.4 1.9m-3.4-1.9v-3.9m10.2 5.8l3.4-1.9l3.4 1.9m-3.4-1.9v-3.9m10.2 5.8l3.4-1.9l3.4 1.9m-3.4-1.9v-3.9m10.2 5.8l3.4-1.9l3.4 1.9m-3.4-1.9v-3.9m10.2 5.8l3.4-1.9l3.4 1.9m-3.4-1.9v-3.9m10.2 5.8l3.4-1.9l3.4 1.9m-3.4-1.9v-3.9m10.2 5.8l3.4-1.9l3.4 1.9m-3.4-1.9v-3.9m10.2 5.8l3.4-1.9l3.4 1.9m-3.4-1.9v-3.9m10.2 5.8l3.4-1.9l3.4 1.9m-3.4-1.9v-3.9m10.2 5.8l3.4-1.9l3.4 1.9m-3.4-1.9v-3.9m10.2 5.8l3.4-1.9l3.4 1.9m-3.4-1.9v-3.9m10.2 5.8l3.4-1.9l3.4 1.9m-3.4-1.9v-3.9m10.2 5.8l3.4-1.9l3.4 1.9m-3.4-1.9v-3.9m10.2 5.8l3.4-1.9l3.4 1.9m-3.4-1.9v-3.9m10.2 5.8l3.4-1.9l3.4 1.9m-3.4-1.9v-3.9m10.2 5.8l3.4-1.9l3.4 1.9m-3.4-1.9v-3.9m10.2 5.8l3.4-1.9l3.4 1.9m-3.4-1.9v-3.9m10.2 5.8l3.4-1.9v-3.9M137 188.2l3.4-1.9l3.4 1.9m-3.4-1.9v-4m10.2 5.9l3.4-1.9l3.4 1.9m-3.4-1.9v-4m10.2 5.9l3.4-1.9l3.4 1.9m-3.4-1.9v-4m10.2 5.9l3.4-1.9l3.4 1.9m-3.4-1.9v-4m10.2 5.9l3.4-1.9l3.4 1.9m-3.4-1.9v-4m10.2 5.9l3.4-1.9l3.4 1.9m-3.4-1.9v-4m10.2 5.9l3.4-1.9l3.4 1.9m-3.4-1.9v-4m10.2 5.9l3.4-1.9l3.4 1.9m-3.4-1.9v-4m10.2 5.9l3.4-1.9l3.4 1.9m-3.4-1.9v-4m10.2 5.9l3.4-1.9l3.4 1.9m-3.4-1.9v-4m10.2 5.9l3.4-1.9l3.4 1.9m-3.4-1.9v-4m10.1 5.9l3.4-1.9l3.4 1.9m-3.4-1.9v-4m10.2 5.9l3.4-1.9l3.4 1.9m-3.4-1.9v-4m10.2 5.9l3.4-1.9l3.4 1.9m-3.4-1.9v-4m10.2 5.9l3.4-1.9l3.4 1.9m-3.4-1.9v-4m10.2 5.9l3.4-1.9l3.4 1.9m-3.4-1.9v-4m10.2 5.9l3.4-1.9l3.4 1.9m-3.4-1.9v-4m10.2 5.9l3.4-1.9l3.4 1.9m-3.4-1.9v-4m10.2 5.9l3.4-1.9l3.4 1.9m-3.4-1.9v-4m10.2 5.9l3.4-1.9l3.4 1.9m-3.4-1.9v-4m10.2 5.9l3.4-1.9l3.4 1.9m-3.4-1.9v-4m10.2 5.9l3.4-1.9l3.4 1.9m-3.4-1.9v-4m10.2 5.9l3.4-1.9l3.4 1.9m-3.4-1.9v-4m10.2 5.9l3.4-1.9l3.4 1.9m-3.4-1.9v-4m10.2 5.9l3.4-1.9l3.4 1.9m-3.4-1.9v-4m10.2 5.9l3.4-1.9l3.4 1.9m-3.4-1.9v-4m10.2 5.9l3.4-1.9l3.4 1.9m-3.4-1.9v-4m10.2 5.9l3.4-1.9l3.4 1.9m-3.4-1.9v-4m10.2 5.9l3.4-1.9l3.4 1.9m-3.4-1.9v-4M130.2 200l3.4-2l3.4 2m-3.4-2v-3.9m10.2 5.9l3.4-2l3.4 2m-3.4-2v-3.9m10.2 5.9l3.4-2l3.4 2m-3.4-2v-3.9m10.2 5.9l3.4-2l3.4 2m-3.4-2v-3.9m10.2 5.9l3.4-2l3.4 2m-3.4-2v-3.9m10.2 5.9l3.4-2l3.4 2m-3.4-2v-3.9m10.2 5.9l3.4-2l3.4 2m-3.4-2v-3.9m10.2 5.9l3.4-2l3.4 2m-3.4-2v-3.9m10.2 5.9l3.4-2l3.4 2m-3.4-2v-3.9m10.2 5.9l3.4-2l3.4 2m-3.4-2v-3.9m10.2 5.9l3.4-2l3.4 2m-3.4-2v-3.9m10.2 5.9l3.4-2l3.3 2m-3.3-2v-3.9m10.1 5.9l3.4-2l3.4 2m-3.4-2v-3.9m10.2 5.9l3.4-2l3.4 2m-3.4-2v-3.9m10.2 5.9l3.4-2l3.4 2m-3.4-2v-3.9m10.2 5.9l3.4-2l3.4 2m-3.4-2v-3.9m10.2 5.9l3.4-2l3.4 2m-3.4-2v-3.9m10.2 5.9l3.4-2l3.4 2m-3.4-2v-3.9m10.2 5.9l3.4-2l3.4 2m-3.4-2v-3.9m10.2 5.9l3.4-2l3.4 2m-3.4-2v-3.9m10.2 5.9l3.4-2l3.4 2m-3.4-2v-3.9m10.2 5.9l3.4-2l3.4 2m-3.4-2v-3.9m10.2 5.9l3.4-2l3.4 2m-3.4-2v-3.9m10.2 5.9l3.4-2l3.4 2m-3.4-2v-3.9m10.2 5.9l3.4-2l3.4 2m-3.4-2v-3.9m10.2 5.9l3.4-2l3.4 2m-3.4-2v-3.9m10.2 5.9l3.4-2l3.4 2m-3.4-2v-3.9m10.2 5.9l3.4-2l3.4 2m-3.4-2v-3.9m10.2 5.9l3.4-2l3.4 2m-3.4-2v-3.9m10.2 5.9l3.4-2l3.4 2m-3.4-2v-3.9M137 211.8l3.4-2l3.4 2m-3.4-2v-3.9m10.2 5.9l3.4-2l3.4 2m-3.4-2v-3.9m10.2 5.9l3.4-2l3.4 2m-3.4-2v-3.9m10.2 5.9l3.4-2l3.4 2m-3.4-2v-3.9m10.2 5.9l3.4-2l3.4 2m-3.4-2v-3.9m10.2 5.9l3.4-2l3.4 2m-3.4-2v-3.9m10.2 5.9l3.4-2l3.4 2m-3.4-2v-3.9m10.2 5.9l3.4-2l3.4 2m-3.4-2v-3.9m10.2 5.9l3.4-2l3.4 2m-3.4-2v-3.9m10.2 5.9l3.4-2l3.4 2m-3.4-2v-3.9m10.2 5.9l3.4-2l3.4 2m-3.4-2v-3.9m10.1 5.9l3.4-2l3.4 2m-3.4-2v-3.9m10.2 5.9l3.4-2l3.4 2m-3.4-2v-3.9m10.2 5.9l3.4-2l3.4 2m-3.4-2v-3.9m10.2 5.9l3.4-2l3.4 2m-3.4-2v-3.9m10.2 5.9l3.4-2l3.4 2m-3.4-2v-3.9m10.2 5.9l3.4-2l3.4 2m-3.4-2v-3.9m10.2 5.9l3.4-2l3.4 2m-3.4-2v-3.9m10.2 5.9l3.4-2l3.4 2m-3.4-2v-3.9m10.2 5.9l3.4-2l3.4 2m-3.4-2v-3.9m10.2 5.9l3.4-2l3.4 2m-3.4-2v-3.9m10.2 5.9l3.4-2l3.4 2m-3.4-2v-3.9m10.2 5.9l3.4-2l3.4 2m-3.4-2v-3.9m10.2 5.9l3.4-2l3.4 2m-3.4-2v-3.9m10.2 5.9l3.4-2l3.4 2m-3.4-2v-3.9m10.2 5.9l3.4-2l3.4 2m-3.4-2v-3.9m10.2 5.9l3.4-2l3.4 2m-3.4-2v-3.9m10.2 5.9l3.4-2l3.4 2m-3.4-2v-3.9m10.2 5.9l3.4-2l3.4 2m-3.4-2v-3.9m10.2 5.9l3.4-2l3.4 2m-3.4-2v-3.9M130.2 223.5l3.4-1.9l3.4 1.9m-3.4-1.9v-3.9m10.2 5.8l3.4-1.9l3.4 1.9m-3.4-1.9v-3.9m10.2 5.8l3.4-1.9l3.4 1.9m-3.4-1.9v-3.9m10.2 5.8l3.4-1.9l3.4 1.9m-3.4-1.9v-3.9m10.2 5.8l3.4-1.9l3.4 1.9m-3.4-1.9v-3.9m10.2 5.8l3.4-1.9l3.4 1.9m-3.4-1.9v-3.9m10.2 5.8l3.4-1.9l3.4 1.9m-3.4-1.9v-3.9m10.2 5.8l3.4-1.9l3.4 1.9m-3.4-1.9v-3.9m10.2 5.8l3.4-1.9l3.4 1.9m-3.4-1.9v-3.9m10.2 5.8l3.4-1.9l3.4 1.9m-3.4-1.9v-3.9m10.2 5.8l3.4-1.9l3.4 1.9m-3.4-1.9v-3.9m10.2 5.8l3.4-1.9l3.3 1.9m-3.3-1.9v-3.9m10.1 5.8l3.4-1.9l3.4 1.9m-3.4-1.9v-3.9m10.2 5.8l3.4-1.9l3.4 1.9m-3.4-1.9v-3.9m10.2 5.8l3.4-1.9l3.4 1.9m-3.4-1.9v-3.9m10.2 5.8l3.4-1.9l3.4 1.9m-3.4-1.9v-3.9m10.2 5.8l3.4-1.9l3.4 1.9m-3.4-1.9v-3.9m10.2 5.8l3.4-1.9l3.4 1.9m-3.4-1.9v-3.9m10.2 5.8l3.4-1.9l3.4 1.9m-3.4-1.9v-3.9m10.2 5.8l3.4-1.9l3.4 1.9m-3.4-1.9v-3.9m10.2 5.8l3.4-1.9l3.4 1.9m-3.4-1.9v-3.9m10.2 5.8l3.4-1.9l3.4 1.9m-3.4-1.9v-3.9m10.2 5.8l3.4-1.9l3.4 1.9m-3.4-1.9v-3.9m10.2 5.8l3.4-1.9l3.4 1.9m-3.4-1.9v-3.9m10.2 5.8l3.4-1.9l3.4 1.9m-3.4-1.9v-3.9m10.2 5.8l3.4-1.9l3.4 1.9m-3.4-1.9v-3.9m10.2 5.8l3.4-1.9l3.4 1.9m-3.4-1.9v-3.9m10.2 5.8l3.4-1.9l3.4 1.9m-3.4-1.9v-3.9m10.2 5.8l3.4-1.9l3.4 1.9m-3.4-1.9v-3.9m10.2 5.8l3.4-1.9l3.4 1.9m-3.4-1.9v-3.9M137 235.3l3.4-1.9l3.4 1.9m-3.4-1.9v-4m10.2 5.9l3.4-1.9l3.4 1.9m-3.4-1.9v-4m10.2 5.9l3.4-1.9l3.4 1.9m-3.4-1.9v-4m10.2 5.9l3.4-1.9l3.4 1.9m-3.4-1.9v-4m10.2 5.9l3.4-1.9l3.4 1.9m-3.4-1.9v-4m10.2 5.9l3.4-1.9l3.4 1.9m-3.4-1.9v-4m10.2 5.9l3.4-1.9l3.4 1.9m-3.4-1.9v-4m10.2 5.9l3.4-1.9l3.4 1.9m-3.4-1.9v-4m10.2 5.9l3.4-1.9l3.4 1.9m-3.4-1.9v-4m10.2 5.9l3.4-1.9l3.4 1.9m-3.4-1.9v-4m10.2 5.9l3.4-1.9l3.4 1.9m-3.4-1.9v-4m10.1 5.9l3.4-1.9l3.4 1.9m-3.4-1.9v-4m10.2 5.9l3.4-1.9l3.4 1.9m-3.4-1.9v-4m10.2 5.9l3.4-1.9l3.4 1.9m-3.4-1.9v-4m10.2 5.9l3.4-1.9l3.4 1.9m-3.4-1.9v-4m10.2 5.9l3.4-1.9l3.4 1.9m-3.4-1.9v-4m10.2 5.9l3.4-1.9l3.4 1.9m-3.4-1.9v-4m10.2 5.9l3.4-1.9l3.4 1.9m-3.4-1.9v-4m10.2 5.9l3.4-1.9l3.4 1.9m-3.4-1.9v-4m10.2 5.9l3.4-1.9l3.4 1.9m-3.4-1.9v-4m10.2 5.9l3.4-1.9l3.4 1.9m-3.4-1.9v-4m10.2 5.9l3.4-1.9l3.4 1.9m-3.4-1.9v-4m10.2 5.9l3.4-1.9l3.4 1.9m-3.4-1.9v-4m10.2 5.9l3.4-1.9l3.4 1.9m-3.4-1.9v-4m10.2 5.9l3.4-1.9l3.4 1.9m-3.4-1.9v-4m10.2 5.9l3.4-1.9l3.4 1.9m-3.4-1.9v-4m10.2 5.9l3.4-1.9l3.4 1.9m-3.4-1.9v-4m10.2 5.9l3.4-1.9l3.4 1.9m-3.4-1.9v-4m10.2 5.9l3.4-1.9l3.4 1.9m-3.4-1.9v-4m10.2 5.9l3.4-1.9l3.4 1.9m-3.4-1.9v-4M130.2 247.1l3.4-2l3.4 2m-3.4-2v-3.9m10.2 5.9l3.4-2l3.4 2m-3.4-2v-3.9m10.2 5.9l3.4-2l3.4 2m-3.4-2v-3.9m10.2 5.9l3.4-2l3.4 2m-3.4-2v-3.9m10.2 5.9l3.4-2l3.4 2m-3.4-2v-3.9m10.2 5.9l3.4-2l3.4 2m-3.4-2v-3.9m10.2 5.9l3.4-2l3.4 2m-3.4-2v-3.9m10.2 5.9l3.4-2l3.4 2m-3.4-2v-3.9m10.2 5.9l3.4-2l3.4 2m-3.4-2v-3.9m10.2 5.9l3.4-2l3.4 2m-3.4-2v-3.9m10.2 5.9l3.4-2l3.4 2m-3.4-2v-3.9m10.2 5.9l3.4-2l3.3 2m-3.3-2v-3.9m10.1 5.9l3.4-2l3.4 2m-3.4-2v-3.9m10.2 5.9l3.4-2l3.4 2m-3.4-2v-3.9m10.2 5.9l3.4-2l3.4 2m-3.4-2v-3.9m10.2 5.9l3.4-2l3.4 2m-3.4-2v-3.9m10.2 5.9l3.4-2l3.4 2m-3.4-2v-3.9m10.2 5.9l3.4-2l3.4 2m-3.4-2v-3.9m10.2 5.9l3.4-2l3.4 2m-3.4-2v-3.9m10.2 5.9l3.4-2l3.4 2m-3.4-2v-3.9m10.2 5.9l3.4-2l3.4 2m-3.4-2v-3.9m10.2 5.9l3.4-2l3.4 2m-3.4-2v-3.9m10.2 5.9l3.4-2l3.4 2m-3.4-2v-3.9m10.2 5.9l3.4-2l3.4 2m-3.4-2v-3.9m10.2 5.9l3.4-2l3.4 2m-3.4-2v-3.9m10.2 5.9l3.4-2l3.4 2m-3.4-2v-3.9m10.2 5.9l3.4-2l3.4 2m-3.4-2v-3.9m10.2 5.9l3.4-2l3.4 2m-3.4-2v-3.9m10.2 5.9l3.4-2l3.4 2m-3.4-2v-3.9m10.2 5.9l3.4-2l3.4 2m-3.4-2v-3.9M137 258.9l3.4-2l3.4 2m-3.4-2v-3.9m10.2 5.9l3.4-2l3.4 2m-3.4-2v-3.9m10.2 5.9l3.4-2l3.4 2m-3.4-2v-3.9m10.2 5.9l3.4-2l3.4 2m-3.4-2v-3.9m10.2 5.9l3.4-2l3.4 2m-3.4-2v-3.9m10.2 5.9l3.4-2l3.4 2m-3.4-2v-3.9m10.2 5.9l3.4-2l3.4 2m-3.4-2v-3.9m10.2 5.9l3.4-2l3.4 2m-3.4-2v-3.9m10.2 5.9l3.4-2l3.4 2m-3.4-2v-3.9m10.2 5.9l3.4-2l3.4 2m-3.4-2v-3.9m10.2 5.9l3.4-2l3.4 2m-3.4-2v-3.9m10.1 5.9l3.4-2l3.4 2m-3.4-2v-3.9m10.2 5.9l3.4-2l3.4 2m-3.4-2v-3.9m10.2 5.9l3.4-2l3.4 2m-3.4-2v-3.9m10.2 5.9l3.4-2l3.4 2m-3.4-2v-3.9m10.2 5.9l3.4-2l3.4 2m-3.4-2v-3.9m10.2 5.9l3.4-2l3.4 2m-3.4-2v-3.9m10.2 5.9l3.4-2l3.4 2m-3.4-2v-3.9m10.2 5.9l3.4-2l3.4 2m-3.4-2v-3.9m10.2 5.9l3.4-2l3.4 2m-3.4-2v-3.9m10.2 5.9l3.4-2l3.4 2m-3.4-2v-3.9m10.2 5.9l3.4-2l3.4 2m-3.4-2v-3.9m10.2 5.9l3.4-2l3.4 2m-3.4-2v-3.9m10.2 5.9l3.4-2l3.4 2m-3.4-2v-3.9m10.2 5.9l3.4-2l3.4 2m-3.4-2v-3.9m10.2 5.9l3.4-2l3.4 2m-3.4-2v-3.9m10.2 5.9l3.4-2l3.4 2m-3.4-2v-3.9m10.2 5.9l3.4-2l3.4 2m-3.4-2v-3.9m10.2 5.9l3.4-2l3.4 2m-3.4-2v-3.9m10.2 5.9l3.4-2l3.4 2m-3.4-2v-3.9M133.6 264.7v4l3.4 1.9m6.8 0l3.4-1.9l3.4 1.9m-3.4-1.9v-4m10.2 5.9l3.4-1.9l3.4 1.9m-3.4-1.9v-4m10.2 5.9l3.4-1.9l3.4 1.9m-3.4-1.9v-4m10.2 5.9l3.4-1.9l3.4 1.9m-3.4-1.9v-4m10.2 5.9l3.4-1.9l3.4 1.9m-3.4-1.9v-4m10.2 5.9l3.4-1.9l3.4 1.9m-3.4-1.9v-4m10.2 5.9l3.4-1.9l3.4 1.9m-3.4-1.9v-4m10.2 5.9l3.4-1.9l3.4 1.9m-3.4-1.9v-4m10.2 5.9l3.4-1.9l3.4 1.9m-3.4-1.9v-4m10.2 5.9l3.4-1.9l3.4 1.9m-3.4-1.9v-4m10.2 5.9l3.4-1.9l3.3 1.9m-3.3-1.9v-4m10.1 5.9l3.4-1.9l3.4 1.9m-3.4-1.9v-4m10.2 5.9l3.4-1.9l3.4 1.9m-3.4-1.9v-4m10.2 5.9l3.4-1.9l3.4 1.9m-3.4-1.9v-4m10.2 5.9l3.4-1.9l3.4 1.9m-3.4-1.9v-4m10.2 5.9l3.4-1.9l3.4 1.9m-3.4-1.9v-4m10.2 5.9l3.4-1.9l3.4 1.9m-3.4-1.9v-4m10.2 5.9l3.4-1.9l3.4 1.9m-3.4-1.9v-4m10.2 5.9l3.4-1.9l3.4 1.9m-3.4-1.9v-4m10.2 5.9l3.4-1.9l3.4 1.9m-3.4-1.9v-4m10.2 5.9l3.4-1.9l3.4 1.9m-3.4-1.9v-4m10.2 5.9l3.4-1.9l3.4 1.9m-3.4-1.9v-4m10.2 5.9l3.4-1.9l3.4 1.9m-3.4-1.9v-4m10.2 5.9l3.4-1.9l3.4 1.9m-3.4-1.9v-4m10.2 5.9l3.4-1.9l3.4 1.9m-3.4-1.9v-4m10.2 5.9l3.4-1.9l3.4 1.9m-3.4-1.9v-4m10.2 5.9l3.4-1.9l3.4 1.9m-3.4-1.9v-4m10.2 5.9l3.4-1.9l3.4 1.9m-3.4-1.9v-4m10.2 5.9l3.4-1.9v-4M137 282.4l3.4-2l3.4 2m-3.4-2v-3.9m10.2 5.9l3.4-2l3.4 2m-3.4-2v-3.9m10.2 5.9l3.4-2l3.4 2m-3.4-2v-3.9m10.2 5.9l3.4-2l3.4 2m-3.4-2v-3.9m10.2 5.9l3.4-2l3.4 2m-3.4-2v-3.9m10.2 5.9l3.4-2l3.4 2m-3.4-2v-3.9m10.2 5.9l3.4-2l3.4 2m-3.4-2v-3.9m10.2 5.9l3.4-2l3.4 2m-3.4-2v-3.9m10.2 5.9l3.4-2l3.4 2m-3.4-2v-3.9m10.2 5.9l3.4-2l3.4 2m-3.4-2v-3.9m10.2 5.9l3.4-2l3.4 2m-3.4-2v-3.9m10.1 5.9l3.4-2l3.4 2m-3.4-2v-3.9m10.2 5.9l3.4-2l3.4 2m-3.4-2v-3.9m10.2 5.9l3.4-2l3.4 2m-3.4-2v-3.9m10.2 5.9l3.4-2l3.4 2m-3.4-2v-3.9m10.2 5.9l3.4-2l3.4 2m-3.4-2v-3.9m10.2 5.9l3.4-2l3.4 2m-3.4-2v-3.9m10.2 5.9l3.4-2l3.4 2m-3.4-2v-3.9m10.2 5.9l3.4-2l3.4 2m-3.4-2v-3.9m10.2 5.9l3.4-2l3.4 2m-3.4-2v-3.9m10.2 5.9l3.4-2l3.4 2m-3.4-2v-3.9m10.2 5.9l3.4-2l3.4 2m-3.4-2v-3.9m10.2 5.9l3.4-2l3.4 2m-3.4-2v-3.9m10.2 5.9l3.4-2l3.4 2m-3.4-2v-3.9m10.2 5.9l3.4-2l3.4 2m-3.4-2v-3.9m10.2 5.9l3.4-2l3.4 2m-3.4-2v-3.9m10.2 5.9l3.4-2l3.4 2m-3.4-2v-3.9m10.2 5.9l3.4-2l3.4 2m-3.4-2v-3.9m10.2 5.9l3.4-2l3.4 2m-3.4-2v-3.9M133.6 288.3v3.9l3.4 2m6.8 0l3.4-2l3.4 2m-3.4-2v-3.9m10.2 5.9l3.4-2l3.4 2m-3.4-2v-3.9m10.2 5.9l3.4-2l3.4 2m-3.4-2v-3.9m10.2 5.9l3.4-2l3.4 2m-3.4-2v-3.9m10.2 5.9l3.4-2l3.4 2m-3.4-2v-3.9m10.2 5.9l3.4-2l3.4 2m-3.4-2v-3.9m10.2 5.9l3.4-2l3.4 2m-3.4-2v-3.9m10.2 5.9l3.4-2l3.4 2m-3.4-2v-3.9m10.2 5.9l3.4-2l3.4 2m-3.4-2v-3.9m10.2 5.9l3.4-2l3.4 2m-3.4-2v-3.9m10.2 5.9l3.4-2l3.3 2m-3.3-2v-3.9m10.1 5.9l3.4-2l3.4 2m-3.4-2v-3.9m10.2 5.9l3.4-2l3.4 2m-3.4-2v-3.9m10.2 5.9l3.4-2l3.4 2m-3.4-2v-3.9m10.2 5.9l3.4-2l3.4 2m-3.4-2v-3.9m10.2 5.9l3.4-2l3.4 2m-3.4-2v-3.9m10.2 5.9l3.4-2l3.4 2m-3.4-2v-3.9m10.2 5.9l3.4-2l3.4 2m-3.4-2v-3.9m10.2 5.9l3.4-2l3.4 2m-3.4-2v-3.9m10.2 5.9l3.4-2l3.4 2m-3.4-2v-3.9m10.2 5.9l3.4-2l3.4 2m-3.4-2v-3.9m10.2 5.9l3.4-2l3.4 2m-3.4-2v-3.9m10.2 5.9l3.4-2l3.4 2m-3.4-2v-3.9m10.2 5.9l3.4-2l3.4 2m-3.4-2v-3.9m10.2 5.9l3.4-2l3.4 2m-3.4-2v-3.9m10.2 5.9l3.4-2l3.4 2m-3.4-2v-3.9m10.2 5.9l3.4-2l3.4 2m-3.4-2v-3.9m10.2 5.9l3.4-2l3.4 2m-3.4-2v-3.9m10.2 5.9l3.4-2v-3.9" stroke-width="1.4"/><path d="M147.2 33.2h0m13.6 0h0m13.6 0h0m13.6 0h0m13.6 0h0m13.6 0h0m13.6 0h0m13.6 0h0m13.6 0h0m13.6 0h0m13.6 0h0m13.5 0h0m13.6 0h0m13.6 0h0m13.6 0h0m13.6 0h0m13.6 0h0m13.6 0h0m13.6 0h0m13.6 0h0m13.6 0h0m13.6 0h0m13.6 0h0m13.6 0h0m13.6 0h0m13.6 0h0m13.6 0h0m13.6 0h0M140.4 45h0m13.6 0h0m13.6 0h0m13.6 0h0m13.6 0h0m13.6 0h0m13.6 0h0m13.6 0h0m13.6 0h0m13.6 0h0m13.6 0h0m13.5 0h0m13.6 0h0m13.6 0h0m13.6 0h0m13.6 0h0m13.6 0h0m13.6 0h0m13.6 0h0m13.6 0h0m13.6 0h0m13.6 0h0m13.6 0h0m13.6 0h0m13.6 0h0m13.6 0h0m13.6 0h0m13.6 0h0m13.6 0h0M133.6 56.7h0m13.6 0h0m13.6 0h0m13.6 0h0m13.6 0h0m13.6 0h0m13.6 0h0m13.6 0h0m13.6 0h0m13.6 0h0m13.6 0h0m13.6 0h0m13.5 0h0m13.6 0h0m13.6 0h0m13.6 0h0m13.6 0h0m13.6 0h0m13.6 0h0m13.6 0h0m13.6 0h0m13.6 0h0m13.6 0h0m13.6 0h0m13.6 0h0m13.6 0h0m13.6 0h0m13.6 0h0m13.6 0h0m13.6 0h0M140.4 68.5h0m13.6 0h0m13.6 0h0m13.6 0h0m13.6 0h0m13.6 0h0m13.6 0h0m13.6 0h0m13.6 0h0m13.6 0h0m13.6 0h0m13.5 0h0m13.6 0h0m13.6 0h0m13.6 0h0m13.6 0h0m13.6 0h0m13.6 0h0m13.6 0h0m13.6 0h0m13.6 0h0m13.6 0h0m13.6 0h0m13.6 0h0m13.6 0h0m13.6 0h0m13.6 0h0m13.6 0h0m13.6 0h0m13.6 0h0M133.6 80.3h0m13.6 0h0m13.6 0h0m13.6 0h0m13.6 0h0m13.6 0h0m13.6 0h0m13.6 0h0m13.6 0h0m13.6 0h0m13.6 0h0m13.6 0h0m13.5 0h0m13.6 0h0m13.6 0h0m13.6 0h0m13.6 0h0m13.6 0h0m13.6 0h0m13.6 0h0m13.6 0h0m13.6 0h0m13.6 0h0m13.6 0h0m13.6 0h0m13.6 0h0m13.6 0h0m13.6 0h0m13.6 0h0m13.6 0h0M140.4 92.1h0m13.6 0h0m13.6 0h0m13.6 0h0m13.6 0h0m13.6 0h0m13.6 0h0m13.6 0h0m13.6 0h0m13.6 0h0m13.6 0h0m13.5 0h0m13.6 0h0m13.6 0h0m13.6 0h0m13.6 0h0m13.6 0h0m13.6 0h0m13.6 0h0m13.6 0h0m13.6 0h0m13.6 0h0m13.6 0h0m13.6 0h0m13.6 0h0m13.6 0h0m13.6 0h0m13.6 0h0m13.6 0h0m13.6 0h0M133.6 103.8h0m13.6 0h0m13.6 0h0m13.6 0h0m13.6 0h0m13.6 0h0m13.6 0h0m13.6 0h0m13.6 0h0m13.6 0h0m13.6 0h0m13.6 0h0m13.5 0h0m13.6 0h0m13.6 0h0m13.6 0h0m13.6 0h0m13.6 0h0m13.6 0h0m13.6 0h0m13.6 0h0m13.6 0h0m13.6 0h0m13.6 0h0m13.6 0h0m13.6 0h0m13.6 0h0m13.6 0h0m13.6 0h0m13.6 0h0M140.4 115.6h0m13.6 0h0m13.6 0h0m13.6 0h0m13.6 0h0m13.6 0h0m13.6 0h0m13.6 0h0m13.6 0h0m13.6 0h0m13.6 0h0m13.5 0h0m13.6 0h0m13.6 0h0m13.6 0h0m13.6 0h0m13.6 0h0m13.6 0h0m13.6 0h0m13.6 0h0m13.6 0h0m13.6 0h0m13.6 0h0m13.6 0h0m13.6 0h0m13.6 0h0m13.6 0h0m13.6 0h0m13.6 0h0m13.6 0h0M133.6 127.4h0m13.6 0h0m13.6 0h0m13.6 0h0m13.6 0h0m13.6 0h0m13.6 0h0m13.6 0h0m13.6 0h0m13.6 0h0m13.6 0h0m13.6 0h0m13.5 0h0m13.6 0h0m13.6 0h0m13.6 0h0m13.6 0h0m13.6 0h0m13.6 0h0m13.6 0h0m13.6 0h0m13.6 0h0m13.6 0h0m13.6 0h0m13.6 0h0m13.6 0h0m13.6 0h0m13.6 0h0m13.6 0h0m13.6 0h0M140.4 139.2h0m13.6 0h0m13.6 0h0m13.6 0h0m13.6 0h0m13.6 0h0m13.6 0h0m13.6 0h0m13.6 0h0m13.6 0h0m13.6 0h0m13.5 0h0m13.6 0h0m13.6 0h0m13.6 0h0m13.6 0h0m13.6 0h0m13.6 0h0m13.6 0h0m13.6 0h0m13.6 0h0m13.6 0h0m13.6 0h0m13.6 0h0m13.6 0h0m13.6 0h0m13.6 0h0m13.6 0h0m13.6 0h0M133.6 150.9h0m13.6 0h0m13.6 0h0m13.6 0h0m13.6 0h0m13.6 0h0m13.6 0h0m13.6 0h0m13.6 0h0m13.6 0h0m13.6 0h0m13.6 0h0m13.5 0h0m13.6 0h0m13.6 0h0m13.6 0h0m13.6 0h0m13.6 0h0m13.6 0h0m13.6 0h0m13.6 0h0m13.6 0h0m13.6 0h0m13.6 0h0m13.6 0h0m13.6 0h0m13.6 0h0m13.6 0h0m13.6 0h0m13.6 0h0M140.4 162.7h0m13.6 0h0m13.6 0h0m13.6 0h0m13.6 0h0m13.6 0h0m13.6 0h0m13.6 0h0m13.6 0h0m13.6 0h0m13.6 0h0m13.5 0h0m13.6 0h0m13.6 0h0m13.6 0h0m13.6 0h0m13.6 0h0m13.6 0h0m13.6 0h0m13.6 0h0m13.6 0h0m13.6 0h0m13.6 0h0m13.6 0h0m13.6 0h0m13.6 0h0m13.6 0h0m13.6 0h0m13.6 0h0M133.6 174.5h0m13.6 0h0m13.6 0h0m13.6 0h0m13.6 0h0m13.6 0h0m13.6 0h0m13.6 0h0m13.6 0h0m13.6 0h0m13.6 0h0m13.6 0h0m13.5 0h0m13.6 0h0m13.6 0h0m13.6 0h0m13.6 0h0m13.6 0h0m13.6 0h0m13.6 0h0m13.6 0h0m13.6 0h0m13.6 0h0m13.6 0h0m13.6 0h0m13.6 0h0m13.6 0h0m13.6 0h0m13.6 0h0m13.6 0h0M140.4 186.3h0m13.6 0h0m13.6 0h0m13.6 0h0m13.6 0h0m13.6 0h0m13.6 0h0m13.6 0h0m13.6 0h0m13.6 0h0m13.6 0h0m13.5 0h0m13.6 0h0m13.6 0h0m13.6 0h0m13.6 0h0m13.6 0h0m13.6 0h0m13.6 0h0m13.6 0h0m13.6 0h0m13.6 0h0m13.6 0h0m13.6 0h0m13.6 0h0m13.6 0h0m13.6 0h0m13.6 0h0m13.6 0h0M133.6 198h0m13.6 0h0m13.6 0h0m13.6 0h0m13.6 0h0m13.6 0h0m13.6 0h0m13.6 0h0m13.6 0h0m13.6 0h0m13.6 0h0m13.6 0h0m13.5 0h0m13.6 0h0m13.6 0h0m13.6 0h0m13.6 0h0m13.6 0h0m13.6 0h0m13.6 0h0m13.6 0h0m13.6 0h0m13.6 0h0m13.6 0h0m13.6 0h0m13.6 0h0m13.6 0h0m13.6 0h0m13.6 0h0m13.6 0h0M140.4 209.8h0m13.6 0h0m13.6 0h0m13.6 0h0m13.6 0h0m13.6 0h0m13.6 0h0m13.6 0h0m13.6 0h0m13.6 0h0m13.6 0h0m13.5 0h0m13.6 0h0m13.6 0h0m13.6 0h0m13.6 0h0m13.6 0h0m13.6 0h0m13.6 0h0m13.6 0h0m13.6 0h0m13.6 0h0m13.6 0h0m13.6 0h0m13.6 0h0m13.6 0h0m13.6 0h0m13.6 0h0m13.6 0h0m13.6 0h0M133.6 221.6h0m13.6 0h0m13.6 0h0m13.6 0h0m13.6 0h0m13.6 0h0m13.6 0h0m13.6 0h0m13.6 0h0m13.6 0h0m13.6 0h0m13.6 0h0m13.5 0h0m13.6 0h0m13.6 0h0m13.6 0h0m13.6 0h0m13.6 0h0m13.6 0h0m13.6 0h0m13.6 0h0m13.6 0h0m13.6 0h0m13.6 0h0m13.6 0h0m13.6 0h0m13.6 0h0m13.6 0h0m13.6 0h0m13.6 0h0M140.4 233.4h0m13.6 0h0m13.6 0h0m13.6 0h0m13.6 0h0m13.6 0h0m13.6 0h0m13.6 0h0m13.6 0h0m13.6 0h0m13.6 0h0m13.5 0h0m13.6 0h0m13.6 0h0m13.6 0h0m13.6 0h0m13.6 0h0m13.6 0h0m13.6 0h0m13.6 0h0m13.6 0h0m13.6 0h0m13.6 0h0m13.6 0h0m13.6 0h0m13.6 0h0m13.6 0h0m13.6 0h0m13.6 0h0m13.6 0h0M133.6 245.1h0m13.6 0h0m13.6 0h0m13.6 0h0m13.6 0h0m13.6 0h0m13.6 0h0m13.6 0h0m13.6 0h0m13.6 0h0m13.6 0h0m13.6 0h0m13.5 0h0m13.6 0h0m13.6 0h0m13.6 0h0m13.6 0h0m13.6 0h0m13.6 0h0m13.6 0h0m13.6 0h0m13.6 0h0m13.6 0h0m13.6 0h0m13.6 0h0m13.6 0h0m13.6 0h0m13.6 0h0m13.6 0h0m13.6 0h0M140.4 256.9h0m13.6 0h0m13.6 0h0m13.6 0h0m13.6 0h0m13.6 0h0m13.6 0h0m13.6 0h0m13.6 0h0m13.6 0h0m13.6 0h0m13.5 0h0m13.6 0h0m13.6 0h0m13.6 0h0m13.6 0h0m13.6 0h0m13.6 0h0m13.6 0h0m13.6 0h0m13.6 0h0m13.6 0h0m13.6 0h0m13.6 0h0m13.6 0h0m13.6 0h0m13.6 0h0m13.6 0h0m13.6 0h0m13.6 0h0M133.6 268.7h0m13.6 0h0m13.6 0h0m13.6 0h0m13.6 0h0m13.6 0h0m13.6 0h0m13.6 0h0m13.6 0h0m13.6 0h0m13.6 0h0m13.6 0h0m13.5 0h0m13.6 0h0m13.6 0h0m13.6 0h0m13.6 0h0m13.6 0h0m13.6 0h0m13.6 0h0m13.6 0h0m13.6 0h0m13.6 0h0m13.6 0h0m13.6 0h0m13.6 0h0m13.6 0h0m13.6 0h0m13.6 0h0m13.6 0h0M140.4 280.4h0m13.6 0h0m13.6 0h0m13.6 0h0m13.6 0h0m13.6 0h0m13.6 0h0m13.6 0h0m13.6 0h0m13.6 0h0m13.6 0h0m13.5 0h0m13.6 0h0m13.6 0h0m13.6 0h0m13.6 0h0m13.6 0h0m13.6 0h0m13.6 0h0m13.6 0h0m13.6 0h0m13.6 0h0m13.6 0h0m13.6 0h0m13.6 0h0m13.6 0h0m13.6 0h0m13.6 0h0m13.6 0h0M133.6 292.2h0m13.6 0h0m13.6 0h0m13.6 0h0m13.6 0h0m13.6 0h0m13.6 0h0m13.6 0h0m13.6 0h0m13.6 0h0m13.6 0h0m13.6 0h0m13.5 0h0m13.6 0h0m13.6 0h0m13.6 0h0m13.6 0h0m13.6 0h0m13.6 0h0m13.6 0h0m13.6 0h0m13.6 0h0m13.6 0h0m13.6 0h0m13.6 0h0m13.6 0h0m13.6 0h0m13.6 0h0m13.6 0h0m13.6 0h0" stroke-width="3.5" stroke-linecap="round"/></g>
<g stroke="#f88a22" fill="none"><path d="M140.4 41v-3.9l3.4-1.9m6.8 0l3.4 1.9l3.4-1.9m-3.4 1.9v3.9m10.2-5.8l3.4 1.9l3.4-1.9m-3.4 1.9v3.9m10.2-5.8l3.4 1.9l3.4-1.9m-3.4 1.9v3.9m10.2-5.8l3.4 1.9l3.4-1.9m-3.4 1.9v3.9m10.2-5.8l3.4 1.9l3.4-1.9m-3.4 1.9v3.9m10.2-5.8l3.4 1.9l3.4-1.9m-3.4 1.9v3.9m10.2-5.8l3.4 1.9l3.4-1.9m-3.4 1.9v3.9m10.2-5.8l3.4 1.9l3.4-1.9m-3.4 1.9v3.9m10.2-5.8l3.4 1.9l3.4-1.9m-3.4 1.9v3.9m10.2-5.8l3.4 1.9l3.4-1.9m-3.4 1.9v3.9m10.1-5.8l3.4 1.9l3.4-1.9m-3.4 1.9v3.9m10.2-5.8l3.4 1.9l3.4-1.9m-3.4 1.9v3.9m10.2-5.8l3.4 1.9l3.4-1.9m-3.4 1.9v3.9m10.2-5.8l3.4 1.9l3.4-1.9m-3.4 1.9v3.9m10.2-5.8l3.4 1.9l3.4-1.9m-3.4 1.9v3.9m10.2-5.8l3.4 1.9l3.4-1.9m-3.4 1.9v3.9m10.2-5.8l3.4 1.9l3.4-1.9m-3.4 1.9v3.9m10.2-5.8l3.4 1.9l3.4-1.9m-3.4 1.9v3.9m10.2-5.8l3.4 1.9l3.4-1.9m-3.4 1.9v3.9m10.2-5.8l3.4 1.9l3.4-1.9m-3.4 1.9v3.9m10.2-5.8l3.4 1.9l3.4-1.9m-3.4 1.9v3.9m10.2-5.8l3.4 1.9l3.4-1.9m-3.4 1.9v3.9m10.2-5.8l3.4 1.9l3.4-1.9m-3.4 1.9v3.9m10.2-5.8l3.4 1.9l3.4-1.9m-3.4 1.9v3.9m10.2-5.8l3.4 1.9l3.4-1.9m-3.4 1.9v3.9m10.2-5.8l3.4 1.9l3.4-1.9m-3.4 1.9v3.9m10.2-5.8l3.4 1.9l3.4-1.9m-3.4 1.9v3.9m10.2-5.8l3.4 1.9v3.9M133.6 52.8v-3.9l3.4-2m6.8 0l3.4 2l3.4-2m-3.4 2v3.9m10.2-5.9l3.4 2l3.4-2m-3.4 2v3.9m10.2-5.9l3.4 2l3.4-2m-3.4 2v3.9m10.2-5.9l3.4 2l3.4-2m-3.4 2v3.9m10.2-5.9l3.4 2l3.4-2m-3.4 2v3.9m10.2-5.9l3.4 2l3.4-2m-3.4 2v3.9m10.2-5.9l3.4 2l3.4-2m-3.4 2v3.9m10.2-5.9l3.4 2l3.4-2m-3.4 2v3.9m10.2-5.9l3.4 2l3.4-2m-3.4 2v3.9m10.2-5.9l3.4 2l3.4-2m-3.4 2v3.9m10.2-5.9l3.4 2l3.3-2m-3.3 2v3.9m10.1-5.9l3.4 2l3.4-2m-3.4 2v3.9m10.2-5.9l3.4 2l3.4-2m-3.4 2v3.9m10.2-5.9l3.4 2l3.4-2m-3.4 2v3.9m10.2-5.9l3.4 2l3.4-2m-3.4 2v3.9m10.2-5.9l3.4 2l3.4-2m-3.4 2v3.9m10.2-5.9l3.4 2l3.4-2m-3.4 2v3.9m10.2-5.9l3.4 2l3.4-2m-3.4 2v3.9m10.2-5.9l3.4 2l3.4-2m-3.4 2v3.9m10.2-5.9l3.4 2l3.4-2m-3.4 2v3.9m10.2-5.9l3.4 2l3.4-2m-3.4 2v3.9m10.2-5.9l3.4 2l3.4-2m-3.4 2v3.9m10.2-5.9l3.4 2l3.4-2m-3.4 2v3.9m10.2-5.9l3.4 2l3.4-2m-3.4 2v3.9m10.2-5.9l3.4 2l3.4-2m-3.4 2v3.9m10.2-5.9l3.4 2l3.4-2m-3.4 2v3.9m10.2-5.9l3.4 2l3.4-2m-3.4 2v3.9m10.2-5.9l3.4 2l3.4-2m-3.4 2v3.9m10.2-5.9l3.4 2v3.9M137 58.7l3.4 2l3.4-2m-3.4 2v3.9m10.2-5.9l3.4 2l3.4-2m-3.4 2v3.9m10.2-5.9l3.4 2l3.4-2m-3.4 2v3.9m10.2-5.9l3.4 2l3.4-2m-3.4 2v3.9m10.2-5.9l3.4 2l3.4-2m-3.4 2v3.9m10.2-5.9l3.4 2l3.4-2m-3.4 2v3.9m10.2-5.9l3.4 2l3.4-2m-3.4 2v3.9m10.2-5.9l3.4 2l3.4-2m-3.4 2v3.9m10.2-5.9l3.4 2l3.4-2m-3.4 2v3.9m10.2-5.9l3.4 2l3.4-2m-3.4 2v3.9m10.2-5.9l3.4 2l3.4-2m-3.4 2v3.9m10.1-5.9l3.4 2l3.4-2m-3.4 2v3.9m10.2-5.9l3.4 2l3.4-2m-3.4 2v3.9m10.2-5.9l3.4 2l3.4-2m-3.4 2v3.9m10.2-5.9l3.4 2l3.4-2m-3.4 2v3.9m10.2-5.9l3.4 2l3.4-2m-3.4 2v3.9m10.2-5.9l3.4 2l3.4-2m-3.4 2v3.9m10.2-5.9l3.4 2l3.4-2m-3.4 2v3.9m10.2-5.9l3.4 2l3.4-2m-3.4 2v3.9m10.2-5.9l3.4 2l3.4-2m-3.4 2v3.9m10.2-5.9l3.4 2l3.4-2m-3.4 2v3.9m10.2-5.9l3.4 2l3.4-2m-3.4 2v3.9m10.2-5.9l3.4 2l3.4-2m-3.4 2v3.9m10.2-5.9l3.4 2l3.4-2m-3.4 2v3.9m10.2-5.9l3.4 2l3.4-2m-3.4 2v3.9m10.2-5.9l3.4 2l3.4-2m-3.4 2v3.9m10.2-5.9l3.4 2l3.4-2m-3.4 2v3.9m10.2-5.9l3.4 2l3.4-2m-3.4 2v3.9m10.2-5.9l3.4 2l3.4-2m-3.4 2v3.9m10.2-5.9l3.4 2l3.4-2m-3.4 2v3.9M130.2 70.5l3.4 1.9l3.4-1.9m-3.4 1.9v4m10.2-5.9l3.4 1.9l3.4-1.9m-3.4 1.9v4m10.2-5.9l3.4 1.9l3.4-1.9m-3.4 1.9v4m10.2-5.9l3.4 1.9l3.4-1.9m-3.4 1.9v4m10.2-5.9l3.4 1.9l3.4-1.9m-3.4 1.9v4m10.2-5.9l3.4 1.9l3.4-1.9m-3.4 1.9v4m10.2-5.9l3.4 1.9l3.4-1.9m-3.4 1.9v4m10.2-5.9l3.4 1.9l3.4-1.9m-3.4 1.9v4m10.2-5.9l3.4 1.9l3.4-1.9m-3.4 1.9v4m10.2-5.9l3.4 1.9l3.4-1.9m-3.4 1.9v4m10.2-5.9l3.4 1.9l3.4-1.9m-3.4 1.9v4m10.2-5.9l3.4 1.9l3.3-1.9m-3.3 1.9v4m10.1-5.9l3.4 1.9l3.4-1.9m-3.4 1.9v4m10.2-5.9l3.4 1.9l3.4-1.9m-3.4 1.9v4m10.2-5.9l3.4 1.9l3.4-1.9m-3.4 1.9v4m10.2-5.9l3.4 1.9l3.4-1.9m-3.4 1.9v4m10.2-5.9l3.4 1.9l3.4-1.9m-3.4 1.9v4m10.2-5.9l3.4 1.9l3.4-1.9m-3.4 1.9v4m10.2-5.9l3.4 1.9l3.4-1.9m-3.4 1.9v4m10.2-5.9l3.4 1.9l3.4-1.9m-3.4 1.9v4m10.2-5.9l3.4 1.9l3.4-1.9m-3.4 1.9v4m10.2-5.9l3.4 1.9l3.4-1.9m-3.4 1.9v4m10.2-5.9l3.4 1.9l3.4-1.9m-3.4 1.9v4m10.2-5.9l3.4 1.9l3.4-1.9m-3.4 1.9v4m10.2-5.9l3.4 1.9l3.4-1.9m-3.4 1.9v4m10.2-5.9l3.4 1.9l3.4-1.9m-3.4 1.9v4m10.2-5.9l3.4 1.9l3.4-1.9m-3.4 1.9v4m10.2-5.9l3.4 1.9l3.4-1.9m-3.4 1.9v4m10.2-5.9l3.4 1.9l3.4-1.9m-3.4 1.9v4m10.2-5.9l3.4 1.9l3.4-1.9m-3.4 1.9v4M137 82.3l3.4 1.9l3.4-1.9m-3.4 1.9v3.9m10.2-5.8l3.4 1.9l3.4-1.9m-3.4 1.9v3.9m10.2-5.8l3.4 1.9l3.4-1.9m-3.4 1.9v3.9m10.2-5.8l3.4 1.9l3.4-1.9m-3.4 1.9v3.9m10.2-5.8l3.4 1.9l3.4-1.9m-3.4 1.9v3.9m10.2-5.8l3.4 1.9l3.4-1.9m-3.4 1.9v3.9m10.2-5.8l3.4 1.9l3.4-1.9m-3.4 1.9v3.9m10.2-5.8l3.4 1.9l3.4-1.9m-3.4 1.9v3.9m10.2-5.8l3.4 1.9l3.4-1.9m-3.4 1.9v3.9m10.2-5.8l3.4 1.9l3.4-1.9m-3.4 1.9v3.9m10.2-5.8l3.4 1.9l3.4-1.9m-3.4 1.9v3.9m10.1-5.8l3.4 1.9l3.4-1.9m-3.4 1.9v3.9m10.2-5.8l3.4 1.9l3.4-1.9m-3.4 1.9v3.9m10.2-5.8l3.4 1.9l3.4-1.9m-3.4 1.9v3.9m10.2-5.8l3.4 1.9l3.4-1.9m-3.4 1.9v3.9m10.2-5.8l3.4 1.9l3.4-1.9m-3.4 1.9v3.9m10.2-5.8l3.4 1.9l3.4-1.9m-3.4 1.9v3.9m10.2-5.8l3.4 1.9l3.4-1.9m-3.4 1.9v3.9m10.2-5.8l3.4 1.9l3.4-1.9m-3.4 1.9v3.9m10.2-5.8l3.4 1.9l3.4-1.9m-3.4 1.9v3.9m10.2-5.8l3.4 1.9l3.4-1.9m-3.4 1.9v3.9m10.2-5.8l3.4 1.9l3.4-1.9m-3.4 1.9v3.9m10.2-5.8l3.4 1.9l3.4-1.9m-3.4 1.9v3.9m10.2-5.8l3.4 1.9l3.4-1.9m-3.4 1.9v3.9m10.2-5.8l3.4 1.9l3.4-1.9m-3.4 1.9v3.9m10.2-5.8l3.4 1.9l3.4-1.9m-3.4 1.9v3.9m10.2-5.8l3.4 1.9l3.4-1.9m-3.4 1.9v3.9m10.2-5.8l3.4 1.9l3.4-1.9m-3.4 1.9v3.9m10.2-5.8l3.4 1.9l3.4-1.9m-3.4 1.9v3.9m10.2-5.8l3.4 1.9l3.4-1.9m-3.4 1.9v3.9M130.2 94l3.4 2l3.4-2m-3.4 2v3.9m10.2-5.9l3.4 2l3.4-2m-3.4 2v3.9m10.2-5.9l3.4 2l3.4-2m-3.4 2v3.9m10.2-5.9l3.4 2l3.4-2m-3.4 2v3.9m10.2-5.9l3.4 2l3.4-2m-3.4 2v3.9m10.2-5.9l3.4 2l3.4-2m-3.4 2v3.9m10.2-5.9l3.4 2l3.4-2m-3.4 2v3.9m10.2-5.9l3.4 2l3.4-2m-3.4 2v3.9m10.2-5.9l3.4 2l3.4-2m-3.4 2v3.9m10.2-5.9l3.4 2l3.4-2m-3.4 2v3.9m10.2-5.9l3.4 2l3.4-2m-3.4 2v3.9m10.2-5.9l3.4 2l3.3-2m-3.3 2v3.9m10.1-5.9l3.4 2l3.4-2m-3.4 2v3.9m10.2-5.9l3.4 2l3.4-2m-3.4 2v3.9m10.2-5.9l3.4 2l3.4-2m-3.4 2v3.9m10.2-5.9l3.4 2l3.4-2m-3.4 2v3.9m10.2-5.9l3.4 2l3.4-2m-3.4 2v3.9m10.2-5.9l3.4 2l3.4-2m-3.4 2v3.9m10.2-5.9l3.4 2l3.4-2m-3.4 2v3.9m10.2-5.9l3.4 2l3.4-2m-3.4 2v3.9m10.2-5.9l3.4 2l3.4-2m-3.4 2v3.9m10.2-5.9l3.4 2l3.4-2m-3.4 2v3.9m10.2-5.9l3.4 2l3.4-2m-3.4 2v3.9m10.2-5.9l3.4 2l3.4-2m-3.4 2v3.9m10.2-5.9l3.4 2l3.4-2m-3.4 2v3.9m10.2-5.9l3.4 2l3.4-2m-3.4 2v3.9m10.2-5.9l3.4 2l3.4-2m-3.4 2v3.9m10.2-5.9l3.4 2l3.4-2m-3.4 2v3.9m10.2-5.9l3.4 2l3.4-2m-3.4 2v3.9m10.2-5.9l3.4 2l3.4-2m-3.4 2v3.9M137 105.8l3.4 2l3.4-2m-3.4 2v3.9m10.2-5.9l3.4 2l3.4-2m-3.4 2v3.9m10.2-5.9l3.4 2l3.4-2m-3.4 2v3.9m10.2-5.9l3.4 2l3.4-2m-3.4 2v3.9m10.2-5.9l3.4 2l3.4-2m-3.4 2v3.9m10.2-5.9l3.4 2l3.4-2m-3.4 2v3.9m10.2-5.9l3.4 2l3.4-2m-3.4 2v3.9m10.2-5.9l3.4 2l3.4-2m-3.4 2v3.9m10.2-5.9l3.4 2l3.4-2m-3.4 2v3.9m10.2-5.9l3.4 2l3.4-2m-3.4 2v3.9m10.2-5.9l3.4 2l3.4-2m-3.4 2v3.9m10.1-5.9l3.4 2l3.4-2m-3.4 2v3.9m10.2-5.9l3.4 2l3.4-2m-3.4 2v3.9m10.2-5.9l3.4 2l3.4-2m-3.4 2v3.9m10.2-5.9l3.4 2l3.4-2m-3.4 2v3.9m10.2-5.9l3.4 2l3.4-2m-3.4 2v3.9m10.2-5.9l3.4 2l3.4-2m-3.4 2v3.9m10.2-5.9l3.4 2l3.4-2m-3.4 2v3.9m10.2-5.9l3.4 2l3.4-2m-3.4 2v3.9m10.2-5.9l3.4 2l3.4-2m-3.4 2v3.9m10.2-5.9l3.4 2l3.4-2m-3.4 2v3.9m10.2-5.9l3.4 2l3.4-2m-3.4 2v3.9m10.2-5.9l3.4 2l3.4-2m-3.4 2v3.9m10.2-5.9l3.4 2l3.4-2m-3.4 2v3.9m10.2-5.9l3.4 2l3.4-2m-3.4 2v3.9m10.2-5.9l3.4 2l3.4-2m-3.4 2v3.9m10.2-5.9l3.4 2l3.4-2m-3.4 2v3.9m10.2-5.9l3.4 2l3.4-2m-3.4 2v3.9m10.2-5.9l3.4 2l3.4-2m-3.4 2v3.9m10.2-5.9l3.4 2l3.4-2m-3.4 2v3.9M130.2 117.6l3.4 1.9l3.4-1.9m-3.4 1.9v4m10.2-5.9l3.4 1.9l3.4-1.9m-3.4 1.9v4m10.2-5.9l3.4 1.9l3.4-1.9m-3.4 1.9v4m10.2-5.9l3.4 1.9l3.4-1.9m-3.4 1.9v4m10.2-5.9l3.4 1.9l3.4-1.9m-3.4 1.9v4m10.2-5.9l3.4 1.9l3.4-1.9m-3.4 1.9v4m10.2-5.9l3.4 1.9l3.4-1.9m-3.4 1.9v4m10.2-5.9l3.4 1.9l3.4-1.9m-3.4 1.9v4m10.2-5.9l3.4 1.9l3.4-1.9m-3.4 1.9v4m10.2-5.9l3.4 1.9l3.4-1.9m-3.4 1.9v4m10.2-5.9l3.4 1.9l3.4-1.9m-3.4 1.9v4m10.2-5.9l3.4 1.9l3.3-1.9m-3.3 1.9v4m10.1-5.9l3.4 1.9l3.4-1.9m-3.4 1.9v4m10.2-5.9l3.4 1.9l3.4-1.9m-3.4 1.9v4m10.2-5.9l3.4 1.9l3.4-1.9m-3.4 1.9v4m10.2-5.9l3.4 1.9l3.4-1.9m-3.4 1.9v4m10.2-5.9l3.4 1.9l3.4-1.9m-3.4 1.9v4m10.2-5.9l3.4 1.9l3.4-1.9m-3.4 1.9v4m10.2-5.9l3.4 1.9l3.4-1.9m-3.4 1.9v4m10.2-5.9l3.4 1.9l3.4-1.9m-3.4 1.9v4m10.2-5.9l3.4 1.9l3.4-1.9m-3.4 1.9v4m10.2-5.9l3.4 1.9l3.4-1.9m-3.4 1.9v4m10.2-5.9l3.4 1.9l3.4-1.9m-3.4 1.9v4m10.2-5.9l3.4 1.9l3.4-1.9m-3.4 1.9v4m10.2-5.9l3.4 1.9l3.4-1.9m-3.4 1.9v4m10.2-5.9l3.4 1.9l3.4-1.9m-3.4 1.9v4m10.2-5.9l3.4 1.9l3.4-1.9m-3.4 1.9v4m10.2-5.9l3.4 1.9l3.4-1.9m-3.4 1.9v4m10.2-5.9l3.4 1.9l3.4-1.9m-3.4 1.9v4m10.2-5.9l3.4 1.9l3.4-1.9m-3.4 1.9v4M137 129.4l3.4 1.9l3.4-1.9m-3.4 1.9v3.9m10.2-5.8l3.4 1.9l3.4-1.9m-3.4 1.9v3.9m10.2-5.8l3.4 1.9l3.4-1.9m-3.4 1.9v3.9m10.2-5.8l3.4 1.9l3.4-1.9m-3.4 1.9v3.9m10.2-5.8l3.4 1.9l3.4-1.9m-3.4 1.9v3.9m10.2-5.8l3.4 1.9l3.4-1.9m-3.4 1.9v3.9m10.2-5.8l3.4 1.9l3.4-1.9m-3.4 1.9v3.9m10.2-5.8l3.4 1.9l3.4-1.9m-3.4 1.9v3.9m10.2-5.8l3.4 1.9l3.4-1.9m-3.4 1.9v3.9m10.2-5.8l3.4 1.9l3.4-1.9m-3.4 1.9v3.9m10.2-5.8l3.4 1.9l3.4-1.9m-3.4 1.9v3.9m10.1-5.8l3.4 1.9l3.4-1.9m-3.4 1.9v3.9m10.2-5.8l3.4 1.9l3.4-1.9m-3.4 1.9v3.9m10.2-5.8l3.4 1.9l3.4-1.9m-3.4 1.9v3.9m10.2-5.8l3.4 1.9l3.4-1.9m-3.4 1.9v3.9m10.2-5.8l3.4 1.9l3.4-1.9m-3.4 1.9v3.9m10.2-5.8l3.4 1.9l3.4-1.9m-3.4 1.9v3.9m10.2-5.8l3.4 1.9l3.4-1.9m-3.4 1.9v3.9m10.2-5.8l3.4 1.9l3.4-1.9m-3.4 1.9v3.9m10.2-5.8l3.4 1.9l3.4-1.9m-3.4 1.9v3.9m10.2-5.8l3.4 1.9l3.4-1.9m-3.4 1.9v3.9m10.2-5.8l3.4 1.9l3.4-1.9m-3.4 1.9v3.9m10.2-5.8l3.4 1.9l3.4-1.9m-3.4 1.9v3.9m10.2-5.8l3.4 1.9l3.4-1.9m-3.4 1.9v3.9m10.2-5.8l3.4 1.9l3.4-1.9m-3.4 1.9v3.9m10.2-5.8l3.4 1.9l3.4-1.9m-3.4 1.9v3.9m10.2-5.8l3.4 1.9l3.4-1.9m-3.4 1.9v3.9m10.2-5.8l3.4 1.9l3.4-1.9m-3.4 1.9v3.9m10.2-5.8l3.4 1.9l3.4-1.9m-3.4 1.9v3.9m10.2-5.8l3.4 1.9l3.4-1.9M133.6 147v-3.9l3.4-2m6.8 0l3.4 2l3.4-2m-3.4 2v3.9m10.2-5.9l3.4 2l3.4-2m-3.4 2v3.9m10.2-5.9l3.4 2l3.4-2m-3.4 2v3.9m10.2-5.9l3.4 2l3.4-2m-3.4 2v3.9m10.2-5.9l3.4 2l3.4-2m-3.4 2v3.9m10.2-5.9l3.4 2l3.4-2m-3.4 2v3.9m10.2-5.9l3.4 2l3.4-2m-3.4 2v3.9m10.2-5.9l3.4 2l3.4-2m-3.4 2v3.9m10.2-5.9l3.4 2l3.4-2m-3.4 2v3.9m10.2-5.9l3.4 2l3.4-2m-3.4 2v3.9m10.2-5.9l3.4 2l3.3-2m-3.3 2v3.9m10.1-5.9l3.4 2l3.4-2m-3.4 2v3.9m10.2-5.9l3.4 2l3.4-2m-3.4 2v3.9m10.2-5.9l3.4 2l3.4-2m-3.4 2v3.9m10.2-5.9l3.4 2l3.4-2m-3.4 2v3.9m10.2-5.9l3.4 2l3.4-2m-3.4 2v3.9m10.2-5.9l3.4 2l3.4-2m-3.4 2v3.9m10.2-5.9l3.4 2l3.4-2m-3.4 2v3.9m10.2-5.9l3.4 2l3.4-2m-3.4 2v3.9m10.2-5.9l3.4 2l3.4-2m-3.4 2v3.9m10.2-5.9l3.4 2l3.4-2m-3.4 2v3.9m10.2-5.9l3.4 2l3.4-2m-3.4 2v3.9m10.2-5.9l3.4 2l3.4-2m-3.4 2v3.9m10.2-5.9l3.4 2l3.4-2m-3.4 2v3.9m10.2-5.9l3.4 2l3.4-2m-3.4 2v3.9m10.2-5.9l3.4 2l3.4-2m-3.4 2v3.9m10.2-5.9l3.4 2l3.4-2m-3.4 2v3.9m10.2-5.9l3.4 2l3.4-2m-3.4 2v3.9m10.2-5.9l3.4 2v3.9M137 152.9l3.4 2l3.4-2m-3.4 2v3.9m10.2-5.9l3.4 2l3.4-2m-3.4 2v3.9m10.2-5.9l3.4 2l3.4-2m-3.4 2v3.9m10.2-5.9l3.4 2l3.4-2m-3.4 2v3.9m10.2-5.9l3.4 2l3.4-2m-3.4 2v3.9m10.2-5.9l3.4 2l3.4-2m-3.4 2v3.9m10.2-5.9l3.4 2l3.4-2m-3.4 2v3.9m10.2-5.9l3.4 2l3.4-2m-3.4 2v3.9m10.2-5.9l3.4 2l3.4-2m-3.4 2v3.9m10.2-5.9l3.4 2l3.4-2m-3.4 2v3.9m10.2-5.9l3.4 2l3.4-2m-3.4 2v3.9m10.1-5.9l3.4 2l3.4-2m-3.4 2v3.9m10.2-5.9l3.4 2l3.4-2m-3.4 2v3.9m10.2-5.9l3.4 2l3.4-2m-3.4 2v3.9m10.2-5.9l3.4 2l3.4-2m-3.4 2v3.9m10.2-5.9l3.4 2l3.4-2m-3.4 2v3.9m10.2-5.9l3.4 2l3.4-2m-3.4 2v3.9m10.2-5.9l3.4 2l3.4-2m-3.4 2v3.9m10.2-5.9l3.4 2l3.4-2m-3.4 2v3.9m10.2-5.9l3.4 2l3.4-2m-3.4 2v3.9m10.2-5.9l3.4 2l3.4-2m-3.4 2v3.9m10.2-5.9l3.4 2l3.4-2m-3.4 2v3.9m10.2-5.9l3.4 2l3.4-2m-3.4 2v3.9m10.2-5.9l3.4 2l3.4-2m-3.4 2v3.9m10.2-5.9l3.4 2l3.4-2m-3.4 2v3.9m10.2-5.9l3.4 2l3.4-2m-3.4 2v3.9m10.2-5.9l3.4 2l3.4-2m-3.4 2v3.9m10.2-5.9l3.4 2l3.4-2m-3.4 2v3.9m10.2-5.9l3.4 2l3.4-2m-3.4 2v3.9M133.6 170.6v-4l3.4-1.9m6.8 0l3.4 1.9l3.4-1.9m-3.4 1.9v4m10.2-5.9l3.4 1.9l3.4-1.9m-3.4 1.9v4m10.2-5.9l3.4 1.9l3.4-1.9m-3.4 1.9v4m10.2-5.9l3.4 1.9l3.4-1.9m-3.4 1.9v4m10.2-5.9l3.4 1.9l3.4-1.9m-3.4 1.9v4m10.2-5.9l3.4 1.9l3.4-1.9m-3.4 1.9v4m10.2-5.9l3.4 1.9l3.4-1.9m-3.4 1.9v4m10.2-5.9l3.4 1.9l3.4-1.9m-3.4 1.9v4m10.2-5.9l3.4 1.9l3.4-1.9m-3.4 1.9v4m10.2-5.9l3.4 1.9l3.4-1.9m-3.4 1.9v4m10.2-5.9l3.4 1.9l3.3-1.9m-3.3 1.9v4m10.1-5.9l3.4 1.9l3.4-1.9m-3.4 1.9v4m10.2-5.9l3.4 1.9l3.4-1.9m-3.4 1.9v4m10.2-5.9l3.4 1.9l3.4-1.9m-3.4 1.9v4m10.2-5.9l3.4 1.9l3.4-1.9m-3.4 1.9v4m10.2-5.9l3.4 1.9l3.4-1.9m-3.4 1.9v4m10.2-5.9l3.4 1.9l3.4-1.9m-3.4 1.9v4m10.2-5.9l3.4 1.9l3.4-1.9m-3.4 1.9v4m10.2-5.9l3.4 1.9l3.4-1.9m-3.4 1.9v4m10.2-5.9l3.4 1.9l3.4-1.9m-3.4 1.9v4m10.2-5.9l3.4 1.9l3.4-1.9m-3.4 1.9v4m10.2-5.9l3.4 1.9l3.4-1.9m-3.4 1.9v4m10.2-5.9l3.4 1.9l3.4-1.9m-3.4 1.9v4m10.2-5.9l3.4 1.9l3.4-1.9m-3.4 1.9v4m10.2-5.9l3.4 1.9l3.4-1.9m-3.4 1.9v4m10.2-5.9l3.4 1.9l3.4-1.9m-3.4 1.9v4m10.2-5.9l3.4 1.9l3.4-1.9m-3.4 1.9v4m10.2-5.9l3.4 1.9l3.4-1.9m-3.4 1.9v4m10.2-5.9l3.4 1.9v4M137 176.4l3.4 2l3.4-2m-3.4 2v3.9m10.2-5.9l3.4 2l3.4-2m-3.4 2v3.9m10.2-5.9l3.4 2l3.4-2m-3.4 2v3.9m10.2-5.9l3.4 2l3.4-2m-3.4 2v3.9m10.2-5.9l3.4 2l3.4-2m-3.4 2v3.9m10.2-5.9l3.4 2l3.4-2m-3.4 2v3.9m10.2-5.9l3.4 2l3.4-2m-3.4 2v3.9m10.2-5.9l3.4 2l3.4-2m-3.4 2v3.9m10.2-5.9l3.4 2l3.4-2m-3.4 2v3.9m10.2-5.9l3.4 2l3.4-2m-3.4 2v3.9m10.2-5.9l3.4 2l3.4-2m-3.4 2v3.9m10.1-5.9l3.4 2l3.4-2m-3.4 2v3.9m10.2-5.9l3.4 2l3.4-2m-3.4 2v3.9m10.2-5.9l3.4 2l3.4-2m-3.4 2v3.9m10.2-5.9l3.4 2l3.4-2m-3.4 2v3.9m10.2-5.9l3.4 2l3.4-2m-3.4 2v3.9m10.2-5.9l3.4 2l3.4-2m-3.4 2v3.9m10.2-5.9l3.4 2l3.4-2m-3.4 2v3.9m10.2-5.9l3.4 2l3.4-2m-3.4 2v3.9m10.2-5.9l3.4 2l3.4-2m-3.4 2v3.9m10.2-5.9l3.4 2l3.4-2m-3.4 2v3.9m10.2-5.9l3.4 2l3.4-2m-3.4 2v3.9m10.2-5.9l3.4 2l3.4-2m-3.4 2v3.9m10.2-5.9l3.4 2l3.4-2m-3.4 2v3.9m10.2-5.9l3.4 2l3.4-2m-3.4 2v3.9m10.2-5.9l3.4 2l3.4-2m-3.4 2v3.9m10.2-5.9l3.4 2l3.4-2m-3.4 2v3.9m10.2-5.9l3.4 2l3.4-2m-3.4 2v3.9m10.2-5.9l3.4 2l3.4-2m-3.4 2v3.9M133.6 194.1v-3.9l3.4-2m6.8 0l3.4 2l3.4-2m-3.4 2v3.9m10.2-5.9l3.4 2l3.4-2m-3.4 2v3.9m10.2-5.9l3.4 2l3.4-2m-3.4 2v3.9m10.2-5.9l3.4 2l3.4-2m-3.4 2v3.9m10.2-5.9l3.4 2l3.4-2m-3.4 2v3.9m10.2-5.9l3.4 2l3.4-2m-3.4 2v3.9m10.2-5.9l3.4 2l3.4-2m-3.4 2v3.9m10.2-5.9l3.4 2l3.4-2m-3.4 2v3.9m10.2-5.9l3.4 2l3.4-2m-3.4 2v3.9m10.2-5.9l3.4 2l3.4-2m-3.4 2v3.9m10.2-5.9l3.4 2l3.3-2m-3.3 2v3.9m10.1-5.9l3.4 2l3.4-2m-3.4 2v3.9m10.2-5.9l3.4 2l3.4-2m-3.4 2v3.9m10.2-5.9l3.4 2l3.4-2m-3.4 2v3.9m10.2-5.9l3.4 2l3.4-2m-3.4 2v3.9m10.2-5.9l3.4 2l3.4-2m-3.4 2v3.9m10.2-5.9l3.4 2l3.4-2m-3.4 2v3.9m10.2-5.9l3.4 2l3.4-2m-3.4 2v3.9m10.2-5.9l3.4 2l3.4-2m-3.4 2v3.9m10.2-5.9l3.4 2l3.4-2m-3.4 2v3.9m10.2-5.9l3.4 2l3.4-2m-3.4 2v3.9m10.2-5.9l3.4 2l3.4-2m-3.4 2v3.9m10.2-5.9l3.4 2l3.4-2m-3.4 2v3.9m10.2-5.9l3.4 2l3.4-2m-3.4 2v3.9m10.2-5.9l3.4 2l3.4-2m-3.4 2v3.9m10.2-5.9l3.4 2l3.4-2m-3.4 2v3.9m10.2-5.9l3.4 2l3.4-2m-3.4 2v3.9m10.2-5.9l3.4 2l3.4-2m-3.4 2v3.9m10.2-5.9l3.4 2v3.9M137 200l3.4 2l3.4-2m-3.4 2v3.9m10.2-5.9l3.4 2l3.4-2m-3.4 2v3.9m10.2-5.9l3.4 2l3.4-2m-3.4 2v3.9m10.2-5.9l3.4 2l3.4-2m-3.4 2v3.9m10.2-5.9l3.4 2l3.4-2m-3.4 2v3.9m10.2-5.9l3.4 2l3.4-2m-3.4 2v3.9m10.2-5.9l3.4 2l3.4-2m-3.4 2v3.9m10.2-5.9l3.4 2l3.4-2m-3.4 2v3.9m10.2-5.9l3.4 2l3.4-2m-3.4 2v3.9m10.2-5.9l3.4 2l3.4-2m-3.4 2v3.9m10.2-5.9l3.4 2l3.4-2m-3.4 2v3.9m10.1-5.9l3.4 2l3.4-2m-3.4 2v3.9m10.2-5.9l3.4 2l3.4-2m-3.4 2v3.9m10.2-5.9l3.4 2l3.4-2m-3.4 2v3.9m10.2-5.9l3.4 2l3.4-2m-3.4 2v3.9m10.2-5.9l3.4 2l3.4-2m-3.4 2v3.9m10.2-5.9l3.4 2l3.4-2m-3.4 2v3.9m10.2-5.9l3.4 2l3.4-2m-3.4 2v3.9m10.2-5.9l3.4 2l3.4-2m-3.4 2v3.9m10.2-5.9l3.4 2l3.4-2m-3.4 2v3.9m10.2-5.9l3.4 2l3.4-2m-3.4 2v3.9m10.2-5.9l3.4 2l3.4-2m-3.4 2v3.9m10.2-5.9l3.4 2l3.4-2m-3.4 2v3.9m10.2-5.9l3.4 2l3.4-2m-3.4 2v3.9m10.2-5.9l3.4 2l3.4-2m-3.4 2v3.9m10.2-5.9l3.4 2l3.4-2m-3.4 2v3.9m10.2-5.9l3.4 2l3.4-2m-3.4 2v3.9m10.2-5.9l3.4 2l3.4-2m-3.4 2v3.9m10.2-5.9l3.4 2l3.4-2m-3.4 2v3.9m10.2-5.9l3.4 2l3.4-2m-3.4 2v3.9M130.2 211.8l3.4 1.9l3.4-1.9m-3.4 1.9v4m10.2-5.9l3.4 1.9l3.4-1.9m-3.4 1.9v4m10.2-5.9l3.4 1.9l3.4-1.9m-3.4 1.9v4m10.2-5.9l3.4 1.9l3.4-1.9m-3.4 1.9v4m10.2-5.9l3.4 1.9l3.4-1.9m-3.4 1.9v4m10.2-5.9l3.4 1.9l3.4-1.9m-3.4 1.9v4m10.2-5.9l3.4 1.9l3.4-1.9m-3.4 1.9v4m10.2-5.9l3.4 1.9l3.4-1.9m-3.4 1.9v4m10.2-5.9l3.4 1.9l3.4-1.9m-3.4 1.9v4m10.2-5.9l3.4 1.9l3.4-1.9m-3.4 1.9v4m10.2-5.9l3.4 1.9l3.4-1.9m-3.4 1.9v4m10.2-5.9l3.4 1.9l3.3-1.9m-3.3 1.9v4m10.1-5.9l3.4 1.9l3.4-1.9m-3.4 1.9v4m10.2-5.9l3.4 1.9l3.4-1.9m-3.4 1.9v4m10.2-5.9l3.4 1.9l3.4-1.9m-3.4 1.9v4m10.2-5.9l3.4 1.9l3.4-1.9m-3.4 1.9v4m10.2-5.9l3.4 1.9l3.4-1.9m-3.4 1.9v4m10.2-5.9l3.4 1.9l3.4-1.9m-3.4 1.9v4m10.2-5.9l3.4 1.9l3.4-1.9m-3.4 1.9v4m10.2-5.9l3.4 1.9l3.4-1.9m-3.4 1.9v4m10.2-5.9l3.4 1.9l3.4-1.9m-3.4 1.9v4m10.2-5.9l3.4 1.9l3.4-1.9m-3.4 1.9v4m10.2-5.9l3.4 1.9l3.4-1.9m-3.4 1.9v4m10.2-5.9l3.4 1.9l3.4-1.9m-3.4 1.9v4m10.2-5.9l3.4 1.9l3.4-1.9m-3.4 1.9v4m10.2-5.9l3.4 1.9l3.4-1.9m-3.4 1.9v4m10.2-5.9l3.4 1.9l3.4-1.9m-3.4 1.9v4m10.2-5.9l3.4 1.9l3.4-1.9m-3.4 1.9v4m10.2-5.9l3.4 1.9l3.4-1.9m-3.4 1.9v4m10.2-5.9l3.4 1.9l3.4-1.9m-3.4 1.9v4M137 223.5l3.4 2l3.4-2m-3.4 2v3.9m10.2-5.9l3.4 2l3.4-2m-3.4 2v3.9m10.2-5.9l3.4 2l3.4-2m-3.4 2v3.9m10.2-5.9l3.4 2l3.4-2m-3.4 2v3.9m10.2-5.9l3.4 2l3.4-2m-3.4 2v3.9m10.2-5.9l3.4 2l3.4-2m-3.4 2v3.9m10.2-5.9l3.4 2l3.4-2m-3.4 2v3.9m10.2-5.9l3.4 2l3.4-2m-3.4 2v3.9m10.2-5.9l3.4 2l3.4-2m-3.4 2v3.9m10.2-5.9l3.4 2l3.4-2m-3.4 2v3.9m10.2-5.9l3.4 2l3.4-2m-3.4 2v3.9m10.1-5.9l3.4 2l3.4-2m-3.4 2v3.9m10.2-5.9l3.4 2l3.4-2m-3.4 2v3.9m10.2-5.9l3.4 2l3.4-2m-3.4 2v3.9m10.2-5.9l3.4 2l3.4-2m-3.4 2v3.9m10.2-5.9l3.4 2l3.4-2m-3.4 2v3.9m10.2-5.9l3.4 2l3.4-2m-3.4 2v3.9m10.2-5.9l3.4 2l3.4-2m-3.4 2v3.9m10.2-5.9l3.4 2l3.4-2m-3.4 2v3.9m10.2-5.9l3.4 2l3.4-2m-3.4 2v3.9m10.2-5.9l3.4 2l3.4-2m-3.4 2v3.9m10.2-5.9l3.4 2l3.4-2m-3.4 2v3.9m10.2-5.9l3.4 2l3.4-2m-3.4 2v3.9m10.2-5.9l3.4 2l3.4-2m-3.4 2v3.9m10.2-5.9l3.4 2l3.4-2m-3.4 2v3.9m10.2-5.9l3.4 2l3.4-2m-3.4 2v3.9m10.2-5.9l3.4 2l3.4-2m-3.4 2v3.9m10.2-5.9l3.4 2l3.4-2m-3.4 2v3.9m10.2-5.9l3.4 2l3.4-2m-3.4 2v3.9m10.2-5.9l3.4 2l3.4-2m-3.4 2v3.9M130.2 235.3l3.4 2l3.4-2m-3.4 2v3.9m10.2-5.9l3.4 2l3.4-2m-3.4 2v3.9m10.2-5.9l3.4 2l3.4-2m-3.4 2v3.9m10.2-5.9l3.4 2l3.4-2m-3.4 2v3.9m10.2-5.9l3.4 2l3.4-2m-3.4 2v3.9m10.2-5.9l3.4 2l3.4-2m-3.4 2v3.9m10.2-5.9l3.4 2l3.4-2m-3.4 2v3.9m10.2-5.9l3.4 2l3.4-2m-3.4 2v3.9m10.2-5.9l3.4 2l3.4-2m-3.4 2v3.9m10.2-5.9l3.4 2l3.4-2m-3.4 2v3.9m10.2-5.9l3.4 2l3.4-2m-3.4 2v3.9m10.2-5.9l3.4 2l3.3-2m-3.3 2v3.9m10.1-5.9l3.4 2l3.4-2m-3.4 2v3.9m10.2-5.9l3.4 2l3.4-2m-3.4 2v3.9m10.2-5.9l3.4 2l3.4-2m-3.4 2v3.9m10.2-5.9l3.4 2l3.4-2m-3.4 2v3.9m10.2-5.9l3.4 2l3.4-2m-3.4 2v3.9m10.2-5.9l3.4 2l3.4-2m-3.4 2v3.9m10.2-5.9l3.4 2l3.4-2m-3.4 2v3.9m10.2-5.9l3.4 2l3.4-2m-3.4 2v3.9m10.2-5.9l3.4 2l3.4-2m-3.4 2v3.9m10.2-5.9l3.4 2l3.4-2m-3.4 2v3.9m10.2-5.9l3.4 2l3.4-2m-3.4 2v3.9m10.2-5.9l3.4 2l3.4-2m-3.4 2v3.9m10.2-5.9l3.4 2l3.4-2m-3.4 2v3.9m10.2-5.9l3.4 2l3.4-2m-3.4 2v3.9m10.2-5.9l3.4 2l3.4-2m-3.4 2v3.9m10.2-5.9l3.4 2l3.4-2m-3.4 2v3.9m10.2-5.9l3.4 2l3.4-2m-3.4 2v3.9m10.2-5.9l3.4 2l3.4-2m-3.4 2v3.9M137 247.1l3.4 1.9l3.4-1.9m-3.4 1.9v4m10.2-5.9l3.4 1.9l3.4-1.9m-3.4 1.9v4m10.2-5.9l3.4 1.9l3.4-1.9m-3.4 1.9v4m10.2-5.9l3.4 1.9l3.4-1.9m-3.4 1.9v4m10.2-5.9l3.4 1.9l3.4-1.9m-3.4 1.9v4m10.2-5.9l3.4 1.9l3.4-1.9m-3.4 1.9v4m10.2-5.9l3.4 1.9l3.4-1.9m-3.4 1.9v4m10.2-5.9l3.4 1.9l3.4-1.9m-3.4 1.9v4m10.2-5.9l3.4 1.9l3.4-1.9m-3.4 1.9v4m10.2-5.9l3.4 1.9l3.4-1.9m-3.4 1.9v4m10.2-5.9l3.4 1.9l3.4-1.9m-3.4 1.9v4m10.1-5.9l3.4 1.9l3.4-1.9m-3.4 1.9v4m10.2-5.9l3.4 1.9l3.4-1.9m-3.4 1.9v4m10.2-5.9l3.4 1.9l3.4-1.9m-3.4 1.9v4m10.2-5.9l3.4 1.9l3.4-1.9m-3.4 1.9v4m10.2-5.9l3.4 1.9l3.4-1.9m-3.4 1.9v4m10.2-5.9l3.4 1.9l3.4-1.9m-3.4 1.9v4m10.2-5.9l3.4 1.9l3.4-1.9m-3.4 1.9v4m10.2-5.9l3.4 1.9l3.4-1.9m-3.4 1.9v4m10.2-5.9l3.4 1.9l3.4-1.9m-3.4 1.9v4m10.2-5.9l3.4 1.9l3.4-1.9m-3.4 1.9v4m10.2-5.9l3.4 1.9l3.4-1.9m-3.4 1.9v4m10.2-5.9l3.4 1.9l3.4-1.9m-3.4 1.9v4m10.2-5.9l3.4 1.9l3.4-1.9m-3.4 1.9v4m10.2-5.9l3.4 1.9l3.4-1.9m-3.4 1.9v4m10.2-5.9l3.4 1.9l3.4-1.9m-3.4 1.9v4m10.2-5.9l3.4 1.9l3.4-1.9m-3.4 1.9v4m10.2-5.9l3.4 1.9l3.4-1.9m-3.4 1.9v4m10.2-5.9l3.4 1.9l3.4-1.9m-3.4 1.9v4m10.2-5.9l3.4 1.9l3.4-1.9m-3.4 1.9v4M130.2 258.9l3.4 1.9l3.4-1.9m-3.4 1.9v3.9m10.2-5.8l3.4 1.9l3.4-1.9m-3.4 1.9v3.9m10.2-5.8l3.4 1.9l3.4-1.9m-3.4 1.9v3.9m10.2-5.8l3.4 1.9l3.4-1.9m-3.4 1.9v3.9m10.2-5.8l3.4 1.9l3.4-1.9m-3.4 1.9v3.9m10.2-5.8l3.4 1.9l3.4-1.9m-3.4 1.9v3.9m10.2-5.8l3.4 1.9l3.4-1.9m-3.4 1.9v3.9m10.2-5.8l3.4 1.9l3.4-1.9m-3.4 1.9v3.9m10.2-5.8l3.4 1.9l3.4-1.9m-3.4 1.9v3.9m10.2-5.8l3.4 1.9l3.4-1.9m-3.4 1.9v3.9m10.2-5.8l3.4 1.9l3.4-1.9m-3.4 1.9v3.9m10.2-5.8l3.4 1.9l3.3-1.9m-3.3 1.9v3.9m10.1-5.8l3.4 1.9l3.4-1.9m-3.4 1.9v3.9m10.2-5.8l3.4 1.9l3.4-1.9m-3.4 1.9v3.9m10.2-5.8l3.4 1.9l3.4-1.9m-3.4 1.9v3.9m10.2-5.8l3.4 1.9l3.4-1.9m-3.4 1.9v3.9m10.2-5.8l3.4 1.9l3.4-1.9m-3.4 1.9v3.9m10.2-5.8l3.4 1.9l3.4-1.9m-3.4 1.9v3.9m10.2-5.8l3.4 1.9l3.4-1.9m-3.4 1.9v3.9m10.2-5.8l3.4 1.9l3.4-1.9m-3.4 1.9v3.9m10.2-5.8l3.4 1.9l3.4-1.9m-3.4 1.9v3.9m10.2-5.8l3.4 1.9l3.4-1.9m-3.4 1.9v3.9m10.2-5.8l3.4 1.9l3.4-1.9m-3.4 1.9v3.9m10.2-5.8l3.4 1.9l3.4-1.9m-3.4 1.9v3.9m10.2-5.8l3.4 1.9l3.4-1.9m-3.4 1.9v3.9m10.2-5.8l3.4 1.9l3.4-1.9m-3.4 1.9v3.9m10.2-5.8l3.4 1.9l3.4-1.9m-3.4 1.9v3.9m10.2-5.8l3.4 1.9l3.4-1.9m-3.4 1.9v3.9m10.2-5.8l3.4 1.9l3.4-1.9m-3.4 1.9v3.9m10.2-5.8l3.4 1.9l3.4-1.9m-3.4 1.9v3.9M137 270.6l3.4 2l3.4-2m-3.4 2v3.9m10.2-5.9l3.4 2l3.4-2m-3.4 2v3.9m10.2-5.9l3.4 2l3.4-2m-3.4 2v3.9m10.2-5.9l3.4 2l3.4-2m-3.4 2v3.9m10.2-5.9l3.4 2l3.4-2m-3.4 2v3.9m10.2-5.9l3.4 2l3.4-2m-3.4 2v3.9m10.2-5.9l3.4 2l3.4-2m-3.4 2v3.9m10.2-5.9l3.4 2l3.4-2m-3.4 2v3.9m10.2-5.9l3.4 2l3.4-2m-3.4 2v3.9m10.2-5.9l3.4 2l3.4-2m-3.4 2v3.9m10.2-5.9l3.4 2l3.4-2m-3.4 2v3.9m10.1-5.9l3.4 2l3.4-2m-3.4 2v3.9m10.2-5.9l3.4 2l3.4-2m-3.4 2v3.9m10.2-5.9l3.4 2l3.4-2m-3.4 2v3.9m10.2-5.9l3.4 2l3.4-2m-3.4 2v3.9m10.2-5.9l3.4 2l3.4-2m-3.4 2v3.9m10.2-5.9l3.4 2l3.4-2m-3.4 2v3.9m10.2-5.9l3.4 2l3.4-2m-3.4 2v3.9m10.2-5.9l3.4 2l3.4-2m-3.4 2v3.9m10.2-5.9l3.4 2l3.4-2m-3.4 2v3.9m10.2-5.9l3.4 2l3.4-2m-3.4 2v3.9m10.2-5.9l3.4 2l3.4-2m-3.4 2v3.9m10.2-5.9l3.4 2l3.4-2m-3.4 2v3.9m10.2-5.9l3.4 2l3.4-2m-3.4 2v3.9m10.2-5.9l3.4 2l3.4-2m-3.4 2v3.9m10.2-5.9l3.4 2l3.4-2m-3.4 2v3.9m10.2-5.9l3.4 2l3.4-2m-3.4 2v3.9m10.2-5.9l3.4 2l3.4-2m-3.4 2v3.9m10.2-5.9l3.4 2l3.4-2m-3.4 2v3.9M133.6 288.3v-3.9l3.4-2m6.8 0l3.4 2l3.4-2m-3.4 2v3.9m10.2-5.9l3.4 2l3.4-2m-3.4 2v3.9m10.2-5.9l3.4 2l3.4-2m-3.4 2v3.9m10.2-5.9l3.4 2l3.4-2m-3.4 2v3.9m10.2-5.9l3.4 2l3.4-2m-3.4 2v3.9m10.2-5.9l3.4 2l3.4-2m-3.4 2v3.9m10.2-5.9l3.4 2l3.4-2m-3.4 2v3.9m10.2-5.9l3.4 2l3.4-2m-3.4 2v3.9m10.2-5.9l3.4 2l3.4-2m-3.4 2v3.9m10.2-5.9l3.4 2l3.4-2m-3.4 2v3.9m10.2-5.9l3.4 2l3.3-2m-3.3 2v3.9m10.1-5.9l3.4 2l3.4-2m-3.4 2v3.9m10.2-5.9l3.4 2l3.4-2m-3.4 2v3.9m10.2-5.9l3.4 2l3.4-2m-3.4 2v3.9m10.2-5.9l3.4 2l3.4-2m-3.4 2v3.9m10.2-5.9l3.4 2l3.4-2m-3.4 2v3.9m10.2-5.9l3.4 2l3.4-2m-3.4 2v3.9m10.2-5.9l3.4 2l3.4-2m-3.4 2v3.9m10.2-5.9l3.4 2l3.4-2m-3.4 2v3.9m10.2-5.9l3.4 2l3.4-2m-3.4 2v3.9m10.2-5.9l3.4 2l3.4-2m-3.4 2v3.9m10.2-5.9l3.4 2l3.4-2m-3.4 2v3.9m10.2-5.9l3.4 2l3.4-2m-3.4 2v3.9m10.2-5.9l3.4 2l3.4-2m-3.4 2v3.9m10.2-5.9l3.4 2l3.4-2m-3.4 2v3.9m10.2-5.9l3.4 2l3.4-2m-3.4 2v3.9m10.2-5.9l3.4 2l3.4-2m-3.4 2v3.9m10.2-5.9l3.4 2l3.4-2m-3.4 2v3.9m10.2-5.9l3.4 2v3.9M137 294.2l3.4 1.9l3.4-1.9m6.8 0l3.4 1.9l3.4-1.9m6.8 0l3.4 1.9l3.4-1.9m6.8 0l3.4 1.9l3.4-1.9m6.8 0l3.4 1.9l3.4-1.9m6.8 0l3.4 1.9l3.4-1.9m6.8 0l3.4 1.9l3.4-1.9m6.8 0l3.4 1.9l3.4-1.9m6.8 0l3.4 1.9l3.4-1.9m6.8 0l3.4 1.9l3.4-1.9m6.8 0l3.4 1.9l3.4-1.9m6.7 0l3.4 1.9l3.4-1.9m6.8 0l3.4 1.9l3.4-1.9m6.8 0l3.4 1.9l3.4-1.9m6.8 0l3.4 1.9l3.4-1.9m6.8 0l3.4 1.9l3.4-1.9m6.8 0l3.4 1.9l3.4-1.9m6.8 0l3.4 1.9l3.4-1.9m6.8 0l3.4 1.9l3.4-1.9m6.8 0l3.4 1.9l3.4-1.9m6.8 0l3.4 1.9l3.4-1.9m6.8 0l3.4 1.9l3.4-1.9m6.8 0l3.4 1.9l3.4-1.9m6.8 0l3.4 1.9l3.4-1.9m6.8 0l3.4 1.9l3.4-1.9m6.8 0l3.4 1.9l3.4-1.9m6.8 0l3.4 1.9l3.4-1.9m6.8 0l3.4 1.9l3.4-1.9m6.8 0l3.4 1.9l3.4-1.9" stroke-width="1.4"/><path d="M140.4 37.1h0m13.6 0h0m13.6 0h0m13.6 0h0m13.6 0h0m13.6 0h0m13.6 0h0m13.6 0h0m13.6 0h0m13.6 0h0m13.6 0h0m13.5 0h0m13.6 0h0m13.6 0h0m13.6 0h0m13.6 0h0m13.6 0h0m13.6 0h0m13.6 0h0m13.6 0h0m13.6 0h0m13.6 0h0m13.6 0h0m13.6 0h0m13.6 0h0m13.6 0h0m13.6 0h0m13.6 0h0m13.6 0h0M133.6 48.9h0m13.6 0h0m13.6 0h0m13.6 0h0m13.6 0h0m13.6 0h0m13.6 0h0m13.6 0h0m13.6 0h0m13.6 0h0m13.6 0h0m13.6 0h0m13.5 0h0m13.6 0h0m13.6 0h0m13.6 0h0m13.6 0h0m13.6 0h0m13.6 0h0m13.6 0h0m13.6 0h0m13.6 0h0m13.6 0h0m13.6 0h0m13.6 0h0m13.6 0h0m13.6 0h0m13.6 0h0m13.6 0h0m13.6 0h0M140.4 60.7h0m13.6 0h0m13.6 0h0m13.6 0h0m13.6 0h0m13.6 0h0m13.6 0h0m13.6 0h0m13.6 0h0m13.6 0h0m13.6 0h0m13.5 0h0m13.6 0h0m13.6 0h0m13.6 0h0m13.6 0h0m13.6 0h0m13.6 0h0m13.6 0h0m13.6 0h0m13.6 0h0m13.6 0h0m13.6 0h0m13.6 0h0m13.6 0h0m13.6 0h0m13.6 0h0m13.6 0h0m13.6 0h0m13.6 0h0M133.6 72.4h0m13.6 0h0m13.6 0h0m13.6 0h0m13.6 0h0m13.6 0h0m13.6 0h0m13.6 0h0m13.6 0h0m13.6 0h0m13.6 0h0m13.6 0h0m13.5 0h0m13.6 0h0m13.6 0h0m13.6 0h0m13.6 0h0m13.6 0h0m13.6 0h0m13.6 0h0m13.6 0h0m13.6 0h0m13.6 0h0m13.6 0h0m13.6 0h0m13.6 0h0m13.6 0h0m13.6 0h0m13.6 0h0m13.6 0h0M140.4 84.2h0m13.6 0h0m13.6 0h0m13.6 0h0m13.6 0h0m13.6 0h0m13.6 0h0m13.6 0h0m13.6 0h0m13.6 0h0m13.6 0h0m13.5 0h0m13.6 0h0m13.6 0h0m13.6 0h0m13.6 0h0m13.6 0h0m13.6 0h0m13.6 0h0m13.6 0h0m13.6 0h0m13.6 0h0m13.6 0h0m13.6 0h0m13.6 0h0m13.6 0h0m13.6 0h0m13.6 0h0m13.6 0h0m13.6 0h0M133.6 96h0m13.6 0h0m13.6 0h0m13.6 0h0m13.6 0h0m13.6 0h0m13.6 0h0m13.6 0h0m13.6 0h0m13.6 0h0m13.6 0h0m13.6 0h0m13.5 0h0m13.6 0h0m13.6 0h0m13.6 0h0m13.6 0h0m13.6 0h0m13.6 0h0m13.6 0h0m13.6 0h0m13.6 0h0m13.6 0h0m13.6 0h0m13.6 0h0m13.6 0h0m13.6 0h0m13.6 0h0m13.6 0h0m13.6 0h0M140.4 107.8h0m13.6 0h0m13.6 0h0m13.6 0h0m13.6 0h0m13.6 0h0m13.6 0h0m13.6 0h0m13.6 0h0m13.6 0h0m13.6 0h0m13.5 0h0m13.6 0h0m13.6 0h0m13.6 0h0m13.6 0h0m13.6 0h0m13.6 0h0m13.6 0h0m13.6 0h0m13.6 0h0m13.6 0h0m13.6 0h0m13.6 0h0m13.6 0h0m13.6 0h0m13.6 0h0m13.6 0h0m13.6 0h0m13.6 0h0M133.6 119.5h0m13.6 0h0m13.6 0h0m13.6 0h0m13.6 0h0m13.6 0h0m13.6 0h0m13.6 0h0m13.6 0h0m13.6 0h0m13.6 0h0m13.6 0h0m13.5 0h0m13.6 0h0m13.6 0h0m13.6 0h0m13.6 0h0m13.6 0h0m13.6 0h0m13.6 0h0m13.6 0h0m13.6 0h0m13.6 0h0m13.6 0h0m13.6 0h0m13.6 0h0m13.6 0h0m13.6 0h0m13.6 0h0m13.6 0h0M140.4 131.3h0m13.6 0h0m13.6 0h0m13.6 0h0m13.6 0h0m13.6 0h0m13.6 0h0m13.6 0h0m13.6 0h0m13.6 0h0m13.6 0h0m13.5 0h0m13.6 0h0m13.6 0h0m13.6 0h0m13.6 0h0m13.6 0h0m13.6 0h0m13.6 0h0m13.6 0h0m13.6 0h0m13.6 0h0m13.6 0h0m13.6 0h0m13.6 0h0m13.6 0h0m13.6 0h0m13.6 0h0m13.6 0h0m13.6 0h0M133.6 143.1h0m13.6 0h0m13.6 0h0m13.6 0h0m13.6 0h0m13.6 0h0m13.6 0h0m13.6 0h0m13.6 0h0m13.6 0h0m13.6 0h0m13.6 0h0m13.5 0h0m13.6 0h0m13.6 0h0m13.6 0h0m13.6 0h0m13.6 0h0m13.6 0h0m13.6 0h0m13.6 0h0m13.6 0h0m13.6 0h0m13.6 0h0m13.6 0h0m13.6 0h0m13.6 0h0m13.6 0h0m13.6 0h0m13.6 0h0M140.4 154.9h0m13.6 0h0m13.6 0h0m13.6 0h0m13.6 0h0m13.6 0h0m13.6 0h0m13.6 0h0m13.6 0h0m13.6 0h0m13.6 0h0m13.5 0h0m13.6 0h0m13.6 0h0m13.6 0h0m13.6 0h0m13.6 0h0m13.6 0h0m13.6 0h0m13.6 0h0m13.6 0h0m13.6 0h0m13.6 0h0m13.6 0h0m13.6 0h0m13.6 0h0m13.6 0h0m13.6 0h0m13.6 0h0M133.6 166.6h0m13.6 0h0m13.6 0h0m13.6 0h0m13.6 0h0m13.6 0h0m13.6 0h0m13.6 0h0m13.6 0h0m13.6 0h0m13.6 0h0m13.6 0h0m13.5 0h0m13.6 0h0m13.6 0h0m13.6 0h0m13.6 0h0m13.6 0h0m13.6 0h0m13.6 0h0m13.6 0h0m13.6 0h0m13.6 0h0m13.6 0h0m13.6 0h0m13.6 0h0m13.6 0h0m13.6 0h0m13.6 0h0m13.6 0h0M140.4 178.4h0m13.6 0h0m13.6 0h0m13.6 0h0m13.6 0h0m13.6 0h0m13.6 0h0m13.6 0h0m13.6 0h0m13.6 0h0m13.6 0h0m13.5 0h0m13.6 0h0m13.6 0h0m13.6 0h0m13.6 0h0m13.6 0h0m13.6 0h0m13.6 0h0m13.6 0h0m13.6 0h0m13.6 0h0m13.6 0h0m13.6 0h0m13.6 0h0m13.6 0h0m13.6 0h0m13.6 0h0m13.6 0h0M133.6 190.2h0m13.6 0h0m13.6 0h0m13.6 0h0m13.6 0h0m13.6 0h0m13.6 0h0m13.6 0h0m13.6 0h0m13.6 0h0m13.6 0h0m13.6 0h0m13.5 0h0m13.6 0h0m13.6 0h0m13.6 0h0m13.6 0h0m13.6 0h0m13.6 0h0m13.6 0h0m13.6 0h0m13.6 0h0m13.6 0h0m13.6 0h0m13.6 0h0m13.6 0h0m13.6 0h0m13.6 0h0m13.6 0h0m13.6 0h0M140.4 202h0m13.6 0h0m13.6 0h0m13.6 0h0m13.6 0h0m13.6 0h0m13.6 0h0m13.6 0h0m13.6 0h0m13.6 0h0m13.6 0h0m13.5 0h0m13.6 0h0m13.6 0h0m13.6 0h0m13.6 0h0m13.6 0h0m13.6 0h0m13.6 0h0m13.6 0h0m13.6 0h0m13.6 0h0m13.6 0h0m13.6 0h0m13.6 0h0m13.6 0h0m13.6 0h0m13.6 0h0m13.6 0h0m13.6 0h0M133.6 213.7h0m13.6 0h0m13.6 0h0m13.6 0h0m13.6 0h0m13.6 0h0m13.6 0h0m13.6 0h0m13.6 0h0m13.6 0h0m13.6 0h0m13.6 0h0m13.5 0h0m13.6 0h0m13.6 0h0m13.6 0h0m13.6 0h0m13.6 0h0m13.6 0h0m13.6 0h0m13.6 0h0m13.6 0h0m13.6 0h0m13.6 0h0m13.6 0h0m13.6 0h0m13.6 0h0m13.6 0h0m13.6 0h0m13.6 0h0M140.4 225.5h0m13.6 0h0m13.6 0h0m13.6 0h0m13.6 0h0m13.6 0h0m13.6 0h0m13.6 0h0m13.6 0h0m13.6 0h0m13.6 0h0m13.5 0h0m13.6 0h0m13.6 0h0m13.6 0h0m13.6 0h0m13.6 0h0m13.6 0h0m13.6 0h0m13.6 0h0m13.6 0h0m13.6 0h0m13.6 0h0m13.6 0h0m13.6 0h0m13.6 0h0m13.6 0h0m13.6 0h0m13.6 0h0m13.6 0h0M133.6 237.3h0m13.6 0h0m13.6 0h0m13.6 0h0m13.6 0h0m13.6 0h0m13.6 0h0m13.6 0h0m13.6 0h0m13.6 0h0m13.6 0h0m13.6 0h0m13.5 0h0m13.6 0h0m13.6 0h0m13.6 0h0m13.6 0h0m13.6 0h0m13.6 0h0m13.6 0h0m13.6 0h0m13.6 0h0m13.6 0h0m13.6 0h0m13.6 0h0m13.6 0h0m13.6 0h0m13.6 0h0m13.6 0h0m13.6 0h0M140.4 249h0m13.6 0h0m13.6 0h0m13.6 0h0m13.6 0h0m13.6 0h0m13.6 0h0m13.6 0h0m13.6 0h0m13.6 0h0m13.6 0h0m13.5 0h0m13.6 0h0m13.6 0h0m13.6 0h0m13.6 0h0m13.6 0h0m13.6 0h0m13.6 0h0m13.6 0h0m13.6 0h0m13.6 0h0m13.6 0h0m13.6 0h0m13.6 0h0m13.6 0h0m13.6 0h0m13.6 0h0m13.6 0h0m13.6 0h0M133.6 260.8h0m13.6 0h0m13.6 0h0m13.6 0h0m13.6 0h0m13.6 0h0m13.6 0h0m13.6 0h0m13.6 0h0m13.6 0h0m13.6 0h0m13.6 0h0m13.5 0h0m13.6 0h0m13.6 0h0m13.6 0h0m13.6 0h0m13.6 0h0m13.6 0h0m13.6 0h0m13.6 0h0m13.6 0h0m13.6 0h0m13.6 0h0m13.6 0h0m13.6 0h0m13.6 0h0m13.6 0h0m13.6 0h0m13.6 0h0M140.4 272.6h0m13.6 0h0m13.6 0h0m13.6 0h0m13.6 0h0m13.6 0h0m13.6 0h0m13.6 0h0m13.6 0h0m13.6 0h0m13.6 0h0m13.5 0h0m13.6 0h0m13.6 0h0m13.6 0h0m13.6 0h0m13.6 0h0m13.6 0h0m13.6 0h0m13.6 0h0m13.6 0h0m13.6 0h0m13.6 0h0m13.6 0h0m13.6 0h0m13.6 0h0m13.6 0h0m13.6 0h0m13.6 0h0M133.6 284.4h0m13.6 0h0m13.6 0h0m13.6 0h0m13.6 0h0m13.6 0h0m13.6 0h0m13.6 0h0m13.6 0h0m13.6 0h0m13.6 0h0m13.6 0h0m13.5 0h0m13.6 0h0m13.6 0h0m13.6 0h0m13.6 0h0m13.6 0h0m13.6 0h0m13.6 0h0m13.6 0h0m13.6 0h0m13.6 0h0m13.6 0h0m13.6 0h0m13.6 0h0m13.6 0h0m13.6 0h0m13.6 0h0m13.6 0h0M140.4 296.1h0m13.6 0h0m13.6 0h0m13.6 0h0m13.6 0h0m13.6 0h0m13.6 0h0m13.6 0h0m13.6 0h0m13.6 0h0m13.6 0h0m13.5 0h0m13.6 0h0m13.6 0h0m13.6 0h0m13.6 0h0m13.6 0h0m13.6 0h0m13.6 0h0m13.6 0h0m13.6 0h0m13.6 0h0m13.6 0h0m13.6 0h0m13.6 0h0m13.6 0h0m13.6 0h0m13.6 0h0m13.6 0h0" stroke-width="3.5" stroke-linecap="round"/></g>
<g opacity="0.95" stroke="#de1f3c" fill="none"><path d="M120 56.7l3.4 2M538.1 58.7l3.4-2l3.4 2M123.4 58.7l3.4 2l3.4-2m-3.4 2v3.9M544.9 58.7l3.4 2v3.9M123.4 70.5l3.4-2l3.4 2m-3.4-2v-3.9M544.9 70.5l3.4-2v-3.9M120 76.4v-4l3.4-1.9M538.1 70.5l3.4 1.9l3.4-1.9m-3.4 1.9v4M120 76.4v3.9l3.4 2M538.1 82.3l3.4-2l3.4 2m-3.4-2v-3.9M123.4 82.3l3.4 1.9l3.4-1.9m-3.4 1.9v3.9M544.9 82.3l3.4 1.9v3.9M123.4 94l3.4-1.9l3.4 1.9m-3.4-1.9v-4M544.9 94l3.4-1.9v-4M120 99.9v-3.9l3.4-2M538.1 94l3.4 2l3.4-2m-3.4 2v3.9M120 99.9v3.9l3.4 2M538.1 105.8l3.4-2l3.4 2m-3.4-2v-3.9M123.4 105.8l3.4 2l3.4-2m-3.4 2v3.9M544.9 105.8l3.4 2v3.9M123.4 117.6l3.4-2l3.4 2m-3.4-2v-3.9M544.9 117.6l3.4-2v-3.9M120 123.5v-4l3.4-1.9M538.1 117.6l3.4 1.9l3.4-1.9m-3.4 1.9v4M120 123.5v3.9l3.4 2M538.1 129.4l3.4-2l3.4 2m-3.4-2v-3.9M123.4 129.4l3.4 1.9l3.4-1.9M548.3 131.3l-3.4-1.9M120 198l3.4 2M538.1 200l3.4-2l3.4 2M123.4 200l3.4 2l3.4-2m-3.4 2v3.9M544.9 200l3.4 2v3.9M123.4 211.8l3.4-2l3.4 2m-3.4-2v-3.9M544.9 211.8l3.4-2v-3.9M120 217.7v-4l3.4-1.9M538.1 211.8l3.4 1.9l3.4-1.9m-3.4 1.9v4M120 217.7v3.9l3.4 1.9M538.1 223.5l3.4-1.9l3.4 1.9m-3.4-1.9v-3.9M123.4 223.5l3.4 2l3.4-2m-3.4 2v3.9M544.9 223.5l3.4 2v3.9M123.4 235.3l3.4-1.9l3.4 1.9m-3.4-1.9v-4M544.9 235.3l3.4-1.9v-4M120 241.2v-3.9l3.4-2M538.1 235.3l3.4 2l3.4-2m-3.4 2v3.9M120 241.2v3.9l3.4 2M538.1 247.1l3.4-2l3.4 2m-3.4-2v-3.9M123.4 247.1l3.4 1.9l3.4-1.9m-3.4 1.9v4M544.9 247.1l3.4 1.9v4M123.4 258.9l3.4-2l3.4 2m-3.4-2v-3.9M544.9 258.9l3.4-2v-3.9M120 260.8l3.4-1.9M538.1 258.9l3.4 1.9l3.4-1.9" stroke-width="1.4"/><path d="M120 56.7h0M541.5 56.7h0M126.8 60.7h0M548.3 60.7h0M126.8 68.5h0M548.3 68.5h0M120 72.4h0M541.5 72.4h0M120 80.3h0M541.5 80.3h0M126.8 84.2h0M548.3 84.2h0M126.8 92.1h0M548.3 92.1h0M120 96h0M541.5 96h0M120 103.8h0M541.5 103.8h0M126.8 107.8h0M548.3 107.8h0M126.8 115.6h0M548.3 115.6h0M120 119.5h0M541.5 119.5h0M120 127.4h0M541.5 127.4h0M126.8 131.3h0M548.3 131.3h0M120 198h0M541.5 198h0M126.8 202h0M548.3 202h0M126.8 209.8h0M548.3 209.8h0M120 213.7h0M541.5 213.7h0M120 221.6h0M541.5 221.6h0M126.8 225.5h0M548.3 225.5h0M126.8 233.4h0M548.3 233.4h0M120 237.3h0M541.5 237.3h0M120 245.1h0M541.5 245.1h0M126.8 249h0M548.3 249h0M126.8 256.9h0M548.3 256.9h0M120 260.8h0M541.5 260.8h0" stroke-width="3.5" stroke-linecap="round"/></g>
<g opacity="0.78" stroke="#de1f3c" fill="none"><path d="M106.4 56.7l3.4 2m10.2-2l-3.4 2M551.7 58.7l3.3-2l3.4 2M109.8 58.7l3.4 2l3.4-2m-3.4 2v3.9M548.3 60.7l3.4-2m6.7 0l3.4 2v3.9M109.8 70.5l3.4-2l3.4 2m-3.4-2v-3.9M548.3 68.5l3.4 2m6.7 0l3.4-2v-3.9M106.4 76.4v-4l3.4-1.9m10.2 1.9l-3.4-1.9M551.7 70.5l3.3 1.9l3.4-1.9m-3.4 1.9v4M106.4 76.4v3.9l3.4 2m10.2-2l-3.4 2M551.7 82.3l3.3-2l3.4 2m-3.4-2v-3.9M109.8 82.3l3.4 1.9l3.4-1.9m-3.4 1.9v3.9M548.3 84.2l3.4-1.9m6.7 0l3.4 1.9v3.9M109.8 94l3.4-1.9l3.4 1.9m-3.4-1.9v-4M548.3 92.1l3.4 1.9m6.7 0l3.4-1.9v-4M106.4 99.9v-3.9l3.4-2m10.2 2l-3.4-2M551.7 94l3.3 2l3.4-2m-3.4 2v3.9M106.4 99.9v3.9l3.4 2m10.2-2l-3.4 2M551.7 105.8l3.3-2l3.4 2m-3.4-2v-3.9M109.8 105.8l3.4 2l3.4-2m-3.4 2v3.9M548.3 107.8l3.4-2m6.7 0l3.4 2v3.9M109.8 117.6l3.4-2l3.4 2m-3.4-2v-3.9M548.3 115.6l3.4 2m6.7 0l3.4-2v-3.9M106.4 123.5v-4l3.4-1.9m10.2 1.9l-3.4-1.9M551.7 117.6l3.3 1.9l3.4-1.9m-3.4 1.9v4M106.4 123.5v3.9l3.4 2m10.2-2l-3.4 2M551.7 129.4l3.3-2l3.4 2m-3.4-2v-3.9M109.8 129.4l3.4 1.9l3.4-1.9M548.3 131.3l3.4-1.9m10.1 1.9l-3.4-1.9M106.4 198l3.4 2m10.2-2l-3.4 2M551.7 200l3.3-2l3.4 2M109.8 200l3.4 2l3.4-2m-3.4 2v3.9M548.3 202l3.4-2m6.7 0l3.4 2v3.9M109.8 211.8l3.4-2l3.4 2m-3.4-2v-3.9M548.3 209.8l3.4 2m6.7 0l3.4-2v-3.9M106.4 217.7v-4l3.4-1.9m10.2 1.9l-3.4-1.9M551.7 211.8l3.3 1.9l3.4-1.9m-3.4 1.9v4M106.4 217.7v3.9l3.4 1.9m10.2-1.9l-3.4 1.9M551.7 223.5l3.3-1.9l3.4 1.9m-3.4-1.9v-3.9M109.8 223.5l3.4 2l3.4-2m-3.4 2v3.9M548.3 225.5l3.4-2m6.7 0l3.4 2v3.9M109.8 235.3l3.4-1.9l3.4 1.9m-3.4-1.9v-4M548.3 233.4l3.4 1.9m6.7 0l3.4-1.9v-4M106.4 241.2v-3.9l3.4-2m10.2 2l-3.4-2M551.7 235.3l3.3 2l3.4-2m-3.4 2v3.9M106.4 241.2v3.9l3.4 2m10.2-2l-3.4 2M551.7 247.1l3.3-2l3.4 2m-3.4-2v-3.9M109.8 247.1l3.4 1.9l3.4-1.9m-3.4 1.9v4M548.3 249l3.4-1.9m6.7 0l3.4 1.9v4M109.8 258.9l3.4-2l3.4 2m-3.4-2v-3.9M548.3 256.9l3.4 2m6.7 0l3.4-2v-3.9M106.4 260.8l3.4-1.9m10.2 1.9l-3.4-1.9M551.7 258.9l3.3 1.9l3.4-1.9" stroke-width="1.4"/><path d="M106.4 56.7h0M555 56.7h0M113.2 60.7h0M561.8 60.7h0M113.2 68.5h0M561.8 68.5h0M106.4 72.4h0M555 72.4h0M106.4 80.3h0M555 80.3h0M113.2 84.2h0M561.8 84.2h0M113.2 92.1h0M561.8 92.1h0M106.4 96h0M555 96h0M106.4 103.8h0M555 103.8h0M113.2 107.8h0M561.8 107.8h0M113.2 115.6h0M561.8 115.6h0M106.4 119.5h0M555 119.5h0M106.4 127.4h0M555 127.4h0M113.2 131.3h0M561.8 131.3h0M106.4 198h0M555 198h0M113.2 202h0M561.8 202h0M113.2 209.8h0M561.8 209.8h0M106.4 213.7h0M555 213.7h0M106.4 221.6h0M555 221.6h0M113.2 225.5h0M561.8 225.5h0M113.2 233.4h0M561.8 233.4h0M106.4 237.3h0M555 237.3h0M106.4 245.1h0M555 245.1h0M113.2 249h0M561.8 249h0M113.2 256.9h0M561.8 256.9h0M106.4 260.8h0M555 260.8h0" stroke-width="3.5" stroke-linecap="round"/></g>
<g opacity="0.5" stroke="#de1f3c" fill="none"><path d="M92.8 56.7l3.4 2m10.2-2l-3.4 2M565.2 58.7l3.4-2l3.4 2M96.2 58.7l3.4 2l3.4-2m-3.4 2v3.9M561.8 60.7l3.4-2m6.8 0l3.4 2v3.9M96.2 70.5l3.4-2l3.4 2m-3.4-2v-3.9M561.8 68.5l3.4 2m6.8 0l3.4-2v-3.9M92.8 76.4v-4l3.4-1.9m10.2 1.9l-3.4-1.9M565.2 70.5l3.4 1.9l3.4-1.9m-3.4 1.9v4M92.8 76.4v3.9l3.4 2m10.2-2l-3.4 2M565.2 82.3l3.4-2l3.4 2m-3.4-2v-3.9M96.2 82.3l3.4 1.9l3.4-1.9m-3.4 1.9v3.9M561.8 84.2l3.4-1.9m6.8 0l3.4 1.9v3.9M96.2 94l3.4-1.9l3.4 1.9m-3.4-1.9v-4M561.8 92.1l3.4 1.9m6.8 0l3.4-1.9v-4M92.8 99.9v-3.9l3.4-2m10.2 2l-3.4-2M565.2 94l3.4 2l3.4-2m-3.4 2v3.9M92.8 99.9v3.9l3.4 2m10.2-2l-3.4 2M565.2 105.8l3.4-2l3.4 2m-3.4-2v-3.9M96.2 105.8l3.4 2l3.4-2m-3.4 2v3.9M561.8 107.8l3.4-2m6.8 0l3.4 2v3.9M96.2 117.6l3.4-2l3.4 2m-3.4-2v-3.9M561.8 115.6l3.4 2m6.8 0l3.4-2v-3.9M92.8 123.5v-4l3.4-1.9m10.2 1.9l-3.4-1.9M565.2 117.6l3.4 1.9l3.4-1.9m-3.4 1.9v4M92.8 123.5v3.9l3.4 2m10.2-2l-3.4 2M565.2 129.4l3.4-2l3.4 2m-3.4-2v-3.9M96.2 129.4l3.4 1.9l3.4-1.9M561.8 131.3l3.4-1.9m10.2 1.9l-3.4-1.9M92.8 198l3.4 2m10.2-2l-3.4 2M565.2 200l3.4-2l3.4 2M96.2 200l3.4 2l3.4-2m-3.4 2v3.9M561.8 202l3.4-2m6.8 0l3.4 2v3.9M96.2 211.8l3.4-2l3.4 2m-3.4-2v-3.9M561.8 209.8l3.4 2m6.8 0l3.4-2v-3.9M92.8 217.7v-4l3.4-1.9m10.2 1.9l-3.4-1.9M565.2 211.8l3.4 1.9l3.4-1.9m-3.4 1.9v4M92.8 217.7v3.9l3.4 1.9m10.2-1.9l-3.4 1.9M565.2 223.5l3.4-1.9l3.4 1.9m-3.4-1.9v-3.9M96.2 223.5l3.4 2l3.4-2m-3.4 2v3.9M561.8 225.5l3.4-2m6.8 0l3.4 2v3.9M96.2 235.3l3.4-1.9l3.4 1.9m-3.4-1.9v-4M561.8 233.4l3.4 1.9m6.8 0l3.4-1.9v-4M92.8 241.2v-3.9l3.4-2m10.2 2l-3.4-2M565.2 235.3l3.4 2l3.4-2m-3.4 2v3.9M92.8 241.2v3.9l3.4 2m10.2-2l-3.4 2M565.2 247.1l3.4-2l3.4 2m-3.4-2v-3.9M96.2 247.1l3.4 1.9l3.4-1.9m-3.4 1.9v4M561.8 249l3.4-1.9m6.8 0l3.4 1.9v4M96.2 258.9l3.4-2l3.4 2m-3.4-2v-3.9M561.8 256.9l3.4 2m6.8 0l3.4-2v-3.9M92.8 260.8l3.4-1.9m10.2 1.9l-3.4-1.9M565.2 258.9l3.4 1.9l3.4-1.9" stroke-width="1.4"/><path d="M92.8 56.7h0M568.6 56.7h0M99.6 60.7h0M575.4 60.7h0M99.6 68.5h0M575.4 68.5h0M92.8 72.4h0M568.6 72.4h0M92.8 80.3h0M568.6 80.3h0M99.6 84.2h0M575.4 84.2h0M99.6 92.1h0M575.4 92.1h0M92.8 96h0M568.6 96h0M92.8 103.8h0M568.6 103.8h0M99.6 107.8h0M575.4 107.8h0M99.6 115.6h0M575.4 115.6h0M92.8 119.5h0M568.6 119.5h0M92.8 127.4h0M568.6 127.4h0M99.6 131.3h0M575.4 131.3h0M92.8 198h0M568.6 198h0M99.6 202h0M575.4 202h0M99.6 209.8h0M575.4 209.8h0M92.8 213.7h0M568.6 213.7h0M92.8 221.6h0M568.6 221.6h0M99.6 225.5h0M575.4 225.5h0M99.6 233.4h0M575.4 233.4h0M92.8 237.3h0M568.6 237.3h0M92.8 245.1h0M568.6 245.1h0M99.6 249h0M575.4 249h0M99.6 256.9h0M575.4 256.9h0M92.8 260.8h0M568.6 260.8h0" stroke-width="3.5" stroke-linecap="round"/></g>
<g opacity="0.28" stroke="#de1f3c" fill="none"><path d="M79.2 56.7l3.4 2m10.2-2l-3.4 2M578.8 58.7l3.4-2l3.4 2M82.6 58.7l3.4 2l3.4-2m-3.4 2v3.9M575.4 60.7l3.4-2m6.8 0l3.4 2v3.9M82.6 70.5l3.4-2l3.4 2m-3.4-2v-3.9M575.4 68.5l3.4 2m6.8 0l3.4-2v-3.9M79.2 76.4v-4l3.4-1.9m10.2 1.9l-3.4-1.9M578.8 70.5l3.4 1.9l3.4-1.9m-3.4 1.9v4M79.2 76.4v3.9l3.4 2m10.2-2l-3.4 2M578.8 82.3l3.4-2l3.4 2m-3.4-2v-3.9M82.6 82.3l3.4 1.9l3.4-1.9m-3.4 1.9v3.9M575.4 84.2l3.4-1.9m6.8 0l3.4 1.9v3.9M82.6 94l3.4-1.9l3.4 1.9m-3.4-1.9v-4M575.4 92.1l3.4 1.9m6.8 0l3.4-1.9v-4M79.2 99.9v-3.9l3.4-2m10.2 2l-3.4-2M578.8 94l3.4 2l3.4-2m-3.4 2v3.9M79.2 99.9v3.9l3.4 2m10.2-2l-3.4 2M578.8 105.8l3.4-2l3.4 2m-3.4-2v-3.9M82.6 105.8l3.4 2l3.4-2m-3.4 2v3.9M575.4 107.8l3.4-2m6.8 0l3.4 2v3.9M82.6 117.6l3.4-2l3.4 2m-3.4-2v-3.9M575.4 115.6l3.4 2m6.8 0l3.4-2v-3.9M79.2 123.5v-4l3.4-1.9m10.2 1.9l-3.4-1.9M578.8 117.6l3.4 1.9l3.4-1.9m-3.4 1.9v4M79.2 123.5v3.9l3.4 2m10.2-2l-3.4 2M578.8 129.4l3.4-2l3.4 2m-3.4-2v-3.9M82.6 129.4l3.4 1.9l3.4-1.9M575.4 131.3l3.4-1.9m10.2 1.9l-3.4-1.9M79.2 198l3.4 2m10.2-2l-3.4 2M578.8 200l3.4-2l3.4 2M82.6 200l3.4 2l3.4-2m-3.4 2v3.9M575.4 202l3.4-2m6.8 0l3.4 2v3.9M82.6 211.8l3.4-2l3.4 2m-3.4-2v-3.9M575.4 209.8l3.4 2m6.8 0l3.4-2v-3.9M79.2 217.7v-4l3.4-1.9m10.2 1.9l-3.4-1.9M578.8 211.8l3.4 1.9l3.4-1.9m-3.4 1.9v4M79.2 217.7v3.9l3.4 1.9m10.2-1.9l-3.4 1.9M578.8 223.5l3.4-1.9l3.4 1.9m-3.4-1.9v-3.9M82.6 223.5l3.4 2l3.4-2m-3.4 2v3.9M575.4 225.5l3.4-2m6.8 0l3.4 2v3.9M82.6 235.3l3.4-1.9l3.4 1.9m-3.4-1.9v-4M575.4 233.4l3.4 1.9m6.8 0l3.4-1.9v-4M79.2 241.2v-3.9l3.4-2m10.2 2l-3.4-2M578.8 235.3l3.4 2l3.4-2m-3.4 2v3.9M79.2 241.2v3.9l3.4 2m10.2-2l-3.4 2M578.8 247.1l3.4-2l3.4 2m-3.4-2v-3.9M82.6 247.1l3.4 1.9l3.4-1.9m-3.4 1.9v4M575.4 249l3.4-1.9m6.8 0l3.4 1.9v4M82.6 258.9l3.4-2l3.4 2m-3.4-2v-3.9M575.4 256.9l3.4 2m6.8 0l3.4-2v-3.9M79.2 260.8l3.4-1.9m10.2 1.9l-3.4-1.9M578.8 258.9l3.4 1.9l3.4-1.9" stroke-width="1.4"/><path d="M79.2 56.7h0M582.2 56.7h0M86 60.7h0M589 60.7h0M86 68.5h0M589 68.5h0M79.2 72.4h0M582.2 72.4h0M79.2 80.3h0M582.2 80.3h0M86 84.2h0M589 84.2h0M86 92.1h0M589 92.1h0M79.2 96h0M582.2 96h0M79.2 103.8h0M582.2 103.8h0M86 107.8h0M589 107.8h0M86 115.6h0M589 115.6h0M79.2 119.5h0M582.2 119.5h0M79.2 127.4h0M582.2 127.4h0M86 131.3h0M589 131.3h0M79.2 198h0M582.2 198h0M86 202h0M589 202h0M86 209.8h0M589 209.8h0M79.2 213.7h0M582.2 213.7h0M79.2 221.6h0M582.2 221.6h0M86 225.5h0M589 225.5h0M86 233.4h0M589 233.4h0M79.2 237.3h0M582.2 237.3h0M79.2 245.1h0M582.2 245.1h0M86 249h0M589 249h0M86 256.9h0M589 256.9h0M79.2 260.8h0M582.2 260.8h0" stroke-width="3.5" stroke-linecap="round"/></g>
<g opacity="0.12" stroke="#de1f3c" fill="none"><path d="M65.6 56.7l3.4 2m10.2-2l-3.4 2M592.4 58.7l3.4-2l3.4 2M69 58.7l3.4 2l3.4-2m-3.4 2v3.9M589 60.7l3.4-2m6.8 0l3.4 2v3.9M69 70.5l3.4-2l3.4 2m-3.4-2v-3.9M589 68.5l3.4 2m6.8 0l3.4-2v-3.9M65.6 76.4v-4l3.4-1.9m10.2 1.9l-3.4-1.9M592.4 70.5l3.4 1.9l3.4-1.9m-3.4 1.9v4M65.6 76.4v3.9l3.4 2m10.2-2l-3.4 2M592.4 82.3l3.4-2l3.4 2m-3.4-2v-3.9M69 82.3l3.4 1.9l3.4-1.9m-3.4 1.9v3.9M589 84.2l3.4-1.9m6.8 0l3.4 1.9v3.9M69 94l3.4-1.9l3.4 1.9m-3.4-1.9v-4M589 92.1l3.4 1.9m6.8 0l3.4-1.9v-4M65.6 99.9v-3.9l3.4-2m10.2 2l-3.4-2M592.4 94l3.4 2l3.4-2m-3.4 2v3.9M65.6 99.9v3.9l3.4 2m10.2-2l-3.4 2M592.4 105.8l3.4-2l3.4 2m-3.4-2v-3.9M69 105.8l3.4 2l3.4-2m-3.4 2v3.9M589 107.8l3.4-2m6.8 0l3.4 2v3.9M69 117.6l3.4-2l3.4 2m-3.4-2v-3.9M589 115.6l3.4 2m6.8 0l3.4-2v-3.9M65.6 123.5v-4l3.4-1.9m10.2 1.9l-3.4-1.9M592.4 117.6l3.4 1.9l3.4-1.9m-3.4 1.9v4M65.6 123.5v3.9l3.4 2m10.2-2l-3.4 2M592.4 129.4l3.4-2l3.4 2m-3.4-2v-3.9M69 129.4l3.4 1.9l3.4-1.9M589 131.3l3.4-1.9m10.2 1.9l-3.4-1.9M65.6 198l3.4 2m10.2-2l-3.4 2M592.4 200l3.4-2l3.4 2M69 200l3.4 2l3.4-2m-3.4 2v3.9M589 202l3.4-2m6.8 0l3.4 2v3.9M69 211.8l3.4-2l3.4 2m-3.4-2v-3.9M589 209.8l3.4 2m6.8 0l3.4-2v-3.9M65.6 217.7v-4l3.4-1.9m10.2 1.9l-3.4-1.9M592.4 211.8l3.4 1.9l3.4-1.9m-3.4 1.9v4M65.6 217.7v3.9l3.4 1.9m10.2-1.9l-3.4 1.9M592.4 223.5l3.4-1.9l3.4 1.9m-3.4-1.9v-3.9M69 223.5l3.4 2l3.4-2m-3.4 2v3.9M589 225.5l3.4-2m6.8 0l3.4 2v3.9M69 235.3l3.4-1.9l3.4 1.9m-3.4-1.9v-4M589 233.4l3.4 1.9m6.8 0l3.4-1.9v-4M65.6 241.2v-3.9l3.4-2m10.2 2l-3.4-2M592.4 235.3l3.4 2l3.4-2m-3.4 2v3.9M65.6 241.2v3.9l3.4 2m10.2-2l-3.4 2M592.4 247.1l3.4-2l3.4 2m-3.4-2v-3.9M69 247.1l3.4 1.9l3.4-1.9m-3.4 1.9v4M589 249l3.4-1.9m6.8 0l3.4 1.9v4M69 258.9l3.4-2l3.4 2m-3.4-2v-3.9M589 256.9l3.4 2m6.8 0l3.4-2v-3.9M65.6 260.8l3.4-1.9m10.2 1.9l-3.4-1.9M592.4 258.9l3.4 1.9l3.4-1.9" stroke-width="1.4"/><path d="M65.6 56.7h0M595.8 56.7h0M72.4 60.7h0M602.6 60.7h0M72.4 68.5h0M602.6 68.5h0M65.6 72.4h0M595.8 72.4h0M65.6 80.3h0M595.8 80.3h0M72.4 84.2h0M602.6 84.2h0M72.4 92.1h0M602.6 92.1h0M65.6 96h0M595.8 96h0M65.6 103.8h0M595.8 103.8h0M72.4 107.8h0M602.6 107.8h0M72.4 115.6h0M602.6 115.6h0M65.6 119.5h0M595.8 119.5h0M65.6 127.4h0M595.8 127.4h0M72.4 131.3h0M602.6 131.3h0M65.6 198h0M595.8 198h0M72.4 202h0M602.6 202h0M72.4 209.8h0M602.6 209.8h0M65.6 213.7h0M595.8 213.7h0M65.6 221.6h0M595.8 221.6h0M72.4 225.5h0M602.6 225.5h0M72.4 233.4h0M602.6 233.4h0M65.6 237.3h0M595.8 237.3h0M65.6 245.1h0M595.8 245.1h0M72.4 249h0M602.6 249h0M72.4 256.9h0M602.6 256.9h0M65.6 260.8h0M595.8 260.8h0" stroke-width="3.5" stroke-linecap="round"/></g>
<rect x="130.6" y="199.6" width="405.4" height="58.9" fill="#a9d6e5" opacity="0.55"/></g>
<text x="97.4" y="106.6" font-family="'Liberation Sans','DejaVu Sans',sans-serif" font-size="38" text-anchor="middle" fill="#000">3</text>
<text x="563" y="106.3" font-family="'Liberation Sans','DejaVu Sans',sans-serif" font-size="38" text-anchor="middle" fill="#000">4</text>
<text x="96.3" y="241.3" font-family="'Liberation Sans','DejaVu Sans',sans-serif" font-size="38" text-anchor="middle" fill="#000">1</text>
<text x="563.2" y="241.1" font-family="'Liberation Sans','DejaVu Sans',sans-serif" font-size="38" text-anchor="middle" fill="#000">2</text>
<g stroke="#1a1a1a" stroke-width="2" fill="none" stroke-linejoin="miter"><path d="M41.3 286V332H87.3"/><path d="M33.7 297.7L41.3 285.2L49.1 297.7"/><path d="M75.2 324.7L88.2 332L75.2 339.2"/></g><text x="42.2" y="273.2" font-family="'Liberation Serif','DejaVu Serif',serif" font-style="italic" font-size="21.5" text-anchor="middle" fill="#111">y</text><text x="102" y="339" font-family="'Liberation Serif','DejaVu Serif',serif" font-style="italic" font-size="28" text-anchor="middle" fill="#111">x</text>
<g stroke="#1a1a1a" stroke-width="2" fill="none" stroke-linejoin="miter"><path d="M740.3 320.8V366.8H786.3"/><path d="M732.7 332.5L740.3 320L748.1 332.5"/><path d="M774.2 359.5L787.2 366.8L774.2 374"/></g><text x="741.2" y="308" font-family="'Liberation Serif','DejaVu Serif',serif" font-style="italic" font-size="21.5" text-anchor="middle" fill="#111">y</text><text x="801" y="373.8" font-family="'Liberation Serif','DejaVu Serif',serif" font-style="italic" font-size="28" text-anchor="middle" fill="#111">x</text>
<rect x="762.9" y="10.1" width="452.8" height="335.1" fill="#fef6f2"/>
<g clip-path="url(#clL)"><rect x="775" y="21" width="430" height="312" fill="#fef0ea" filter="url(#bl4)"/><ellipse cx="900" cy="85" rx="90" ry="55" fill="#fee0d4" opacity="0.25" filter="url(#bl20)"/><ellipse cx="988" cy="75" rx="22" ry="55" fill="#fee0d4" opacity="0.45" filter="url(#bl12)"/><ellipse cx="1100" cy="160" rx="100" ry="60" fill="#fff5f0" opacity="0.5" filter="url(#bl20)"/><rect x="880" y="220" width="325" height="18" fill="#fde4d9" opacity="0.5" filter="url(#bl7)"/><rect x="880" y="251" width="325" height="14" fill="#fde6dc" opacity="0.4" filter="url(#bl7)"/><rect x="1184" y="175" width="20" height="138" fill="#fde6dc" opacity="0.5" filter="url(#bl7)"/><path d="M778 212L900 130L905 50L860 25L815 60L778 150Z" fill="url(#rgA)" filter="url(#bl12)"/><rect x="776" y="208" width="20" height="58" fill="#fdc4ad" opacity="0.75" filter="url(#bl4)"/><ellipse cx="781.5" cy="198" rx="4" ry="13" fill="#fca07c" opacity="0.8" filter="url(#bl4)"/><path d="M779 256L776 340L838 340L802 260Z" fill="url(#rgB)" filter="url(#bl7)"/><ellipse cx="783" cy="293" rx="3.5" ry="24" fill="#fca582" opacity="0.5" filter="url(#bl4)"/><g stroke="#f5a080" stroke-width="0.7" fill="none" opacity="0.22"><path d="M780 203Q798 160 850 110"/><path d="M781 208Q805 175 845 145"/><path d="M780 195Q788 160 815 120"/><path d="M777 246H798"/><path d="M778 237L797 231"/><path d="M782 268Q795 298 812 328"/><path d="M781 278Q786 308 790 334"/></g></g>
<rect x="762.9" y="10.1" width="452.8" height="335.1" fill="none" stroke="#d8cbc7" stroke-width="1.4"/>
<ellipse cx="1192.6" cy="29.7" rx="10.3" ry="11.4" fill="#ff06fb"/>
<rect x="1230.3" y="12.6" width="453.2" height="333" fill="#fff4ef"/>
<g fill="none" stroke-linecap="round" filter="url(#bl1)"><path d="M1249.8 229.7H1663.2" stroke="#feede5" stroke-width="25"/><path d="M1249.8 229.7H1663.2" stroke="#fddccb" stroke-width="22.8"/><path d="M1249.8 229.7H1663.2" stroke="#fcbca2" stroke-width="20.5"/><path d="M1249.8 229.7H1663.2" stroke="#fc8e6e" stroke-width="18.3"/><path d="M1249.8 229.7H1663.2" stroke="#f4553c" stroke-width="16.2"/><path d="M1249.8 229.7H1663.2" stroke="#d9251f" stroke-width="14.4"/><path d="M1249.8 229.7H1663.2" stroke="#b51318" stroke-width="12.6"/><path d="M1249.8 229.7H1663.2" stroke="#980c13" stroke-width="9.5"/><path d="M1249.8 229.7H1663.2" stroke="#7a040f" stroke-width="6.5"/><path d="M1249.8 229.7H1663.2" stroke="#67000d" stroke-width="3.6"/><path d="M1249.8 261.1H1663.2" stroke="#feede5" stroke-width="23.6"/><path d="M1249.8 261.1H1663.2" stroke="#fddccb" stroke-width="21.4"/><path d="M1249.8 261.1H1663.2" stroke="#fcbca2" stroke-width="19.2"/><path d="M1249.8 261.1H1663.2" stroke="#fc9272" stroke-width="17"/><path d="M1249.8 261.1H1663.2" stroke="#fb7050" stroke-width="15"/><path d="M1249.8 261.1H1663.2" stroke="#ee3a2c" stroke-width="12.8"/><path d="M1249.8 261.1H1663.2" stroke="#cf1c1e" stroke-width="10.4"/><path d="M1249.8 261.1H1663.2" stroke="#ae1117" stroke-width="8"/><path d="M1249.8 261.1H1663.2" stroke="#870811" stroke-width="5.6"/><path d="M1249.8 261.1H1663.2" stroke="#5c000b" stroke-width="3.4"/><path d="M1249.8 261.1H1663.2" stroke="#3d0006" stroke-width="1.5"/></g>
<path d="M1662 223.4H1683M1662 236H1683M1662 260.9H1683" stroke="#4a2a26" stroke-width="0.8" opacity="0.8" fill="none"/>
<rect x="1230.3" y="12.6" width="453.2" height="335.4" fill="none" stroke="#bdbdbd" stroke-width="1.3"/>
<ellipse cx="1661.4" cy="33.2" rx="10.4" ry="12.1" fill="#22f6f3"/>
<rect x="1696.3" y="27.9" width="15.6" height="299.1" fill="url(#cbReds)" stroke="#c9c9c9" stroke-width="0.7"/>
<text x="1713.8" y="34.3" font-family="'DejaVu Sans','Liberation Sans',sans-serif" font-size="16.3" fill="#111">0.06</text>
<text x="1713.8" y="334" font-family="'DejaVu Sans','Liberation Sans',sans-serif" font-size="16.3" fill="#111">0.00</text>
<g font-family="'Liberation Serif','DejaVu Serif',serif" font-size="33" fill="#111"><text x="1725.5" y="185.4" font-size="35">|<tspan font-style="italic" dx="1">J</tspan><tspan dx="3.5">|</tspan></text><text x="1772.6" y="185.4" font-size="34" textLength="76.5" lengthAdjust="spacingAndGlyphs">(a.u.)</text><path d="M1737 160.6H1750.5M1746.8 156.8L1751.3 160.6L1746.8 164.2" stroke="#111" stroke-width="1.4" fill="none"/></g>
<rect x="139.75" y="489.3" width="5.41" height="479.4" fill="url(#c0)"/><rect x="143.86" y="489.3" width="5.41" height="479.4" fill="url(#c1)"/><rect x="147.98" y="489.3" width="5.41" height="479.4" fill="url(#c2)"/><rect x="152.09" y="489.3" width="5.41" height="479.4" fill="url(#c3)"/><rect x="156.21" y="489.3" width="5.41" height="479.4" fill="url(#c4)"/><rect x="160.32" y="489.3" width="5.41" height="479.4" fill="url(#c5)"/><rect x="164.43" y="489.3" width="5.41" height="479.4" fill="url(#c6)"/><rect x="168.55" y="489.3" width="5.41" height="479.4" fill="url(#c7)"/><rect x="172.66" y="489.3" width="5.41" height="479.4" fill="url(#c8)"/><rect x="176.77" y="489.3" width="5.41" height="479.4" fill="url(#c9)"/><rect x="180.89" y="489.3" width="5.41" height="479.4" fill="url(#c10)"/><rect x="185" y="489.3" width="5.41" height="479.4" fill="url(#c11)"/><rect x="189.12" y="489.3" width="5.41" height="479.4" fill="url(#c12)"/><rect x="193.23" y="489.3" width="5.41" height="479.4" fill="url(#c13)"/><rect x="197.34" y="489.3" width="5.41" height="479.4" fill="url(#c14)"/><rect x="201.46" y="489.3" width="5.41" height="479.4" fill="url(#c15)"/><rect x="205.57" y="489.3" width="5.41" height="479.4" fill="url(#c16)"/><rect x="209.69" y="489.3" width="5.41" height="479.4" fill="url(#c17)"/><rect x="213.8" y="489.3" width="5.41" height="479.4" fill="url(#c18)"/><rect x="217.91" y="489.3" width="5.41" height="479.4" fill="url(#c19)"/><rect x="222.03" y="489.3" width="5.41" height="479.4" fill="url(#c20)"/><rect x="226.14" y="489.3" width="5.41" height="479.4" fill="url(#c21)"/><rect x="230.25" y="489.3" width="5.41" height="479.4" fill="url(#c22)"/><rect x="234.37" y="489.3" width="5.41" height="479.4" fill="url(#c23)"/><rect x="238.48" y="489.3" width="5.41" height="479.4" fill="url(#c24)"/><rect x="242.6" y="489.3" width="5.41" height="479.4" fill="url(#c25)"/><rect x="246.71" y="489.3" width="5.41" height="479.4" fill="url(#c26)"/><rect x="250.82" y="489.3" width="5.41" height="479.4" fill="url(#c27)"/><rect x="254.94" y="489.3" width="5.41" height="479.4" fill="url(#c28)"/><rect x="259.05" y="489.3" width="5.41" height="479.4" fill="url(#c29)"/><rect x="263.17" y="489.3" width="5.41" height="479.4" fill="url(#c30)"/><rect x="267.28" y="489.3" width="5.41" height="479.4" fill="url(#c31)"/><rect x="271.39" y="489.3" width="5.41" height="479.4" fill="url(#c32)"/><rect x="275.51" y="489.3" width="5.41" height="479.4" fill="url(#c33)"/><rect x="279.62" y="489.3" width="5.41" height="479.4" fill="url(#c34)"/><rect x="283.73" y="489.3" width="5.41" height="479.4" fill="url(#c35)"/><rect x="287.85" y="489.3" width="5.41" height="479.4" fill="url(#c36)"/><rect x="291.96" y="489.3" width="5.41" height="479.4" fill="url(#c37)"/><rect x="296.08" y="489.3" width="5.41" height="479.4" fill="url(#c38)"/><rect x="300.19" y="489.3" width="5.41" height="479.4" fill="url(#c39)"/><rect x="304.3" y="489.3" width="5.41" height="479.4" fill="url(#c40)"/><rect x="308.42" y="489.3" width="5.41" height="479.4" fill="url(#c41)"/><rect x="312.53" y="489.3" width="5.41" height="479.4" fill="url(#c42)"/><rect x="316.65" y="489.3" width="5.41" height="479.4" fill="url(#c43)"/><rect x="320.76" y="489.3" width="5.41" height="479.4" fill="url(#c44)"/><rect x="324.87" y="489.3" width="5.41" height="479.4" fill="url(#c45)"/><rect x="328.99" y="489.3" width="5.41" height="479.4" fill="url(#c46)"/><rect x="333.1" y="489.3" width="5.41" height="479.4" fill="url(#c47)"/><rect x="337.21" y="489.3" width="5.41" height="479.4" fill="url(#c48)"/><rect x="341.33" y="489.3" width="5.41" height="479.4" fill="url(#c49)"/><rect x="345.44" y="489.3" width="5.41" height="479.4" fill="url(#c50)"/><rect x="349.56" y="489.3" width="5.41" height="479.4" fill="url(#c51)"/><rect x="353.67" y="489.3" width="5.41" height="479.4" fill="url(#c52)"/><rect x="357.78" y="489.3" width="5.41" height="479.4" fill="url(#c53)"/><rect x="361.9" y="489.3" width="5.41" height="479.4" fill="url(#c54)"/><rect x="366.01" y="489.3" width="5.41" height="479.4" fill="url(#c55)"/><rect x="370.12" y="489.3" width="5.41" height="479.4" fill="url(#c56)"/><rect x="374.24" y="489.3" width="5.41" height="479.4" fill="url(#c57)"/><rect x="378.35" y="489.3" width="5.41" height="479.4" fill="url(#c58)"/><rect x="382.47" y="489.3" width="5.41" height="479.4" fill="url(#c59)"/><rect x="386.58" y="489.3" width="5.41" height="479.4" fill="url(#c60)"/><rect x="390.69" y="489.3" width="5.41" height="479.4" fill="url(#c61)"/><rect x="394.81" y="489.3" width="5.41" height="479.4" fill="url(#c62)"/><rect x="398.92" y="489.3" width="5.41" height="479.4" fill="url(#c63)"/><rect x="403.04" y="489.3" width="5.41" height="479.4" fill="url(#c64)"/><rect x="407.15" y="489.3" width="5.41" height="479.4" fill="url(#c65)"/><rect x="411.26" y="489.3" width="5.41" height="479.4" fill="url(#c66)"/><rect x="415.38" y="489.3" width="5.41" height="479.4" fill="url(#c67)"/><rect x="419.49" y="489.3" width="5.41" height="479.4" fill="url(#c68)"/><rect x="423.6" y="489.3" width="5.41" height="479.4" fill="url(#c69)"/><rect x="427.72" y="489.3" width="5.41" height="479.4" fill="url(#c70)"/><rect x="431.83" y="489.3" width="5.41" height="479.4" fill="url(#c71)"/><rect x="435.95" y="489.3" width="5.41" height="479.4" fill="url(#c72)"/><rect x="440.06" y="489.3" width="5.41" height="479.4" fill="url(#c73)"/><rect x="444.17" y="489.3" width="5.41" height="479.4" fill="url(#c74)"/><rect x="448.29" y="489.3" width="5.41" height="479.4" fill="url(#c75)"/><rect x="452.4" y="489.3" width="5.41" height="479.4" fill="url(#c76)"/><rect x="456.52" y="489.3" width="5.41" height="479.4" fill="url(#c77)"/><rect x="460.63" y="489.3" width="5.41" height="479.4" fill="url(#c78)"/><rect x="464.74" y="489.3" width="5.41" height="479.4" fill="url(#c79)"/><rect x="468.86" y="489.3" width="5.41" height="479.4" fill="url(#c80)"/><rect x="472.97" y="489.3" width="5.41" height="479.4" fill="url(#c81)"/><rect x="477.08" y="489.3" width="5.41" height="479.4" fill="url(#c82)"/><rect x="481.2" y="489.3" width="5.41" height="479.4" fill="url(#c83)"/><rect x="485.31" y="489.3" width="5.41" height="479.4" fill="url(#c84)"/><rect x="489.43" y="489.3" width="5.41" height="479.4" fill="url(#c85)"/><rect x="493.54" y="489.3" width="5.41" height="479.4" fill="url(#c86)"/><rect x="497.65" y="489.3" width="5.41" height="479.4" fill="url(#c87)"/><rect x="501.77" y="489.3" width="5.41" height="479.4" fill="url(#c88)"/><rect x="505.88" y="489.3" width="5.41" height="479.4" fill="url(#c89)"/><rect x="510" y="489.3" width="5.41" height="479.4" fill="url(#c90)"/><rect x="514.11" y="489.3" width="5.41" height="479.4" fill="url(#c91)"/><rect x="518.22" y="489.3" width="5.41" height="479.4" fill="url(#c92)"/><rect x="522.34" y="489.3" width="5.41" height="479.4" fill="url(#c93)"/><rect x="526.45" y="489.3" width="5.41" height="479.4" fill="url(#c94)"/><rect x="530.56" y="489.3" width="5.41" height="479.4" fill="url(#c95)"/><rect x="534.68" y="489.3" width="5.41" height="479.4" fill="url(#c96)"/><rect x="538.79" y="489.3" width="5.41" height="479.4" fill="url(#c97)"/><rect x="542.91" y="489.3" width="5.41" height="479.4" fill="url(#c98)"/><rect x="547.02" y="489.3" width="5.41" height="479.4" fill="url(#c99)"/><rect x="551.13" y="489.3" width="5.41" height="479.4" fill="url(#c100)"/><rect x="555.25" y="489.3" width="5.41" height="479.4" fill="url(#c101)"/><rect x="559.36" y="489.3" width="5.41" height="479.4" fill="url(#c102)"/><rect x="563.48" y="489.3" width="5.41" height="479.4" fill="url(#c103)"/><rect x="567.59" y="489.3" width="5.41" height="479.4" fill="url(#c104)"/><rect x="571.7" y="489.3" width="5.41" height="479.4" fill="url(#c105)"/><rect x="575.82" y="489.3" width="5.41" height="479.4" fill="url(#c106)"/><rect x="579.93" y="489.3" width="5.41" height="479.4" fill="url(#c107)"/><rect x="584.04" y="489.3" width="5.41" height="479.4" fill="url(#c108)"/><rect x="588.16" y="489.3" width="5.41" height="479.4" fill="url(#c109)"/><rect x="592.27" y="489.3" width="5.41" height="479.4" fill="url(#c110)"/><rect x="596.39" y="489.3" width="4.11" height="479.4" fill="url(#c111)"/>
<rect x="1029.4" y="489.3" width="5.41" height="479.4" fill="url(#d0)"/><rect x="1033.51" y="489.3" width="5.41" height="479.4" fill="url(#d1)"/><rect x="1037.62" y="489.3" width="5.41" height="479.4" fill="url(#d2)"/><rect x="1041.73" y="489.3" width="5.41" height="479.4" fill="url(#d3)"/><rect x="1045.85" y="489.3" width="5.41" height="479.4" fill="url(#d4)"/><rect x="1049.96" y="489.3" width="5.41" height="479.4" fill="url(#d5)"/><rect x="1054.07" y="489.3" width="5.41" height="479.4" fill="url(#d6)"/><rect x="1058.18" y="489.3" width="5.41" height="479.4" fill="url(#d7)"/><rect x="1062.29" y="489.3" width="5.41" height="479.4" fill="url(#d8)"/><rect x="1066.4" y="489.3" width="5.41" height="479.4" fill="url(#d9)"/><rect x="1070.52" y="489.3" width="5.41" height="479.4" fill="url(#d10)"/><rect x="1074.63" y="489.3" width="5.41" height="479.4" fill="url(#d11)"/><rect x="1078.74" y="489.3" width="5.41" height="479.4" fill="url(#d12)"/><rect x="1082.85" y="489.3" width="5.41" height="479.4" fill="url(#d13)"/><rect x="1086.96" y="489.3" width="5.41" height="479.4" fill="url(#d14)"/><rect x="1091.07" y="489.3" width="5.41" height="479.4" fill="url(#d15)"/><rect x="1095.19" y="489.3" width="5.41" height="479.4" fill="url(#d16)"/><rect x="1099.3" y="489.3" width="5.41" height="479.4" fill="url(#d17)"/><rect x="1103.41" y="489.3" width="5.41" height="479.4" fill="url(#d18)"/><rect x="1107.52" y="489.3" width="5.41" height="479.4" fill="url(#d19)"/><rect x="1111.63" y="489.3" width="5.41" height="479.4" fill="url(#d20)"/><rect x="1115.74" y="489.3" width="5.41" height="479.4" fill="url(#d21)"/><rect x="1119.86" y="489.3" width="5.41" height="479.4" fill="url(#d22)"/><rect x="1123.97" y="489.3" width="5.41" height="479.4" fill="url(#d23)"/><rect x="1128.08" y="489.3" width="5.41" height="479.4" fill="url(#d24)"/><rect x="1132.19" y="489.3" width="5.41" height="479.4" fill="url(#d25)"/><rect x="1136.3" y="489.3" width="5.41" height="479.4" fill="url(#d26)"/><rect x="1140.41" y="489.3" width="5.41" height="479.4" fill="url(#d27)"/><rect x="1144.53" y="489.3" width="5.41" height="479.4" fill="url(#d28)"/><rect x="1148.64" y="489.3" width="5.41" height="479.4" fill="url(#d29)"/><rect x="1152.75" y="489.3" width="5.41" height="479.4" fill="url(#d30)"/><rect x="1156.86" y="489.3" width="5.41" height="479.4" fill="url(#d31)"/><rect x="1160.97" y="489.3" width="5.41" height="479.4" fill="url(#d32)"/><rect x="1165.08" y="489.3" width="5.41" height="479.4" fill="url(#d33)"/><rect x="1169.19" y="489.3" width="5.41" height="479.4" fill="url(#d34)"/><rect x="1173.31" y="489.3" width="5.41" height="479.4" fill="url(#d35)"/><rect x="1177.42" y="489.3" width="5.41" height="479.4" fill="url(#d36)"/><rect x="1181.53" y="489.3" width="5.41" height="479.4" fill="url(#d37)"/><rect x="1185.64" y="489.3" width="5.41" height="479.4" fill="url(#d38)"/><rect x="1189.75" y="489.3" width="5.41" height="479.4" fill="url(#d39)"/><rect x="1193.86" y="489.3" width="5.41" height="479.4" fill="url(#d40)"/><rect x="1197.98" y="489.3" width="5.41" height="479.4" fill="url(#d41)"/><rect x="1202.09" y="489.3" width="5.41" height="479.4" fill="url(#d42)"/><rect x="1206.2" y="489.3" width="5.41" height="479.4" fill="url(#d43)"/><rect x="1210.31" y="489.3" width="5.41" height="479.4" fill="url(#d44)"/><rect x="1214.42" y="489.3" width="5.41" height="479.4" fill="url(#d45)"/><rect x="1218.53" y="489.3" width="5.41" height="479.4" fill="url(#d46)"/><rect x="1222.65" y="489.3" width="5.41" height="479.4" fill="url(#d47)"/><rect x="1226.76" y="489.3" width="5.41" height="479.4" fill="url(#d48)"/><rect x="1230.87" y="489.3" width="5.41" height="479.4" fill="url(#d49)"/><rect x="1234.98" y="489.3" width="5.41" height="479.4" fill="url(#d50)"/><rect x="1239.09" y="489.3" width="5.41" height="479.4" fill="url(#d51)"/><rect x="1243.2" y="489.3" width="5.41" height="479.4" fill="url(#d52)"/><rect x="1247.32" y="489.3" width="5.41" height="479.4" fill="url(#d53)"/><rect x="1251.43" y="489.3" width="5.41" height="479.4" fill="url(#d54)"/><rect x="1255.54" y="489.3" width="5.41" height="479.4" fill="url(#d55)"/><rect x="1259.65" y="489.3" width="5.41" height="479.4" fill="url(#d56)"/><rect x="1263.76" y="489.3" width="5.41" height="479.4" fill="url(#d57)"/><rect x="1267.87" y="489.3" width="5.41" height="479.4" fill="url(#d58)"/><rect x="1271.98" y="489.3" width="5.41" height="479.4" fill="url(#d59)"/><rect x="1276.1" y="489.3" width="5.41" height="479.4" fill="url(#d60)"/><rect x="1280.21" y="489.3" width="5.41" height="479.4" fill="url(#d61)"/><rect x="1284.32" y="489.3" width="5.41" height="479.4" fill="url(#d62)"/><rect x="1288.43" y="489.3" width="5.41" height="479.4" fill="url(#d63)"/><rect x="1292.54" y="489.3" width="5.41" height="479.4" fill="url(#d64)"/><rect x="1296.65" y="489.3" width="5.41" height="479.4" fill="url(#d65)"/><rect x="1300.77" y="489.3" width="5.41" height="479.4" fill="url(#d66)"/><rect x="1304.88" y="489.3" width="5.41" height="479.4" fill="url(#d67)"/><rect x="1308.99" y="489.3" width="5.41" height="479.4" fill="url(#d68)"/><rect x="1313.1" y="489.3" width="5.41" height="479.4" fill="url(#d69)"/><rect x="1317.21" y="489.3" width="5.41" height="479.4" fill="url(#d70)"/><rect x="1321.32" y="489.3" width="5.41" height="479.4" fill="url(#d71)"/><rect x="1325.44" y="489.3" width="5.41" height="479.4" fill="url(#d72)"/><rect x="1329.55" y="489.3" width="5.41" height="479.4" fill="url(#d73)"/><rect x="1333.66" y="489.3" width="5.41" height="479.4" fill="url(#d74)"/><rect x="1337.77" y="489.3" width="5.41" height="479.4" fill="url(#d75)"/><rect x="1341.88" y="489.3" width="5.41" height="479.4" fill="url(#d76)"/><rect x="1345.99" y="489.3" width="5.41" height="479.4" fill="url(#d77)"/><rect x="1350.11" y="489.3" width="5.41" height="479.4" fill="url(#d78)"/><rect x="1354.22" y="489.3" width="5.41" height="479.4" fill="url(#d79)"/><rect x="1358.33" y="489.3" width="5.41" height="479.4" fill="url(#d80)"/><rect x="1362.44" y="489.3" width="5.41" height="479.4" fill="url(#d81)"/><rect x="1366.55" y="489.3" width="5.41" height="479.4" fill="url(#d82)"/><rect x="1370.66" y="489.3" width="5.41" height="479.4" fill="url(#d83)"/><rect x="1374.78" y="489.3" width="5.41" height="479.4" fill="url(#d84)"/><rect x="1378.89" y="489.3" width="5.41" height="479.4" fill="url(#d85)"/><rect x="1383" y="489.3" width="5.41" height="479.4" fill="url(#d86)"/><rect x="1387.11" y="489.3" width="5.41" height="479.4" fill="url(#d87)"/><rect x="1391.22" y="489.3" width="5.41" height="479.4" fill="url(#d88)"/><rect x="1395.33" y="489.3" width="5.41" height="479.4" fill="url(#d89)"/><rect x="1399.44" y="489.3" width="5.41" height="479.4" fill="url(#d90)"/><rect x="1403.56" y="489.3" width="5.41" height="479.4" fill="url(#d91)"/><rect x="1407.67" y="489.3" width="5.41" height="479.4" fill="url(#d92)"/><rect x="1411.78" y="489.3" width="5.41" height="479.4" fill="url(#d93)"/><rect x="1415.89" y="489.3" width="5.41" height="479.4" fill="url(#d94)"/><rect x="1420" y="489.3" width="5.41" height="479.4" fill="url(#d95)"/><rect x="1424.11" y="489.3" width="5.41" height="479.4" fill="url(#d96)"/><rect x="1428.23" y="489.3" width="5.41" height="479.4" fill="url(#d97)"/><rect x="1432.34" y="489.3" width="5.41" height="479.4" fill="url(#d98)"/><rect x="1436.45" y="489.3" width="5.41" height="479.4" fill="url(#d99)"/><rect x="1440.56" y="489.3" width="5.41" height="479.4" fill="url(#d100)"/><rect x="1444.67" y="489.3" width="5.41" height="479.4" fill="url(#d101)"/><rect x="1448.78" y="489.3" width="5.41" height="479.4" fill="url(#d102)"/><rect x="1452.9" y="489.3" width="5.41" height="479.4" fill="url(#d103)"/><rect x="1457.01" y="489.3" width="5.41" height="479.4" fill="url(#d104)"/><rect x="1461.12" y="489.3" width="5.41" height="479.4" fill="url(#d105)"/><rect x="1465.23" y="489.3" width="5.41" height="479.4" fill="url(#d106)"/><rect x="1469.34" y="489.3" width="5.41" height="479.4" fill="url(#d107)"/><rect x="1473.45" y="489.3" width="5.41" height="479.4" fill="url(#d108)"/><rect x="1477.57" y="489.3" width="5.41" height="479.4" fill="url(#d109)"/><rect x="1481.68" y="489.3" width="5.41" height="479.4" fill="url(#d110)"/><rect x="1485.79" y="489.3" width="4.11" height="479.4" fill="url(#d111)"/>
<g font-family="'DejaVu Sans','Liberation Sans',sans-serif" fill="#000"><path d="M140.2 724.5H600.5" stroke="#fff" stroke-opacity="0.9" stroke-width="2.6" stroke-dasharray="9.07 3.92" fill="none"/><circle cx="370.5" cy="545.3" r="9.2" fill="#1ff"/><circle cx="370.5" cy="799" r="9.2" fill="#f0f"/><rect x="139.8" y="489.3" width="460.8" height="479.4" fill="none" stroke="#000" stroke-width="1"/><text x="139.8" y="996.9" text-anchor="middle" font-size="25">0.0</text><text x="225" y="996.9" text-anchor="middle" font-size="25">0.1</text><text x="310.3" y="996.9" text-anchor="middle" font-size="25">0.2</text><text x="395.6" y="996.9" text-anchor="middle" font-size="25">0.3</text><text x="480.9" y="996.9" text-anchor="middle" font-size="25">0.4</text><text x="566.2" y="996.9" text-anchor="middle" font-size="25">0.5</text><text x="130.6" y="978.4" text-anchor="end" font-size="25">0.0</text><text x="130.6" y="921" text-anchor="end" font-size="25">0.5</text><text x="130.6" y="863.7" text-anchor="end" font-size="25">1.0</text><text x="130.6" y="806.3" text-anchor="end" font-size="25">1.5</text><text x="130.6" y="749" text-anchor="end" font-size="25">2.0</text><text x="130.6" y="691.6" text-anchor="end" font-size="25">2.5</text><text x="130.6" y="634.2" text-anchor="end" font-size="25">3.0</text><text x="130.6" y="576.9" text-anchor="end" font-size="25">3.5</text><text x="130.6" y="519.5" text-anchor="end" font-size="25">4.0</text><rect x="628.6" y="489.3" width="24.8" height="479.4" fill="url(#cbR)" stroke="#000" stroke-width="1"/><text x="661.8" y="978.2" font-size="25">0</text><text x="661.8" y="898.3" font-size="25">2</text><text x="661.8" y="818.4" font-size="25">4</text><text x="661.8" y="738.5" font-size="25">6</text><text x="661.8" y="658.6" font-size="25">8</text><text x="661.8" y="578.7" font-size="25">10</text><text x="661.8" y="498.8" font-size="25">12</text><path d="M139.8 968.7v4.3M225 968.7v4.3M310.3 968.7v4.3M395.6 968.7v4.3M480.9 968.7v4.3M566.2 968.7v4.3M139.8 968.7h-4.3M139.8 911.3h-4.3M139.8 854h-4.3M139.8 796.6h-4.3M139.8 739.2h-4.3M139.8 681.9h-4.3M139.8 624.5h-4.3M139.8 567.2h-4.3M139.8 509.8h-4.3M653.4 968.7h4.3M653.4 888.8h4.3M653.4 808.9h4.3M653.4 729h4.3M653.4 649.1h4.3M653.4 569.2h4.3M653.4 489.3h4.3" stroke="#000" stroke-width="1" fill="none"/><text x="343.9" y="482.2" font-size="32" font-style="oblique">G<tspan font-style="normal" font-size="22.4" dy="4.9">21</tspan></text><text x="369.6" y="1028.6" text-anchor="middle" font-size="28.5">E (eV)</text><g transform="translate(76.5 782.3) rotate(-90)"><text x="0" y="0" font-size="28.5"><tspan font-style="oblique">h</tspan><tspan font-size="20" dy="4.4">0</tspan><tspan dy="-4.4"> (nm)</tspan></text></g><g transform="translate(730.4 853) rotate(-90)"><text x="0" y="0" font-size="28">conductance (</text><text x="201.6" y="-13.8" font-size="19.6">2e<tspan font-size="13.7" dy="-7.4">2</tspan></text><path d="M200.8 -6.9H237.6" stroke="#000" stroke-width="1.3"/><text x="212.8" y="10.9" font-size="19.6" font-style="oblique">h</text><text x="239.3" y="0" font-size="28">)</text></g></g>
<g font-family="'DejaVu Sans','Liberation Sans',sans-serif" fill="#000"><path d="M1029.9 724.5H1489.9" stroke="#fff" stroke-opacity="0.9" stroke-width="2.6" stroke-dasharray="9.07 3.92" fill="none"/><rect x="1029.4" y="489.3" width="460.5" height="479.4" fill="none" stroke="#000" stroke-width="1"/><text x="1029.4" y="996.9" text-anchor="middle" font-size="25">0.0</text><text x="1114.7" y="996.9" text-anchor="middle" font-size="25">0.1</text><text x="1200" y="996.9" text-anchor="middle" font-size="25">0.2</text><text x="1285.3" y="996.9" text-anchor="middle" font-size="25">0.3</text><text x="1370.6" y="996.9" text-anchor="middle" font-size="25">0.4</text><text x="1455.9" y="996.9" text-anchor="middle" font-size="25">0.5</text><text x="1020.2" y="978.4" text-anchor="end" font-size="25">0.0</text><text x="1020.2" y="921" text-anchor="end" font-size="25">0.5</text><text x="1020.2" y="863.7" text-anchor="end" font-size="25">1.0</text><text x="1020.2" y="806.3" text-anchor="end" font-size="25">1.5</text><text x="1020.2" y="749" text-anchor="end" font-size="25">2.0</text><text x="1020.2" y="691.6" text-anchor="end" font-size="25">2.5</text><text x="1020.2" y="634.2" text-anchor="end" font-size="25">3.0</text><text x="1020.2" y="576.9" text-anchor="end" font-size="25">3.5</text><text x="1020.2" y="519.5" text-anchor="end" font-size="25">4.0</text><rect x="1518.3" y="489.3" width="24.6" height="479.4" fill="url(#cbR)" stroke="#000" stroke-width="1"/><text x="1551.3" y="978.2" font-size="25">0.00</text><text x="1551.3" y="858.4" font-size="25">0.25</text><text x="1551.3" y="738.5" font-size="25">0.50</text><text x="1551.3" y="618.7" font-size="25">0.75</text><text x="1551.3" y="498.8" font-size="25">1.00</text><path d="M1029.4 968.7v4.3M1114.7 968.7v4.3M1200 968.7v4.3M1285.3 968.7v4.3M1370.6 968.7v4.3M1455.9 968.7v4.3M1029.4 968.7h-4.3M1029.4 911.3h-4.3M1029.4 854h-4.3M1029.4 796.6h-4.3M1029.4 739.2h-4.3M1029.4 681.9h-4.3M1029.4 624.5h-4.3M1029.4 567.2h-4.3M1029.4 509.8h-4.3M1542.9 968.7h4.3M1542.9 848.9h4.3M1542.9 729h4.3M1542.9 609.2h4.3M1542.9 489.3h4.3" stroke="#000" stroke-width="1" fill="none"/><text x="1233.5" y="482.2" font-size="32" font-style="oblique">G<tspan font-style="normal" font-size="22.4" dy="4.9">41</tspan></text><text x="1259.2" y="1028.6" text-anchor="middle" font-size="28.5">E (eV)</text><g transform="translate(966.2 782.3) rotate(-90)"><text x="0" y="0" font-size="28.5"><tspan font-style="oblique">h</tspan><tspan font-size="20" dy="4.4">0</tspan><tspan dy="-4.4"> (nm)</tspan></text></g><g transform="translate(1645.8 853) rotate(-90)"><text x="0" y="0" font-size="28">conductance (</text><text x="201.6" y="-13.8" font-size="19.6">2e<tspan font-size="13.7" dy="-7.4">2</tspan></text><path d="M200.8 -6.9H237.6" stroke="#000" stroke-width="1.3"/><text x="212.8" y="10.9" font-size="19.6" font-style="oblique">h</text><text x="239.3" y="0" font-size="28">)</text></g></g>
</svg></body></html>
